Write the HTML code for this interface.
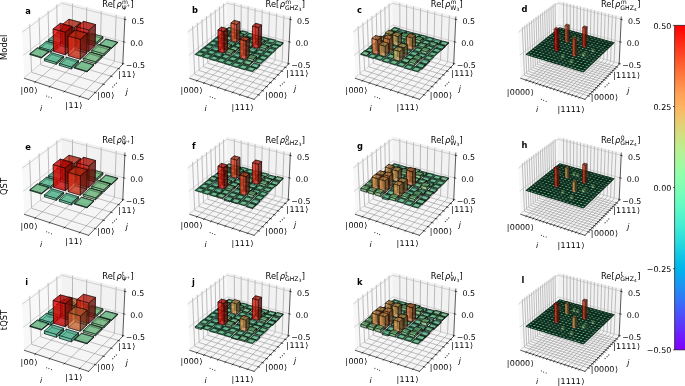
<!DOCTYPE html>
<html><head><meta charset="utf-8"><title>Density matrix tomography</title>
<style>html,body{margin:0;padding:0;background:#fff;overflow:hidden}.b{fill-opacity:0.55;stroke:#000;stroke-opacity:0.9;stroke-linejoin:round}.t,.u{stroke:#0b2a1c;fill-opacity:0.86;stroke-opacity:0.85;stroke-width:1.70}.u{stroke:#082418;stroke-width:1.39;stroke-opacity:0.95;fill-opacity:0.9}.s{stroke-width:1.01}svg{display:block;font-family:"DejaVu Sans","Liberation Sans",sans-serif}</style>
</head><body>
<svg  width="685" height="386" viewBox="0 0 864.00 486.86">
<defs>
<style type="text/css">*{stroke-linejoin: round; stroke-linecap: butt}</style>
</defs>
<g id="figure_1">
<g id="patch_1">
<path d="M 0 486.86 L 864.00 486.86 L 864.00 0 L 0 0 z" style="fill: #ffffff"/>
</g>
<g id="pane3d_1">
<g id="patch_2">
<path d="M 30.76 98.81 L 78.41 58.87 L 77.74 1.26 L 27.81 37.70 " style="fill: #f2f2f2; opacity: 0.5; stroke: #f2f2f2; stroke-linejoin: miter"/>
</g>
</g>
<g id="pane3d_2">
<g id="patch_3">
<path d="M 78.41 58.87 L 154.87 81.09 L 157.60 21.51 L 77.74 1.26 " style="fill: #e6e6e6; opacity: 0.5; stroke: #e6e6e6; stroke-linejoin: miter"/>
</g>
</g>
<g id="pane3d_3">
<g id="patch_4">
<path d="M 30.76 98.81 L 111.81 125.28 L 154.87 81.09 L 78.41 58.87 " style="fill: #ececec; opacity: 0.5; stroke: #ececec; stroke-linejoin: miter"/>
</g>
</g>
<g id="grid3d_1">
<g id="Line3DCollection_1">
<path d="M 44.61 103.33 L 91.52 62.68 L 91.42 4.73 " style="fill: none; stroke: #999999; stroke-width: 0.8"/>
<path d="M 62.81 109.28 L 108.73 67.68 L 109.37 9.28 " style="fill: none; stroke: #999999; stroke-width: 0.8"/>
<path d="M 81.46 115.37 L 126.32 72.79 L 127.74 13.94 " style="fill: none; stroke: #999999; stroke-width: 0.8"/>
<path d="M 100.57 121.61 L 144.30 78.02 L 146.54 18.70 " style="fill: none; stroke: #999999; stroke-width: 0.8"/>
</g>
</g>
<g id="grid3d_2">
<g id="Line3DCollection_2">
<path d="M 37.40 30.71 L 39.87 91.17 L 120.08 116.80 " style="fill: none; stroke: #999999; stroke-width: 0.8"/>
<path d="M 49.27 22.04 L 51.19 81.68 L 130.32 106.28 " style="fill: none; stroke: #999999; stroke-width: 0.8"/>
<path d="M 60.67 13.72 L 62.07 72.56 L 140.15 96.20 " style="fill: none; stroke: #999999; stroke-width: 0.8"/>
<path d="M 71.62 5.73 L 72.54 63.78 L 149.59 86.51 " style="fill: none; stroke: #999999; stroke-width: 0.8"/>
</g>
</g>
<g id="grid3d_3">
<g id="Line3DCollection_3">
<path d="M 154.92 79.95 L 78.39 57.76 L 30.70 97.64 " style="fill: none; stroke: #bdbdbd; stroke-width: 0.8"/>
<path d="M 156.17 52.78 L 78.09 31.47 L 29.36 69.80 " style="fill: none; stroke: #bdbdbd; stroke-width: 0.8"/>
<path d="M 157.46 24.49 L 77.78 4.14 L 27.96 40.77 " style="fill: none; stroke: #bdbdbd; stroke-width: 0.8"/>
</g>
</g>
<g id="axis3d_1">
<g id="line2d_1">
<path d="M 30.76 98.81 L 111.81 125.28 " style="fill: none; stroke: #000000; stroke-width: 0.8; stroke-linecap: square"/>
</g>
<g id="xtick_1">
<g id="line2d_2">
<path d="M 45.01 102.98 L 43.79 104.04 " style="fill: none; stroke: #000000; stroke-width: 0.8; stroke-linecap: square"/>
</g>
</g>
<g id="xtick_2">
<g id="line2d_3">
<path d="M 63.21 108.92 L 62.01 110.01 " style="fill: none; stroke: #000000; stroke-width: 0.8; stroke-linecap: square"/>
</g>
</g>
<g id="xtick_3">
<g id="line2d_4">
<path d="M 81.85 115.00 L 80.67 116.11 " style="fill: none; stroke: #000000; stroke-width: 0.8; stroke-linecap: square"/>
</g>
</g>
<g id="xtick_4">
<g id="line2d_5">
<path d="M 100.95 121.23 L 99.80 122.37 " style="fill: none; stroke: #000000; stroke-width: 0.8; stroke-linecap: square"/>
</g>
</g>
</g>
<g id="axis3d_2">
<g id="line2d_6">
<path d="M 154.87 81.09 L 111.81 125.28 " style="fill: none; stroke: #000000; stroke-width: 0.8; stroke-linecap: square"/>
</g>
<g id="xtick_5">
<g id="line2d_7">
<path d="M 119.40 116.58 L 121.43 117.23 " style="fill: none; stroke: #000000; stroke-width: 0.8; stroke-linecap: square"/>
</g>
</g>
<g id="xtick_6">
<g id="line2d_8">
<path d="M 129.66 106.08 L 131.66 106.70 " style="fill: none; stroke: #000000; stroke-width: 0.8; stroke-linecap: square"/>
</g>
</g>
<g id="xtick_7">
<g id="line2d_9">
<path d="M 139.50 96.00 L 141.47 96.59 " style="fill: none; stroke: #000000; stroke-width: 0.8; stroke-linecap: square"/>
</g>
</g>
<g id="xtick_8">
<g id="line2d_10">
<path d="M 148.95 86.32 L 150.89 86.89 " style="fill: none; stroke: #000000; stroke-width: 0.8; stroke-linecap: square"/>
</g>
</g>
</g>
<g id="axis3d_3">
<g id="line2d_11">
<path d="M 154.87 81.09 L 157.60 21.51 " style="fill: none; stroke: #000000; stroke-width: 0.8; stroke-linecap: square"/>
</g>
<g id="xtick_9">
<g id="line2d_12">
<path d="M 154.28 79.76 L 156.21 80.32 " style="fill: none; stroke: #000000; stroke-width: 0.8; stroke-linecap: square"/>
</g>
<g id="text_1">
<text style="font-size: 10px; font-family: 'DejaVu Sans'; text-anchor: middle" x="170.78" y="85.29">−0.5</text>
</g>
</g>
<g id="xtick_10">
<g id="line2d_13">
<path d="M 155.51 52.60 L 157.48 53.14 " style="fill: none; stroke: #000000; stroke-width: 0.8; stroke-linecap: square"/>
</g>
<g id="text_2">
<text style="font-size: 10px; font-family: 'DejaVu Sans'; text-anchor: middle" x="172.34" y="58.21">0.0</text>
</g>
</g>
<g id="xtick_11">
<g id="line2d_14">
<path d="M 156.79 24.32 L 158.80 24.83 " style="fill: none; stroke: #000000; stroke-width: 0.8; stroke-linecap: square"/>
</g>
<g id="text_3">
<text style="font-size: 10px; font-family: 'DejaVu Sans'; text-anchor: middle" x="173.96" y="30.01">0.5</text>
</g>
</g>
</g>
<g id="axes_1">
<g class="b" stroke-width="0.63"><path d="M80 35 93.9 38.9 93.9 38.2 80 34.4z" fill="#386a49"/><path d="M71.6 41.7 80 35 80 34.4 71.6 41z" fill="#77e19c"/><path d="M71.6 41.7 85.7 45.6 93.9 38.9 80 35z" fill="#48885e"/><path d="M71.6 41 85.7 45 93.9 38.2 80 34.4z" fill="#67c387"/><path d="M97.4 39.8 111.7 43.7 111.7 41.5 97.4 37.6z" fill="#3e6946"/><path d="M85.7 45.6 93.9 38.9 93.9 38.2 85.7 45z" fill="#386a49"/><path d="M89.2 46.6 97.4 39.8 97.4 37.6 89.2 44.4z" fill="#83df95"/><path d="M71.6 41.7 85.7 45.6 85.7 45 71.6 41z" fill="#77e19c"/><path d="M69.5 45.6 83.6 49.6 83.6 47.4 69.5 43.4z" fill="#2c6950"/><path d="M89.2 46.6 103.6 50.7 111.7 43.7 97.4 39.8z" fill="#4f875a"/><path d="M89.2 44.4 103.6 48.5 111.7 41.5 97.4 37.6z" fill="#72c281"/><path d="M60.8 52.5 69.5 45.6 69.5 43.4 60.8 50.3z" fill="#5edfa9"/><path d="M115.3 44.7 129.8 48.7 129.9 46.2 115.3 42.3z" fill="#3f6946"/><path d="M103.6 50.7 111.7 43.7 111.7 41.5 103.6 48.5z" fill="#3e6946"/><path d="M60.8 52.5 75 56.7 83.6 49.6 69.5 45.6z" fill="#398766"/><path d="M107.2 51.7 115.3 44.7 115.3 42.3 107.3 49.2z" fill="#85df94"/><path d="M60.8 50.3 75 54.4 83.6 47.4 69.5 43.4z" fill="#52c293"/><path d="M89.2 46.6 103.6 50.7 103.6 48.5 89.2 44.4z" fill="#83df95"/><path d="M107.2 51.7 122 55.8 129.8 48.7 115.3 44.7z" fill="#508759"/><path d="M75 56.7 83.6 49.6 83.6 47.4 75 54.4z" fill="#2c6950"/><path d="M107.3 49.2 122 53.3 129.9 46.2 115.3 42.3z" fill="#73c280"/><path d="M133.5 49.7 148.4 53.8 148.4 53.2 133.5 49.1z" fill="#386a49"/><path d="M60.8 52.5 75 56.7 75 54.4 60.8 50.3z" fill="#5edfa9"/><path d="M122 55.8 129.8 48.7 129.9 46.2 122 53.3z" fill="#3f6946"/><path d="M125.7 56.9 133.5 49.7 133.5 49.1 125.7 56.2z" fill="#77e19c"/><path d="M58.6 54.3 72.9 58.5 72.8 56.2 58.6 52.1z" fill="#2c6950"/><path d="M78.6 55.5 93.2 59.7 101.6 52.5 87.1 48.4z" fill="#881c0e"/><path d="M107.2 51.7 122 55.8 122 53.3 107.3 49.2z" fill="#85df94"/><path d="M87.1 48.4 101.6 52.5 101.7 28.2 87 24.3z" fill="#6a160b"/><path d="M49.6 61.6 58.6 54.3 58.6 52.1 49.5 59.3z" fill="#5edfa9"/><path d="M125.7 56.9 140.7 61.1 148.4 53.8 133.5 49.7z" fill="#48885e"/><path d="M125.7 56.2 140.8 60.4 148.4 53.2 133.5 49.1z" fill="#67c387"/><path d="M78.6 55.5 87.1 48.4 87 24.3 78.3 31.1z" fill="#e12f18"/><path d="M49.6 61.6 64 65.9 72.9 58.5 58.6 54.3z" fill="#398766"/><path d="M140.7 61.1 148.4 53.8 148.4 53.2 140.8 60.4z" fill="#386a49"/><path d="M49.5 59.3 63.9 63.6 72.8 56.2 58.6 52.1z" fill="#52c293"/><path d="M125.7 56.9 140.7 61.1 140.8 60.4 125.7 56.2z" fill="#77e19c"/><path d="M96.9 60.7 111.8 65.1 120 57.6 105.2 53.5z" fill="#880c06"/><path d="M64 65.9 72.9 58.5 72.8 56.2 63.9 63.6z" fill="#2c6950"/><path d="M105.2 53.5 120 57.6 120.5 30.9 105.4 26.9z" fill="#6a0905"/><path d="M93.2 59.7 101.6 52.5 101.7 28.2 93.2 35.2z" fill="#6a160b"/><path d="M49.6 61.6 64 65.9 63.9 63.6 49.5 59.3z" fill="#5edfa9"/><path d="M123.7 58.7 138.8 63 138.9 60.4 123.8 56.2z" fill="#3f6946"/><path d="M96.9 60.7 105.2 53.5 105.4 26.9 96.9 33.9z" fill="#e1130a"/><path d="M78.6 55.5 93.2 59.7 93.2 35.2 78.3 31.1z" fill="#e12f18"/><path d="M78.3 31.1 93.2 35.2 101.7 28.2 87 24.3z" fill="#c42914"/><path d="M115.6 66.1 123.7 58.7 123.8 56.2 115.6 63.6z" fill="#85df94"/><path d="M67.6 64.7 82.3 69.1 91 61.5 76.4 57.3z" fill="#880302"/><path d="M47.2 61.2 61.6 65.5 61.6 64.6 47.1 60.3z" fill="#386a49"/><path d="M76.4 57.3 91 61.5 91 33.4 76.1 29.4z" fill="#6a0301"/><path d="M115.6 66.1 130.9 70.5 138.8 63 123.7 58.7z" fill="#508759"/><path d="M37.7 68.7 47.2 61.2 47.1 60.3 37.7 67.8z" fill="#77e19c"/><path d="M115.6 63.6 130.9 68 138.9 60.4 123.8 56.2z" fill="#73c280"/><path d="M67.6 64.7 76.4 57.3 76.1 29.4 67 36.5z" fill="#e10603"/><path d="M111.8 65.1 120 57.6 120.5 30.9 112.2 38z" fill="#6a0905"/><path d="M37.7 68.7 52.3 73.1 61.6 65.5 47.2 61.2z" fill="#48885e"/><path d="M130.9 70.5 138.8 63 138.9 60.4 130.9 68z" fill="#3f6946"/><path d="M37.7 67.8 52.3 72.3 61.6 64.6 47.1 60.3z" fill="#67c387"/><path d="M96.9 60.7 111.8 65.1 112.2 38 96.9 33.9z" fill="#e1130a"/><path d="M96.9 33.9 112.2 38 120.5 30.9 105.4 26.9z" fill="#c41108"/><path d="M65.3 68.8 80.1 73.3 80.1 71 65.3 66.6z" fill="#2c6950"/><path d="M86.1 70.2 101.2 74.7 109.7 66.9 94.7 62.6z" fill="#881c0e"/><path d="M115.6 66.1 130.9 70.5 130.9 68 115.6 63.6z" fill="#85df94"/><path d="M94.7 62.6 109.7 66.9 110 42.1 94.8 38z" fill="#6a160b"/><path d="M52.3 73.1 61.6 65.5 61.6 64.6 52.3 72.3z" fill="#386a49"/><path d="M56.1 76.6 65.3 68.8 65.3 66.6 56 74.3z" fill="#5edfa9"/><path d="M82.3 69.1 91 61.5 91 33.4 82.1 40.6z" fill="#6a0301"/><path d="M86.1 70.2 94.7 62.6 94.8 38 85.9 45.3z" fill="#e12f18"/><path d="M113.5 68 128.8 72.5 128.9 70.2 113.5 65.8z" fill="#3e6946"/><path d="M37.7 68.7 52.3 73.1 52.3 72.3 37.7 67.8z" fill="#77e19c"/><path d="M67.6 64.7 82.3 69.1 82.1 40.6 67 36.5z" fill="#e10603"/><path d="M56.1 76.6 71 81.1 80.1 73.3 65.3 68.8z" fill="#398766"/><path d="M105 75.8 113.5 68 113.5 65.8 105 73.5z" fill="#83df95"/><path d="M67 36.5 82.1 40.6 91 33.4 76.1 29.4z" fill="#c40502"/><path d="M56 74.3 71 78.8 80.1 71 65.3 66.6z" fill="#52c293"/><path d="M83.9 74.4 99 78.9 99 76.6 83.8 72.1z" fill="#2c6950"/><path d="M105 75.8 120.5 80.4 128.8 72.5 113.5 68z" fill="#4f875a"/><path d="M71 81.1 80.1 73.3 80.1 71 71 78.8z" fill="#2c6950"/><path d="M105 73.5 120.6 78.1 128.9 70.2 113.5 65.8z" fill="#72c281"/><path d="M101.2 74.7 109.7 66.9 110 42.1 101.3 49.6z" fill="#6a160b"/><path d="M74.8 82.3 83.9 74.4 83.8 72.1 74.8 80z" fill="#5edfa9"/><path d="M56.1 76.6 71 81.1 71 78.8 56 74.3z" fill="#5edfa9"/><path d="M86.1 70.2 101.2 74.7 101.3 49.6 85.9 45.3z" fill="#e12f18"/><path d="M120.5 80.4 128.8 72.5 128.9 70.2 120.6 78.1z" fill="#3e6946"/><path d="M85.9 45.3 101.3 49.6 110 42.1 94.8 38z" fill="#c42914"/><path d="M74.8 82.3 90.1 87 99 78.9 83.9 74.4z" fill="#398766"/><path d="M74.8 80 90.1 84.7 99 76.6 83.8 72.1z" fill="#52c293"/><path d="M105 75.8 120.5 80.4 120.6 78.1 105 73.5z" fill="#83df95"/><path d="M102.9 77.8 118.4 82.4 118.4 81.7 102.9 77.1z" fill="#386a49"/><path d="M90.1 87 99 78.9 99 76.6 90.1 84.7z" fill="#2c6950"/><path d="M74.8 82.3 90.1 87 90.1 84.7 74.8 80z" fill="#5edfa9"/><path d="M94 85.9 102.9 77.8 102.9 77.1 94 85.2z" fill="#77e19c"/><path d="M94 85.9 109.8 90.7 118.4 82.4 102.9 77.8z" fill="#48885e"/><path d="M94 85.2 109.8 90 118.4 81.7 102.9 77.1z" fill="#67c387"/><path d="M109.8 90.7 118.4 82.4 118.4 81.7 109.8 90z" fill="#386a49"/><path d="M94 85.9 109.8 90.7 109.8 90 94 85.2z" fill="#77e19c"/></g>
</g>
<g id="pane3d_4">
<g id="patch_5">
<path d="M 239.44 98.81 L 287.09 58.87 L 286.43 1.26 L 236.50 37.70 " style="fill: #f2f2f2; opacity: 0.5; stroke: #f2f2f2; stroke-linejoin: miter"/>
</g>
</g>
<g id="pane3d_5">
<g id="patch_6">
<path d="M 287.09 58.87 L 363.56 81.09 L 366.28 21.51 L 286.43 1.26 " style="fill: #e6e6e6; opacity: 0.5; stroke: #e6e6e6; stroke-linejoin: miter"/>
</g>
</g>
<g id="pane3d_6">
<g id="patch_7">
<path d="M 239.44 98.81 L 320.50 125.28 L 363.56 81.09 L 287.09 58.87 " style="fill: #ececec; opacity: 0.5; stroke: #ececec; stroke-linejoin: miter"/>
</g>
</g>
<g id="grid3d_4">
<g id="Line3DCollection_4">
<path d="M 248.69 101.83 L 295.85 61.41 L 295.56 3.58 " style="fill: none; stroke: #999999; stroke-width: 0.8"/>
<path d="M 257.45 104.69 L 304.14 63.82 L 304.21 5.77 " style="fill: none; stroke: #999999; stroke-width: 0.8"/>
<path d="M 266.32 107.59 L 312.52 66.26 L 312.95 7.99 " style="fill: none; stroke: #999999; stroke-width: 0.8"/>
<path d="M 275.28 110.52 L 320.99 68.72 L 321.79 10.23 " style="fill: none; stroke: #999999; stroke-width: 0.8"/>
<path d="M 284.36 113.48 L 329.55 71.21 L 330.73 12.49 " style="fill: none; stroke: #999999; stroke-width: 0.8"/>
<path d="M 293.54 116.48 L 338.20 73.72 L 339.77 14.78 " style="fill: none; stroke: #999999; stroke-width: 0.8"/>
<path d="M 302.83 119.51 L 346.95 76.27 L 348.91 17.10 " style="fill: none; stroke: #999999; stroke-width: 0.8"/>
<path d="M 312.23 122.58 L 355.79 78.84 L 358.16 19.45 " style="fill: none; stroke: #999999; stroke-width: 0.8"/>
</g>
</g>
<g id="grid3d_5">
<g id="Line3DCollection_5">
<path d="M 242.95 32.99 L 245.58 93.66 L 326.07 119.57 " style="fill: none; stroke: #999999; stroke-width: 0.8"/>
<path d="M 248.87 28.68 L 251.21 88.95 L 331.17 114.33 " style="fill: none; stroke: #999999; stroke-width: 0.8"/>
<path d="M 254.66 24.45 L 256.73 84.32 L 336.16 109.20 " style="fill: none; stroke: #999999; stroke-width: 0.8"/>
<path d="M 260.34 20.31 L 262.15 79.78 L 341.06 104.18 " style="fill: none; stroke: #999999; stroke-width: 0.8"/>
<path d="M 265.90 16.25 L 267.46 75.33 L 345.86 99.26 " style="fill: none; stroke: #999999; stroke-width: 0.8"/>
<path d="M 271.36 12.26 L 272.67 70.96 L 350.56 94.43 " style="fill: none; stroke: #999999; stroke-width: 0.8"/>
<path d="M 276.71 8.36 L 277.78 66.67 L 355.17 89.69 " style="fill: none; stroke: #999999; stroke-width: 0.8"/>
<path d="M 281.95 4.53 L 282.81 62.46 L 359.70 85.05 " style="fill: none; stroke: #999999; stroke-width: 0.8"/>
</g>
</g>
<g id="grid3d_6">
<g id="Line3DCollection_6">
<path d="M 363.61 79.95 L 287.08 57.76 L 239.39 97.64 " style="fill: none; stroke: #bdbdbd; stroke-width: 0.8"/>
<path d="M 364.85 52.78 L 286.78 31.47 L 238.04 69.80 " style="fill: none; stroke: #bdbdbd; stroke-width: 0.8"/>
<path d="M 366.15 24.49 L 286.46 4.14 L 236.65 40.77 " style="fill: none; stroke: #bdbdbd; stroke-width: 0.8"/>
</g>
</g>
<g id="axis3d_4">
<g id="line2d_15">
<path d="M 239.44 98.81 L 320.50 125.28 " style="fill: none; stroke: #000000; stroke-width: 0.8; stroke-linecap: square"/>
</g>
<g id="xtick_12">
<g id="line2d_16">
<path d="M 249.10 101.48 L 247.87 102.54 " style="fill: none; stroke: #000000; stroke-width: 0.8; stroke-linecap: square"/>
</g>
</g>
<g id="xtick_13">
<g id="line2d_17">
<path d="M 257.86 104.34 L 256.64 105.41 " style="fill: none; stroke: #000000; stroke-width: 0.8; stroke-linecap: square"/>
</g>
</g>
<g id="xtick_14">
<g id="line2d_18">
<path d="M 266.72 107.23 L 265.51 108.31 " style="fill: none; stroke: #000000; stroke-width: 0.8; stroke-linecap: square"/>
</g>
</g>
<g id="xtick_15">
<g id="line2d_19">
<path d="M 275.68 110.15 L 274.48 111.25 " style="fill: none; stroke: #000000; stroke-width: 0.8; stroke-linecap: square"/>
</g>
</g>
<g id="xtick_16">
<g id="line2d_20">
<path d="M 284.75 113.11 L 283.57 114.22 " style="fill: none; stroke: #000000; stroke-width: 0.8; stroke-linecap: square"/>
</g>
</g>
<g id="xtick_17">
<g id="line2d_21">
<path d="M 293.93 116.11 L 292.76 117.23 " style="fill: none; stroke: #000000; stroke-width: 0.8; stroke-linecap: square"/>
</g>
</g>
<g id="xtick_18">
<g id="line2d_22">
<path d="M 303.22 119.14 L 302.06 120.27 " style="fill: none; stroke: #000000; stroke-width: 0.8; stroke-linecap: square"/>
</g>
</g>
<g id="xtick_19">
<g id="line2d_23">
<path d="M 312.61 122.20 L 311.47 123.35 " style="fill: none; stroke: #000000; stroke-width: 0.8; stroke-linecap: square"/>
</g>
</g>
</g>
<g id="axis3d_5">
<g id="line2d_24">
<path d="M 363.56 81.09 L 320.50 125.28 " style="fill: none; stroke: #000000; stroke-width: 0.8; stroke-linecap: square"/>
</g>
<g id="xtick_20">
<g id="line2d_25">
<path d="M 325.39 119.35 L 327.42 120.00 " style="fill: none; stroke: #000000; stroke-width: 0.8; stroke-linecap: square"/>
</g>
</g>
<g id="xtick_21">
<g id="line2d_26">
<path d="M 330.49 114.12 L 332.51 114.76 " style="fill: none; stroke: #000000; stroke-width: 0.8; stroke-linecap: square"/>
</g>
</g>
<g id="xtick_22">
<g id="line2d_27">
<path d="M 335.49 108.99 L 337.50 109.62 " style="fill: none; stroke: #000000; stroke-width: 0.8; stroke-linecap: square"/>
</g>
</g>
<g id="xtick_23">
<g id="line2d_28">
<path d="M 340.40 103.97 L 342.39 104.59 " style="fill: none; stroke: #000000; stroke-width: 0.8; stroke-linecap: square"/>
</g>
</g>
<g id="xtick_24">
<g id="line2d_29">
<path d="M 345.20 99.05 L 347.18 99.66 " style="fill: none; stroke: #000000; stroke-width: 0.8; stroke-linecap: square"/>
</g>
</g>
<g id="xtick_25">
<g id="line2d_30">
<path d="M 349.91 94.23 L 351.87 94.82 " style="fill: none; stroke: #000000; stroke-width: 0.8; stroke-linecap: square"/>
</g>
</g>
<g id="xtick_26">
<g id="line2d_31">
<path d="M 354.52 89.50 L 356.48 90.08 " style="fill: none; stroke: #000000; stroke-width: 0.8; stroke-linecap: square"/>
</g>
</g>
<g id="xtick_27">
<g id="line2d_32">
<path d="M 359.05 84.86 L 360.99 85.43 " style="fill: none; stroke: #000000; stroke-width: 0.8; stroke-linecap: square"/>
</g>
</g>
</g>
<g id="axis3d_6">
<g id="line2d_33">
<path d="M 363.56 81.09 L 366.28 21.51 " style="fill: none; stroke: #000000; stroke-width: 0.8; stroke-linecap: square"/>
</g>
<g id="xtick_28">
<g id="line2d_34">
<path d="M 362.97 79.76 L 364.89 80.32 " style="fill: none; stroke: #000000; stroke-width: 0.8; stroke-linecap: square"/>
</g>
<g id="text_4">
<text style="font-size: 10px; font-family: 'DejaVu Sans'; text-anchor: middle" x="379.46" y="85.29">−0.5</text>
</g>
</g>
<g id="xtick_29">
<g id="line2d_35">
<path d="M 364.20 52.60 L 366.17 53.14 " style="fill: none; stroke: #000000; stroke-width: 0.8; stroke-linecap: square"/>
</g>
<g id="text_5">
<text style="font-size: 10px; font-family: 'DejaVu Sans'; text-anchor: middle" x="381.02" y="58.21">0.0</text>
</g>
</g>
<g id="xtick_30">
<g id="line2d_36">
<path d="M 365.48 24.32 L 367.49 24.83 " style="fill: none; stroke: #000000; stroke-width: 0.8; stroke-linecap: square"/>
</g>
<g id="text_6">
<text style="font-size: 10px; font-family: 'DejaVu Sans'; text-anchor: middle" x="382.65" y="30.01">0.5</text>
</g>
</g>
</g>
<g id="axes_2">
<g class="b" stroke-width="0.63"><path d="M284.6 37.8 291.4 39.7 295.4 36.4 288.7 34.6z" fill="#5cb17b" class="t"/><path d="M297.1 38.4 303.9 40.3 303.9 39.2 297.1 37.4z" fill="#316a4e"/><path d="M293.1 41.7 297.1 38.4 297.1 37.4 293.1 40.6z" fill="#67e1a5"/><path d="M293.1 41.7 300 43.6 303.9 40.3 297.1 38.4z" fill="#3e8863"/><path d="M293.1 40.6 300 42.5 303.9 39.2 297.1 37.4z" fill="#59c38f"/><path d="M300 43.6 303.9 40.3 303.9 39.2 300 42.5z" fill="#316a4e"/><path d="M293.1 41.7 300 43.6 300 42.5 293.1 40.6z" fill="#67e1a5"/><path d="M279.5 42.4 286.3 44.3 290.4 41 283.6 39.1z" fill="#56b17e" class="t"/><path d="M301.7 42.3 308.6 44.3 312.6 40.9 305.7 39.1z" fill="#5db17a" class="t"/><path d="M292.1 41.4 299 43.3 299 42.6 292.1 40.7z" fill="#386a49"/><path d="M288 44.8 292.1 41.4 292.1 40.7 288 44z" fill="#77e19c"/><path d="M288 44.8 294.9 46.7 299 43.3 292.1 41.4z" fill="#48885e"/><path d="M288 44 294.9 45.9 299 42.6 292.1 40.7z" fill="#67c387"/><path d="M310.4 45.4 317.4 47.4 321.3 44 314.3 42.1z" fill="#55b17f" class="t"/><path d="M294.9 46.7 299 43.3 299 42.6 294.9 45.9z" fill="#386a49"/><path d="M300.7 43.8 307.6 45.8 307.6 43 300.7 41.1z" fill="#406945"/><path d="M274.2 46.5 281.1 48.5 285.3 45.1 278.4 43.2z" fill="#56b17e" class="t"/><path d="M288 44.8 294.9 46.7 294.9 45.9 288 44z" fill="#77e19c"/><path d="M296.7 47.2 300.7 43.8 300.7 41.1 296.6 44.4z" fill="#87df93"/><path d="M296.7 47.2 303.6 49.1 307.6 45.8 300.7 43.8z" fill="#518658"/><path d="M309.4 47.3 316.4 49.2 316.4 48.2 309.4 46.2z" fill="#316a4d"/><path d="M319.1 47.8 326.2 49.8 330.1 46.4 323 44.4z" fill="#59b17d" class="t"/><path d="M296.6 44.4 303.6 46.4 307.6 43 300.7 41.1z" fill="#75c17f"/><path d="M305.4 50.7 309.4 47.3 309.4 46.2 305.4 49.6z" fill="#69e1a4"/><path d="M303.6 49.1 307.6 45.8 307.6 43 303.6 46.4z" fill="#406945"/><path d="M282.8 49 289.8 51 293.9 47.5 287 45.6z" fill="#56b17e" class="t"/><path d="M305.4 50.7 312.4 52.7 316.4 49.2 309.4 47.3z" fill="#3f8863"/><path d="M296.7 47.2 303.6 49.1 303.6 46.4 296.6 44.4z" fill="#87df93"/><path d="M305.4 49.6 312.4 51.6 316.4 48.2 309.4 46.2z" fill="#5bc38e"/><path d="M328 50.3 335.2 52.3 339 48.9 331.8 46.9z" fill="#58b17e" class="t"/><path d="M312.4 52.7 316.4 49.2 316.4 48.2 312.4 51.6z" fill="#316a4d"/><path d="M268.9 50.8 275.8 52.8 280.1 49.3 273.2 47.4z" fill="#55b17f" class="t"/><path d="M305.4 50.7 312.4 52.7 312.4 51.6 305.4 49.6z" fill="#69e1a4"/><path d="M291.5 51.5 298.5 53.5 302.6 50 295.6 48z" fill="#882915"/><path d="M314.2 52.1 321.3 54.1 325.3 50.7 318.2 48.7z" fill="#58b17e" class="t"/><path d="M337 52.5 344.2 54.5 348 51 340.8 49z" fill="#5bb17c" class="t"/><path d="M327 51.2 334.2 53.2 334.3 50.9 327.1 48.9z" fill="#3e6946"/><path d="M277.5 53.3 284.5 55.3 288.7 51.8 281.8 49.8z" fill="#56b17e" class="t"/><path d="M295.6 48 302.6 50 302.6 27.6 295.5 25.7z" fill="#6a2010"/><path d="M349.7 52.7 357 54.8 357.1 53.8 349.8 51.8z" fill="#316a4d"/><path d="M290.5 54 297.5 56 297.5 54.3 290.5 52.3z" fill="#2f6a4f"/><path d="M300.3 53.9 307.4 55.9 311.4 52.4 304.4 50.4z" fill="#59b17d" class="t"/><path d="M323.1 54.6 327 51.2 327.1 48.9 323.2 52.4z" fill="#83df95"/><path d="M291.5 51.5 295.6 48 295.5 25.7 291.3 29z" fill="#e14423"/><path d="M346 56.2 349.7 52.7 349.8 51.8 346 55.3z" fill="#69e1a4"/><path d="M313.2 54.7 320.3 56.7 320.4 55 313.2 53z" fill="#2f6a4f"/><path d="M286.3 57.5 290.5 54 290.5 52.3 286.3 55.8z" fill="#63e0a6"/><path d="M323.1 54.6 330.4 56.7 334.2 53.2 327 51.2z" fill="#4f875a"/><path d="M346 56.2 353.3 58.3 357 54.8 349.7 52.7z" fill="#3f8863"/><path d="M263.4 55.1 270.4 57.2 274.7 53.7 267.8 51.7z" fill="#56b17e" class="t"/><path d="M309.2 58.2 313.2 54.7 313.2 53 309.2 56.5z" fill="#63e0a6"/><path d="M286.3 57.5 293.4 59.5 297.5 56 290.5 54z" fill="#3c8765"/><path d="M346 55.3 353.4 57.3 357.1 53.8 349.8 51.8z" fill="#5bc38e"/><path d="M323.2 52.4 330.4 54.4 334.3 50.9 327.1 48.9z" fill="#72c281"/><path d="M286.3 55.8 293.3 57.9 297.5 54.3 290.5 52.3z" fill="#56c390"/><path d="M309.2 58.2 316.4 60.2 320.3 56.7 313.2 54.7z" fill="#3c8765"/><path d="M330.4 56.7 334.2 53.2 334.3 50.9 330.4 54.4z" fill="#3e6946"/><path d="M298.5 53.5 302.6 50 302.6 27.6 298.5 30.9z" fill="#6a2010"/><path d="M353.3 58.3 357 54.8 357.1 53.8 353.4 57.3z" fill="#316a4d"/><path d="M309.2 56.5 316.4 58.5 320.4 55 313.2 53z" fill="#56c390"/><path d="M293.4 59.5 297.5 56 297.5 54.3 293.3 57.9z" fill="#2f6a4f"/><path d="M323.1 54.6 330.4 56.7 330.4 54.4 323.2 52.4z" fill="#83df95"/><path d="M291.5 51.5 298.5 53.5 298.5 30.9 291.3 29z" fill="#e14423"/><path d="M346 56.2 353.3 58.3 353.4 57.3 346 55.3z" fill="#69e1a4"/><path d="M332.2 57.2 339.5 59.2 343.3 55.7 336 53.7z" fill="#58b17e" class="t"/><path d="M316.4 60.2 320.3 56.7 320.4 55 316.4 58.5z" fill="#2f6a4f"/><path d="M286.3 57.5 293.4 59.5 293.3 57.9 286.3 55.8z" fill="#63e0a6"/><path d="M272.1 57.6 279.2 59.7 283.5 56.1 276.5 54.1z" fill="#59b17d" class="t"/><path d="M309.2 58.2 316.4 60.2 316.4 58.5 309.2 56.5z" fill="#63e0a6"/><path d="M295.1 58.4 302.3 60.4 306.4 56.9 299.3 54.8z" fill="#56b17e" class="t"/><path d="M291.3 29 298.5 30.9 302.6 27.6 295.5 25.7z" fill="#c43b1e"/><path d="M285.2 56.7 292.3 58.7 292.3 56.5 285.2 54.5z" fill="#3e6946"/><path d="M318.2 59.1 325.4 61.1 329.4 57.6 322.2 55.5z" fill="#881108"/><path d="M257.9 59.6 264.9 61.6 269.3 58.1 262.3 56z" fill="#55b17f" class="t"/><path d="M280.9 60.3 285.2 56.7 285.2 54.5 280.9 58z" fill="#83df95"/><path d="M341.3 59.4 348.7 61.5 352.5 57.9 345.1 55.9z" fill="#5bb17c" class="t"/><path d="M271.1 60.2 278.1 62.3 278.1 60.6 271 58.6z" fill="#2f6a4f"/><path d="M331.2 58.1 338.5 60.1 338.6 57.9 331.2 55.8z" fill="#3e6946"/><path d="M280.9 60.3 288 62.3 292.3 58.7 285.2 56.7z" fill="#4f875a"/><path d="M266.7 63.8 271.1 60.2 271 58.6 266.6 62.2z" fill="#63e0a6"/><path d="M304.1 60.9 311.3 63 315.4 59.4 308.2 57.4z" fill="#58b17e" class="t"/><path d="M327.3 61.6 331.2 58.1 331.2 55.8 327.3 59.4z" fill="#83df95"/><path d="M280.9 58 288 60.1 292.3 56.5 285.2 54.5z" fill="#72c281"/><path d="M294.1 59.3 301.2 61.3 301.2 60.2 294.1 58.1z" fill="#3a6a49"/><path d="M317.2 61.6 324.4 63.7 324.4 62 317.2 59.9z" fill="#2f6a4f"/><path d="M322.2 55.5 329.4 57.6 329.9 31.4 322.5 29.4z" fill="#6a0d07"/><path d="M266.7 63.8 273.7 65.9 278.1 62.3 271.1 60.2z" fill="#3c8765"/><path d="M327.3 61.6 334.6 63.7 338.5 60.1 331.2 58.1z" fill="#4f875a"/><path d="M288 62.3 292.3 58.7 292.3 56.5 288 60.1z" fill="#3e6946"/><path d="M289.8 62.9 294.1 59.3 294.1 58.1 289.8 61.7z" fill="#7ae19a"/><path d="M266.6 62.2 273.7 64.3 278.1 60.6 271 58.6z" fill="#56c390"/><path d="M313.1 65.2 317.2 61.6 317.2 59.9 313.1 63.6z" fill="#63e0a6"/><path d="M318.2 59.1 322.2 55.5 322.5 29.4 318.5 32.8z" fill="#e11c0e"/><path d="M327.3 59.4 334.7 61.5 338.6 57.9 331.2 55.8z" fill="#72c281"/><path d="M280.9 60.3 288 62.3 288 60.1 280.9 58z" fill="#83df95"/><path d="M289.8 62.9 297 65 301.2 61.3 294.1 59.3z" fill="#4a885d"/><path d="M273.7 65.9 278.1 62.3 278.1 60.6 273.7 64.3z" fill="#2f6a4f"/><path d="M313.1 65.2 320.4 67.4 324.4 63.7 317.2 61.6z" fill="#3c8765"/><path d="M334.6 63.7 338.5 60.1 338.6 57.9 334.7 61.5z" fill="#3e6946"/><path d="M289.8 61.7 297 63.8 301.2 60.2 294.1 58.1z" fill="#6ac385"/><path d="M313.1 63.6 320.4 65.7 324.4 62 317.2 59.9z" fill="#56c390"/><path d="M266.7 63.8 273.7 65.9 273.7 64.3 266.6 62.2z" fill="#63e0a6"/><path d="M327.3 61.6 334.6 63.7 334.7 61.5 327.3 59.4z" fill="#83df95"/><path d="M252.2 64.1 259.2 66.2 263.8 62.5 256.7 60.5z" fill="#58b17e" class="t"/><path d="M297 65 301.2 61.3 301.2 60.2 297 63.8z" fill="#3a6a49"/><path d="M336.5 64.3 343.9 66.4 347.7 62.7 340.3 60.6z" fill="#58b17e" class="t"/><path d="M320.4 67.4 324.4 63.7 324.4 62 320.4 65.7z" fill="#2f6a4f"/><path d="M325.4 61.1 329.4 57.6 329.9 31.4 325.9 34.8z" fill="#6a0d07"/><path d="M275.5 64.8 282.6 66.9 287 63.2 279.9 61.2z" fill="#880c06"/><path d="M289.8 62.9 297 65 297 63.8 289.8 61.7z" fill="#7ae19a"/><path d="M313.1 65.2 320.4 67.4 320.4 65.7 313.1 63.6z" fill="#63e0a6"/><path d="M318.2 59.1 325.4 61.1 325.9 34.8 318.5 32.8z" fill="#e11c0e"/><path d="M298.8 65.5 306.1 67.6 310.3 63.9 303 61.9z" fill="#56b17e" class="t"/><path d="M288.8 63.8 296 65.9 296 63.6 288.7 61.5z" fill="#3e6946"/><path d="M322.3 66.2 329.7 68.3 333.6 64.7 326.3 62.6z" fill="#58b17e" class="t"/><path d="M261 66.7 268.1 68.9 272.6 65.2 265.5 63.1z" fill="#55b17f" class="t"/><path d="M284.4 67.4 288.8 63.8 288.7 61.5 284.4 65.2z" fill="#83df95"/><path d="M274.4 67.4 281.6 69.5 281.5 67.8 274.4 65.7z" fill="#2f6a4f"/><path d="M284.4 67.4 291.7 69.6 296 65.9 288.8 63.8z" fill="#4f875a"/><path d="M279.9 61.2 287 63.2 286.7 36.2 279.4 34.2z" fill="#6a0905"/><path d="M318.5 32.8 325.9 34.8 329.9 31.4 322.5 29.4z" fill="#c4180c"/><path d="M297.8 68.1 305.1 70.3 305.1 68.6 297.8 66.4z" fill="#2f6a4f"/><path d="M270 71.1 274.4 67.4 274.4 65.7 269.9 69.4z" fill="#63e0a6"/><path d="M307.9 68.1 315.3 70.2 319.4 66.5 312.1 64.4z" fill="#59b17d" class="t"/><path d="M284.4 65.2 291.7 67.3 296 63.6 288.7 61.5z" fill="#72c281"/><path d="M275.5 64.8 279.9 61.2 279.4 34.2 274.9 37.7z" fill="#e1130a"/><path d="M246.4 68.7 253.5 70.8 258.1 67.1 251.1 65z" fill="#59b17d" class="t"/><path d="M293.5 71.8 297.8 68.1 297.8 66.4 293.5 70.1z" fill="#63e0a6"/><path d="M321.2 68.2 328.6 70.4 328.7 69.3 321.3 67.1z" fill="#316a4d"/><path d="M270 71.1 277.2 73.3 281.6 69.5 274.4 67.4z" fill="#3c8765"/><path d="M331.5 68.8 339 71 342.9 67.3 335.5 65.1z" fill="#59b17d" class="t"/><path d="M291.7 69.6 296 65.9 296 63.6 291.7 67.3z" fill="#3e6946"/><path d="M269.9 69.4 277.1 71.6 281.5 67.8 274.4 65.7z" fill="#56c390"/><path d="M293.5 71.8 300.8 74 305.1 70.3 297.8 68.1z" fill="#3c8765"/><path d="M317.2 71.9 321.2 68.2 321.3 67.1 317.2 70.9z" fill="#69e1a4"/><path d="M284.4 67.4 291.7 69.6 291.7 67.3 284.4 65.2z" fill="#83df95"/><path d="M293.5 70.1 300.8 72.3 305.1 68.6 297.8 66.4z" fill="#56c390"/><path d="M277.2 73.3 281.6 69.5 281.5 67.8 277.1 71.6z" fill="#2f6a4f"/><path d="M282.6 66.9 287 63.2 286.7 36.2 282.2 39.8z" fill="#6a0905"/><path d="M317.2 71.9 324.6 74.1 328.6 70.4 321.2 68.2z" fill="#3f8863"/><path d="M317.2 70.9 324.6 73 328.7 69.3 321.3 67.1z" fill="#5bc38e"/><path d="M300.8 74 305.1 70.3 305.1 68.6 300.8 72.3z" fill="#2f6a4f"/><path d="M270 71.1 277.2 73.3 277.1 71.6 269.9 69.4z" fill="#63e0a6"/><path d="M275.5 64.8 282.6 66.9 282.2 39.8 274.9 37.7z" fill="#e1130a"/><path d="M255.3 71.4 262.4 73.6 267 69.8 259.9 67.7z" fill="#58b17e" class="t"/><path d="M293.5 71.8 300.8 74 300.8 72.3 293.5 70.1z" fill="#63e0a6"/><path d="M324.6 74.1 328.6 70.4 328.7 69.3 324.6 73z" fill="#316a4d"/><path d="M278.9 72.1 286.2 74.2 290.6 70.5 283.3 68.3z" fill="#59b17d" class="t"/><path d="M317.2 71.9 324.6 74.1 324.6 73 317.2 70.9z" fill="#69e1a4"/><path d="M302.7 72.9 310.1 75.1 314.3 71.3 306.9 69.1z" fill="#882915"/><path d="M326.5 73.6 334 75.8 338 72 330.5 69.8z" fill="#55b17f" class="t"/><path d="M274.9 37.7 282.2 39.8 286.7 36.2 279.4 34.2z" fill="#c41108"/><path d="M264.2 74.1 271.5 76.3 276 72.5 268.8 70.3z" fill="#55b17f" class="t"/><path d="M316.1 71.8 323.6 74 323.6 71.1 316.2 68.9z" fill="#406945"/><path d="M288.1 74.9 295.4 77.1 299.8 73.3 292.4 71.1z" fill="#56b17e" class="t"/><path d="M306.9 69.1 314.3 71.3 314.5 48.1 307 46z" fill="#6a2010"/><path d="M312 75.6 316.1 71.8 316.2 68.9 312 72.7z" fill="#87df93"/><path d="M312 75.6 319.5 77.8 323.6 74 316.1 71.8z" fill="#518658"/><path d="M302.7 72.9 306.9 69.1 307 46 302.7 49.6z" fill="#e14423"/><path d="M312 72.7 319.5 75 323.6 71.1 316.2 68.9z" fill="#75c17f"/><path d="M273.3 76.9 280.7 79.1 285.1 75.3 277.8 73.1z" fill="#56b17e" class="t"/><path d="M319.5 77.8 323.6 74 323.6 71.1 319.5 75z" fill="#406945"/><path d="M297.3 77.6 304.8 79.9 309 76 301.6 73.8z" fill="#56b17e" class="t"/><path d="M310.1 75.1 314.3 71.3 314.5 48.1 310.2 51.7z" fill="#6a2010"/><path d="M312 75.6 319.5 77.8 319.5 75 312 72.7z" fill="#87df93"/><path d="M310.9 76.6 318.4 78.8 318.4 78 310.9 75.8z" fill="#386a49"/><path d="M321.4 77.7 329 80 333 76.1 325.5 73.9z" fill="#5db17a" class="t"/><path d="M302.7 72.9 310.1 75.1 310.2 51.7 302.7 49.6z" fill="#e14423"/><path d="M306.6 80.5 310.9 76.6 310.9 75.8 306.6 79.7z" fill="#77e19c"/><path d="M282.5 79.7 289.9 82 294.3 78.1 287 75.8z" fill="#55b17f" class="t"/><path d="M306.6 80.5 314.2 82.7 318.4 78.8 310.9 76.6z" fill="#48885e"/><path d="M306.6 79.7 314.2 81.9 318.4 78 310.9 75.8z" fill="#67c387"/><path d="M302.7 49.6 310.2 51.7 314.5 48.1 307 46z" fill="#c43b1e"/><path d="M320.3 80.5 327.9 82.8 327.9 81.6 320.3 79.4z" fill="#316a4e"/><path d="M314.2 82.7 318.4 78.8 318.4 78 314.2 81.9z" fill="#386a49"/><path d="M316.1 84.5 320.3 80.5 320.3 79.4 316.1 83.3z" fill="#67e1a5"/><path d="M291.8 82.5 299.3 84.8 303.7 80.9 296.2 78.6z" fill="#56b17e" class="t"/><path d="M306.6 80.5 314.2 82.7 314.2 81.9 306.6 79.7z" fill="#77e19c"/><path d="M316.1 84.5 323.7 86.8 327.9 82.8 320.3 80.5z" fill="#3e8863"/><path d="M316.1 83.3 323.7 85.6 327.9 81.6 320.3 79.4z" fill="#59c38f"/><path d="M323.7 86.8 327.9 82.8 327.9 81.6 323.7 85.6z" fill="#316a4e"/><path d="M316.1 84.5 323.7 86.8 323.7 85.6 316.1 83.3z" fill="#67e1a5"/><path d="M301.2 85.4 308.8 87.7 313.1 83.7 305.6 81.4z" fill="#56b17e" class="t"/><path d="M310.7 87.8 318.4 90.1 322.7 86.1 315 83.8z" fill="#5cb17b" class="t"/></g>
</g>
<g id="pane3d_7">
<g id="patch_8">
<path d="M 448.13 98.81 L 495.78 58.87 L 495.12 1.26 L 445.18 37.70 " style="fill: #f2f2f2; opacity: 0.5; stroke: #f2f2f2; stroke-linejoin: miter"/>
</g>
</g>
<g id="pane3d_8">
<g id="patch_9">
<path d="M 495.78 58.87 L 572.24 81.09 L 574.97 21.51 L 495.12 1.26 " style="fill: #e6e6e6; opacity: 0.5; stroke: #e6e6e6; stroke-linejoin: miter"/>
</g>
</g>
<g id="pane3d_9">
<g id="patch_10">
<path d="M 448.13 98.81 L 529.18 125.28 L 572.24 81.09 L 495.78 58.87 " style="fill: #ececec; opacity: 0.5; stroke: #ececec; stroke-linejoin: miter"/>
</g>
</g>
<g id="grid3d_7">
<g id="Line3DCollection_7">
<path d="M 457.38 101.83 L 504.54 61.41 L 504.25 3.58 " style="fill: none; stroke: #999999; stroke-width: 0.8"/>
<path d="M 466.14 104.69 L 512.83 63.82 L 512.89 5.77 " style="fill: none; stroke: #999999; stroke-width: 0.8"/>
<path d="M 475.00 107.59 L 521.21 66.26 L 521.63 7.99 " style="fill: none; stroke: #999999; stroke-width: 0.8"/>
<path d="M 483.97 110.52 L 529.67 68.72 L 530.47 10.23 " style="fill: none; stroke: #999999; stroke-width: 0.8"/>
<path d="M 493.04 113.48 L 538.23 71.21 L 539.41 12.49 " style="fill: none; stroke: #999999; stroke-width: 0.8"/>
<path d="M 502.22 116.48 L 546.89 73.72 L 548.45 14.78 " style="fill: none; stroke: #999999; stroke-width: 0.8"/>
<path d="M 511.52 119.51 L 555.63 76.27 L 557.60 17.10 " style="fill: none; stroke: #999999; stroke-width: 0.8"/>
<path d="M 520.92 122.58 L 564.48 78.84 L 566.85 19.45 " style="fill: none; stroke: #999999; stroke-width: 0.8"/>
</g>
</g>
<g id="grid3d_8">
<g id="Line3DCollection_8">
<path d="M 451.64 32.99 L 454.27 93.66 L 534.75 119.57 " style="fill: none; stroke: #999999; stroke-width: 0.8"/>
<path d="M 457.55 28.68 L 459.90 88.95 L 539.85 114.33 " style="fill: none; stroke: #999999; stroke-width: 0.8"/>
<path d="M 463.34 24.45 L 465.42 84.32 L 544.85 109.20 " style="fill: none; stroke: #999999; stroke-width: 0.8"/>
<path d="M 469.02 20.31 L 470.83 79.78 L 549.74 104.18 " style="fill: none; stroke: #999999; stroke-width: 0.8"/>
<path d="M 474.59 16.25 L 476.14 75.33 L 554.54 99.26 " style="fill: none; stroke: #999999; stroke-width: 0.8"/>
<path d="M 480.04 12.26 L 481.35 70.96 L 559.25 94.43 " style="fill: none; stroke: #999999; stroke-width: 0.8"/>
<path d="M 485.39 8.36 L 486.47 66.67 L 563.86 89.69 " style="fill: none; stroke: #999999; stroke-width: 0.8"/>
<path d="M 490.64 4.53 L 491.49 62.46 L 568.38 85.05 " style="fill: none; stroke: #999999; stroke-width: 0.8"/>
</g>
</g>
<g id="grid3d_9">
<g id="Line3DCollection_9">
<path d="M 572.29 79.95 L 495.77 57.76 L 448.07 97.64 " style="fill: none; stroke: #bdbdbd; stroke-width: 0.8"/>
<path d="M 573.54 52.78 L 495.46 31.47 L 446.73 69.80 " style="fill: none; stroke: #bdbdbd; stroke-width: 0.8"/>
<path d="M 574.83 24.49 L 495.15 4.14 L 445.33 40.77 " style="fill: none; stroke: #bdbdbd; stroke-width: 0.8"/>
</g>
</g>
<g id="axis3d_7">
<g id="line2d_37">
<path d="M 448.13 98.81 L 529.18 125.28 " style="fill: none; stroke: #000000; stroke-width: 0.8; stroke-linecap: square"/>
</g>
<g id="xtick_31">
<g id="line2d_38">
<path d="M 457.79 101.48 L 456.56 102.54 " style="fill: none; stroke: #000000; stroke-width: 0.8; stroke-linecap: square"/>
</g>
</g>
<g id="xtick_32">
<g id="line2d_39">
<path d="M 466.55 104.34 L 465.32 105.41 " style="fill: none; stroke: #000000; stroke-width: 0.8; stroke-linecap: square"/>
</g>
</g>
<g id="xtick_33">
<g id="line2d_40">
<path d="M 475.40 107.23 L 474.19 108.31 " style="fill: none; stroke: #000000; stroke-width: 0.8; stroke-linecap: square"/>
</g>
</g>
<g id="xtick_34">
<g id="line2d_41">
<path d="M 484.37 110.15 L 483.17 111.25 " style="fill: none; stroke: #000000; stroke-width: 0.8; stroke-linecap: square"/>
</g>
</g>
<g id="xtick_35">
<g id="line2d_42">
<path d="M 493.44 113.11 L 492.25 114.22 " style="fill: none; stroke: #000000; stroke-width: 0.8; stroke-linecap: square"/>
</g>
</g>
<g id="xtick_36">
<g id="line2d_43">
<path d="M 502.61 116.11 L 501.44 117.23 " style="fill: none; stroke: #000000; stroke-width: 0.8; stroke-linecap: square"/>
</g>
</g>
<g id="xtick_37">
<g id="line2d_44">
<path d="M 511.90 119.14 L 510.74 120.27 " style="fill: none; stroke: #000000; stroke-width: 0.8; stroke-linecap: square"/>
</g>
</g>
<g id="xtick_38">
<g id="line2d_45">
<path d="M 521.30 122.20 L 520.16 123.35 " style="fill: none; stroke: #000000; stroke-width: 0.8; stroke-linecap: square"/>
</g>
</g>
</g>
<g id="axis3d_8">
<g id="line2d_46">
<path d="M 572.24 81.09 L 529.18 125.28 " style="fill: none; stroke: #000000; stroke-width: 0.8; stroke-linecap: square"/>
</g>
<g id="xtick_39">
<g id="line2d_47">
<path d="M 534.07 119.35 L 536.11 120.00 " style="fill: none; stroke: #000000; stroke-width: 0.8; stroke-linecap: square"/>
</g>
</g>
<g id="xtick_40">
<g id="line2d_48">
<path d="M 539.18 114.12 L 541.20 114.76 " style="fill: none; stroke: #000000; stroke-width: 0.8; stroke-linecap: square"/>
</g>
</g>
<g id="xtick_41">
<g id="line2d_49">
<path d="M 544.18 108.99 L 546.19 109.62 " style="fill: none; stroke: #000000; stroke-width: 0.8; stroke-linecap: square"/>
</g>
</g>
<g id="xtick_42">
<g id="line2d_50">
<path d="M 549.08 103.97 L 551.07 104.59 " style="fill: none; stroke: #000000; stroke-width: 0.8; stroke-linecap: square"/>
</g>
</g>
<g id="xtick_43">
<g id="line2d_51">
<path d="M 553.88 99.05 L 555.86 99.66 " style="fill: none; stroke: #000000; stroke-width: 0.8; stroke-linecap: square"/>
</g>
</g>
<g id="xtick_44">
<g id="line2d_52">
<path d="M 558.59 94.23 L 560.56 94.82 " style="fill: none; stroke: #000000; stroke-width: 0.8; stroke-linecap: square"/>
</g>
</g>
<g id="xtick_45">
<g id="line2d_53">
<path d="M 563.21 89.50 L 565.16 90.08 " style="fill: none; stroke: #000000; stroke-width: 0.8; stroke-linecap: square"/>
</g>
</g>
<g id="xtick_46">
<g id="line2d_54">
<path d="M 567.74 84.86 L 569.68 85.43 " style="fill: none; stroke: #000000; stroke-width: 0.8; stroke-linecap: square"/>
</g>
</g>
</g>
<g id="axis3d_9">
<g id="line2d_55">
<path d="M 572.24 81.09 L 574.97 21.51 " style="fill: none; stroke: #000000; stroke-width: 0.8; stroke-linecap: square"/>
</g>
<g id="xtick_47">
<g id="line2d_56">
<path d="M 571.65 79.76 L 573.58 80.32 " style="fill: none; stroke: #000000; stroke-width: 0.8; stroke-linecap: square"/>
</g>
<g id="text_7">
<text style="font-size: 10px; font-family: 'DejaVu Sans'; text-anchor: middle" x="588.15" y="85.29">−0.5</text>
</g>
</g>
<g id="xtick_48">
<g id="line2d_57">
<path d="M 572.88 52.60 L 574.85 53.14 " style="fill: none; stroke: #000000; stroke-width: 0.8; stroke-linecap: square"/>
</g>
<g id="text_8">
<text style="font-size: 10px; font-family: 'DejaVu Sans'; text-anchor: middle" x="589.71" y="58.21">0.0</text>
</g>
</g>
<g id="xtick_49">
<g id="line2d_58">
<path d="M 574.16 24.32 L 576.18 24.83 " style="fill: none; stroke: #000000; stroke-width: 0.8; stroke-linecap: square"/>
</g>
<g id="text_9">
<text style="font-size: 10px; font-family: 'DejaVu Sans'; text-anchor: middle" x="591.33" y="30.01">0.5</text>
</g>
</g>
</g>
<g id="axes_3">
<g class="b" stroke-width="0.63"><path d="M493.3 37.9 500.1 39.8 504.1 36.6 497.4 34.7z" fill="#5bb17c" class="t"/><path d="M505.8 38.7 512.6 40.6 512.6 39.2 505.8 37.4z" fill="#306a4e"/><path d="M501.8 42 505.8 38.7 505.8 37.4 501.8 40.6z" fill="#65e1a6"/><path d="M501.8 42 508.7 43.9 512.6 40.6 505.8 38.7z" fill="#3d8864"/><path d="M501.8 40.6 508.7 42.5 512.6 39.2 505.8 37.4z" fill="#58c390"/><path d="M514.3 40.9 521.2 42.8 521.2 41.6 514.3 39.7z" fill="#316a4e"/><path d="M508.7 43.9 512.6 40.6 512.6 39.2 508.7 42.5z" fill="#306a4e"/><path d="M510.4 44.2 514.3 40.9 514.3 39.7 510.4 43z" fill="#67e1a5"/><path d="M501.8 42 508.7 43.9 508.7 42.5 501.8 40.6z" fill="#65e1a6"/><path d="M488.2 42.4 495 44.3 499.1 41 492.3 39.1z" fill="#56b17e" class="t"/><path d="M510.4 44.2 517.3 46.1 521.2 42.8 514.3 40.9z" fill="#3e8863"/><path d="M510.4 43 517.3 44.9 521.2 41.6 514.3 39.7z" fill="#59c38f"/><path d="M500.8 41.4 507.7 43.3 507.7 40.9 500.8 39z" fill="#3f6946"/><path d="M517.3 46.1 521.2 42.8 521.2 41.6 517.3 44.9z" fill="#316a4e"/><path d="M496.7 44.8 500.8 41.4 500.8 39 496.7 42.3z" fill="#85df94"/><path d="M510.4 44.2 517.3 46.1 517.3 44.9 510.4 43z" fill="#67e1a5"/><path d="M496.7 44.8 503.6 46.7 507.7 43.3 500.8 41.4z" fill="#508759"/><path d="M519.1 45.4 526.1 47.4 529.9 44 523 42.1z" fill="#58b17e" class="t"/><path d="M496.7 42.3 503.6 44.2 507.7 40.9 500.8 39z" fill="#73c280"/><path d="M509.4 43.8 516.3 45.8 516.3 43.3 509.4 41.4z" fill="#3f6946"/><path d="M503.6 46.7 507.7 43.3 507.7 40.9 503.6 44.2z" fill="#3f6946"/><path d="M505.3 47.2 509.4 43.8 509.4 41.4 505.3 44.7z" fill="#85df94"/><path d="M482.9 46 489.8 48 494 44.6 487.1 42.7z" fill="#5cb17b" class="t"/><path d="M496.7 44.8 503.6 46.7 503.6 44.2 496.7 42.3z" fill="#85df94"/><path d="M505.3 47.2 512.3 49.1 516.3 45.8 509.4 43.8z" fill="#508759"/><path d="M495.7 45.6 502.6 47.5 502.6 46.8 495.7 44.9z" fill="#386a49"/><path d="M527.8 47.6 534.9 49.6 538.8 46.2 531.7 44.3z" fill="#59b17d" class="t"/><path d="M505.3 44.7 512.3 46.7 516.3 43.3 509.4 41.4z" fill="#73c280"/><path d="M491.5 49 495.7 45.6 495.7 44.9 491.5 48.3z" fill="#77e19c"/><path d="M512.3 49.1 516.3 45.8 516.3 43.3 512.3 46.7z" fill="#3f6946"/><path d="M491.5 49 498.5 51 502.6 47.5 495.7 45.6z" fill="#48885e"/><path d="M491.5 48.3 498.5 50.3 502.6 46.8 495.7 44.9z" fill="#67c387"/><path d="M505.3 47.2 512.3 49.1 512.3 46.7 505.3 44.7z" fill="#85df94"/><path d="M514.1 49.6 521.1 51.6 525.1 48.2 518.1 46.2z" fill="#55b17f" class="t"/><path d="M498.5 51 502.6 47.5 502.6 46.8 498.5 50.3z" fill="#386a49"/><path d="M536.7 50.3 543.9 52.3 547.6 48.9 540.5 46.9z" fill="#55b17f" class="t"/><path d="M491.5 49 498.5 51 498.5 50.3 491.5 48.3z" fill="#77e19c"/><path d="M526.8 48.7 533.9 50.7 534 47.9 526.9 45.9z" fill="#406945"/><path d="M549.4 50.7 556.6 52.6 556.7 51.3 549.4 49.3z" fill="#306a4e"/><path d="M477.6 50.5 484.5 52.5 488.7 49 481.9 47.1z" fill="#5bb17c" class="t"/><path d="M500.2 51.5 507.2 53.5 511.3 50 504.3 48z" fill="#58b17e" class="t"/><path d="M522.9 52.1 526.8 48.7 526.9 45.9 522.9 49.3z" fill="#87df93"/><path d="M545.6 54.1 549.4 50.7 549.4 49.3 545.7 52.8z" fill="#65e1a6"/><path d="M513.1 51.6 520.1 53.6 520.1 52.5 513.1 50.5z" fill="#316a4e"/><path d="M522.9 52.1 530 54.1 533.9 50.7 526.8 48.7z" fill="#518658"/><path d="M545.6 54.1 552.9 56.1 556.6 52.6 549.4 50.7z" fill="#3d8864"/><path d="M509 55.1 513.1 51.6 513.1 50.5 509 54z" fill="#67e1a5"/><path d="M545.7 52.8 552.9 54.8 556.7 51.3 549.4 49.3z" fill="#58c390"/><path d="M522.9 49.3 530.1 51.3 534 47.9 526.9 45.9z" fill="#75c17f"/><path d="M486.2 53.3 493.2 55.3 497.4 51.8 490.5 49.8z" fill="#7d6c3c"/><path d="M558.4 52.6 565.7 54.6 565.8 53.8 558.5 51.8z" fill="#326a4d"/><path d="M490.5 49.8 497.4 51.8 497.3 40.1 490.3 38.1z" fill="#62542f"/><path d="M530 54.1 533.9 50.7 534 47.9 530.1 51.3z" fill="#406945"/><path d="M552.9 56.1 556.6 52.6 556.7 51.3 552.9 54.8z" fill="#306a4e"/><path d="M509 55.1 516.1 57.1 520.1 53.6 513.1 51.6z" fill="#3e8863"/><path d="M509 54 516.1 56 520.1 52.5 513.1 50.5z" fill="#59c38f"/><path d="M554.7 56 558.4 52.6 558.5 51.8 554.7 55.3z" fill="#6ae1a3"/><path d="M486.2 53.3 490.5 49.8 490.3 38.1 486 41.5z" fill="#cfb263"/><path d="M522.9 52.1 530 54.1 530.1 51.3 522.9 49.3z" fill="#87df93"/><path d="M545.6 54.1 552.9 56.1 552.9 54.8 545.7 52.8z" fill="#65e1a6"/><path d="M531.8 54.2 539.1 56.2 542.9 52.7 535.7 50.7z" fill="#5cb17b" class="t"/><path d="M516.1 57.1 520.1 53.6 520.1 52.5 516.1 56z" fill="#316a4e"/><path d="M554.7 56 562 58.1 565.7 54.6 558.4 52.6z" fill="#408862"/><path d="M472.1 54.9 479.1 57 483.4 53.4 476.5 51.4z" fill="#59b17d" class="t"/><path d="M554.7 55.3 562.1 57.3 565.8 53.8 558.5 51.8z" fill="#5cc38d"/><path d="M509 55.1 516.1 57.1 516.1 56 509 54z" fill="#67e1a5"/><path d="M544.7 53.7 552 55.7 552 54.3 544.7 52.3z" fill="#3b6a48"/><path d="M495 55.8 502 57.9 506.2 54.3 499.2 52.3z" fill="#7d6c3c"/><path d="M499.2 52.3 506.2 54.3 506.2 42.6 499.1 40.6z" fill="#62542f"/><path d="M562 58.1 565.7 54.6 565.8 53.8 562.1 57.3z" fill="#326a4d"/><path d="M493.2 55.3 497.4 51.8 497.3 40.1 493.1 43.5z" fill="#62542f"/><path d="M540.9 57.2 544.7 53.7 544.7 52.3 540.9 55.8z" fill="#7ce199"/><path d="M517.9 56.5 525.1 58.5 529 55 521.9 53z" fill="#59b17d" class="t"/><path d="M495 55.8 499.2 52.3 499.1 40.6 494.8 44z" fill="#cfb263"/><path d="M554.7 56 562 58.1 562.1 57.3 554.7 55.3z" fill="#6ae1a3"/><path d="M486.2 53.3 493.2 55.3 493.1 43.5 486 41.5z" fill="#cfb263"/><path d="M486 41.5 493.1 43.5 497.3 40.1 490.3 38.1z" fill="#b49b56"/><path d="M540.9 57.2 548.2 59.2 552 55.7 544.7 53.7z" fill="#4b885c"/><path d="M530.8 55.5 538.1 57.6 538.1 55.9 530.9 53.8z" fill="#3b6a48"/><path d="M540.9 55.8 548.2 57.8 552 54.3 544.7 52.3z" fill="#6cc385"/><path d="M553.8 57.5 561.1 59.6 561.1 58.2 553.8 56.2z" fill="#306a4e"/><path d="M480.8 57.3 487.8 59.4 492.1 55.8 485.1 53.8z" fill="#5bb17c" class="t"/><path d="M526.9 59.1 530.8 55.5 530.9 53.8 526.9 57.4z" fill="#7ee098"/><path d="M503.8 58.4 511 60.4 515.1 56.9 508 54.8z" fill="#56b17e" class="t"/><path d="M548.2 59.2 552 55.7 552 54.3 548.2 57.8z" fill="#3b6a48"/><path d="M550 61.1 553.8 57.5 553.8 56.2 550 59.7z" fill="#65e1a6"/><path d="M502 57.9 506.2 54.3 506.2 42.6 501.9 46z" fill="#62542f"/><path d="M526.9 59.1 534.1 61.1 538.1 57.6 530.8 55.5z" fill="#4c875c"/><path d="M540.9 57.2 548.2 59.2 548.2 57.8 540.9 55.8z" fill="#7ce199"/><path d="M550 61.1 557.3 63.1 561.1 59.6 553.8 57.5z" fill="#3d8864"/><path d="M495 55.8 502 57.9 501.9 46 494.8 44z" fill="#cfb263"/><path d="M526.9 57.4 534.2 59.4 538.1 55.9 530.9 53.8z" fill="#6dc384"/><path d="M494.8 44 501.9 46 506.2 42.6 499.1 40.6z" fill="#b49b56"/><path d="M466.5 59 473.5 61.1 478 57.5 471 55.5z" fill="#5cb17b" class="t"/><path d="M550 59.7 557.4 61.8 561.1 58.2 553.8 56.2z" fill="#58c390"/><path d="M489.6 60.3 496.7 62.3 501 58.7 493.9 56.7z" fill="#58b17e" class="t"/><path d="M534.1 61.1 538.1 57.6 538.1 55.9 534.2 59.4z" fill="#3b6a48"/><path d="M557.3 63.1 561.1 59.6 561.1 58.2 557.4 61.8z" fill="#306a4e"/><path d="M502.8 60.4 509.9 62.5 509.9 61.3 502.8 59.3z" fill="#316a4e"/><path d="M512.8 60.9 520 63 524.1 59.4 516.9 57.4z" fill="#885c31"/><path d="M526.9 59.1 534.1 61.1 534.2 59.4 526.9 57.4z" fill="#7ee098"/><path d="M550 61.1 557.3 63.1 557.4 61.8 550 59.7z" fill="#65e1a6"/><path d="M498.5 64 502.8 60.4 502.8 59.3 498.5 62.9z" fill="#67e1a5"/><path d="M516.9 57.4 524.1 59.4 524.2 44.4 516.9 42.4z" fill="#6a4826"/><path d="M536 61.2 543.3 63.3 547.2 59.7 539.9 57.6z" fill="#5cb17b" class="t"/><path d="M475.3 62.2 482.4 64.3 486.8 60.6 479.7 58.6z" fill="#826638"/><path d="M512.8 60.9 516.9 57.4 516.9 42.4 512.8 45.9z" fill="#e19851"/><path d="M498.5 64 505.7 66.1 509.9 62.5 502.8 60.4z" fill="#3e8863"/><path d="M479.7 58.6 486.8 60.6 486.5 47.6 479.4 45.6z" fill="#66502c"/><path d="M498.5 62.9 505.7 65 509.9 61.3 502.8 59.3z" fill="#59c38f"/><path d="M475.3 62.2 479.7 58.6 479.4 45.6 475 49.1z" fill="#d8a95d"/><path d="M521.8 63.6 529.1 65.7 533.1 62 525.9 59.9z" fill="#59b17d" class="t"/><path d="M505.7 66.1 509.9 62.5 509.9 61.3 505.7 65z" fill="#316a4e"/><path d="M460.9 64.1 467.9 66.2 472.4 62.5 465.4 60.5z" fill="#55b17f" class="t"/><path d="M545.2 64.3 552.6 66.4 556.4 62.7 549 60.6z" fill="#55b17f" class="t"/><path d="M498.5 64 505.7 66.1 505.7 65 498.5 62.9z" fill="#67e1a5"/><path d="M520 63 524.1 59.4 524.2 44.4 520.1 48z" fill="#6a4826"/><path d="M484.2 64.8 491.3 66.9 495.7 63.2 488.5 61.2z" fill="#88502a"/><path d="M535 62.6 542.3 64.7 542.4 61.8 535 59.7z" fill="#406945"/><path d="M512.8 60.9 520 63 520.1 48 512.8 45.9z" fill="#e19851"/><path d="M482.4 64.3 486.8 60.6 486.5 47.6 482.1 51.2z" fill="#66502c"/><path d="M507.5 65.5 514.8 67.6 519 63.9 511.7 61.9z" fill="#56b17e" class="t"/><path d="M531 66.2 535 62.6 535 59.7 531 63.4z" fill="#87df93"/><path d="M488.5 61.2 495.7 63.2 495.5 46.1 488.3 44.1z" fill="#6a3e21"/><path d="M512.8 45.9 520.1 48 524.2 44.4 516.9 42.4z" fill="#c48447"/><path d="M520.8 65.6 528.1 67.7 528.1 66.6 520.8 64.5z" fill="#316a4e"/><path d="M475.3 62.2 482.4 64.3 482.1 51.2 475 49.1z" fill="#d8a95d"/><path d="M531 66.2 538.4 68.3 542.3 64.7 535 62.6z" fill="#518658"/><path d="M475 49.1 482.1 51.2 486.5 47.6 479.4 45.6z" fill="#bb9351"/><path d="M484.2 64.8 488.5 61.2 488.3 44.1 483.8 47.6z" fill="#e18446"/><path d="M469.7 66.7 476.8 68.9 481.3 65.2 474.2 63.1z" fill="#884926"/><path d="M516.6 69.3 520.8 65.6 520.8 64.5 516.6 68.2z" fill="#67e1a5"/><path d="M459.7 65 466.8 67.1 466.8 66.4 459.7 64.2z" fill="#386a49"/><path d="M531 63.4 538.4 65.5 542.4 61.8 535 59.7z" fill="#75c17f"/><path d="M493.1 67.4 500.4 69.6 504.7 65.9 497.5 63.8z" fill="#58b17e" class="t"/><path d="M455.1 68.7 459.7 65 459.7 64.2 455.1 67.9z" fill="#77e19c"/><path d="M538.4 68.3 542.3 64.7 542.4 61.8 538.4 65.5z" fill="#406945"/><path d="M516.6 69.3 524 71.5 528.1 67.7 520.8 65.6z" fill="#3e8863"/><path d="M474.2 63.1 481.3 65.2 480.9 46.9 473.7 44.8z" fill="#6a391e"/><path d="M516.6 68.2 524 70.3 528.1 66.6 520.8 64.5z" fill="#59c38f"/><path d="M531 66.2 538.4 68.3 538.4 65.5 531 63.4z" fill="#87df93"/><path d="M455.1 68.7 462.2 70.8 466.8 67.1 459.7 65z" fill="#48885e"/><path d="M491.3 66.9 495.7 63.2 495.5 46.1 491.1 49.7z" fill="#6a3e21"/><path d="M469.7 66.7 474.2 63.1 473.7 44.8 469.1 48.4z" fill="#e1793f"/><path d="M455.1 67.9 462.1 70.1 466.8 66.4 459.7 64.2z" fill="#67c387"/><path d="M540.2 68.7 547.7 70.8 551.6 67.1 544.2 65z" fill="#59b17d" class="t"/><path d="M524 71.5 528.1 67.7 528.1 66.6 524 70.3z" fill="#316a4e"/><path d="M478.6 69.4 485.8 71.6 490.2 67.8 483.1 65.7z" fill="#826638"/><path d="M484.2 64.8 491.3 66.9 491.1 49.7 483.8 47.6z" fill="#e18446"/><path d="M483.1 65.7 490.2 67.8 490 54.7 482.8 52.6z" fill="#66502c"/><path d="M516.6 69.3 524 71.5 524 70.3 516.6 68.2z" fill="#67e1a5"/><path d="M462.2 70.8 466.8 67.1 466.8 66.4 462.1 70.1z" fill="#386a49"/><path d="M502.2 70.1 509.5 72.3 513.8 68.6 506.5 66.4z" fill="#7d6c3c"/><path d="M506.5 66.4 513.8 68.6 513.8 56.5 506.4 54.4z" fill="#62542f"/><path d="M483.8 47.6 491.1 49.7 495.5 46.1 488.3 44.1z" fill="#c4733c"/><path d="M478.6 69.4 483.1 65.7 482.8 52.6 478.3 56.2z" fill="#d8a95d"/><path d="M455.1 68.7 462.2 70.8 462.1 70.1 455.1 67.9z" fill="#77e19c"/><path d="M525.9 70.9 533.3 73 537.4 69.3 529.9 67.1z" fill="#55b17f" class="t"/><path d="M476.8 68.9 481.3 65.2 480.9 46.9 476.3 50.5z" fill="#6a391e"/><path d="M502.2 70.1 506.5 66.4 506.4 54.4 502.1 58.1z" fill="#cfb263"/><path d="M464 71.4 471.1 73.6 475.7 69.8 468.6 67.7z" fill="#55b17f" class="t"/><path d="M469.7 66.7 476.8 68.9 476.3 50.5 469.1 48.4z" fill="#e1793f"/><path d="M487.6 71.8 494.9 73.9 499.3 70.2 492 68z" fill="#5bb17c" class="t"/><path d="M485.8 71.6 490.2 67.8 490 54.7 485.6 58.3z" fill="#66502c"/><path d="M511.4 72.9 518.8 75.1 523 71.3 515.6 69.1z" fill="#58b17e" class="t"/><path d="M469.1 48.4 476.3 50.5 480.9 46.9 473.7 44.8z" fill="#c46937"/><path d="M509.5 72.3 513.8 68.6 513.8 56.5 509.5 60.2z" fill="#62542f"/><path d="M478.6 69.4 485.8 71.6 485.6 58.3 478.3 56.2z" fill="#d8a95d"/><path d="M535.2 73.6 542.7 75.8 546.7 72 539.2 69.8z" fill="#58b17e" class="t"/><path d="M478.3 56.2 485.6 58.3 490 54.7 482.8 52.6z" fill="#bb9351"/><path d="M502.2 70.1 509.5 72.3 509.5 60.2 502.1 58.1z" fill="#cfb263"/><path d="M524.8 71.8 532.3 74 532.3 71.4 524.8 69.2z" fill="#3f6946"/><path d="M502.1 58.1 509.5 60.2 513.8 56.5 506.4 54.4z" fill="#b49b56"/><path d="M472.9 73.6 480.2 75.8 484.7 72 477.5 69.8z" fill="#5cb17b" class="t"/><path d="M496.7 74.9 504.1 77.1 508.4 73.3 501.1 71.1z" fill="#7d6c3c"/><path d="M520.6 75.6 524.8 71.8 524.8 69.2 520.7 73z" fill="#85df94"/><path d="M501.1 71.1 508.4 73.3 508.4 61.1 501 59z" fill="#62542f"/><path d="M520.6 75.6 528.1 77.8 532.3 74 524.8 71.8z" fill="#508759"/><path d="M510.3 73.8 517.7 76 517.7 75.3 510.3 73.1z" fill="#386a49"/><path d="M496.7 74.9 501.1 71.1 501 59 496.6 62.7z" fill="#cfb263"/><path d="M534.1 75.8 541.7 78 541.7 76.8 534.2 74.5z" fill="#316a4e"/><path d="M520.7 73 528.2 75.2 532.3 71.4 524.8 69.2z" fill="#73c280"/><path d="M506 77.6 510.3 73.8 510.3 73.1 506 76.9z" fill="#77e19c"/><path d="M482 76.7 489.3 78.9 493.8 75.1 486.5 72.9z" fill="#59b17d" class="t"/><path d="M530 79.7 534.1 75.8 534.2 74.5 530 78.4z" fill="#67e1a5"/><path d="M528.1 77.8 532.3 74 532.3 71.4 528.2 75.2z" fill="#3f6946"/><path d="M506 77.6 513.4 79.9 517.7 76 510.3 73.8z" fill="#48885e"/><path d="M506 76.9 513.4 79.2 517.7 75.3 510.3 73.1z" fill="#67c387"/><path d="M530 79.7 537.6 81.9 541.7 78 534.1 75.8z" fill="#3e8863"/><path d="M520.6 75.6 528.1 77.8 528.2 75.2 520.7 73z" fill="#85df94"/><path d="M504.1 77.1 508.4 73.3 508.4 61.1 504.1 64.9z" fill="#62542f"/><path d="M530 78.4 537.6 80.6 541.7 76.8 534.2 74.5z" fill="#59c38f"/><path d="M513.4 79.9 517.7 76 517.7 75.3 513.4 79.2z" fill="#386a49"/><path d="M496.7 74.9 504.1 77.1 504.1 64.9 496.6 62.7z" fill="#cfb263"/><path d="M519.6 76.6 527.1 78.8 527.1 76.2 519.6 74z" fill="#3f6946"/><path d="M496.6 62.7 504.1 64.9 508.4 61.1 501 59z" fill="#b49b56"/><path d="M537.6 81.9 541.7 78 541.7 76.8 537.6 80.6z" fill="#316a4e"/><path d="M506 77.6 513.4 79.9 513.4 79.2 506 76.9z" fill="#77e19c"/><path d="M515.3 80.5 519.6 76.6 519.6 74 515.3 77.9z" fill="#85df94"/><path d="M491.2 79.4 498.6 81.7 503 77.7 495.6 75.5z" fill="#5bb17c" class="t"/><path d="M530 79.7 537.6 81.9 537.6 80.6 530 78.4z" fill="#67e1a5"/><path d="M515.3 80.5 522.9 82.7 527.1 78.8 519.6 76.6z" fill="#508759"/><path d="M529 80.8 536.6 83.1 536.6 81.6 529 79.4z" fill="#306a4e"/><path d="M515.3 77.9 522.9 80.1 527.1 76.2 519.6 74z" fill="#73c280"/><path d="M524.8 84.8 529 80.8 529 79.4 524.8 83.3z" fill="#65e1a6"/><path d="M522.9 82.7 527.1 78.8 527.1 76.2 522.9 80.1z" fill="#3f6946"/><path d="M500.5 82 508 84.3 512.4 80.4 504.9 78.1z" fill="#5cb17b" class="t"/><path d="M524.8 84.8 532.4 87.1 536.6 83.1 529 80.8z" fill="#3d8864"/><path d="M515.3 80.5 522.9 82.7 522.9 80.1 515.3 77.9z" fill="#85df94"/><path d="M524.8 83.3 532.4 85.6 536.6 81.6 529 79.4z" fill="#58c390"/><path d="M532.4 87.1 536.6 83.1 536.6 81.6 532.4 85.6z" fill="#306a4e"/><path d="M524.8 84.8 532.4 87.1 532.4 85.6 524.8 83.3z" fill="#65e1a6"/><path d="M509.9 85.4 517.5 87.7 521.8 83.7 514.2 81.4z" fill="#56b17e" class="t"/><path d="M519.4 88 527.1 90.3 531.4 86.3 523.7 84z" fill="#5bb17c" class="t"/></g>
</g>
<g id="pane3d_10">
<g id="patch_11">
<path d="M 656.81 98.81 L 704.46 58.87 L 703.80 1.26 L 653.87 37.70 " style="fill: #f2f2f2; opacity: 0.5; stroke: #f2f2f2; stroke-linejoin: miter"/>
</g>
</g>
<g id="pane3d_11">
<g id="patch_12">
<path d="M 704.46 58.87 L 780.93 81.09 L 783.66 21.51 L 703.80 1.26 " style="fill: #e6e6e6; opacity: 0.5; stroke: #e6e6e6; stroke-linejoin: miter"/>
</g>
</g>
<g id="pane3d_12">
<g id="patch_13">
<path d="M 656.81 98.81 L 737.87 125.28 L 780.93 81.09 L 704.46 58.87 " style="fill: #ececec; opacity: 0.5; stroke: #ececec; stroke-linejoin: miter"/>
</g>
</g>
<g id="grid3d_10">
<g id="Line3DCollection_10">
<path d="M 663.86 101.11 L 711.14 60.81 L 710.76 3.03 " style="fill: none; stroke: #999999; stroke-width: 0.8"/>
<path d="M 668.16 102.52 L 715.21 61.99 L 715.00 4.10 " style="fill: none; stroke: #999999; stroke-width: 0.8"/>
<path d="M 672.49 103.93 L 719.30 63.18 L 719.27 5.19 " style="fill: none; stroke: #999999; stroke-width: 0.8"/>
<path d="M 676.84 105.35 L 723.41 64.38 L 723.56 6.27 " style="fill: none; stroke: #999999; stroke-width: 0.8"/>
<path d="M 681.21 106.78 L 727.55 65.58 L 727.88 7.37 " style="fill: none; stroke: #999999; stroke-width: 0.8"/>
<path d="M 685.61 108.21 L 731.71 66.79 L 732.21 8.47 " style="fill: none; stroke: #999999; stroke-width: 0.8"/>
<path d="M 690.03 109.66 L 735.88 68.00 L 736.57 9.57 " style="fill: none; stroke: #999999; stroke-width: 0.8"/>
<path d="M 694.48 111.11 L 740.09 69.22 L 740.96 10.68 " style="fill: none; stroke: #999999; stroke-width: 0.8"/>
<path d="M 698.96 112.58 L 744.31 70.45 L 745.37 11.80 " style="fill: none; stroke: #999999; stroke-width: 0.8"/>
<path d="M 703.46 114.05 L 748.55 71.68 L 749.81 12.93 " style="fill: none; stroke: #999999; stroke-width: 0.8"/>
<path d="M 707.99 115.53 L 752.82 72.92 L 754.27 14.06 " style="fill: none; stroke: #999999; stroke-width: 0.8"/>
<path d="M 712.55 117.01 L 757.11 74.17 L 758.75 15.19 " style="fill: none; stroke: #999999; stroke-width: 0.8"/>
<path d="M 717.13 118.51 L 761.43 75.43 L 763.26 16.34 " style="fill: none; stroke: #999999; stroke-width: 0.8"/>
<path d="M 721.74 120.02 L 765.77 76.69 L 767.80 17.49 " style="fill: none; stroke: #999999; stroke-width: 0.8"/>
<path d="M 726.38 121.53 L 770.13 77.95 L 772.36 18.64 " style="fill: none; stroke: #999999; stroke-width: 0.8"/>
<path d="M 731.04 123.05 L 774.52 79.23 L 776.95 19.81 " style="fill: none; stroke: #999999; stroke-width: 0.8"/>
</g>
</g>
<g id="grid3d_11">
<g id="Line3DCollection_11">
<path d="M 658.81 34.10 L 661.51 94.87 L 742.13 120.91 " style="fill: none; stroke: #999999; stroke-width: 0.8"/>
<path d="M 661.76 31.95 L 664.32 92.52 L 744.67 118.30 " style="fill: none; stroke: #999999; stroke-width: 0.8"/>
<path d="M 664.68 29.82 L 667.10 90.19 L 747.19 115.71 " style="fill: none; stroke: #999999; stroke-width: 0.8"/>
<path d="M 667.57 27.71 L 669.85 87.88 L 749.68 113.15 " style="fill: none; stroke: #999999; stroke-width: 0.8"/>
<path d="M 670.43 25.62 L 672.58 85.60 L 752.15 110.62 " style="fill: none; stroke: #999999; stroke-width: 0.8"/>
<path d="M 673.26 23.55 L 675.28 83.33 L 754.60 108.11 " style="fill: none; stroke: #999999; stroke-width: 0.8"/>
<path d="M 676.07 21.50 L 677.95 81.09 L 757.02 105.63 " style="fill: none; stroke: #999999; stroke-width: 0.8"/>
<path d="M 678.84 19.48 L 680.60 78.87 L 759.41 103.17 " style="fill: none; stroke: #999999; stroke-width: 0.8"/>
<path d="M 681.59 17.47 L 683.23 76.67 L 761.78 100.74 " style="fill: none; stroke: #999999; stroke-width: 0.8"/>
<path d="M 684.32 15.48 L 685.83 74.49 L 764.13 98.33 " style="fill: none; stroke: #999999; stroke-width: 0.8"/>
<path d="M 687.01 13.52 L 688.40 72.33 L 766.45 95.94 " style="fill: none; stroke: #999999; stroke-width: 0.8"/>
<path d="M 689.68 11.57 L 690.95 70.19 L 768.76 93.58 " style="fill: none; stroke: #999999; stroke-width: 0.8"/>
<path d="M 692.33 9.64 L 693.48 68.07 L 771.04 91.24 " style="fill: none; stroke: #999999; stroke-width: 0.8"/>
<path d="M 694.95 7.73 L 695.99 65.97 L 773.30 88.92 " style="fill: none; stroke: #999999; stroke-width: 0.8"/>
<path d="M 697.54 5.83 L 698.47 63.89 L 775.53 86.63 " style="fill: none; stroke: #999999; stroke-width: 0.8"/>
<path d="M 700.11 3.96 L 700.93 61.83 L 777.75 84.36 " style="fill: none; stroke: #999999; stroke-width: 0.8"/>
</g>
</g>
<g id="grid3d_12">
<g id="Line3DCollection_12">
<path d="M 780.98 79.95 L 704.45 57.76 L 656.76 97.64 " style="fill: none; stroke: #bdbdbd; stroke-width: 0.8"/>
<path d="M 782.22 52.78 L 704.15 31.47 L 655.42 69.80 " style="fill: none; stroke: #bdbdbd; stroke-width: 0.8"/>
<path d="M 783.52 24.49 L 703.83 4.14 L 654.02 40.77 " style="fill: none; stroke: #bdbdbd; stroke-width: 0.8"/>
</g>
</g>
<g id="axis3d_10">
<g id="line2d_59">
<path d="M 656.81 98.81 L 737.87 125.28 " style="fill: none; stroke: #000000; stroke-width: 0.8; stroke-linecap: square"/>
</g>
<g id="xtick_50">
<g id="line2d_60">
<path d="M 664.27 100.76 L 663.04 101.82 " style="fill: none; stroke: #000000; stroke-width: 0.8; stroke-linecap: square"/>
</g>
</g>
<g id="xtick_51">
<g id="line2d_61">
<path d="M 668.57 102.16 L 667.34 103.22 " style="fill: none; stroke: #000000; stroke-width: 0.8; stroke-linecap: square"/>
</g>
</g>
<g id="xtick_52">
<g id="line2d_62">
<path d="M 672.89 103.57 L 671.67 104.64 " style="fill: none; stroke: #000000; stroke-width: 0.8; stroke-linecap: square"/>
</g>
</g>
<g id="xtick_53">
<g id="line2d_63">
<path d="M 677.24 104.99 L 676.02 106.07 " style="fill: none; stroke: #000000; stroke-width: 0.8; stroke-linecap: square"/>
</g>
</g>
<g id="xtick_54">
<g id="line2d_64">
<path d="M 681.61 106.42 L 680.40 107.50 " style="fill: none; stroke: #000000; stroke-width: 0.8; stroke-linecap: square"/>
</g>
</g>
<g id="xtick_55">
<g id="line2d_65">
<path d="M 686.01 107.85 L 684.80 108.94 " style="fill: none; stroke: #000000; stroke-width: 0.8; stroke-linecap: square"/>
</g>
</g>
<g id="xtick_56">
<g id="line2d_66">
<path d="M 690.43 109.30 L 689.23 110.39 " style="fill: none; stroke: #000000; stroke-width: 0.8; stroke-linecap: square"/>
</g>
</g>
<g id="xtick_57">
<g id="line2d_67">
<path d="M 694.88 110.75 L 693.69 111.85 " style="fill: none; stroke: #000000; stroke-width: 0.8; stroke-linecap: square"/>
</g>
</g>
<g id="xtick_58">
<g id="line2d_68">
<path d="M 699.36 112.21 L 698.17 113.31 " style="fill: none; stroke: #000000; stroke-width: 0.8; stroke-linecap: square"/>
</g>
</g>
<g id="xtick_59">
<g id="line2d_69">
<path d="M 703.86 113.68 L 702.67 114.79 " style="fill: none; stroke: #000000; stroke-width: 0.8; stroke-linecap: square"/>
</g>
</g>
<g id="xtick_60">
<g id="line2d_70">
<path d="M 708.38 115.15 L 707.21 116.27 " style="fill: none; stroke: #000000; stroke-width: 0.8; stroke-linecap: square"/>
</g>
</g>
<g id="xtick_61">
<g id="line2d_71">
<path d="M 712.94 116.64 L 711.77 117.76 " style="fill: none; stroke: #000000; stroke-width: 0.8; stroke-linecap: square"/>
</g>
</g>
<g id="xtick_62">
<g id="line2d_72">
<path d="M 717.52 118.13 L 716.36 119.26 " style="fill: none; stroke: #000000; stroke-width: 0.8; stroke-linecap: square"/>
</g>
</g>
<g id="xtick_63">
<g id="line2d_73">
<path d="M 722.13 119.64 L 720.97 120.77 " style="fill: none; stroke: #000000; stroke-width: 0.8; stroke-linecap: square"/>
</g>
</g>
<g id="xtick_64">
<g id="line2d_74">
<path d="M 726.76 121.15 L 725.61 122.29 " style="fill: none; stroke: #000000; stroke-width: 0.8; stroke-linecap: square"/>
</g>
</g>
<g id="xtick_65">
<g id="line2d_75">
<path d="M 731.42 122.67 L 730.28 123.82 " style="fill: none; stroke: #000000; stroke-width: 0.8; stroke-linecap: square"/>
</g>
</g>
</g>
<g id="axis3d_11">
<g id="line2d_76">
<path d="M 780.93 81.09 L 737.87 125.28 " style="fill: none; stroke: #000000; stroke-width: 0.8; stroke-linecap: square"/>
</g>
<g id="xtick_66">
<g id="line2d_77">
<path d="M 741.45 120.69 L 743.49 121.35 " style="fill: none; stroke: #000000; stroke-width: 0.8; stroke-linecap: square"/>
</g>
</g>
<g id="xtick_67">
<g id="line2d_78">
<path d="M 744.00 118.08 L 746.03 118.73 " style="fill: none; stroke: #000000; stroke-width: 0.8; stroke-linecap: square"/>
</g>
</g>
<g id="xtick_68">
<g id="line2d_79">
<path d="M 746.52 115.50 L 748.54 116.14 " style="fill: none; stroke: #000000; stroke-width: 0.8; stroke-linecap: square"/>
</g>
</g>
<g id="xtick_69">
<g id="line2d_80">
<path d="M 749.01 112.94 L 751.03 113.58 " style="fill: none; stroke: #000000; stroke-width: 0.8; stroke-linecap: square"/>
</g>
</g>
<g id="xtick_70">
<g id="line2d_81">
<path d="M 751.48 110.41 L 753.49 111.04 " style="fill: none; stroke: #000000; stroke-width: 0.8; stroke-linecap: square"/>
</g>
</g>
<g id="xtick_71">
<g id="line2d_82">
<path d="M 753.93 107.91 L 755.93 108.53 " style="fill: none; stroke: #000000; stroke-width: 0.8; stroke-linecap: square"/>
</g>
</g>
<g id="xtick_72">
<g id="line2d_83">
<path d="M 756.35 105.43 L 758.35 106.05 " style="fill: none; stroke: #000000; stroke-width: 0.8; stroke-linecap: square"/>
</g>
</g>
<g id="xtick_73">
<g id="line2d_84">
<path d="M 758.75 102.97 L 760.74 103.58 " style="fill: none; stroke: #000000; stroke-width: 0.8; stroke-linecap: square"/>
</g>
</g>
<g id="xtick_74">
<g id="line2d_85">
<path d="M 761.12 100.54 L 763.10 101.15 " style="fill: none; stroke: #000000; stroke-width: 0.8; stroke-linecap: square"/>
</g>
</g>
<g id="xtick_75">
<g id="line2d_86">
<path d="M 763.47 98.13 L 765.45 98.73 " style="fill: none; stroke: #000000; stroke-width: 0.8; stroke-linecap: square"/>
</g>
</g>
<g id="xtick_76">
<g id="line2d_87">
<path d="M 765.80 95.75 L 767.77 96.34 " style="fill: none; stroke: #000000; stroke-width: 0.8; stroke-linecap: square"/>
</g>
</g>
<g id="xtick_77">
<g id="line2d_88">
<path d="M 768.10 93.39 L 770.07 93.98 " style="fill: none; stroke: #000000; stroke-width: 0.8; stroke-linecap: square"/>
</g>
</g>
<g id="xtick_78">
<g id="line2d_89">
<path d="M 770.39 91.05 L 772.34 91.63 " style="fill: none; stroke: #000000; stroke-width: 0.8; stroke-linecap: square"/>
</g>
</g>
<g id="xtick_79">
<g id="line2d_90">
<path d="M 772.65 88.73 L 774.60 89.31 " style="fill: none; stroke: #000000; stroke-width: 0.8; stroke-linecap: square"/>
</g>
</g>
<g id="xtick_80">
<g id="line2d_91">
<path d="M 774.88 86.44 L 776.83 87.01 " style="fill: none; stroke: #000000; stroke-width: 0.8; stroke-linecap: square"/>
</g>
</g>
<g id="xtick_81">
<g id="line2d_92">
<path d="M 777.10 84.17 L 779.04 84.73 " style="fill: none; stroke: #000000; stroke-width: 0.8; stroke-linecap: square"/>
</g>
</g>
</g>
<g id="axis3d_12">
<g id="line2d_93">
<path d="M 780.93 81.09 L 783.66 21.51 " style="fill: none; stroke: #000000; stroke-width: 0.8; stroke-linecap: square"/>
</g>
<g id="xtick_82">
<g id="line2d_94">
<path d="M 780.34 79.76 L 782.27 80.32 " style="fill: none; stroke: #000000; stroke-width: 0.8; stroke-linecap: square"/>
</g>
<g id="text_10">
<text style="font-size: 10px; font-family: 'DejaVu Sans'; text-anchor: middle" x="796.83" y="85.29">−0.5</text>
</g>
</g>
<g id="xtick_83">
<g id="line2d_95">
<path d="M 781.57 52.60 L 783.54 53.14 " style="fill: none; stroke: #000000; stroke-width: 0.8; stroke-linecap: square"/>
</g>
<g id="text_11">
<text style="font-size: 10px; font-family: 'DejaVu Sans'; text-anchor: middle" x="798.39" y="58.21">0.0</text>
</g>
</g>
<g id="xtick_84">
<g id="line2d_96">
<path d="M 782.85 24.32 L 784.86 24.83 " style="fill: none; stroke: #000000; stroke-width: 0.8; stroke-linecap: square"/>
</g>
<g id="text_12">
<text style="font-size: 10px; font-family: 'DejaVu Sans'; text-anchor: middle" x="800.02" y="30.01">0.5</text>
</g>
</g>
</g>
<g id="axes_4">
<g class="b" stroke-width="0.38"><path d="M704.1 36.6 707.4 37.5 709.4 35.9 706.1 35z" fill="#63c88e" class="u"/><path d="M708.2 37.8 711.6 38.7 713.6 37.1 710.2 36.2z" fill="#63c88e" class="u"/><path d="M701.6 38.6 704.9 39.5 706.9 37.9 703.6 37z" fill="#60c890" class="u"/><path d="M712.4 38.9 715.8 39.9 717.7 38.2 714.4 37.3z" fill="#65c88d" class="u"/><path d="M705.7 39.8 709.1 40.7 711.1 39.1 707.7 38.2z" fill="#63c88e" class="u"/><path d="M716.6 40.1 720 41 722 39.4 718.6 38.5z" fill="#66c88c" class="u"/><path d="M699 40.6 702.4 41.6 704.4 39.9 701.1 39z" fill="#65c88d" class="u"/><path d="M709.9 40.9 713.3 41.9 715.3 40.3 711.9 39.3z" fill="#65c88d" class="u"/><path d="M720.9 41.3 724.3 42.2 726.2 40.6 722.8 39.6z" fill="#63c88e" class="u"/><path d="M703.2 41.8 706.6 42.7 708.6 41.1 705.2 40.2z" fill="#65c88d" class="u"/><path d="M714.2 42.1 717.6 43.1 719.5 41.4 716.1 40.5z" fill="#65c88d" class="u"/><path d="M725.1 42.4 728.5 43.4 730.5 41.7 727.1 40.8z" fill="#63c88e" class="u"/><path d="M696.5 42.7 699.8 43.6 701.9 42 698.5 41z" fill="#63c88e" class="u"/><path d="M707.4 43 710.8 43.9 712.8 42.3 709.4 41.4z" fill="#65c88d" class="u"/><path d="M718.4 43.3 721.8 44.3 723.8 42.6 720.4 41.7z" fill="#62c88f" class="u"/><path d="M729.4 43.6 732.8 44.6 734.8 42.9 731.3 42z" fill="#62c88f" class="u"/><path d="M700.7 43.9 704 44.8 706.1 43.2 702.7 42.2z" fill="#65c88d" class="u"/><path d="M711.7 44.2 715.1 45.1 717.1 43.5 713.7 42.5z" fill="#65c88d" class="u"/><path d="M722.7 44.5 726.1 45.4 728.1 43.8 724.6 42.8z" fill="#66c88c" class="u"/><path d="M693.9 44.7 697.3 45.7 699.3 44 696 43.1z" fill="#63c88e" class="u"/><path d="M733.7 44.8 737.2 45.8 739.1 44.1 735.6 43.2z" fill="#65c88d" class="u"/><path d="M704.9 45 708.3 46 710.3 44.3 706.9 43.4z" fill="#65c88d" class="u"/><path d="M715.9 45.4 719.4 46.3 721.3 44.7 717.9 43.7z" fill="#63c88e" class="u"/><path d="M727 45.7 730.4 46.6 732.4 45 728.9 44z" fill="#66c88c" class="u"/><path d="M698.1 45.9 701.5 46.9 703.5 45.2 700.2 44.3z" fill="#65c88d" class="u"/><path d="M738 46 741.5 47 743.4 45.3 739.9 44.3z" fill="#63c88e" class="u"/><path d="M709.1 46.2 712.6 47.2 714.6 45.5 711.2 44.6z" fill="#65c88d" class="u"/><path d="M720.2 46.6 723.7 47.5 725.6 45.9 722.2 44.9z" fill="#62c88f" class="u"/><path d="M704.4 45.5 707.8 46.4 707.8 43.7 704.4 42.7z" fill="#406945"/><path d="M691.3 46.8 694.7 47.8 696.7 46.1 693.4 45.1z" fill="#65c88d" class="u"/><path d="M731.3 46.9 734.8 47.8 736.7 46.2 733.2 45.2z" fill="#62c88f" class="u"/><path d="M702.3 47.1 704.4 45.5 704.4 42.7 702.3 44.4z" fill="#87df93"/><path d="M702.3 47.1 705.8 48.1 707.8 46.4 704.4 45.5z" fill="#518658"/><path d="M742.4 47.2 745.9 48.2 747.8 46.5 744.3 45.5z" fill="#65c88d" class="u"/><path d="M713.4 47.4 716.9 48.4 718.9 46.7 715.4 45.8z" fill="#65c88d" class="u"/><path d="M724.5 47.8 728 48.7 729.9 47.1 726.5 46.1z" fill="#65c88d" class="u"/><path d="M702.3 44.4 705.7 45.3 707.8 43.7 704.4 42.7z" fill="#75c17f"/><path d="M695.5 48 698.9 49 701 47.3 697.6 46.3z" fill="#65c88d" class="u"/><path d="M705.8 48.1 707.8 46.4 707.8 43.7 705.7 45.3z" fill="#406945"/><path d="M735.6 48.1 739.1 49.1 741 47.4 737.6 46.4z" fill="#65c88d" class="u"/><path d="M706.6 48.3 710 49.3 712.1 47.6 708.6 46.7z" fill="#63c88e" class="u"/><path d="M702.3 47.1 705.8 48.1 705.7 45.3 702.3 44.4z" fill="#87df93"/><path d="M746.8 48.4 750.3 49.4 752.2 47.7 748.6 46.7z" fill="#63c88e" class="u"/><path d="M717.7 48.7 721.2 49.6 723.2 47.9 719.7 47z" fill="#65c88d" class="u"/><path d="M688.6 48.9 692 49.9 694.1 48.2 690.8 47.2z" fill="#62c88f" class="u"/><path d="M728.9 49 732.3 50 734.3 48.3 730.8 47.3z" fill="#63c88e" class="u"/><path d="M699.8 49.2 703.2 50.2 705.2 48.5 701.8 47.5z" fill="#65c88d" class="u"/><path d="M740 49.3 743.5 50.3 745.4 48.6 741.9 47.6z" fill="#65c88d" class="u"/><path d="M710.9 49.5 714.3 50.5 716.4 48.8 712.9 47.9z" fill="#63c88e" class="u"/><path d="M724 48.2 727.5 49.2 727.5 45.8 724 44.9z" fill="#426844"/><path d="M751.2 49.6 754.7 50.6 756.6 48.9 753 47.9z" fill="#62c88f" class="u"/><path d="M722 49.9 725.5 50.8 727.5 49.2 724 48.2z" fill="#558657"/><path d="M722 49.9 724 48.2 724 44.9 722 46.6z" fill="#8cdd8f"/><path d="M692.9 50.1 696.3 51.1 698.4 49.4 695 48.4z" fill="#62c88f" class="u"/><path d="M733.2 50.2 736.7 51.2 738.6 49.5 735.1 48.5z" fill="#62c88f" class="u"/><path d="M704 50.4 707.5 51.4 709.5 49.7 706.1 48.7z" fill="#65c88d" class="u"/><path d="M744.4 50.5 747.9 51.5 749.8 49.8 746.3 48.8z" fill="#65c88d" class="u"/><path d="M728.4 49.4 731.8 50.4 731.9 47.6 728.4 46.6z" fill="#406945"/><path d="M715.2 50.8 718.7 51.7 720.7 50.1 717.2 49.1z" fill="#62c88f" class="u"/><path d="M755.6 50.9 759.1 51.8 761 50.1 757.4 49.2z" fill="#63c88e" class="u"/><path d="M725.5 50.8 727.5 49.2 727.5 45.8 725.5 47.5z" fill="#426844"/><path d="M722 46.6 725.5 47.5 727.5 45.8 724 44.9z" fill="#7ac07c"/><path d="M686 51 689.4 52 691.5 50.3 688.1 49.3z" fill="#62c88f" class="u"/><path d="M739.5 49.7 743 50.7 743.1 47.9 739.6 47z" fill="#406945"/><path d="M726.4 51.1 728.4 49.4 728.4 46.6 726.4 48.3z" fill="#87df93"/><path d="M726.4 51.1 729.9 52.1 731.8 50.4 728.4 49.4z" fill="#518658"/><path d="M722 49.9 725.5 50.8 725.5 47.5 722 46.6z" fill="#8cdd8f"/><path d="M697.2 51.3 700.6 52.3 702.7 50.6 699.2 49.6z" fill="#65c88d" class="u"/><path d="M737.6 51.4 739.5 49.7 739.6 47 737.6 48.7z" fill="#87df93"/><path d="M737.6 51.4 741.1 52.4 743 50.7 739.5 49.7z" fill="#518658"/><path d="M708.3 51.7 711.8 52.7 713.8 50.9 710.4 50z" fill="#65c88d" class="u"/><path d="M748.8 51.8 752.4 52.7 754.2 51 750.7 50.1z" fill="#66c88c" class="u"/><path d="M726.4 48.3 729.9 49.3 731.9 47.6 728.4 46.6z" fill="#75c17f"/><path d="M719.5 52 723 53 725 51.3 721.5 50.3z" fill="#63c88e" class="u"/><path d="M729.9 52.1 731.8 50.4 731.9 47.6 729.9 49.3z" fill="#406945"/><path d="M760 52.1 763.6 53.1 765.5 51.4 761.9 50.4z" fill="#63c88e" class="u"/><path d="M690.2 52.2 693.7 53.2 695.8 51.5 692.4 50.5z" fill="#65c88d" class="u"/><path d="M737.6 48.7 741.2 49.6 743.1 47.9 739.6 47z" fill="#75c17f"/><path d="M730.8 52.3 734.3 53.3 736.2 51.6 732.7 50.6z" fill="#65c88d" class="u"/><path d="M741.1 52.4 743 50.7 743.1 47.9 741.2 49.6z" fill="#406945"/><path d="M726.4 51.1 729.9 52.1 729.9 49.3 726.4 48.3z" fill="#87df93"/><path d="M701.4 52.6 704.9 53.6 707 51.8 703.5 50.9z" fill="#63c88e" class="u"/><path d="M742 52.7 745.5 53.6 747.4 51.9 743.9 51z" fill="#65c88d" class="u"/><path d="M737.6 51.4 741.1 52.4 741.2 49.6 737.6 48.7z" fill="#87df93"/><path d="M712.7 52.9 716.1 53.9 718.2 52.2 714.7 51.2z" fill="#88361b"/><path d="M753.2 53 756.8 54 758.7 52.3 755.1 51.3z" fill="#66c88c" class="u"/><path d="M683.3 53.1 686.7 54.1 688.9 52.4 685.5 51.4z" fill="#65c88d" class="u"/><path d="M723.9 53.2 727.4 54.2 729.4 52.5 725.9 51.5z" fill="#63c88e" class="u"/><path d="M764.5 53.3 768.1 54.3 769.9 52.6 766.3 51.6z" fill="#66c88c" class="u"/><path d="M694.5 53.5 698 54.5 700.1 52.7 696.6 51.8z" fill="#63c88e" class="u"/><path d="M735.2 53.6 738.7 54.6 740.6 52.8 737.1 51.9z" fill="#63c88e" class="u"/><path d="M705.8 53.8 709.2 54.8 711.3 53.1 707.8 52.1z" fill="#58c794" class="u"/><path d="M746.4 53.9 750 54.9 751.9 53.2 748.3 52.2z" fill="#62c88f" class="u"/><path d="M717 54.1 720.5 55.1 722.5 53.4 719 52.4z" fill="#65c88d" class="u"/><path d="M757.7 54.2 761.3 55.2 763.2 53.5 759.6 52.5z" fill="#63c88e" class="u"/><path d="M700.9 53 704.4 54 704.3 51.2 700.9 50.2z" fill="#406945"/><path d="M687.6 54.4 691 55.4 693.1 53.7 689.7 52.7z" fill="#63c88e" class="u"/><path d="M728.3 54.5 731.8 55.5 733.8 53.7 730.3 52.8z" fill="#63c88e" class="u"/><path d="M769 54.6 772.6 55.6 774.4 53.8 770.8 52.8z" fill="#62c88f" class="u"/><path d="M698.8 54.7 700.9 53 700.9 50.2 698.8 51.9z" fill="#87df93"/><path d="M698.8 54.7 702.3 55.7 704.4 54 700.9 53z" fill="#518658"/><path d="M739.6 54.8 743.1 55.8 745.1 54.1 741.5 53.1z" fill="#63c88e" class="u"/><path d="M710.1 55.1 713.6 56.1 715.6 54.3 712.2 53.3z" fill="#63c88e" class="u"/><path d="M750.9 55.1 754.5 56.1 756.3 54.4 752.8 53.4z" fill="#62c88f" class="u"/><path d="M680.6 55.3 684 56.3 686.2 54.6 682.8 53.6z" fill="#63c88e" class="u"/><path d="M721.4 55.4 724.9 56.4 726.9 54.7 723.4 53.7z" fill="#63c88e" class="u"/><path d="M714.7 51.2 718.2 52.2 718.1 31.4 714.6 30.4z" fill="#6a2a15"/><path d="M762.2 55.5 765.8 56.5 767.6 54.7 764 53.8z" fill="#65c88d" class="u"/><path d="M698.8 51.9 702.3 52.9 704.3 51.2 700.9 50.2z" fill="#75c17f"/><path d="M691.9 55.6 695.3 56.6 697.4 54.9 694 53.9z" fill="#66c88c" class="u"/><path d="M702.3 55.7 704.4 54 704.3 51.2 702.3 52.9z" fill="#406945"/><path d="M732.7 55.7 736.2 56.7 738.2 55 734.7 54z" fill="#62c88f" class="u"/><path d="M712.7 52.9 714.7 51.2 714.6 30.4 712.6 32.1z" fill="#e1592d"/><path d="M703.2 56 706.6 57 708.7 55.2 705.2 54.2z" fill="#66c88c" class="u"/><path d="M698.8 54.7 702.3 55.7 702.3 52.9 698.8 51.9z" fill="#87df93"/><path d="M744 56.1 747.6 57.1 749.5 55.3 745.9 54.3z" fill="#65c88d" class="u"/><path d="M714.5 56.3 718 57.3 720 55.6 716.5 54.6z" fill="#63c88e" class="u"/><path d="M755.4 56.4 759 57.4 760.8 55.7 757.2 54.7z" fill="#63c88e" class="u"/><path d="M684.9 56.6 688.3 57.6 690.5 55.8 687 54.8z" fill="#63c88e" class="u"/><path d="M725.8 56.6 729.3 57.7 731.3 55.9 727.8 54.9z" fill="#63c88e" class="u"/><path d="M766.7 56.7 770.3 57.7 772.2 56 768.6 55z" fill="#66c88c" class="u"/><path d="M716.1 53.9 718.2 52.2 718.1 31.4 716.1 33z" fill="#6a2a15"/><path d="M696.2 56.9 699.7 57.9 701.8 56.2 698.3 55.2z" fill="#63c88e" class="u"/><path d="M737.1 57 740.7 58 742.6 56.2 739.1 55.2z" fill="#60c890" class="u"/><path d="M712.7 52.9 716.1 53.9 716.1 33 712.6 32.1z" fill="#e1592d"/><path d="M707.5 57.2 711 58.2 713.1 56.5 709.6 55.5z" fill="#65c88d" class="u"/><path d="M748.5 57.3 752.1 58.3 754 56.6 750.4 55.6z" fill="#65c88d" class="u"/><path d="M677.9 57.5 681.3 58.5 683.5 56.7 680.1 55.7z" fill="#65c88d" class="u"/><path d="M718.9 57.6 722.4 58.6 724.4 56.8 720.9 55.8z" fill="#63c88e" class="u"/><path d="M759.9 57.7 763.5 58.7 765.3 56.9 761.7 55.9z" fill="#63c88e" class="u"/><path d="M689.2 57.8 692.7 58.8 694.8 57.1 691.3 56.1z" fill="#63c88e" class="u"/><path d="M730.2 57.9 733.8 58.9 735.7 57.2 732.2 56.2z" fill="#63c88e" class="u"/><path d="M700.5 58.2 704 59.2 706.1 57.4 702.6 56.4z" fill="#63c88e" class="u"/><path d="M741.6 58.2 745.2 59.3 747.1 57.5 743.5 56.5z" fill="#66c88c" class="u"/><path d="M711.9 58.5 715.4 59.5 717.5 57.8 714 56.7z" fill="#62c88f" class="u"/><path d="M753 58.6 756.6 59.6 758.5 57.8 754.9 56.8z" fill="#62c88f" class="u"/><path d="M682.2 58.7 685.6 59.8 687.8 58 684.3 57z" fill="#62c88f" class="u"/><path d="M723.3 58.8 726.8 59.9 728.8 58.1 725.3 57.1z" fill="#62c88f" class="u"/><path d="M764.4 58.9 768 59.9 769.9 58.2 766.2 57.2z" fill="#63c88e" class="u"/><path d="M693.5 59.1 697 60.1 699.1 58.3 695.7 57.3z" fill="#63c88e" class="u"/><path d="M734.7 59.2 738.2 60.2 740.2 58.4 736.6 57.4z" fill="#881b0d"/><path d="M704.9 59.4 708.4 60.4 710.5 58.7 707 57.7z" fill="#62c88f" class="u"/><path d="M746.1 59.5 749.7 60.5 751.6 58.8 748 57.8z" fill="#65c88d" class="u"/><path d="M675.1 59.7 678.5 60.7 680.8 58.9 677.3 57.9z" fill="#63c88e" class="u"/><path d="M712.6 32.1 716.1 33 718.1 31.4 714.6 30.4z" fill="#c44d27"/><path d="M716.3 59.8 719.8 60.8 721.9 59 718.3 58z" fill="#65c88d" class="u"/><path d="M757.5 59.9 761.1 60.9 763 59.1 759.4 58.1z" fill="#66c88c" class="u"/><path d="M686.5 60 690 61 692.1 59.3 688.7 58.3z" fill="#62c88f" class="u"/><path d="M727.7 60.1 731.3 61.1 733.3 59.4 729.7 58.3z" fill="#70c787" class="u"/><path d="M697.9 60.4 701.4 61.4 703.5 59.6 700 58.6z" fill="#66c88c" class="u"/><path d="M739.1 60.5 742.7 61.5 744.7 59.7 741.1 58.7z" fill="#60c890" class="u"/><path d="M709.3 60.7 712.8 61.7 714.9 60 711.4 58.9z" fill="#62c88f" class="u"/><path d="M750.6 60.8 754.2 61.8 756.1 60 752.5 59z" fill="#62c88f" class="u"/><path d="M679.4 61 682.9 62 685.1 60.2 681.6 59.2z" fill="#65c88d" class="u"/><path d="M720.7 61 724.3 62.1 726.3 60.3 722.8 59.3z" fill="#63c88e" class="u"/><path d="M762 61.1 765.7 62.2 767.6 60.4 763.9 59.4z" fill="#63c88e" class="u"/><path d="M690.8 61.3 694.3 62.3 696.5 60.5 693 59.5z" fill="#65c88d" class="u"/><path d="M732.2 61.4 735.8 62.4 737.7 60.6 734.2 59.6z" fill="#63c88e" class="u"/><path d="M702.3 61.6 705.8 62.7 707.9 60.9 704.4 59.9z" fill="#62c88f" class="u"/><path d="M743.6 61.7 747.3 62.8 749.2 61 745.6 60z" fill="#63c88e" class="u"/><path d="M672.3 61.9 675.8 62.9 678 61.1 674.5 60.1z" fill="#63c88e" class="u"/><path d="M713.7 62 717.3 63 719.3 61.2 715.8 60.2z" fill="#66c88c" class="u"/><path d="M755.1 62.1 758.8 63.1 760.7 61.3 757 60.3z" fill="#66c88c" class="u"/><path d="M683.7 62.2 687.2 63.3 689.4 61.5 685.9 60.5z" fill="#65c88d" class="u"/><path d="M725.2 62.3 728.8 63.4 730.8 61.6 727.2 60.6z" fill="#62c88f" class="u"/><path d="M736.6 57.4 740.2 58.4 740.6 33.7 736.9 32.7z" fill="#6a150a"/><path d="M695.2 62.6 698.7 63.6 700.8 61.8 697.3 60.8z" fill="#62c88f" class="u"/><path d="M736.7 62.7 740.3 63.7 742.2 61.9 738.6 60.9z" fill="#62c88f" class="u"/><path d="M734.7 59.2 736.6 57.4 736.9 32.7 734.9 34.4z" fill="#e12c16"/><path d="M706.7 62.9 710.2 64 712.3 62.2 708.8 61.1z" fill="#6ec788" class="u"/><path d="M748.2 63 751.8 64.1 753.7 62.3 750.1 61.2z" fill="#65c88d" class="u"/><path d="M676.6 63.2 680.1 64.2 682.3 62.4 678.9 61.4z" fill="#65c88d" class="u"/><path d="M718.1 63.3 721.7 64.3 723.8 62.5 720.2 61.5z" fill="#65c88d" class="u"/><path d="M759.7 63.4 763.3 64.4 765.2 62.6 761.6 61.6z" fill="#62c88f" class="u"/><path d="M688.1 63.5 691.6 64.6 693.8 62.8 690.3 61.7z" fill="#65c88d" class="u"/><path d="M729.7 63.6 733.3 64.7 735.3 62.9 731.7 61.8z" fill="#63c88e" class="u"/><path d="M738.2 60.2 740.2 58.4 740.6 33.7 738.6 35.4z" fill="#6a150a"/><path d="M699.6 63.9 703.1 64.9 705.3 63.1 701.7 62.1z" fill="#880a05"/><path d="M741.2 64 744.8 65 746.8 63.2 743.1 62.2z" fill="#63c88e" class="u"/><path d="M669.5 64.1 673 65.2 675.2 63.4 671.8 62.3z" fill="#68c88b" class="u"/><path d="M734.7 59.2 738.2 60.2 738.6 35.4 734.9 34.4z" fill="#e12c16"/><path d="M711.1 64.2 714.7 65.3 716.7 63.5 713.2 62.4z" fill="#62c88f" class="u"/><path d="M752.7 64.3 756.4 65.4 758.3 63.6 754.6 62.5z" fill="#65c88d" class="u"/><path d="M681 64.5 684.5 65.5 686.7 63.7 683.2 62.7z" fill="#62c88f" class="u"/><path d="M722.6 64.6 726.2 65.6 728.2 63.8 724.7 62.8z" fill="#63c88e" class="u"/><path d="M692.5 64.8 696 65.9 698.2 64.1 694.7 63z" fill="#63c88e" class="u"/><path d="M747.7 63.5 751.3 64.5 751.4 61.7 747.7 60.7z" fill="#406945"/><path d="M734.2 64.9 737.8 66 739.8 64.2 736.2 63.1z" fill="#63c88e" class="u"/><path d="M704 65.2 707.6 66.2 709.7 64.4 706.1 63.4z" fill="#62c88f" class="u"/><path d="M745.7 65.3 747.7 63.5 747.7 60.7 745.8 62.4z" fill="#87df93"/><path d="M745.7 65.3 749.4 66.3 751.3 64.5 747.7 63.5z" fill="#518658"/><path d="M673.8 65.4 677.3 66.5 679.6 64.7 676.1 63.6z" fill="#63c88e" class="u"/><path d="M715.6 65.5 719.1 66.6 721.2 64.8 717.6 63.7z" fill="#62c88f" class="u"/><path d="M757.3 65.6 761 66.7 762.9 64.9 759.2 63.8z" fill="#63c88e" class="u"/><path d="M685.4 65.8 688.9 66.8 691.1 65 687.6 64z" fill="#62c88f" class="u"/><path d="M727.1 65.9 730.7 66.9 732.7 65.1 729.1 64.1z" fill="#63c88e" class="u"/><path d="M696.9 66.1 700.4 67.2 702.6 65.4 699.1 64.3z" fill="#62c88f" class="u"/><path d="M745.8 62.4 749.4 63.5 751.4 61.7 747.7 60.7z" fill="#75c17f"/><path d="M738.7 66.2 742.3 67.3 744.3 65.5 740.7 64.4z" fill="#65c88d" class="u"/><path d="M749.4 66.3 751.3 64.5 751.4 61.7 749.4 63.5z" fill="#406945"/><path d="M666.7 66.4 670.1 67.5 672.4 65.6 668.9 64.6z" fill="#65c88d" class="u"/><path d="M708.5 66.5 712 67.5 714.1 65.7 710.6 64.7z" fill="#62c88f" class="u"/><path d="M750.3 66.6 754 67.6 755.9 65.8 752.2 64.8z" fill="#65c88d" class="u"/><path d="M745.7 65.3 749.4 66.3 749.4 63.5 745.8 62.4z" fill="#87df93"/><path d="M678.2 66.8 681.7 67.8 683.9 66 680.4 64.9z" fill="#68c88b" class="u"/><path d="M720 66.8 723.6 67.9 725.7 66.1 722.1 65z" fill="#63c88e" class="u"/><path d="M689.8 67.1 693.3 68.2 695.5 66.3 691.9 65.3z" fill="#65c88d" class="u"/><path d="M731.6 67.2 735.3 68.3 737.3 66.4 733.7 65.4z" fill="#63c88e" class="u"/><path d="M734.9 34.4 738.6 35.4 740.6 33.7 736.9 32.7z" fill="#c42613"/><path d="M701.3 67.5 704.9 68.5 707 66.7 703.5 65.6z" fill="#66c88c" class="u"/><path d="M743.2 67.6 746.9 68.6 748.9 66.8 745.2 65.7z" fill="#62c88f" class="u"/><path d="M701.7 62.1 705.3 63.1 705 35.8 701.4 34.8z" fill="#6a0804"/><path d="M671 67.7 674.5 68.8 676.8 66.9 673.3 65.9z" fill="#65c88d" class="u"/><path d="M712.9 67.8 716.5 68.9 718.6 67 715 66z" fill="#65c88d" class="u"/><path d="M754.9 67.9 758.6 69 760.5 67.1 756.8 66.1z" fill="#65c88d" class="u"/><path d="M699.6 63.9 701.7 62.1 701.4 34.8 699.2 36.6z" fill="#e11108"/><path d="M682.6 68.1 686.1 69.1 688.3 67.3 684.8 66.2z" fill="#62c88f" class="u"/><path d="M738.2 66.7 741.8 67.7 741.9 64.9 738.2 63.9z" fill="#406945"/><path d="M724.5 68.2 728.2 69.2 730.2 67.4 726.6 66.3z" fill="#65c88d" class="u"/><path d="M694.2 68.4 697.7 69.5 699.9 67.7 696.4 66.6z" fill="#65c88d" class="u"/><path d="M736.2 68.5 738.2 66.7 738.2 63.9 736.2 65.7z" fill="#87df93"/><path d="M736.2 68.5 739.8 69.6 741.8 67.7 738.2 66.7z" fill="#518658"/><path d="M663.8 68.7 667.3 69.8 669.6 67.9 666.1 66.9z" fill="#66c88c" class="u"/><path d="M705.8 68.8 709.4 69.8 711.5 68 707.9 67z" fill="#63c88e" class="u"/><path d="M747.8 68.9 751.5 69.9 753.5 68.1 749.8 67z" fill="#65c88d" class="u"/><path d="M703.1 64.9 705.3 63.1 705 35.8 702.8 37.6z" fill="#6a0804"/><path d="M675.4 69 678.9 70.1 681.1 68.3 677.6 67.2z" fill="#63c88e" class="u"/><path d="M717.4 69.1 721 70.2 723.1 68.4 719.5 67.3z" fill="#63c88e" class="u"/><path d="M687 69.4 690.5 70.5 692.7 68.6 689.2 67.6z" fill="#65c88d" class="u"/><path d="M699.6 63.9 703.1 64.9 702.8 37.6 699.2 36.6z" fill="#e11108"/><path d="M736.2 65.7 739.9 66.7 741.9 64.9 738.2 63.9z" fill="#75c17f"/><path d="M729.1 69.5 732.7 70.6 734.8 68.7 731.1 67.7z" fill="#63c88e" class="u"/><path d="M739.8 69.6 741.8 67.7 741.9 64.9 739.9 66.7z" fill="#406945"/><path d="M698.6 69.8 702.2 70.8 704.4 69 700.8 67.9z" fill="#63c88e" class="u"/><path d="M740.7 69.9 744.4 70.9 746.4 69.1 742.7 68z" fill="#63c88e" class="u"/><path d="M736.2 68.5 739.8 69.6 739.9 66.7 736.2 65.7z" fill="#87df93"/><path d="M668.1 70 671.7 71.1 673.9 69.2 670.4 68.2z" fill="#65c88d" class="u"/><path d="M710.3 70.1 713.9 71.2 716 69.3 712.4 68.3z" fill="#66c88c" class="u"/><path d="M752.4 70.2 756.1 71.3 758.1 69.4 754.4 68.4z" fill="#63c88e" class="u"/><path d="M679.8 70.4 683.3 71.4 685.6 69.6 682 68.5z" fill="#65c88d" class="u"/><path d="M721.9 70.5 725.6 71.5 727.7 69.7 724 68.6z" fill="#88331a"/><path d="M735.7 69 739.3 70 739.4 66.6 735.7 65.6z" fill="#426844"/><path d="M691.4 70.7 695 71.8 697.2 70 693.6 68.9z" fill="#62c88f" class="u"/><path d="M733.6 70.8 737.3 71.9 739.3 70 735.7 69z" fill="#558657"/><path d="M733.6 70.8 735.7 69 735.7 65.6 733.7 67.4z" fill="#8cdd8f"/><path d="M703.1 71.1 706.7 72.2 708.8 70.3 705.3 69.2z" fill="#63c88e" class="u"/><path d="M745.3 71.2 749 72.3 751 70.4 747.3 69.3z" fill="#62c88f" class="u"/><path d="M672.5 71.4 676.1 72.4 678.3 70.6 674.8 69.5z" fill="#68c88b" class="u"/><path d="M714.8 71.5 718.4 72.5 720.5 70.7 716.9 69.6z" fill="#58c794" class="u"/><path d="M684.2 71.7 687.8 72.8 690 70.9 686.4 69.9z" fill="#65c88d" class="u"/><path d="M726.5 71.8 730.2 72.9 732.2 71 728.6 70z" fill="#62c88f" class="u"/><path d="M737.3 71.9 739.3 70 739.4 66.6 737.3 68.5z" fill="#426844"/><path d="M709.7 70.6 713.4 71.7 713.3 68.8 709.7 67.7z" fill="#406945"/><path d="M733.7 67.4 737.3 68.5 739.4 66.6 735.7 65.6z" fill="#7ac07c"/><path d="M695.9 72.1 699.5 73.2 701.7 71.3 698.1 70.2z" fill="#63c88e" class="u"/><path d="M738.2 72.2 741.9 73.3 743.9 71.4 740.2 70.3z" fill="#65c88d" class="u"/><path d="M733.6 70.8 737.3 71.9 737.3 68.5 733.7 67.4z" fill="#8cdd8f"/><path d="M707.6 72.4 709.7 70.6 709.7 67.7 707.6 69.6z" fill="#87df93"/><path d="M707.6 72.4 711.2 73.5 713.4 71.7 709.7 70.6z" fill="#518658"/><path d="M750 72.5 753.7 73.6 755.7 71.7 751.9 70.7z" fill="#65c88d" class="u"/><path d="M676.9 72.7 680.5 73.8 682.8 71.9 679.2 70.8z" fill="#63c88e" class="u"/><path d="M719.3 72.8 723 73.9 725.1 72 721.4 70.9z" fill="#65c88d" class="u"/><path d="M688.7 73.1 692.2 74.2 694.4 72.3 690.9 71.2z" fill="#62c88f" class="u"/><path d="M699.2 36.6 702.8 37.6 705 35.8 701.4 34.8z" fill="#c40e07"/><path d="M731.1 73.2 734.8 74.2 736.8 72.4 733.1 71.3z" fill="#65c88d" class="u"/><path d="M724 68.6 727.7 69.7 727.8 48 724.1 47z" fill="#6a2814"/><path d="M707.6 69.6 711.2 70.7 713.3 68.8 709.7 67.7z" fill="#75c17f"/><path d="M700.4 73.4 704 74.5 706.2 72.6 702.6 71.6z" fill="#66c88c" class="u"/><path d="M711.2 73.5 713.4 71.7 713.3 68.8 711.2 70.7z" fill="#406945"/><path d="M742.8 73.5 746.5 74.6 748.5 72.7 744.8 71.7z" fill="#66c88c" class="u"/><path d="M721.9 70.5 724 68.6 724.1 47 722 48.8z" fill="#e1542b"/><path d="M712.1 73.8 715.8 74.9 717.9 73 714.3 71.9z" fill="#63c88e" class="u"/><path d="M707.6 72.4 711.2 73.5 711.2 70.7 707.6 69.6z" fill="#87df93"/><path d="M681.4 74.1 685 75.1 687.2 73.3 683.6 72.2z" fill="#63c88e" class="u"/><path d="M723.9 74.2 727.6 75.2 729.6 73.4 726 72.3z" fill="#63c88e" class="u"/><path d="M693.1 74.4 696.7 75.5 698.9 73.6 695.3 72.5z" fill="#63c88e" class="u"/><path d="M735.7 74.5 739.4 75.6 741.4 73.7 737.7 72.6z" fill="#62c88f" class="u"/><path d="M725.6 71.5 727.7 69.7 727.8 48 725.7 49.8z" fill="#6a2814"/><path d="M704.9 74.8 708.5 75.9 710.7 74 707.1 72.9z" fill="#63c88e" class="u"/><path d="M747.5 74.9 751.2 76 753.2 74.1 749.5 73z" fill="#62c88f" class="u"/><path d="M721.9 70.5 725.6 71.5 725.7 49.8 722 48.8z" fill="#e1542b"/><path d="M716.7 75.2 720.3 76.2 722.5 74.4 718.8 73.3z" fill="#65c88d" class="u"/><path d="M685.9 75.4 689.4 76.5 691.7 74.6 688.1 73.5z" fill="#65c88d" class="u"/><path d="M728.5 75.5 732.2 76.6 734.2 74.7 730.6 73.6z" fill="#65c88d" class="u"/><path d="M697.6 75.8 701.3 76.9 703.4 75 699.8 73.9z" fill="#63c88e" class="u"/><path d="M740.3 75.9 744 77 746 75.1 742.3 74z" fill="#66c88c" class="u"/><path d="M709.4 76.2 713.1 77.3 715.2 75.4 711.6 74.3z" fill="#65c88d" class="u"/><path d="M721.3 76.5 724.9 77.6 727 75.7 723.4 74.6z" fill="#63c88e" class="u"/><path d="M690.3 76.8 694 77.9 696.2 76 692.6 74.9z" fill="#63c88e" class="u"/><path d="M733.1 76.9 736.8 78 738.9 76.1 735.2 75z" fill="#63c88e" class="u"/><path d="M702.2 77.2 705.8 78.3 708 76.4 704.4 75.3z" fill="#65c88d" class="u"/><path d="M745 77.3 748.7 78.4 750.7 76.5 747 75.4z" fill="#63c88e" class="u"/><path d="M714 77.5 717.7 78.6 719.8 76.7 716.2 75.6z" fill="#65c88d" class="u"/><path d="M725.9 77.9 729.6 79 731.7 77.1 728 76z" fill="#65c88d" class="u"/><path d="M722 48.8 725.7 49.8 727.8 48 724.1 47z" fill="#c44925"/><path d="M694.9 78.2 698.5 79.3 700.7 77.4 697.1 76.3z" fill="#65c88d" class="u"/><path d="M737.8 78.3 741.5 79.4 743.5 77.5 739.8 76.4z" fill="#62c88f" class="u"/><path d="M720.7 77 724.4 78.1 724.4 75.2 720.7 74.1z" fill="#406945"/><path d="M706.7 78.5 710.4 79.7 712.6 77.7 708.9 76.6z" fill="#62c88f" class="u"/><path d="M718.6 78.9 720.7 77 720.7 74.1 718.6 76z" fill="#87df93"/><path d="M718.6 78.9 722.3 80 724.4 78.1 720.7 77z" fill="#518658"/><path d="M730.5 79.3 734.2 80.4 736.3 78.5 732.6 77.4z" fill="#65c88d" class="u"/><path d="M699.4 79.6 703.1 80.7 705.3 78.7 701.6 77.6z" fill="#62c88f" class="u"/><path d="M742.4 79.7 746.2 80.8 748.2 78.8 744.5 77.7z" fill="#63c88e" class="u"/><path d="M718.6 76 722.3 77.1 724.4 75.2 720.7 74.1z" fill="#75c17f"/><path d="M711.3 79.9 715 81 717.1 79.1 713.5 78z" fill="#65c88d" class="u"/><path d="M722.3 80 724.4 78.1 724.4 75.2 722.3 77.1z" fill="#406945"/><path d="M723.2 80.3 726.9 81.4 729.1 79.5 725.3 78.4z" fill="#65c88d" class="u"/><path d="M718.6 78.9 722.3 80 722.3 77.1 718.6 76z" fill="#87df93"/><path d="M735.2 80.7 738.9 81.8 741 79.9 737.2 78.7z" fill="#65c88d" class="u"/><path d="M704 81 707.7 82.1 709.8 80.1 706.2 79z" fill="#62c88f" class="u"/><path d="M715.9 81.3 719.6 82.5 721.8 80.5 718.1 79.4z" fill="#65c88d" class="u"/><path d="M727.9 81.7 731.6 82.8 733.7 80.9 730 79.8z" fill="#65c88d" class="u"/><path d="M739.9 82.1 743.6 83.2 745.7 81.3 741.9 80.1z" fill="#66c88c" class="u"/><path d="M708.6 82.4 712.3 83.5 714.5 81.5 710.8 80.4z" fill="#65c88d" class="u"/><path d="M720.6 82.7 724.3 83.9 726.4 81.9 722.7 80.8z" fill="#65c88d" class="u"/><path d="M732.6 83.1 736.3 84.2 738.4 82.3 734.6 81.2z" fill="#65c88d" class="u"/><path d="M713.2 83.8 716.9 84.9 719.1 82.9 715.4 81.8z" fill="#63c88e" class="u"/><path d="M725.2 84.1 729 85.3 731.1 83.3 727.4 82.2z" fill="#65c88d" class="u"/><path d="M737.3 84.5 741.1 85.7 743.1 83.7 739.3 82.6z" fill="#65c88d" class="u"/><path d="M717.9 85.2 721.6 86.3 723.8 84.4 720 83.2z" fill="#63c88e" class="u"/><path d="M729.9 85.6 733.7 86.7 735.8 84.7 732 83.6z" fill="#63c88e" class="u"/><path d="M722.5 86.6 726.3 87.8 728.5 85.8 724.7 84.6z" fill="#65c88d" class="u"/><path d="M734.6 87 738.4 88.1 740.5 86.2 736.7 85z" fill="#63c88e" class="u"/><path d="M727.3 88.1 731 89.2 733.2 87.2 729.4 86.1z" fill="#60c890" class="u"/><path d="M732 89.5 735.8 90.7 737.9 88.6 734.1 87.5z" fill="#63c88e" class="u"/></g>
</g>
<g id="pane3d_13">
<g id="patch_14">
<path d="M 30.76 270.35 L 78.41 230.41 L 77.74 172.80 L 27.81 209.24 " style="fill: #f2f2f2; opacity: 0.5; stroke: #f2f2f2; stroke-linejoin: miter"/>
</g>
</g>
<g id="pane3d_14">
<g id="patch_15">
<path d="M 78.41 230.41 L 154.87 252.63 L 157.60 193.05 L 77.74 172.80 " style="fill: #e6e6e6; opacity: 0.5; stroke: #e6e6e6; stroke-linejoin: miter"/>
</g>
</g>
<g id="pane3d_15">
<g id="patch_16">
<path d="M 30.76 270.35 L 111.81 296.82 L 154.87 252.63 L 78.41 230.41 " style="fill: #ececec; opacity: 0.5; stroke: #ececec; stroke-linejoin: miter"/>
</g>
</g>
<g id="grid3d_13">
<g id="Line3DCollection_13">
<path d="M 44.61 274.87 L 91.52 234.22 L 91.42 176.27 " style="fill: none; stroke: #999999; stroke-width: 0.8"/>
<path d="M 62.81 280.82 L 108.73 239.22 L 109.37 180.82 " style="fill: none; stroke: #999999; stroke-width: 0.8"/>
<path d="M 81.46 286.91 L 126.32 244.33 L 127.74 185.48 " style="fill: none; stroke: #999999; stroke-width: 0.8"/>
<path d="M 100.57 293.15 L 144.30 249.56 L 146.54 190.24 " style="fill: none; stroke: #999999; stroke-width: 0.8"/>
</g>
</g>
<g id="grid3d_14">
<g id="Line3DCollection_14">
<path d="M 37.40 202.25 L 39.87 262.71 L 120.08 288.34 " style="fill: none; stroke: #999999; stroke-width: 0.8"/>
<path d="M 49.27 193.58 L 51.19 253.22 L 130.32 277.82 " style="fill: none; stroke: #999999; stroke-width: 0.8"/>
<path d="M 60.67 185.26 L 62.07 244.10 L 140.15 267.73 " style="fill: none; stroke: #999999; stroke-width: 0.8"/>
<path d="M 71.62 177.27 L 72.54 235.32 L 149.59 258.05 " style="fill: none; stroke: #999999; stroke-width: 0.8"/>
</g>
</g>
<g id="grid3d_15">
<g id="Line3DCollection_15">
<path d="M 154.92 251.49 L 78.39 229.30 L 30.70 269.18 " style="fill: none; stroke: #bdbdbd; stroke-width: 0.8"/>
<path d="M 156.17 224.32 L 78.09 203.01 L 29.36 241.34 " style="fill: none; stroke: #bdbdbd; stroke-width: 0.8"/>
<path d="M 157.46 196.03 L 77.78 175.68 L 27.96 212.30 " style="fill: none; stroke: #bdbdbd; stroke-width: 0.8"/>
</g>
</g>
<g id="axis3d_13">
<g id="line2d_97">
<path d="M 30.76 270.35 L 111.81 296.82 " style="fill: none; stroke: #000000; stroke-width: 0.8; stroke-linecap: square"/>
</g>
<g id="xtick_85">
<g id="line2d_98">
<path d="M 45.01 274.52 L 43.79 275.58 " style="fill: none; stroke: #000000; stroke-width: 0.8; stroke-linecap: square"/>
</g>
</g>
<g id="xtick_86">
<g id="line2d_99">
<path d="M 63.21 280.46 L 62.01 281.55 " style="fill: none; stroke: #000000; stroke-width: 0.8; stroke-linecap: square"/>
</g>
</g>
<g id="xtick_87">
<g id="line2d_100">
<path d="M 81.85 286.54 L 80.67 287.65 " style="fill: none; stroke: #000000; stroke-width: 0.8; stroke-linecap: square"/>
</g>
</g>
<g id="xtick_88">
<g id="line2d_101">
<path d="M 100.95 292.77 L 99.80 293.91 " style="fill: none; stroke: #000000; stroke-width: 0.8; stroke-linecap: square"/>
</g>
</g>
</g>
<g id="axis3d_14">
<g id="line2d_102">
<path d="M 154.87 252.63 L 111.81 296.82 " style="fill: none; stroke: #000000; stroke-width: 0.8; stroke-linecap: square"/>
</g>
<g id="xtick_89">
<g id="line2d_103">
<path d="M 119.40 288.12 L 121.43 288.77 " style="fill: none; stroke: #000000; stroke-width: 0.8; stroke-linecap: square"/>
</g>
</g>
<g id="xtick_90">
<g id="line2d_104">
<path d="M 129.66 277.62 L 131.66 278.24 " style="fill: none; stroke: #000000; stroke-width: 0.8; stroke-linecap: square"/>
</g>
</g>
<g id="xtick_91">
<g id="line2d_105">
<path d="M 139.50 267.54 L 141.47 268.13 " style="fill: none; stroke: #000000; stroke-width: 0.8; stroke-linecap: square"/>
</g>
</g>
<g id="xtick_92">
<g id="line2d_106">
<path d="M 148.95 257.86 L 150.89 258.43 " style="fill: none; stroke: #000000; stroke-width: 0.8; stroke-linecap: square"/>
</g>
</g>
</g>
<g id="axis3d_15">
<g id="line2d_107">
<path d="M 154.87 252.63 L 157.60 193.05 " style="fill: none; stroke: #000000; stroke-width: 0.8; stroke-linecap: square"/>
</g>
<g id="xtick_93">
<g id="line2d_108">
<path d="M 154.28 251.30 L 156.21 251.86 " style="fill: none; stroke: #000000; stroke-width: 0.8; stroke-linecap: square"/>
</g>
<g id="text_13">
<text style="font-size: 10px; font-family: 'DejaVu Sans'; text-anchor: middle" x="170.78" y="256.83">−0.5</text>
</g>
</g>
<g id="xtick_94">
<g id="line2d_109">
<path d="M 155.51 224.14 L 157.48 224.68 " style="fill: none; stroke: #000000; stroke-width: 0.8; stroke-linecap: square"/>
</g>
<g id="text_14">
<text style="font-size: 10px; font-family: 'DejaVu Sans'; text-anchor: middle" x="172.34" y="229.75">0.0</text>
</g>
</g>
<g id="xtick_95">
<g id="line2d_110">
<path d="M 156.79 195.86 L 158.80 196.37 " style="fill: none; stroke: #000000; stroke-width: 0.8; stroke-linecap: square"/>
</g>
<g id="text_15">
<text style="font-size: 10px; font-family: 'DejaVu Sans'; text-anchor: middle" x="173.96" y="201.55">0.5</text>
</g>
</g>
</g>
<g id="axes_5">
<g class="b" stroke-width="0.63"><path d="M80 206.6 93.9 210.4 93.9 209.7 80 205.9z" fill="#386a49"/><path d="M71.6 213.2 80 206.6 80 205.9 71.6 212.6z" fill="#77e19c"/><path d="M71.6 213.2 85.7 217.2 93.9 210.4 80 206.6z" fill="#48885e"/><path d="M71.6 212.6 85.7 216.5 93.9 209.7 80 205.9z" fill="#67c387"/><path d="M97.4 211.4 111.7 215.3 111.7 213.1 97.4 209.2z" fill="#3e6946"/><path d="M85.7 217.2 93.9 210.4 93.9 209.7 85.7 216.5z" fill="#386a49"/><path d="M89.2 218.2 97.4 211.4 97.4 209.2 89.2 216z" fill="#83df95"/><path d="M71.6 213.2 85.7 217.2 85.7 216.5 71.6 212.6z" fill="#77e19c"/><path d="M69.5 217.1 83.6 221.1 83.6 218.9 69.5 214.9z" fill="#2c6950"/><path d="M89.2 218.2 103.6 222.2 111.7 215.3 97.4 211.4z" fill="#4f875a"/><path d="M89.2 216 103.6 220 111.7 213.1 97.4 209.2z" fill="#72c281"/><path d="M60.8 224.1 69.5 217.1 69.5 214.9 60.8 221.9z" fill="#5edfa9"/><path d="M115.3 216.3 129.8 220.3 129.9 217.8 115.3 213.8z" fill="#3f6946"/><path d="M103.6 222.2 111.7 215.3 111.7 213.1 103.6 220z" fill="#3e6946"/><path d="M60.8 224.1 75 228.2 83.6 221.1 69.5 217.1z" fill="#398766"/><path d="M107.2 223.2 115.3 216.3 115.3 213.8 107.3 220.7z" fill="#85df94"/><path d="M60.8 221.9 75 226 83.6 218.9 69.5 214.9z" fill="#52c293"/><path d="M89.2 218.2 103.6 222.2 103.6 220 89.2 216z" fill="#83df95"/><path d="M107.2 223.2 122 227.4 129.8 220.3 115.3 216.3z" fill="#508759"/><path d="M75 228.2 83.6 221.1 83.6 218.9 75 226z" fill="#2c6950"/><path d="M107.3 220.7 122 224.9 129.9 217.8 115.3 213.8z" fill="#73c280"/><path d="M133.5 221.3 148.4 225.4 148.4 224.7 133.5 220.6z" fill="#386a49"/><path d="M60.8 224.1 75 228.2 75 226 60.8 221.9z" fill="#5edfa9"/><path d="M122 227.4 129.8 220.3 129.9 217.8 122 224.9z" fill="#3f6946"/><path d="M125.7 228.4 133.5 221.3 133.5 220.6 125.7 227.8z" fill="#77e19c"/><path d="M58.6 225.9 72.9 230 72.8 227.8 58.6 223.6z" fill="#2c6950"/><path d="M78.6 227 93.2 231.2 101.6 224 87.1 219.9z" fill="#881c0e"/><path d="M107.2 223.2 122 227.4 122 224.9 107.3 220.7z" fill="#85df94"/><path d="M87.1 219.9 101.6 224 101.7 199.7 87 195.8z" fill="#6a160b"/><path d="M49.6 233.1 58.6 225.9 58.6 223.6 49.5 230.9z" fill="#5edfa9"/><path d="M125.7 228.4 140.7 232.7 148.4 225.4 133.5 221.3z" fill="#48885e"/><path d="M125.7 227.8 140.8 232 148.4 224.7 133.5 220.6z" fill="#67c387"/><path d="M78.6 227 87.1 219.9 87 195.8 78.3 202.7z" fill="#e12f18"/><path d="M49.6 233.1 64 237.4 72.9 230 58.6 225.9z" fill="#398766"/><path d="M140.7 232.7 148.4 225.4 148.4 224.7 140.8 232z" fill="#386a49"/><path d="M49.5 230.9 63.9 235.1 72.8 227.8 58.6 223.6z" fill="#52c293"/><path d="M125.7 228.4 140.7 232.7 140.8 232 125.7 227.8z" fill="#77e19c"/><path d="M96.9 232.3 111.8 236.6 120 229.2 105.2 225z" fill="#880c06"/><path d="M64 237.4 72.9 230 72.8 227.8 63.9 235.1z" fill="#2c6950"/><path d="M105.2 225 120 229.2 120.5 202.4 105.4 198.4z" fill="#6a0905"/><path d="M93.2 231.2 101.6 224 101.7 199.7 93.2 206.7z" fill="#6a160b"/><path d="M49.6 233.1 64 237.4 63.9 235.1 49.5 230.9z" fill="#5edfa9"/><path d="M123.7 230.2 138.8 234.5 138.9 232 123.8 227.7z" fill="#3f6946"/><path d="M96.9 232.3 105.2 225 105.4 198.4 96.9 205.4z" fill="#e1130a"/><path d="M78.6 227 93.2 231.2 93.2 206.7 78.3 202.7z" fill="#e12f18"/><path d="M78.3 202.7 93.2 206.7 101.7 199.7 87 195.8z" fill="#c42914"/><path d="M115.6 237.7 123.7 230.2 123.8 227.7 115.6 235.1z" fill="#85df94"/><path d="M67.6 236.2 82.3 240.6 91 233.1 76.4 228.8z" fill="#880201"/><path d="M47.2 232.7 61.6 237 61.6 236.2 47.1 231.9z" fill="#386a49"/><path d="M76.4 228.8 91 233.1 91 204.7 76.1 200.6z" fill="#6a0101"/><path d="M115.6 237.7 130.9 242.1 138.8 234.5 123.7 230.2z" fill="#508759"/><path d="M37.7 240.2 47.2 232.7 47.1 231.9 37.7 239.4z" fill="#77e19c"/><path d="M115.6 235.1 130.9 239.5 138.9 232 123.8 227.7z" fill="#73c280"/><path d="M67.6 236.2 76.4 228.8 76.1 200.6 67 207.7z" fill="#e10301"/><path d="M111.8 236.6 120 229.2 120.5 202.4 112.2 209.5z" fill="#6a0905"/><path d="M37.7 240.2 52.3 244.7 61.6 237 47.2 232.7z" fill="#48885e"/><path d="M130.9 242.1 138.8 234.5 138.9 232 130.9 239.5z" fill="#3f6946"/><path d="M37.7 239.4 52.3 243.8 61.6 236.2 47.1 231.9z" fill="#67c387"/><path d="M96.9 232.3 111.8 236.6 112.2 209.5 96.9 205.4z" fill="#e1130a"/><path d="M96.9 205.4 112.2 209.5 120.5 202.4 105.4 198.4z" fill="#c41108"/><path d="M65.3 240.4 80.1 244.8 80.1 242.5 65.3 238.1z" fill="#2c6950"/><path d="M86.1 241.7 101.2 246.2 109.7 238.5 94.7 234.1z" fill="#882111"/><path d="M115.6 237.7 130.9 242.1 130.9 239.5 115.6 235.1z" fill="#85df94"/><path d="M94.7 234.1 109.7 238.5 110 214.3 94.8 210.1z" fill="#6a1a0d"/><path d="M52.3 244.7 61.6 237 61.6 236.2 52.3 243.8z" fill="#386a49"/><path d="M56.1 248.1 65.3 240.4 65.3 238.1 56 245.8z" fill="#5edfa9"/><path d="M82.3 240.6 91 233.1 91 204.7 82.1 211.9z" fill="#6a0101"/><path d="M86.1 241.7 94.7 234.1 94.8 210.1 85.9 217.4z" fill="#e1371c"/><path d="M113.5 239.6 128.8 244 128.9 241.7 113.5 237.3z" fill="#3e6946"/><path d="M37.7 240.2 52.3 244.7 52.3 243.8 37.7 239.4z" fill="#77e19c"/><path d="M67.6 236.2 82.3 240.6 82.1 211.9 67 207.7z" fill="#e10301"/><path d="M56.1 248.1 71 252.7 80.1 244.8 65.3 240.4z" fill="#398766"/><path d="M105 247.3 113.5 239.6 113.5 237.3 105 245z" fill="#83df95"/><path d="M56 245.8 71 250.4 80.1 242.5 65.3 238.1z" fill="#52c293"/><path d="M67 207.7 82.1 211.9 91 204.7 76.1 200.6z" fill="#c40201"/><path d="M83.9 245.9 99 250.5 99 248.2 83.8 243.6z" fill="#2c6950"/><path d="M105 247.3 120.5 251.9 128.8 244 113.5 239.6z" fill="#4f875a"/><path d="M71 252.7 80.1 244.8 80.1 242.5 71 250.4z" fill="#2c6950"/><path d="M105 245 120.6 249.6 128.9 241.7 113.5 237.3z" fill="#72c281"/><path d="M101.2 246.2 109.7 238.5 110 214.3 101.3 221.7z" fill="#6a1a0d"/><path d="M74.8 253.8 83.9 245.9 83.8 243.6 74.8 251.5z" fill="#5edfa9"/><path d="M56.1 248.1 71 252.7 71 250.4 56 245.8z" fill="#5edfa9"/><path d="M86.1 241.7 101.2 246.2 101.3 221.7 85.9 217.4z" fill="#e1371c"/><path d="M120.5 251.9 128.8 244 128.9 241.7 120.6 249.6z" fill="#3e6946"/><path d="M85.9 217.4 101.3 221.7 110 214.3 94.8 210.1z" fill="#c43018"/><path d="M74.8 253.8 90.1 258.5 99 250.5 83.9 245.9z" fill="#398766"/><path d="M74.8 251.5 90.1 256.2 99 248.2 83.8 243.6z" fill="#52c293"/><path d="M105 247.3 120.5 251.9 120.6 249.6 105 245z" fill="#83df95"/><path d="M102.9 249.3 118.4 253.9 118.4 253.3 102.9 248.6z" fill="#386a49"/><path d="M90.1 258.5 99 250.5 99 248.2 90.1 256.2z" fill="#2c6950"/><path d="M74.8 253.8 90.1 258.5 90.1 256.2 74.8 251.5z" fill="#5edfa9"/><path d="M94 257.4 102.9 249.3 102.9 248.6 94 256.7z" fill="#77e19c"/><path d="M94 257.4 109.8 262.2 118.4 253.9 102.9 249.3z" fill="#48885e"/><path d="M94 256.7 109.8 261.5 118.4 253.3 102.9 248.6z" fill="#67c387"/><path d="M109.8 262.2 118.4 253.9 118.4 253.3 109.8 261.5z" fill="#386a49"/><path d="M94 257.4 109.8 262.2 109.8 261.5 94 256.7z" fill="#77e19c"/></g>
</g>
<g id="pane3d_16">
<g id="patch_17">
<path d="M 239.44 270.35 L 287.09 230.41 L 286.43 172.80 L 236.50 209.24 " style="fill: #f2f2f2; opacity: 0.5; stroke: #f2f2f2; stroke-linejoin: miter"/>
</g>
</g>
<g id="pane3d_17">
<g id="patch_18">
<path d="M 287.09 230.41 L 363.56 252.63 L 366.28 193.05 L 286.43 172.80 " style="fill: #e6e6e6; opacity: 0.5; stroke: #e6e6e6; stroke-linejoin: miter"/>
</g>
</g>
<g id="pane3d_18">
<g id="patch_19">
<path d="M 239.44 270.35 L 320.50 296.82 L 363.56 252.63 L 287.09 230.41 " style="fill: #ececec; opacity: 0.5; stroke: #ececec; stroke-linejoin: miter"/>
</g>
</g>
<g id="grid3d_16">
<g id="Line3DCollection_16">
<path d="M 248.69 273.37 L 295.85 232.95 L 295.56 175.12 " style="fill: none; stroke: #999999; stroke-width: 0.8"/>
<path d="M 257.45 276.23 L 304.14 235.36 L 304.21 177.31 " style="fill: none; stroke: #999999; stroke-width: 0.8"/>
<path d="M 266.32 279.13 L 312.52 237.80 L 312.95 179.53 " style="fill: none; stroke: #999999; stroke-width: 0.8"/>
<path d="M 275.28 282.06 L 320.99 240.26 L 321.79 181.77 " style="fill: none; stroke: #999999; stroke-width: 0.8"/>
<path d="M 284.36 285.02 L 329.55 242.75 L 330.73 184.03 " style="fill: none; stroke: #999999; stroke-width: 0.8"/>
<path d="M 293.54 288.02 L 338.20 245.26 L 339.77 186.32 " style="fill: none; stroke: #999999; stroke-width: 0.8"/>
<path d="M 302.83 291.05 L 346.95 247.81 L 348.91 188.64 " style="fill: none; stroke: #999999; stroke-width: 0.8"/>
<path d="M 312.23 294.12 L 355.79 250.38 L 358.16 190.99 " style="fill: none; stroke: #999999; stroke-width: 0.8"/>
</g>
</g>
<g id="grid3d_17">
<g id="Line3DCollection_17">
<path d="M 242.95 204.53 L 245.58 265.20 L 326.07 291.11 " style="fill: none; stroke: #999999; stroke-width: 0.8"/>
<path d="M 248.87 200.22 L 251.21 260.49 L 331.17 285.87 " style="fill: none; stroke: #999999; stroke-width: 0.8"/>
<path d="M 254.66 195.99 L 256.73 255.86 L 336.16 280.74 " style="fill: none; stroke: #999999; stroke-width: 0.8"/>
<path d="M 260.34 191.85 L 262.15 251.32 L 341.06 275.72 " style="fill: none; stroke: #999999; stroke-width: 0.8"/>
<path d="M 265.90 187.79 L 267.46 246.87 L 345.86 270.79 " style="fill: none; stroke: #999999; stroke-width: 0.8"/>
<path d="M 271.36 183.80 L 272.67 242.50 L 350.56 265.97 " style="fill: none; stroke: #999999; stroke-width: 0.8"/>
<path d="M 276.71 179.90 L 277.78 238.21 L 355.17 261.23 " style="fill: none; stroke: #999999; stroke-width: 0.8"/>
<path d="M 281.95 176.07 L 282.81 234.00 L 359.70 256.59 " style="fill: none; stroke: #999999; stroke-width: 0.8"/>
</g>
</g>
<g id="grid3d_18">
<g id="Line3DCollection_18">
<path d="M 363.61 251.49 L 287.08 229.30 L 239.39 269.18 " style="fill: none; stroke: #bdbdbd; stroke-width: 0.8"/>
<path d="M 364.85 224.32 L 286.78 203.01 L 238.04 241.34 " style="fill: none; stroke: #bdbdbd; stroke-width: 0.8"/>
<path d="M 366.15 196.03 L 286.46 175.68 L 236.65 212.30 " style="fill: none; stroke: #bdbdbd; stroke-width: 0.8"/>
</g>
</g>
<g id="axis3d_16">
<g id="line2d_111">
<path d="M 239.44 270.35 L 320.50 296.82 " style="fill: none; stroke: #000000; stroke-width: 0.8; stroke-linecap: square"/>
</g>
<g id="xtick_96">
<g id="line2d_112">
<path d="M 249.10 273.02 L 247.87 274.08 " style="fill: none; stroke: #000000; stroke-width: 0.8; stroke-linecap: square"/>
</g>
</g>
<g id="xtick_97">
<g id="line2d_113">
<path d="M 257.86 275.88 L 256.64 276.95 " style="fill: none; stroke: #000000; stroke-width: 0.8; stroke-linecap: square"/>
</g>
</g>
<g id="xtick_98">
<g id="line2d_114">
<path d="M 266.72 278.77 L 265.51 279.85 " style="fill: none; stroke: #000000; stroke-width: 0.8; stroke-linecap: square"/>
</g>
</g>
<g id="xtick_99">
<g id="line2d_115">
<path d="M 275.68 281.69 L 274.48 282.79 " style="fill: none; stroke: #000000; stroke-width: 0.8; stroke-linecap: square"/>
</g>
</g>
<g id="xtick_100">
<g id="line2d_116">
<path d="M 284.75 284.65 L 283.57 285.76 " style="fill: none; stroke: #000000; stroke-width: 0.8; stroke-linecap: square"/>
</g>
</g>
<g id="xtick_101">
<g id="line2d_117">
<path d="M 293.93 287.64 L 292.76 288.77 " style="fill: none; stroke: #000000; stroke-width: 0.8; stroke-linecap: square"/>
</g>
</g>
<g id="xtick_102">
<g id="line2d_118">
<path d="M 303.22 290.67 L 302.06 291.81 " style="fill: none; stroke: #000000; stroke-width: 0.8; stroke-linecap: square"/>
</g>
</g>
<g id="xtick_103">
<g id="line2d_119">
<path d="M 312.61 293.74 L 311.47 294.89 " style="fill: none; stroke: #000000; stroke-width: 0.8; stroke-linecap: square"/>
</g>
</g>
</g>
<g id="axis3d_17">
<g id="line2d_120">
<path d="M 363.56 252.63 L 320.50 296.82 " style="fill: none; stroke: #000000; stroke-width: 0.8; stroke-linecap: square"/>
</g>
<g id="xtick_104">
<g id="line2d_121">
<path d="M 325.39 290.89 L 327.42 291.54 " style="fill: none; stroke: #000000; stroke-width: 0.8; stroke-linecap: square"/>
</g>
</g>
<g id="xtick_105">
<g id="line2d_122">
<path d="M 330.49 285.66 L 332.51 286.30 " style="fill: none; stroke: #000000; stroke-width: 0.8; stroke-linecap: square"/>
</g>
</g>
<g id="xtick_106">
<g id="line2d_123">
<path d="M 335.49 280.53 L 337.50 281.16 " style="fill: none; stroke: #000000; stroke-width: 0.8; stroke-linecap: square"/>
</g>
</g>
<g id="xtick_107">
<g id="line2d_124">
<path d="M 340.40 275.51 L 342.39 276.13 " style="fill: none; stroke: #000000; stroke-width: 0.8; stroke-linecap: square"/>
</g>
</g>
<g id="xtick_108">
<g id="line2d_125">
<path d="M 345.20 270.59 L 347.18 271.20 " style="fill: none; stroke: #000000; stroke-width: 0.8; stroke-linecap: square"/>
</g>
</g>
<g id="xtick_109">
<g id="line2d_126">
<path d="M 349.91 265.77 L 351.87 266.36 " style="fill: none; stroke: #000000; stroke-width: 0.8; stroke-linecap: square"/>
</g>
</g>
<g id="xtick_110">
<g id="line2d_127">
<path d="M 354.52 261.04 L 356.48 261.62 " style="fill: none; stroke: #000000; stroke-width: 0.8; stroke-linecap: square"/>
</g>
</g>
<g id="xtick_111">
<g id="line2d_128">
<path d="M 359.05 256.40 L 360.99 256.97 " style="fill: none; stroke: #000000; stroke-width: 0.8; stroke-linecap: square"/>
</g>
</g>
</g>
<g id="axis3d_18">
<g id="line2d_129">
<path d="M 363.56 252.63 L 366.28 193.05 " style="fill: none; stroke: #000000; stroke-width: 0.8; stroke-linecap: square"/>
</g>
<g id="xtick_112">
<g id="line2d_130">
<path d="M 362.97 251.30 L 364.89 251.86 " style="fill: none; stroke: #000000; stroke-width: 0.8; stroke-linecap: square"/>
</g>
<g id="text_16">
<text style="font-size: 10px; font-family: 'DejaVu Sans'; text-anchor: middle" x="379.46" y="256.83">−0.5</text>
</g>
</g>
<g id="xtick_113">
<g id="line2d_131">
<path d="M 364.20 224.14 L 366.17 224.68 " style="fill: none; stroke: #000000; stroke-width: 0.8; stroke-linecap: square"/>
</g>
<g id="text_17">
<text style="font-size: 10px; font-family: 'DejaVu Sans'; text-anchor: middle" x="381.02" y="229.75">0.0</text>
</g>
</g>
<g id="xtick_114">
<g id="line2d_132">
<path d="M 365.48 195.86 L 367.49 196.37 " style="fill: none; stroke: #000000; stroke-width: 0.8; stroke-linecap: square"/>
</g>
<g id="text_18">
<text style="font-size: 10px; font-family: 'DejaVu Sans'; text-anchor: middle" x="382.65" y="201.55">0.5</text>
</g>
</g>
</g>
<g id="axes_6">
<g class="b" stroke-width="0.63"><path d="M288.7 207.4 295.4 209.3 295.4 208.4 288.7 206.6z" fill="#326a4d"/><path d="M284.6 210.6 288.7 207.4 288.7 206.6 284.6 209.8z" fill="#6ae1a3"/><path d="M284.6 210.6 291.4 212.5 295.4 209.3 288.7 207.4z" fill="#408862"/><path d="M284.6 209.8 291.4 211.7 295.4 208.4 288.7 206.6z" fill="#5cc38d"/><path d="M297.1 210 303.9 211.9 303.9 210.8 297.1 208.9z" fill="#316a4e"/><path d="M291.4 212.5 295.4 209.3 295.4 208.4 291.4 211.7z" fill="#326a4d"/><path d="M293.1 213.2 297.1 210 297.1 208.9 293.1 212.2z" fill="#67e1a5"/><path d="M284.6 210.6 291.4 212.5 291.4 211.7 284.6 209.8z" fill="#6ae1a3"/><path d="M293.1 213.2 300 215.1 303.9 211.9 297.1 210z" fill="#3e8863"/><path d="M293.1 212.2 300 214.1 303.9 210.8 297.1 208.9z" fill="#59c38f"/><path d="M300 215.1 303.9 211.9 303.9 210.8 300 214.1z" fill="#316a4e"/><path d="M293.1 213.2 300 215.1 300 214.1 293.1 212.2z" fill="#67e1a5"/><path d="M279.5 213.9 286.3 215.8 290.4 212.5 283.6 210.6z" fill="#58b17e" class="t"/><path d="M301.7 214.5 308.6 216.5 312.6 213.1 305.7 211.2z" fill="#56b17e" class="t"/><path d="M278.5 215.4 285.3 217.4 285.3 216.6 278.4 214.7z" fill="#326a4d"/><path d="M288 216.3 294.9 218.2 299 214.9 292.1 213z" fill="#58b17e" class="t"/><path d="M310.4 216.9 317.4 218.9 321.3 215.5 314.3 213.6z" fill="#55b17f" class="t"/><path d="M274.3 218.8 278.5 215.4 278.4 214.7 274.2 218.1z" fill="#6ae1a3"/><path d="M300.7 215.4 307.6 217.3 307.6 214.6 300.7 212.6z" fill="#406945"/><path d="M274.3 218.8 281.1 220.7 285.3 217.4 278.5 215.4z" fill="#408862"/><path d="M274.2 218.1 281.1 220 285.3 216.6 278.4 214.7z" fill="#5cc38d"/><path d="M296.7 218.7 300.7 215.4 300.7 212.6 296.6 216z" fill="#87df93"/><path d="M296.7 218.7 303.6 220.7 307.6 217.3 300.7 215.4z" fill="#518658"/><path d="M281.1 220.7 285.3 217.4 285.3 216.6 281.1 220z" fill="#326a4d"/><path d="M319.1 218.9 326.2 220.9 330.1 217.5 323 215.5z" fill="#5cb17b" class="t"/><path d="M296.6 216 303.6 217.9 307.6 214.6 300.7 212.6z" fill="#75c17f"/><path d="M274.3 218.8 281.1 220.7 281.1 220 274.2 218.1z" fill="#6ae1a3"/><path d="M303.6 220.7 307.6 217.3 307.6 214.6 303.6 217.9z" fill="#406945"/><path d="M273.2 220.1 280.1 222 280.1 220.9 273.2 218.9z" fill="#316a4e"/><path d="M282.8 220.5 289.8 222.5 293.9 219.1 287 217.1z" fill="#55b17f" class="t"/><path d="M296.7 218.7 303.6 220.7 303.6 217.9 296.6 216z" fill="#87df93"/><path d="M268.9 223.5 273.2 220.1 273.2 218.9 268.9 222.3z" fill="#67e1a5"/><path d="M305.4 221.2 312.4 223.2 316.4 219.7 309.4 217.8z" fill="#55b17f" class="t"/><path d="M268.9 223.5 275.8 225.5 280.1 222 273.2 220.1z" fill="#3e8863"/><path d="M328 221.5 335.2 223.4 339 220 331.8 218z" fill="#5bb17c" class="t"/><path d="M268.9 222.3 275.8 224.3 280.1 220.9 273.2 218.9z" fill="#59c38f"/><path d="M340.7 221.7 347.9 223.7 348 222.9 340.8 220.9z" fill="#326a4d"/><path d="M291.5 223 298.5 225 302.6 221.5 295.6 219.6z" fill="#882613"/><path d="M275.8 225.5 280.1 222 280.1 220.9 275.8 224.3z" fill="#316a4e"/><path d="M337 225.2 340.7 221.7 340.8 220.9 337 224.3z" fill="#6ae1a3"/><path d="M314.2 223.5 321.4 225.5 325.3 222 318.2 220z" fill="#59b17d" class="t"/><path d="M268.9 223.5 275.8 225.5 275.8 224.3 268.9 222.3z" fill="#67e1a5"/><path d="M304.4 222 311.4 224 311.4 223.3 304.4 221.4z" fill="#386a49"/><path d="M337 225.2 344.2 227.2 347.9 223.7 340.7 221.7z" fill="#408862"/><path d="M337 224.3 344.2 226.3 348 222.9 340.8 220.9z" fill="#5cc38d"/><path d="M300.3 225.5 304.4 222 304.4 221.4 300.3 224.8z" fill="#77e19c"/><path d="M327 222.7 334.2 224.7 334.3 222.5 327.1 220.5z" fill="#3e6946"/><path d="M277.5 224.8 284.5 226.8 288.7 223.4 281.8 221.4z" fill="#59b17d" class="t"/><path d="M295.6 219.6 302.6 221.5 302.6 198.5 295.5 196.6z" fill="#6a1e0f"/><path d="M267.8 223.2 274.7 225.2 274.7 224.2 267.8 222.2z" fill="#396a49"/><path d="M344.2 227.2 347.9 223.7 348 222.9 344.2 226.3z" fill="#326a4d"/><path d="M349.8 223.4 357.1 225.4 357.1 224.6 349.8 222.6z" fill="#386a49"/><path d="M290.5 225.5 297.5 227.5 297.5 225.9 290.5 223.9z" fill="#2f6a4f"/><path d="M300.3 225.5 307.4 227.5 311.4 224 304.4 222z" fill="#48885e"/><path d="M323.1 226.2 327 222.7 327.1 220.5 323.2 223.9z" fill="#83df95"/><path d="M300.3 224.8 307.4 226.8 311.4 223.3 304.4 221.4z" fill="#67c387"/><path d="M291.5 223 295.6 219.6 295.5 196.6 291.3 199.9z" fill="#e13f20"/><path d="M263.4 226.7 267.8 223.2 267.8 222.2 263.4 225.6z" fill="#79e19b"/><path d="M337 225.2 344.2 227.2 344.2 226.3 337 224.3z" fill="#6ae1a3"/><path d="M346 226.9 349.8 223.4 349.8 222.6 346.1 226.1z" fill="#77e19c"/><path d="M313.2 226.2 320.3 228.2 320.4 226.5 313.2 224.5z" fill="#2f6a4f"/><path d="M286.3 229 290.5 225.5 290.5 223.9 286.3 227.4z" fill="#63e0a6"/><path d="M323.1 226.2 330.4 228.2 334.2 224.7 327 222.7z" fill="#4f875a"/><path d="M307.4 227.5 311.4 224 311.4 223.3 307.4 226.8z" fill="#386a49"/><path d="M263.4 226.7 270.4 228.7 274.7 225.2 267.8 223.2z" fill="#49885d"/><path d="M309.2 229.7 313.2 226.2 313.2 224.5 309.2 228z" fill="#63e0a6"/><path d="M286.3 229 293.4 231.1 297.5 227.5 290.5 225.5z" fill="#3c8765"/><path d="M346 226.9 353.4 228.9 357.1 225.4 349.8 223.4z" fill="#48885e"/><path d="M323.2 223.9 330.4 226 334.3 222.5 327.1 220.5z" fill="#72c281"/><path d="M263.4 225.6 270.4 227.7 274.7 224.2 267.8 222.2z" fill="#69c386"/><path d="M336 225.2 343.3 227.2 343.3 226.4 336 224.3z" fill="#386a49"/><path d="M346.1 226.1 353.4 228.1 357.1 224.6 349.8 222.6z" fill="#67c387"/><path d="M286.3 227.4 293.3 229.4 297.5 225.9 290.5 223.9z" fill="#56c390"/><path d="M300.3 225.5 307.4 227.5 307.4 226.8 300.3 224.8z" fill="#77e19c"/><path d="M309.2 229.7 316.4 231.8 320.3 228.2 313.2 226.2z" fill="#3c8765"/><path d="M330.4 228.2 334.2 224.7 334.3 222.5 330.4 226z" fill="#3e6946"/><path d="M298.5 225 302.6 221.5 302.6 198.5 298.5 201.9z" fill="#6a1e0f"/><path d="M332.2 228.7 336 225.2 336 224.3 332.2 227.8z" fill="#77e19c"/><path d="M270.4 228.7 274.7 225.2 274.7 224.2 270.4 227.7z" fill="#396a49"/><path d="M299.3 227.4 306.4 229.5 306.4 228.4 299.3 226.4z" fill="#316a4d"/><path d="M353.4 228.9 357.1 225.4 357.1 224.6 353.4 228.1z" fill="#386a49"/><path d="M309.2 228 316.4 230.1 320.4 226.5 313.2 224.5z" fill="#56c390"/><path d="M293.4 231.1 297.5 227.5 297.5 225.9 293.3 229.4z" fill="#2f6a4f"/><path d="M323.1 226.2 330.4 228.2 330.4 226 323.2 223.9z" fill="#83df95"/><path d="M291.5 223 298.5 225 298.5 201.9 291.3 199.9z" fill="#e13f20"/><path d="M263.4 226.7 270.4 228.7 270.4 227.7 263.4 225.6z" fill="#79e19b"/><path d="M295.1 231 299.3 227.4 299.3 226.4 295.1 229.9z" fill="#69e1a4"/><path d="M332.2 228.7 339.5 230.8 343.3 227.2 336 225.2z" fill="#48885e"/><path d="M346 226.9 353.4 228.9 353.4 228.1 346.1 226.1z" fill="#77e19c"/><path d="M316.4 231.8 320.3 228.2 320.4 226.5 316.4 230.1z" fill="#2f6a4f"/><path d="M286.3 229 293.4 231.1 293.3 229.4 286.3 227.4z" fill="#63e0a6"/><path d="M332.2 227.8 339.5 229.9 343.3 226.4 336 224.3z" fill="#67c387"/><path d="M345.1 228.6 352.4 230.6 352.4 229.8 345.1 227.7z" fill="#326a4d"/><path d="M272.1 228.6 279.2 230.7 283.5 227.1 276.5 225.1z" fill="#5cb17b" class="t"/><path d="M309.2 229.7 316.4 231.8 316.4 230.1 309.2 228z" fill="#63e0a6"/><path d="M295.1 231 302.3 233 306.4 229.5 299.3 227.4z" fill="#3f8863"/><path d="M339.5 230.8 343.3 227.2 343.3 226.4 339.5 229.9z" fill="#386a49"/><path d="M295.1 229.9 302.3 232 306.4 228.4 299.3 226.4z" fill="#5bc38e"/><path d="M341.3 232.2 345.1 228.6 345.1 227.7 341.3 231.3z" fill="#6ae1a3"/><path d="M285.2 228.2 292.3 230.3 292.3 228 285.2 226z" fill="#3e6946"/><path d="M291.3 199.9 298.5 201.9 302.6 198.5 295.5 196.6z" fill="#c4371c"/><path d="M318.2 230.6 325.4 232.7 329.4 229.1 322.2 227.1z" fill="#88170c"/><path d="M332.2 228.7 339.5 230.8 339.5 229.9 332.2 227.8z" fill="#77e19c"/><path d="M302.3 233 306.4 229.5 306.4 228.4 302.3 232z" fill="#316a4d"/><path d="M341.3 232.2 348.7 234.2 352.4 230.6 345.1 228.6z" fill="#408862"/><path d="M280.9 231.8 285.2 228.2 285.2 226 280.9 229.5z" fill="#83df95"/><path d="M257.9 230.9 264.9 233 269.3 229.4 262.3 227.3z" fill="#59b17d" class="t"/><path d="M341.3 231.3 348.7 233.4 352.4 229.8 345.1 227.7z" fill="#5cc38d"/><path d="M295.1 231 302.3 233 302.3 232 295.1 229.9z" fill="#69e1a4"/><path d="M271.1 231.8 278.1 233.9 278.1 232.2 271 230.1z" fill="#2f6a4f"/><path d="M331.2 229.6 338.5 231.7 338.6 229.4 331.2 227.4z" fill="#3e6946"/><path d="M280.9 231.8 288 233.9 292.3 230.3 285.2 228.2z" fill="#4f875a"/><path d="M348.7 234.2 352.4 230.6 352.4 229.8 348.7 233.4z" fill="#326a4d"/><path d="M266.7 235.4 271.1 231.8 271 230.1 266.6 233.7z" fill="#63e0a6"/><path d="M304.1 232.5 311.3 234.6 315.4 231 308.2 228.9z" fill="#56b17e" class="t"/><path d="M327.3 233.2 331.2 229.6 331.2 227.4 327.3 230.9z" fill="#83df95"/><path d="M280.9 229.5 288 231.6 292.3 228 285.2 226z" fill="#72c281"/><path d="M294.1 230.8 301.2 232.9 301.2 231.7 294.1 229.7z" fill="#3a6a49"/><path d="M341.3 232.2 348.7 234.2 348.7 233.4 341.3 231.3z" fill="#6ae1a3"/><path d="M322.2 227.1 329.4 229.1 329.9 203.8 322.5 201.8z" fill="#6a1209"/><path d="M317.2 233.2 324.4 235.3 324.4 233.6 317.2 231.5z" fill="#2f6a4f"/><path d="M266.7 235.4 273.7 237.5 278.1 233.9 271.1 231.8z" fill="#3c8765"/><path d="M327.3 233.2 334.6 235.3 338.5 231.7 331.2 229.6z" fill="#4f875a"/><path d="M288 233.9 292.3 230.3 292.3 228 288 231.6z" fill="#3e6946"/><path d="M289.8 234.4 294.1 230.8 294.1 229.7 289.8 233.3z" fill="#7ae19a"/><path d="M266.6 233.7 273.7 235.8 278.1 232.2 271 230.1z" fill="#56c390"/><path d="M318.2 230.6 322.2 227.1 322.5 201.8 318.5 205.2z" fill="#e12713"/><path d="M313.1 236.8 317.2 233.2 317.2 231.5 313.1 235.1z" fill="#63e0a6"/><path d="M327.3 230.9 334.7 233 338.6 229.4 331.2 227.4z" fill="#72c281"/><path d="M280.9 231.8 288 233.9 288 231.6 280.9 229.5z" fill="#83df95"/><path d="M289.8 234.4 297 236.5 301.2 232.9 294.1 230.8z" fill="#4a885d"/><path d="M273.7 237.5 278.1 233.9 278.1 232.2 273.7 235.8z" fill="#2f6a4f"/><path d="M313.1 236.8 320.4 238.9 324.4 235.3 317.2 233.2z" fill="#3c8765"/><path d="M334.6 235.3 338.5 231.7 338.6 229.4 334.7 233z" fill="#3e6946"/><path d="M289.8 233.3 297 235.4 301.2 231.7 294.1 229.7z" fill="#6ac385"/><path d="M303 234.5 310.3 236.6 310.3 235.5 303 233.4z" fill="#316a4d"/><path d="M313.1 235.1 320.4 237.2 324.4 233.6 317.2 231.5z" fill="#56c390"/><path d="M266.7 235.4 273.7 237.5 273.7 235.8 266.6 233.7z" fill="#63e0a6"/><path d="M327.3 233.2 334.6 235.3 334.7 233 327.3 230.9z" fill="#83df95"/><path d="M252.2 235.6 259.2 237.7 263.8 234.1 256.7 232z" fill="#56b17e" class="t"/><path d="M297 236.5 301.2 232.9 301.2 231.7 297 235.4z" fill="#3a6a49"/><path d="M298.8 238.1 303 234.5 303 233.4 298.8 237z" fill="#69e1a4"/><path d="M325.4 232.7 329.4 229.1 329.9 203.8 325.9 207.2z" fill="#6a1209"/><path d="M320.4 238.9 324.4 235.3 324.4 233.6 320.4 237.2z" fill="#2f6a4f"/><path d="M336.5 235.4 343.9 237.5 347.8 233.9 340.4 231.8z" fill="#5bb17c" class="t"/><path d="M275.5 236.3 282.6 238.4 287 234.8 279.9 232.7z" fill="#880d07"/><path d="M289.8 234.4 297 236.5 297 235.4 289.8 233.3z" fill="#7ae19a"/><path d="M318.2 230.6 325.4 232.7 325.9 207.2 318.5 205.2z" fill="#e12713"/><path d="M313.1 236.8 320.4 238.9 320.4 237.2 313.1 235.1z" fill="#63e0a6"/><path d="M298.8 238.1 306.1 240.2 310.3 236.6 303 234.5z" fill="#3f8863"/><path d="M298.8 237 306.1 239.2 310.3 235.5 303 233.4z" fill="#5bc38e"/><path d="M288.8 235.3 296 237.4 296 235.2 288.7 233.1z" fill="#3e6946"/><path d="M322.3 237.6 329.7 239.7 333.6 236 326.3 233.9z" fill="#59b17d" class="t"/><path d="M306.1 240.2 310.3 236.6 310.3 235.5 306.1 239.2z" fill="#316a4d"/><path d="M312.1 236 319.4 238.1 319.4 237.4 312.1 235.3z" fill="#386a49"/><path d="M261 238.3 268.1 240.4 272.6 236.7 265.5 234.6z" fill="#58b17e" class="t"/><path d="M284.4 239 288.8 235.3 288.7 233.1 284.4 236.7z" fill="#83df95"/><path d="M298.8 238.1 306.1 240.2 306.1 239.2 298.8 237z" fill="#69e1a4"/><path d="M307.9 239.7 312.1 236 312.1 235.3 308 239z" fill="#77e19c"/><path d="M274.4 238.9 281.6 241.1 281.5 239.4 274.4 237.2z" fill="#2f6a4f"/><path d="M279.9 232.7 287 234.8 286.7 208.1 279.4 206.1z" fill="#6a0a05"/><path d="M284.4 239 291.7 241.1 296 237.4 288.8 235.3z" fill="#4f875a"/><path d="M318.5 205.2 325.9 207.2 329.9 203.8 322.5 201.8z" fill="#c42211"/><path d="M297.8 239.6 305.1 241.8 305.1 240.1 297.8 238z" fill="#2f6a4f"/><path d="M270 242.7 274.4 238.9 274.4 237.2 269.9 240.9z" fill="#63e0a6"/><path d="M307.9 239.7 315.3 241.9 319.4 238.1 312.1 236z" fill="#48885e"/><path d="M284.4 236.7 291.7 238.9 296 235.2 288.7 233.1z" fill="#72c281"/><path d="M275.5 236.3 279.9 232.7 279.4 206.1 274.9 209.6z" fill="#e1160b"/><path d="M308 239 315.3 241.2 319.4 237.4 312.1 235.3z" fill="#67c387"/><path d="M246.4 240.2 253.5 242.4 258.1 238.7 251.1 236.5z" fill="#55b17f" class="t"/><path d="M293.5 243.4 297.8 239.6 297.8 238 293.5 241.7z" fill="#63e0a6"/><path d="M270 242.7 277.2 244.8 281.6 241.1 274.4 238.9z" fill="#3c8765"/><path d="M291.7 241.1 296 237.4 296 235.2 291.7 238.9z" fill="#3e6946"/><path d="M331.5 239.9 339 242.1 342.9 238.3 335.5 236.2z" fill="#5cb17b" class="t"/><path d="M315.3 241.9 319.4 238.1 319.4 237.4 315.3 241.2z" fill="#386a49"/><path d="M269.9 240.9 277.1 243.1 281.5 239.4 274.4 237.2z" fill="#56c390"/><path d="M293.5 243.4 300.8 245.6 305.1 241.8 297.8 239.6z" fill="#3c8765"/><path d="M284.4 239 291.7 241.1 291.7 238.9 284.4 236.7z" fill="#83df95"/><path d="M293.5 241.7 300.8 243.8 305.1 240.1 297.8 238z" fill="#56c390"/><path d="M307.9 239.7 315.3 241.9 315.3 241.2 308 239z" fill="#77e19c"/><path d="M277.2 244.8 281.6 241.1 281.5 239.4 277.1 243.1z" fill="#2f6a4f"/><path d="M282.6 238.4 287 234.8 286.7 208.1 282.2 211.6z" fill="#6a0a05"/><path d="M317.2 242.4 324.6 244.6 328.7 240.8 321.3 238.7z" fill="#55b17f" class="t"/><path d="M300.8 245.6 305.1 241.8 305.1 240.1 300.8 243.8z" fill="#2f6a4f"/><path d="M270 242.7 277.2 244.8 277.1 243.1 269.9 240.9z" fill="#63e0a6"/><path d="M275.5 236.3 282.6 238.4 282.2 211.6 274.9 209.6z" fill="#e1160b"/><path d="M255.3 242.9 262.4 245.1 267 241.3 259.9 239.2z" fill="#56b17e" class="t"/><path d="M293.5 243.4 300.8 245.6 300.8 243.8 293.5 241.7z" fill="#63e0a6"/><path d="M278.9 243 286.2 245.2 290.6 241.5 283.3 239.3z" fill="#5cb17b" class="t"/><path d="M302.7 244.4 310.1 246.6 314.3 242.8 306.9 240.6z" fill="#882613"/><path d="M326.5 245.1 334 247.3 338 243.5 330.5 241.4z" fill="#55b17f" class="t"/><path d="M274.9 209.6 282.2 211.6 286.7 208.1 279.4 206.1z" fill="#c4130a"/><path d="M316.1 243.3 323.6 245.5 323.6 242.7 316.2 240.5z" fill="#406945"/><path d="M264.2 245.5 271.5 247.7 276 243.8 268.8 241.7z" fill="#59b17d" class="t"/><path d="M288.1 246.4 295.4 248.6 299.8 244.8 292.4 242.6z" fill="#59b17d" class="t"/><path d="M312 247.1 316.1 243.3 316.2 240.5 312 244.3z" fill="#87df93"/><path d="M306.9 240.6 314.3 242.8 314.5 219.2 307 217.1z" fill="#6a1e0f"/><path d="M277.8 244.6 285.1 246.8 285.1 245.8 277.8 243.6z" fill="#396a49"/><path d="M312 247.1 319.5 249.4 323.6 245.5 316.1 243.3z" fill="#518658"/><path d="M302.7 244.4 306.9 240.6 307 217.1 302.7 220.7z" fill="#e13f20"/><path d="M273.3 248.4 277.8 244.6 277.8 243.6 273.3 247.4z" fill="#79e19b"/><path d="M312 244.3 319.5 246.5 323.6 242.7 316.2 240.5z" fill="#75c17f"/><path d="M273.3 248.4 280.7 250.7 285.1 246.8 277.8 244.6z" fill="#49885d"/><path d="M319.5 249.4 323.6 245.5 323.6 242.7 319.5 246.5z" fill="#406945"/><path d="M273.3 247.4 280.6 249.6 285.1 245.8 277.8 243.6z" fill="#69c386"/><path d="M287 248.6 294.4 250.8 294.3 249.6 287 247.4z" fill="#316a4e"/><path d="M297.3 249.2 304.8 251.4 309 247.6 301.6 245.3z" fill="#55b17f" class="t"/><path d="M312 247.1 319.5 249.4 319.5 246.5 312 244.3z" fill="#87df93"/><path d="M310.1 246.6 314.3 242.8 314.5 219.2 310.2 222.9z" fill="#6a1e0f"/><path d="M280.7 250.7 285.1 246.8 285.1 245.8 280.6 249.6z" fill="#396a49"/><path d="M282.5 252.4 287 248.6 287 247.4 282.5 251.2z" fill="#67e1a5"/><path d="M321.3 249.9 328.9 252.2 333 248.3 325.5 246.1z" fill="#56b17e" class="t"/><path d="M302.7 244.4 310.1 246.6 310.2 222.9 302.7 220.7z" fill="#e13f20"/><path d="M273.3 248.4 280.7 250.7 280.6 249.6 273.3 247.4z" fill="#79e19b"/><path d="M282.5 252.4 289.9 254.7 294.4 250.8 287 248.6z" fill="#3e8863"/><path d="M282.5 251.2 289.9 253.5 294.3 249.6 287 247.4z" fill="#59c38f"/><path d="M296.2 250.9 303.7 253.2 303.7 252.4 296.2 250.2z" fill="#326a4d"/><path d="M306.6 252 314.2 254.3 318.4 250.3 310.9 248.1z" fill="#58b17e" class="t"/><path d="M289.9 254.7 294.4 250.8 294.3 249.6 289.9 253.5z" fill="#316a4e"/><path d="M302.7 220.7 310.2 222.9 314.5 219.2 307 217.1z" fill="#c4371c"/><path d="M320.3 252.1 327.9 254.3 327.9 253.2 320.3 250.9z" fill="#316a4e"/><path d="M291.8 254.8 296.2 250.9 296.2 250.2 291.8 254.1z" fill="#6ae1a3"/><path d="M282.5 252.4 289.9 254.7 289.9 253.5 282.5 251.2z" fill="#67e1a5"/><path d="M316.1 256 320.3 252.1 320.3 250.9 316.1 254.8z" fill="#67e1a5"/><path d="M291.8 254.8 299.3 257.1 303.7 253.2 296.2 250.9z" fill="#408862"/><path d="M291.8 254.1 299.3 256.4 303.7 252.4 296.2 250.2z" fill="#5cc38d"/><path d="M316.1 256 323.7 258.3 327.9 254.3 320.3 252.1z" fill="#3e8863"/><path d="M316.1 254.8 323.7 257.1 327.9 253.2 320.3 250.9z" fill="#59c38f"/><path d="M299.3 257.1 303.7 253.2 303.7 252.4 299.3 256.4z" fill="#326a4d"/><path d="M323.7 258.3 327.9 254.3 327.9 253.2 323.7 257.1z" fill="#316a4e"/><path d="M291.8 254.8 299.3 257.1 299.3 256.4 291.8 254.1z" fill="#6ae1a3"/><path d="M316.1 256 323.7 258.3 323.7 257.1 316.1 254.8z" fill="#67e1a5"/><path d="M301.2 256.9 308.8 259.3 313.1 255.3 305.6 253z" fill="#58b17e" class="t"/><path d="M315 256.7 322.7 259 322.7 258.1 315 255.8z" fill="#326a4d"/><path d="M310.7 260.7 315 256.7 315 255.8 310.7 259.9z" fill="#6ae1a3"/><path d="M310.7 260.7 318.4 263.1 322.7 259 315 256.7z" fill="#408862"/><path d="M310.7 259.9 318.4 262.2 322.7 258.1 315 255.8z" fill="#5cc38d"/><path d="M318.4 263.1 322.7 259 322.7 258.1 318.4 262.2z" fill="#326a4d"/><path d="M310.7 260.7 318.4 263.1 318.4 262.2 310.7 259.9z" fill="#6ae1a3"/></g>
</g>
<g id="pane3d_19">
<g id="patch_20">
<path d="M 448.13 270.35 L 495.78 230.41 L 495.12 172.80 L 445.18 209.24 " style="fill: #f2f2f2; opacity: 0.5; stroke: #f2f2f2; stroke-linejoin: miter"/>
</g>
</g>
<g id="pane3d_20">
<g id="patch_21">
<path d="M 495.78 230.41 L 572.24 252.63 L 574.97 193.05 L 495.12 172.80 " style="fill: #e6e6e6; opacity: 0.5; stroke: #e6e6e6; stroke-linejoin: miter"/>
</g>
</g>
<g id="pane3d_21">
<g id="patch_22">
<path d="M 448.13 270.35 L 529.18 296.82 L 572.24 252.63 L 495.78 230.41 " style="fill: #ececec; opacity: 0.5; stroke: #ececec; stroke-linejoin: miter"/>
</g>
</g>
<g id="grid3d_19">
<g id="Line3DCollection_19">
<path d="M 457.38 273.37 L 504.54 232.95 L 504.25 175.12 " style="fill: none; stroke: #999999; stroke-width: 0.8"/>
<path d="M 466.14 276.23 L 512.83 235.36 L 512.89 177.31 " style="fill: none; stroke: #999999; stroke-width: 0.8"/>
<path d="M 475.00 279.13 L 521.21 237.80 L 521.63 179.53 " style="fill: none; stroke: #999999; stroke-width: 0.8"/>
<path d="M 483.97 282.06 L 529.67 240.26 L 530.47 181.77 " style="fill: none; stroke: #999999; stroke-width: 0.8"/>
<path d="M 493.04 285.02 L 538.23 242.75 L 539.41 184.03 " style="fill: none; stroke: #999999; stroke-width: 0.8"/>
<path d="M 502.22 288.02 L 546.89 245.26 L 548.45 186.32 " style="fill: none; stroke: #999999; stroke-width: 0.8"/>
<path d="M 511.52 291.05 L 555.63 247.81 L 557.60 188.64 " style="fill: none; stroke: #999999; stroke-width: 0.8"/>
<path d="M 520.92 294.12 L 564.48 250.38 L 566.85 190.99 " style="fill: none; stroke: #999999; stroke-width: 0.8"/>
</g>
</g>
<g id="grid3d_20">
<g id="Line3DCollection_20">
<path d="M 451.64 204.53 L 454.27 265.20 L 534.75 291.11 " style="fill: none; stroke: #999999; stroke-width: 0.8"/>
<path d="M 457.55 200.22 L 459.90 260.49 L 539.85 285.87 " style="fill: none; stroke: #999999; stroke-width: 0.8"/>
<path d="M 463.34 195.99 L 465.42 255.86 L 544.85 280.74 " style="fill: none; stroke: #999999; stroke-width: 0.8"/>
<path d="M 469.02 191.85 L 470.83 251.32 L 549.74 275.72 " style="fill: none; stroke: #999999; stroke-width: 0.8"/>
<path d="M 474.59 187.79 L 476.14 246.87 L 554.54 270.79 " style="fill: none; stroke: #999999; stroke-width: 0.8"/>
<path d="M 480.04 183.80 L 481.35 242.50 L 559.25 265.97 " style="fill: none; stroke: #999999; stroke-width: 0.8"/>
<path d="M 485.39 179.90 L 486.47 238.21 L 563.86 261.23 " style="fill: none; stroke: #999999; stroke-width: 0.8"/>
<path d="M 490.64 176.07 L 491.49 234.00 L 568.38 256.59 " style="fill: none; stroke: #999999; stroke-width: 0.8"/>
</g>
</g>
<g id="grid3d_21">
<g id="Line3DCollection_21">
<path d="M 572.29 251.49 L 495.77 229.30 L 448.07 269.18 " style="fill: none; stroke: #bdbdbd; stroke-width: 0.8"/>
<path d="M 573.54 224.32 L 495.46 203.01 L 446.73 241.34 " style="fill: none; stroke: #bdbdbd; stroke-width: 0.8"/>
<path d="M 574.83 196.03 L 495.15 175.68 L 445.33 212.30 " style="fill: none; stroke: #bdbdbd; stroke-width: 0.8"/>
</g>
</g>
<g id="axis3d_19">
<g id="line2d_133">
<path d="M 448.13 270.35 L 529.18 296.82 " style="fill: none; stroke: #000000; stroke-width: 0.8; stroke-linecap: square"/>
</g>
<g id="xtick_115">
<g id="line2d_134">
<path d="M 457.79 273.02 L 456.56 274.08 " style="fill: none; stroke: #000000; stroke-width: 0.8; stroke-linecap: square"/>
</g>
</g>
<g id="xtick_116">
<g id="line2d_135">
<path d="M 466.55 275.88 L 465.32 276.95 " style="fill: none; stroke: #000000; stroke-width: 0.8; stroke-linecap: square"/>
</g>
</g>
<g id="xtick_117">
<g id="line2d_136">
<path d="M 475.40 278.77 L 474.19 279.85 " style="fill: none; stroke: #000000; stroke-width: 0.8; stroke-linecap: square"/>
</g>
</g>
<g id="xtick_118">
<g id="line2d_137">
<path d="M 484.37 281.69 L 483.17 282.79 " style="fill: none; stroke: #000000; stroke-width: 0.8; stroke-linecap: square"/>
</g>
</g>
<g id="xtick_119">
<g id="line2d_138">
<path d="M 493.44 284.65 L 492.25 285.76 " style="fill: none; stroke: #000000; stroke-width: 0.8; stroke-linecap: square"/>
</g>
</g>
<g id="xtick_120">
<g id="line2d_139">
<path d="M 502.61 287.64 L 501.44 288.77 " style="fill: none; stroke: #000000; stroke-width: 0.8; stroke-linecap: square"/>
</g>
</g>
<g id="xtick_121">
<g id="line2d_140">
<path d="M 511.90 290.67 L 510.74 291.81 " style="fill: none; stroke: #000000; stroke-width: 0.8; stroke-linecap: square"/>
</g>
</g>
<g id="xtick_122">
<g id="line2d_141">
<path d="M 521.30 293.74 L 520.16 294.89 " style="fill: none; stroke: #000000; stroke-width: 0.8; stroke-linecap: square"/>
</g>
</g>
</g>
<g id="axis3d_20">
<g id="line2d_142">
<path d="M 572.24 252.63 L 529.18 296.82 " style="fill: none; stroke: #000000; stroke-width: 0.8; stroke-linecap: square"/>
</g>
<g id="xtick_123">
<g id="line2d_143">
<path d="M 534.07 290.89 L 536.11 291.54 " style="fill: none; stroke: #000000; stroke-width: 0.8; stroke-linecap: square"/>
</g>
</g>
<g id="xtick_124">
<g id="line2d_144">
<path d="M 539.18 285.66 L 541.20 286.30 " style="fill: none; stroke: #000000; stroke-width: 0.8; stroke-linecap: square"/>
</g>
</g>
<g id="xtick_125">
<g id="line2d_145">
<path d="M 544.18 280.53 L 546.19 281.16 " style="fill: none; stroke: #000000; stroke-width: 0.8; stroke-linecap: square"/>
</g>
</g>
<g id="xtick_126">
<g id="line2d_146">
<path d="M 549.08 275.51 L 551.07 276.13 " style="fill: none; stroke: #000000; stroke-width: 0.8; stroke-linecap: square"/>
</g>
</g>
<g id="xtick_127">
<g id="line2d_147">
<path d="M 553.88 270.59 L 555.86 271.20 " style="fill: none; stroke: #000000; stroke-width: 0.8; stroke-linecap: square"/>
</g>
</g>
<g id="xtick_128">
<g id="line2d_148">
<path d="M 558.59 265.77 L 560.56 266.36 " style="fill: none; stroke: #000000; stroke-width: 0.8; stroke-linecap: square"/>
</g>
</g>
<g id="xtick_129">
<g id="line2d_149">
<path d="M 563.21 261.04 L 565.16 261.62 " style="fill: none; stroke: #000000; stroke-width: 0.8; stroke-linecap: square"/>
</g>
</g>
<g id="xtick_130">
<g id="line2d_150">
<path d="M 567.74 256.40 L 569.68 256.97 " style="fill: none; stroke: #000000; stroke-width: 0.8; stroke-linecap: square"/>
</g>
</g>
</g>
<g id="axis3d_21">
<g id="line2d_151">
<path d="M 572.24 252.63 L 574.97 193.05 " style="fill: none; stroke: #000000; stroke-width: 0.8; stroke-linecap: square"/>
</g>
<g id="xtick_131">
<g id="line2d_152">
<path d="M 571.65 251.30 L 573.58 251.86 " style="fill: none; stroke: #000000; stroke-width: 0.8; stroke-linecap: square"/>
</g>
<g id="text_19">
<text style="font-size: 10px; font-family: 'DejaVu Sans'; text-anchor: middle" x="588.15" y="256.83">−0.5</text>
</g>
</g>
<g id="xtick_132">
<g id="line2d_153">
<path d="M 572.88 224.14 L 574.85 224.68 " style="fill: none; stroke: #000000; stroke-width: 0.8; stroke-linecap: square"/>
</g>
<g id="text_20">
<text style="font-size: 10px; font-family: 'DejaVu Sans'; text-anchor: middle" x="589.71" y="229.75">0.0</text>
</g>
</g>
<g id="xtick_133">
<g id="line2d_154">
<path d="M 574.16 195.86 L 576.18 196.37 " style="fill: none; stroke: #000000; stroke-width: 0.8; stroke-linecap: square"/>
</g>
<g id="text_21">
<text style="font-size: 10px; font-family: 'DejaVu Sans'; text-anchor: middle" x="591.33" y="201.55">0.5</text>
</g>
</g>
</g>
<g id="axes_7">
<g class="b" stroke-width="0.63"><path d="M493.3 209.8 500.1 211.7 504.1 208.4 497.4 206.6z" fill="#58b17e" class="t"/><path d="M505.8 209.6 512.6 211.4 512.6 210.8 505.8 208.9z" fill="#326a4d"/><path d="M501.8 212.8 505.8 209.6 505.8 208.9 501.8 212.2z" fill="#6ae1a3"/><path d="M501.8 212.8 508.7 214.7 512.6 211.4 505.8 209.6z" fill="#408862"/><path d="M501.8 212.2 508.7 214.1 512.6 210.8 505.8 208.9z" fill="#5cc38d"/><path d="M514.3 212.3 521.2 214.2 521.2 213.1 514.3 211.2z" fill="#316a4e"/><path d="M508.7 214.7 512.6 211.4 512.6 210.8 508.7 214.1z" fill="#326a4d"/><path d="M510.4 215.6 514.3 212.3 514.3 211.2 510.4 214.5z" fill="#67e1a5"/><path d="M501.8 212.8 508.7 214.7 508.7 214.1 501.8 212.2z" fill="#6ae1a3"/><path d="M488.2 213.9 495 215.8 499.1 212.5 492.3 210.6z" fill="#58b17e" class="t"/><path d="M510.4 215.6 517.3 217.6 521.2 214.2 514.3 212.3z" fill="#3e8863"/><path d="M510.4 214.5 517.3 216.5 521.2 213.1 514.3 211.2z" fill="#59c38f"/><path d="M500.8 213 507.7 214.9 507.7 212.4 500.8 210.5z" fill="#3f6946"/><path d="M517.3 217.6 521.2 214.2 521.2 213.1 517.3 216.5z" fill="#316a4e"/><path d="M523 213.6 529.9 215.5 530 214.4 523 212.5z" fill="#3a6a49"/><path d="M496.7 216.3 500.8 213 500.8 210.5 496.7 213.8z" fill="#85df94"/><path d="M510.4 215.6 517.3 217.6 517.3 216.5 510.4 214.5z" fill="#67e1a5"/><path d="M519.1 216.9 523 213.6 523 212.5 519.1 215.8z" fill="#7ae19a"/><path d="M496.7 216.3 503.6 218.2 507.7 214.9 500.8 213z" fill="#508759"/><path d="M519.1 216.9 526.1 218.9 529.9 215.5 523 213.6z" fill="#4a885d"/><path d="M496.7 213.8 503.6 215.8 507.7 212.4 500.8 210.5z" fill="#73c280"/><path d="M519.1 215.8 526.1 217.8 530 214.4 523 212.5z" fill="#6ac385"/><path d="M509.4 215.4 516.3 217.3 516.3 214.6 509.4 212.6z" fill="#406945"/><path d="M531.7 217.1 538.7 219 538.7 217.9 531.7 216z" fill="#316a4e"/><path d="M503.6 218.2 507.7 214.9 507.7 212.4 503.6 215.8z" fill="#3f6946"/><path d="M526.1 218.9 529.9 215.5 530 214.4 526.1 217.8z" fill="#3a6a49"/><path d="M505.3 218.7 509.4 215.4 509.4 212.6 505.3 216z" fill="#87df93"/><path d="M482.9 217.6 489.8 219.6 494 216.2 487.1 214.3z" fill="#5cb17b" class="t"/><path d="M527.8 220.5 531.7 217.1 531.7 216 527.8 219.4z" fill="#67e1a5"/><path d="M496.7 216.3 503.6 218.2 503.6 215.8 496.7 213.8z" fill="#85df94"/><path d="M505.3 218.7 512.3 220.7 516.3 217.3 509.4 215.4z" fill="#518658"/><path d="M519.1 216.9 526.1 218.9 526.1 217.8 519.1 215.8z" fill="#7ae19a"/><path d="M527.8 220.5 534.9 222.5 538.7 219 531.7 217.1z" fill="#3e8863"/><path d="M518.1 219.4 525.1 221.4 525.1 219.7 518.1 217.8z" fill="#2f6a4f"/><path d="M495.7 217.1 502.6 219.1 502.6 216.6 495.7 214.7z" fill="#3f6946"/><path d="M527.8 219.4 534.9 221.3 538.7 217.9 531.7 216z" fill="#59c38f"/><path d="M505.3 216 512.3 217.9 516.3 214.6 509.4 212.6z" fill="#75c17f"/><path d="M514.1 222.8 518.1 219.4 518.1 217.8 514.1 221.2z" fill="#63e0a6"/><path d="M491.5 220.5 495.7 217.1 495.7 214.7 491.5 218z" fill="#85df94"/><path d="M512.3 220.7 516.3 217.3 516.3 214.6 512.3 217.9z" fill="#406945"/><path d="M534.9 222.5 538.7 219 538.7 217.9 534.9 221.3z" fill="#316a4e"/><path d="M491.5 220.5 498.5 222.5 502.6 219.1 495.7 217.1z" fill="#508759"/><path d="M514.1 222.8 521.1 224.8 525.1 221.4 518.1 219.4z" fill="#3c8765"/><path d="M505.3 218.7 512.3 220.7 512.3 217.9 505.3 216z" fill="#87df93"/><path d="M527.8 220.5 534.9 222.5 534.9 221.3 527.8 219.4z" fill="#67e1a5"/><path d="M481.9 218.9 488.7 220.9 488.7 218.1 481.8 216.2z" fill="#406945"/><path d="M504.3 220.7 511.3 222.6 511.3 221.5 504.3 219.6z" fill="#316a4e"/><path d="M514.1 221.2 521.1 223.2 525.1 219.7 518.1 217.8z" fill="#56c390"/><path d="M491.5 218 498.4 220 502.6 216.6 495.7 214.7z" fill="#73c280"/><path d="M477.6 222.3 481.9 218.9 481.8 216.2 477.5 219.6z" fill="#87df93"/><path d="M500.2 224.1 504.3 220.7 504.3 219.6 500.2 223z" fill="#67e1a5"/><path d="M536.7 221.8 543.9 223.8 547.6 220.4 540.5 218.4z" fill="#56b17e" class="t"/><path d="M521.1 224.8 525.1 221.4 525.1 219.7 521.1 223.2z" fill="#2f6a4f"/><path d="M498.5 222.5 502.6 219.1 502.6 216.6 498.4 220z" fill="#3f6946"/><path d="M477.6 222.3 484.5 224.3 488.7 220.9 481.9 218.9z" fill="#518658"/><path d="M526.8 220.2 533.9 222.2 534 218.3 526.9 216.4z" fill="#446843"/><path d="M514.1 222.8 521.1 224.8 521.1 223.2 514.1 221.2z" fill="#63e0a6"/><path d="M491.5 220.5 498.5 222.5 498.4 220 491.5 218z" fill="#85df94"/><path d="M500.2 224.1 507.2 226.1 511.3 222.6 504.3 220.7z" fill="#3e8863"/><path d="M500.2 223 507.2 225 511.3 221.5 504.3 219.6z" fill="#59c38f"/><path d="M477.5 219.6 484.4 221.5 488.7 218.1 481.8 216.2z" fill="#75c17f"/><path d="M522.9 223.7 526.8 220.2 526.9 216.4 522.9 219.8z" fill="#90dc8d"/><path d="M513.1 223.4 520.1 225.4 520.1 224 513.1 222z" fill="#306a4e"/><path d="M522.9 223.7 530 225.7 533.9 222.2 526.8 220.2z" fill="#578555"/><path d="M484.5 224.3 488.7 220.9 488.7 218.1 484.4 221.5z" fill="#406945"/><path d="M507.2 226.1 511.3 222.6 511.3 221.5 507.2 225z" fill="#316a4e"/><path d="M535.7 223.8 542.9 225.8 542.9 224.7 535.7 222.7z" fill="#316a4e"/><path d="M509 226.9 513.1 223.4 513.1 222 509 225.5z" fill="#65e1a6"/><path d="M545.7 224.3 552.9 226.3 556.7 222.9 549.4 220.9z" fill="#59b17d" class="t"/><path d="M477.6 222.3 484.5 224.3 484.4 221.5 477.5 219.6z" fill="#87df93"/><path d="M500.2 224.1 507.2 226.1 507.2 225 500.2 223z" fill="#67e1a5"/><path d="M476.5 224.8 483.4 226.9 483.4 225.2 476.5 223.2z" fill="#2f6a4f"/><path d="M486.2 224.8 493.2 226.8 497.4 223.4 490.5 221.4z" fill="#885f33"/><path d="M522.9 219.8 530.1 221.8 534 218.3 526.9 216.4z" fill="#7dbf7b"/><path d="M531.8 227.3 535.7 223.8 535.7 222.7 531.8 226.2z" fill="#67e1a5"/><path d="M509 226.9 516.1 228.9 520.1 225.4 513.1 223.4z" fill="#3d8864"/><path d="M558.5 223.4 565.8 225.4 565.8 224.5 558.5 222.5z" fill="#386a49"/><path d="M530 225.7 533.9 222.2 534 218.3 530.1 221.8z" fill="#446843"/><path d="M490.5 221.4 497.4 223.4 497.3 209.4 490.3 207.4z" fill="#6a4a28"/><path d="M472.2 228.3 476.5 224.8 476.5 223.2 472.1 226.7z" fill="#63e0a6"/><path d="M509 225.5 516.1 227.5 520.1 224 513.1 222z" fill="#58c390"/><path d="M531.8 227.3 539 229.3 542.9 225.8 535.7 223.8z" fill="#3e8863"/><path d="M554.7 226.9 558.5 223.4 558.5 222.5 554.8 226z" fill="#77e19c"/><path d="M522.9 223.7 530 225.7 530.1 221.8 522.9 219.8z" fill="#90dc8d"/><path d="M486.2 224.8 490.5 221.4 490.3 207.4 486 210.8z" fill="#e19e55"/><path d="M472.2 228.3 479.1 230.4 483.4 226.9 476.5 224.8z" fill="#3c8765"/><path d="M531.8 226.2 539 228.2 542.9 224.7 535.7 222.7z" fill="#59c38f"/><path d="M516.1 228.9 520.1 225.4 520.1 224 516.1 227.5z" fill="#306a4e"/><path d="M521.9 224.5 529 226.5 529.1 225.5 521.9 223.5z" fill="#396a49"/><path d="M472.1 226.7 479.1 228.7 483.4 225.2 476.5 223.2z" fill="#56c390"/><path d="M554.7 226.9 562.1 228.9 565.8 225.4 558.5 223.4z" fill="#48885e"/><path d="M539 229.3 542.9 225.8 542.9 224.7 539 228.2z" fill="#316a4e"/><path d="M509 226.9 516.1 228.9 516.1 227.5 509 225.5z" fill="#65e1a6"/><path d="M554.8 226 562.1 228.1 565.8 224.5 558.5 222.5z" fill="#67c387"/><path d="M517.9 228 521.9 224.5 521.9 223.5 517.9 226.9z" fill="#79e19b"/><path d="M485.2 226.8 492.2 228.8 492.1 227.7 485.2 225.7z" fill="#316a4e"/><path d="M495 227.4 502 229.4 506.2 225.9 499.2 223.9z" fill="#866336"/><path d="M479.1 230.4 483.4 226.9 483.4 225.2 479.1 228.7z" fill="#2f6a4f"/><path d="M531.8 227.3 539 229.3 539 228.2 531.8 226.2z" fill="#67e1a5"/><path d="M499.2 223.9 506.2 225.9 506.1 212.4 499 210.4z" fill="#684d2a"/><path d="M562.1 228.9 565.8 225.4 565.8 224.5 562.1 228.1z" fill="#386a49"/><path d="M480.8 230.3 485.2 226.8 485.2 225.7 480.8 229.2z" fill="#67e1a5"/><path d="M517.9 228 525.1 230.1 529 226.5 521.9 224.5z" fill="#49885d"/><path d="M493.2 226.8 497.4 223.4 497.3 209.4 493 212.8z" fill="#6a4a28"/><path d="M472.2 228.3 479.1 230.4 479.1 228.7 472.1 226.7z" fill="#63e0a6"/><path d="M508 226.4 515.1 228.4 515.1 227.2 508 225.1z" fill="#3a6a49"/><path d="M517.9 226.9 525.1 229 529.1 225.5 521.9 223.5z" fill="#69c386"/><path d="M495 227.4 499.2 223.9 499 210.4 494.8 213.9z" fill="#dda459"/><path d="M540.9 228.7 548.2 230.8 552 227.2 544.7 225.2z" fill="#58b17e" class="t"/><path d="M554.7 226.9 562.1 228.9 562.1 228.1 554.8 226z" fill="#77e19c"/><path d="M480.8 230.3 487.9 232.4 492.2 228.8 485.2 226.8z" fill="#3e8863"/><path d="M486.2 224.8 493.2 226.8 493 212.8 486 210.8z" fill="#e19e55"/><path d="M530.8 227.1 538.1 229.1 538.1 227.7 530.9 225.7z" fill="#3b6a48"/><path d="M503.8 229.9 508 226.4 508 225.1 503.8 228.7z" fill="#7ae19a"/><path d="M480.8 229.2 487.9 231.3 492.1 227.7 485.2 225.7z" fill="#59c38f"/><path d="M525.1 230.1 529 226.5 529.1 225.5 525.1 229z" fill="#396a49"/><path d="M486 210.8 493 212.8 497.3 209.4 490.3 207.4z" fill="#c4894a"/><path d="M526.9 230.6 530.8 227.1 530.9 225.7 526.9 229.2z" fill="#7ce199"/><path d="M503.8 229.9 511 232 515.1 228.4 508 226.4z" fill="#4a885d"/><path d="M471 227.6 478 229.6 477.9 226 470.9 223.9z" fill="#436843"/><path d="M517.9 228 525.1 230.1 525.1 229 517.9 226.9z" fill="#79e19b"/><path d="M487.9 232.4 492.2 228.8 492.1 227.7 487.9 231.3z" fill="#316a4e"/><path d="M503.8 228.7 511 230.7 515.1 227.2 508 225.1z" fill="#6ac385"/><path d="M526.9 230.6 534.1 232.7 538.1 229.1 530.8 227.1z" fill="#4b885c"/><path d="M502 229.4 506.2 225.9 506.1 212.4 501.9 215.9z" fill="#684d2a"/><path d="M466.6 231.1 471 227.6 470.9 223.9 466.4 227.4z" fill="#8edd8e"/><path d="M480.8 230.3 487.9 232.4 487.9 231.3 480.8 229.2z" fill="#67e1a5"/><path d="M526.9 229.2 534.2 231.3 538.1 227.7 530.9 225.7z" fill="#6cc385"/><path d="M466.6 231.1 473.6 233.2 478 229.6 471 227.6z" fill="#568556"/><path d="M511 232 515.1 228.4 515.1 227.2 511 230.7z" fill="#3a6a49"/><path d="M539.9 230.7 547.2 232.8 547.2 231.7 539.9 229.6z" fill="#316a4e"/><path d="M550 231.3 557.4 233.4 561.1 229.8 553.8 227.7z" fill="#59b17d" class="t"/><path d="M495 227.4 502 229.4 501.9 215.9 494.8 213.9z" fill="#dda459"/><path d="M494.8 213.9 501.9 215.9 506.1 212.4 499 210.4z" fill="#c08e4d"/><path d="M534.1 232.7 538.1 229.1 538.1 227.7 534.2 231.3z" fill="#3b6a48"/><path d="M489.6 231.6 496.7 233.6 501 230.1 493.9 228z" fill="#5bb17c" class="t"/><path d="M503.8 229.9 511 232 511 230.7 503.8 228.7z" fill="#7ae19a"/><path d="M535.9 234.3 539.9 230.7 539.9 229.6 536 233.2z" fill="#67e1a5"/><path d="M466.4 227.4 473.5 229.5 477.9 226 470.9 223.9z" fill="#7bbf7b"/><path d="M502.8 231.9 509.9 234 509.9 232.9 502.8 230.8z" fill="#316a4e"/><path d="M512.8 232.5 520 234.6 524.1 231 516.9 228.9z" fill="#884a27"/><path d="M526.9 230.6 534.1 232.7 534.2 231.3 526.9 229.2z" fill="#7ce199"/><path d="M473.6 233.2 478 229.6 477.9 226 473.5 229.5z" fill="#436843"/><path d="M535.9 234.3 543.3 236.4 547.2 232.8 539.9 230.7z" fill="#3e8863"/><path d="M498.5 235.5 502.8 231.9 502.8 230.8 498.5 234.4z" fill="#67e1a5"/><path d="M536 233.2 543.3 235.3 547.2 231.7 539.9 229.6z" fill="#59c38f"/><path d="M525.9 231.5 533.1 233.6 533.2 232.5 525.9 230.4z" fill="#396a49"/><path d="M466.6 231.1 473.6 233.2 473.5 229.5 466.4 227.4z" fill="#8edd8e"/><path d="M516.9 228.9 524.1 231 524.2 213.1 516.9 211.1z" fill="#6a3a1e"/><path d="M475.3 233.7 482.4 235.8 486.8 232.2 479.7 230.1z" fill="#885d32"/><path d="M498.5 235.5 505.7 237.6 509.9 234 502.8 231.9z" fill="#3e8863"/><path d="M543.3 236.4 547.2 232.8 547.2 231.7 543.3 235.3z" fill="#316a4e"/><path d="M521.8 235.1 525.9 231.5 525.9 230.4 521.8 234z" fill="#79e19b"/><path d="M465.4 232 472.4 234.1 472.3 231 465.3 228.9z" fill="#416944"/><path d="M479.7 230.1 486.8 232.2 486.5 217.4 479.4 215.4z" fill="#6a4927"/><path d="M498.5 234.4 505.7 236.5 509.9 232.9 502.8 230.8z" fill="#59c38f"/><path d="M512.8 232.5 516.9 228.9 516.9 211.1 512.8 214.6z" fill="#e17b40"/><path d="M535.9 234.3 543.3 236.4 543.3 235.3 536 233.2z" fill="#67e1a5"/><path d="M460.9 235.6 465.4 232 465.3 228.9 460.8 232.5z" fill="#8ade90"/><path d="M521.8 235.1 529.1 237.2 533.1 233.6 525.9 231.5z" fill="#49885d"/><path d="M475.3 233.7 479.7 230.1 479.4 215.4 474.9 218.9z" fill="#e19a53"/><path d="M505.7 237.6 509.9 234 509.9 232.9 505.7 236.5z" fill="#316a4e"/><path d="M511.7 233.4 519 235.5 519 234.2 511.7 232.1z" fill="#3a6a49"/><path d="M521.8 234 529.1 236.1 533.2 232.5 525.9 230.4z" fill="#69c386"/><path d="M460.9 235.6 467.9 237.7 472.4 234.1 465.4 232z" fill="#538657"/><path d="M545.2 235.8 552.6 237.9 556.4 234.3 549 232.2z" fill="#56b17e" class="t"/><path d="M498.5 235.5 505.7 237.6 505.7 236.5 498.5 234.4z" fill="#67e1a5"/><path d="M507.5 237 511.7 233.4 511.7 232.1 507.5 235.8z" fill="#7ae19a"/><path d="M484.2 236.3 491.3 238.4 495.7 234.8 488.5 232.7z" fill="#88572e"/><path d="M529.1 237.2 533.1 233.6 533.2 232.5 529.1 236.1z" fill="#396a49"/><path d="M520 234.6 524.1 231 524.2 213.1 520.1 216.6z" fill="#6a3a1e"/><path d="M535 234.1 542.3 236.2 542.4 232.2 535 230.1z" fill="#446843"/><path d="M460.8 232.5 467.8 234.6 472.3 231 465.3 228.9z" fill="#78c07d"/><path d="M507.5 237 514.8 239.2 519 235.5 511.7 233.4z" fill="#4a885d"/><path d="M521.8 235.1 529.1 237.2 529.1 236.1 521.8 234z" fill="#79e19b"/><path d="M488.5 232.7 495.7 234.8 495.5 218.8 488.3 216.8z" fill="#6a4424"/><path d="M467.9 237.7 472.4 234.1 472.3 231 467.8 234.6z" fill="#416944"/><path d="M482.4 235.8 486.8 232.2 486.5 217.4 482.1 221z" fill="#6a4927"/><path d="M512.8 232.5 520 234.6 520.1 216.6 512.8 214.6z" fill="#e17b40"/><path d="M531 237.7 535 234.1 535 230.1 531 233.8z" fill="#90dc8d"/><path d="M507.5 235.8 514.8 237.9 519 234.2 511.7 232.1z" fill="#6ac385"/><path d="M520.8 237.4 528.1 239.5 528.1 238.1 520.8 236z" fill="#306a4e"/><path d="M531 237.7 538.4 239.9 542.3 236.2 535 234.1z" fill="#578555"/><path d="M484.2 236.3 488.5 232.7 488.3 216.8 483.8 220.3z" fill="#e18f4c"/><path d="M460.9 235.6 467.9 237.7 467.8 234.6 460.8 232.5z" fill="#8ade90"/><path d="M475.3 233.7 482.4 235.8 482.1 221 474.9 218.9z" fill="#e19a53"/><path d="M469.7 238.3 476.8 240.4 481.3 236.7 474.2 234.6z" fill="#885d32"/><path d="M514.8 239.2 519 235.5 519 234.2 514.8 237.9z" fill="#3a6a49"/><path d="M544.1 237.9 551.6 240 551.6 238.9 544.2 236.7z" fill="#316a4e"/><path d="M516.6 241.1 520.8 237.4 520.8 236 516.6 239.7z" fill="#65e1a6"/><path d="M512.8 214.6 520.1 216.6 524.2 213.1 516.9 211.1z" fill="#c46b38"/><path d="M474.9 218.9 482.1 221 486.5 217.4 479.4 215.4z" fill="#c48548"/><path d="M459.7 236.5 466.8 238.7 466.7 235.8 459.6 233.7z" fill="#406945"/><path d="M474.2 234.6 481.3 236.7 481 221.9 473.8 219.8z" fill="#6a4927"/><path d="M493.1 238.8 500.4 240.9 504.7 237.2 497.4 235.1z" fill="#5bb17c" class="t"/><path d="M507.5 237 514.8 239.2 514.8 237.9 507.5 235.8z" fill="#7ae19a"/><path d="M531 233.8 538.4 235.9 542.4 232.2 535 230.1z" fill="#7dbf7b"/><path d="M540.2 241.6 544.1 237.9 544.2 236.7 540.2 240.4z" fill="#67e1a5"/><path d="M516.6 241.1 524 243.3 528.1 239.5 520.8 237.4z" fill="#3d8864"/><path d="M538.4 239.9 542.3 236.2 542.4 232.2 538.4 235.9z" fill="#446843"/><path d="M455.1 240.2 459.7 236.5 459.6 233.7 455 237.4z" fill="#87df93"/><path d="M516.6 239.7 524 241.9 528.1 238.1 520.8 236z" fill="#58c390"/><path d="M469.7 238.3 474.2 234.6 473.8 219.8 469.2 223.4z" fill="#e19a53"/><path d="M540.2 241.6 547.7 243.7 551.6 240 544.1 237.9z" fill="#3e8863"/><path d="M491.3 238.4 495.7 234.8 495.5 218.8 491.1 222.4z" fill="#6a4424"/><path d="M455.1 240.2 462.2 242.4 466.8 238.7 459.7 236.5z" fill="#518658"/><path d="M529.9 240.4 537.3 242.5 537.4 240.8 529.9 238.7z" fill="#2f6a4f"/><path d="M531 237.7 538.4 239.9 538.4 235.9 531 233.8z" fill="#90dc8d"/><path d="M540.2 240.4 547.7 242.6 551.6 238.9 544.2 236.7z" fill="#59c38f"/><path d="M524 243.3 528.1 239.5 528.1 238.1 524 241.9z" fill="#306a4e"/><path d="M484.2 236.3 491.3 238.4 491.1 222.4 483.8 220.3z" fill="#e18f4c"/><path d="M478.6 240.9 485.8 243.1 490.2 239.4 483.1 237.2z" fill="#885d32"/><path d="M525.8 244.1 529.9 240.4 529.9 238.7 525.9 242.4z" fill="#63e0a6"/><path d="M455 237.4 462.1 239.5 466.7 235.8 459.6 233.7z" fill="#75c17f"/><path d="M547.7 243.7 551.6 240 551.6 238.9 547.7 242.6z" fill="#316a4e"/><path d="M516.6 241.1 524 243.3 524 241.9 516.6 239.7z" fill="#65e1a6"/><path d="M492.1 241 499.3 243.2 499.3 242.1 492 239.9z" fill="#316a4e"/><path d="M468.6 239.2 475.7 241.3 475.6 238.2 468.5 236.1z" fill="#416944"/><path d="M483.1 237.2 490.2 239.4 490 224.5 482.8 222.4z" fill="#6a4927"/><path d="M502.2 241.7 509.5 243.8 513.8 240.1 506.5 238z" fill="#866336"/><path d="M483.8 220.3 491.1 222.4 495.5 218.8 488.3 216.8z" fill="#c47c42"/><path d="M462.2 242.4 466.8 238.7 466.7 235.8 462.1 239.5z" fill="#406945"/><path d="M525.8 244.1 533.3 246.3 537.3 242.5 529.9 240.4z" fill="#3c8765"/><path d="M476.8 240.4 481.3 236.7 481 221.9 476.4 225.5z" fill="#6a4927"/><path d="M540.2 241.6 547.7 243.7 547.7 242.6 540.2 240.4z" fill="#67e1a5"/><path d="M506.5 238 513.8 240.1 513.8 226.3 506.4 224.2z" fill="#684d2a"/><path d="M515.6 241.8 523 243.9 523 242.8 515.6 240.6z" fill="#316a4e"/><path d="M487.6 244.8 492.1 241 492 239.9 487.6 243.7z" fill="#67e1a5"/><path d="M464 242.9 468.6 239.2 468.5 236.1 463.8 239.8z" fill="#8ade90"/><path d="M525.9 242.4 533.3 244.6 537.4 240.8 529.9 238.7z" fill="#56c390"/><path d="M478.6 240.9 483.1 237.2 482.8 222.4 478.2 226z" fill="#e19a53"/><path d="M455.1 240.2 462.2 242.4 462.1 239.5 455 237.4z" fill="#87df93"/><path d="M469.7 238.3 476.8 240.4 476.4 225.5 469.2 223.4z" fill="#e19a53"/><path d="M464 242.9 471.1 245.1 475.7 241.3 468.6 239.2z" fill="#538657"/><path d="M502.2 241.7 506.5 238 506.4 224.2 502.1 227.9z" fill="#dda459"/><path d="M511.4 245.5 515.6 241.8 515.6 240.6 511.4 244.4z" fill="#67e1a5"/><path d="M533.3 246.3 537.3 242.5 537.4 240.8 533.3 244.6z" fill="#2f6a4f"/><path d="M487.6 244.8 494.9 247 499.3 243.2 492.1 241z" fill="#3e8863"/><path d="M469.2 223.4 476.4 225.5 481 221.9 473.8 219.8z" fill="#c48548"/><path d="M539.2 241.4 546.7 243.5 546.7 242.4 539.2 240.2z" fill="#3a6a49"/><path d="M487.6 243.7 494.9 245.9 499.3 242.1 492 239.9z" fill="#59c38f"/><path d="M525.8 244.1 533.3 246.3 533.3 244.6 525.9 242.4z" fill="#63e0a6"/><path d="M511.4 245.5 518.8 247.7 523 243.9 515.6 241.8z" fill="#3e8863"/><path d="M463.8 239.8 471 242 475.6 238.2 468.5 236.1z" fill="#78c07d"/><path d="M535.2 245.1 539.2 241.4 539.2 240.2 535.2 244z" fill="#7ae19a"/><path d="M511.4 244.4 518.8 246.6 523 242.8 515.6 240.6z" fill="#59c38f"/><path d="M477.5 241.9 484.7 244.1 484.6 240.3 477.4 238.2z" fill="#436843"/><path d="M494.9 247 499.3 243.2 499.3 242.1 494.9 245.9z" fill="#316a4e"/><path d="M471.1 245.1 475.7 241.3 475.6 238.2 471 242z" fill="#416944"/><path d="M485.8 243.1 490.2 239.4 490 224.5 485.5 228.1z" fill="#6a4927"/><path d="M535.2 245.1 542.7 247.3 546.7 243.5 539.2 241.4z" fill="#4a885d"/><path d="M509.5 243.8 513.8 240.1 513.8 226.3 509.5 230z" fill="#684d2a"/><path d="M472.9 245.7 477.5 241.9 477.4 238.2 472.8 241.9z" fill="#8edd8e"/><path d="M518.8 247.7 523 243.9 523 242.8 518.8 246.6z" fill="#316a4e"/><path d="M487.6 244.8 494.9 247 494.9 245.9 487.6 243.7z" fill="#67e1a5"/><path d="M464 242.9 471.1 245.1 471 242 463.8 239.8z" fill="#8ade90"/><path d="M478.6 240.9 485.8 243.1 485.5 228.1 478.2 226z" fill="#e19a53"/><path d="M535.2 244 542.7 246.2 546.7 242.4 539.2 240.2z" fill="#6ac385"/><path d="M472.9 245.7 480.2 247.9 484.7 244.1 477.5 241.9z" fill="#568556"/><path d="M524.8 243.3 532.3 245.5 532.3 242.7 524.8 240.5z" fill="#406945"/><path d="M502.2 241.7 509.5 243.8 509.5 230 502.1 227.9z" fill="#dda459"/><path d="M478.2 226 485.5 228.1 490 224.5 482.8 222.4z" fill="#c48548"/><path d="M511.4 245.5 518.8 247.7 518.8 246.6 511.4 244.4z" fill="#67e1a5"/><path d="M486.5 246.3 493.8 248.5 493.8 246.8 486.5 244.6z" fill="#2f6a4f"/><path d="M502.1 227.9 509.5 230 513.8 226.3 506.4 224.2z" fill="#c08e4d"/><path d="M496.7 246.4 504.1 248.6 508.4 244.8 501.1 242.6z" fill="#885f33"/><path d="M542.7 247.3 546.7 243.5 546.7 242.4 542.7 246.2z" fill="#3a6a49"/><path d="M520.6 247.1 524.8 243.3 524.8 240.5 520.7 244.3z" fill="#87df93"/><path d="M472.8 241.9 480.1 244.1 484.6 240.3 477.4 238.2z" fill="#7bbf7b"/><path d="M501.1 242.6 508.4 244.8 508.4 230.4 501 228.2z" fill="#6a4a28"/><path d="M482 250.2 486.5 246.3 486.5 244.6 482 248.4z" fill="#63e0a6"/><path d="M520.6 247.1 528.1 249.4 532.3 245.5 524.8 243.3z" fill="#518658"/><path d="M535.2 245.1 542.7 247.3 542.7 246.2 535.2 244z" fill="#7ae19a"/><path d="M480.2 247.9 484.7 244.1 484.6 240.3 480.1 244.1z" fill="#436843"/><path d="M510.3 245.3 517.7 247.6 517.7 245 510.3 242.8z" fill="#3f6946"/><path d="M534.1 247.2 541.7 249.4 541.7 248.3 534.2 246.1z" fill="#316a4e"/><path d="M496.7 246.4 501.1 242.6 501 228.2 496.6 231.9z" fill="#e19e55"/><path d="M482 250.2 489.4 252.4 493.8 248.5 486.5 246.3z" fill="#3c8765"/><path d="M520.7 244.3 528.2 246.5 532.3 242.7 524.8 240.5z" fill="#75c17f"/><path d="M472.9 245.7 480.2 247.9 480.1 244.1 472.8 241.9z" fill="#8edd8e"/><path d="M482 248.4 489.3 250.7 493.8 246.8 486.5 244.6z" fill="#56c390"/><path d="M506 249.2 510.3 245.3 510.3 242.8 506 246.6z" fill="#85df94"/><path d="M530 251.1 534.1 247.2 534.2 246.1 530 249.9z" fill="#67e1a5"/><path d="M528.1 249.4 532.3 245.5 532.3 242.7 528.2 246.5z" fill="#406945"/><path d="M506 249.2 513.4 251.4 517.7 247.6 510.3 245.3z" fill="#508759"/><path d="M489.4 252.4 493.8 248.5 493.8 246.8 489.3 250.7z" fill="#2f6a4f"/><path d="M530 251.1 537.6 253.3 541.7 249.4 534.1 247.2z" fill="#3e8863"/><path d="M520.6 247.1 528.1 249.4 528.2 246.5 520.7 244.3z" fill="#87df93"/><path d="M495.6 247.4 503 249.6 503 246.7 495.6 244.5z" fill="#406945"/><path d="M530 249.9 537.6 252.2 541.7 248.3 534.2 246.1z" fill="#59c38f"/><path d="M504.1 248.6 508.4 244.8 508.4 230.4 504 234.1z" fill="#6a4a28"/><path d="M482 250.2 489.4 252.4 489.3 250.7 482 248.4z" fill="#63e0a6"/><path d="M506 246.6 513.5 248.8 517.7 245 510.3 242.8z" fill="#73c280"/><path d="M519.6 248.1 527.1 250.3 527.1 247.7 519.6 245.5z" fill="#3f6946"/><path d="M491.2 251.2 495.6 247.4 495.6 244.5 491.1 248.4z" fill="#87df93"/><path d="M513.4 251.4 517.7 247.6 517.7 245 513.5 248.8z" fill="#3f6946"/><path d="M537.6 253.3 541.7 249.4 541.7 248.3 537.6 252.2z" fill="#316a4e"/><path d="M496.7 246.4 504.1 248.6 504 234.1 496.6 231.9z" fill="#e19e55"/><path d="M491.2 251.2 498.6 253.5 503 249.6 495.6 247.4z" fill="#518658"/><path d="M515.3 252 519.6 248.1 519.6 245.5 515.3 249.4z" fill="#85df94"/><path d="M496.6 231.9 504 234.1 508.4 230.4 501 228.2z" fill="#c4894a"/><path d="M506 249.2 513.4 251.4 513.5 248.8 506 246.6z" fill="#85df94"/><path d="M530 251.1 537.6 253.3 537.6 252.2 530 249.9z" fill="#67e1a5"/><path d="M515.3 252 522.9 254.3 527.1 250.3 519.6 248.1z" fill="#508759"/><path d="M491.1 248.4 498.6 250.6 503 246.7 495.6 244.5z" fill="#75c17f"/><path d="M529 251.6 536.6 253.9 536.6 253.2 529 250.9z" fill="#326a4d"/><path d="M498.6 253.5 503 249.6 503 246.7 498.6 250.6z" fill="#406945"/><path d="M515.3 249.4 522.9 251.7 527.1 247.7 519.6 245.5z" fill="#73c280"/><path d="M524.8 255.6 529 251.6 529 250.9 524.8 254.8z" fill="#6ae1a3"/><path d="M522.9 254.3 527.1 250.3 527.1 247.7 522.9 251.7z" fill="#3f6946"/><path d="M491.2 251.2 498.6 253.5 498.6 250.6 491.1 248.4z" fill="#87df93"/><path d="M500.5 253.6 508 255.9 512.4 251.9 504.9 249.7z" fill="#5cb17b" class="t"/><path d="M515.3 252 522.9 254.3 522.9 251.7 515.3 249.4z" fill="#85df94"/><path d="M524.8 255.6 532.4 257.9 536.6 253.9 529 251.6z" fill="#408862"/><path d="M524.8 254.8 532.4 257.1 536.6 253.2 529 250.9z" fill="#5cc38d"/><path d="M532.4 257.9 536.6 253.9 536.6 253.2 532.4 257.1z" fill="#326a4d"/><path d="M524.8 255.6 532.4 257.9 532.4 257.1 524.8 254.8z" fill="#6ae1a3"/><path d="M509.9 256.9 517.5 259.3 521.8 255.3 514.2 253z" fill="#58b17e" class="t"/><path d="M519.4 259.9 527.1 262.2 531.4 258.1 523.7 255.8z" fill="#58b17e" class="t"/></g>
</g>
<g id="pane3d_22">
<g id="patch_23">
<path d="M 656.81 270.35 L 704.46 230.41 L 703.80 172.80 L 653.87 209.24 " style="fill: #f2f2f2; opacity: 0.5; stroke: #f2f2f2; stroke-linejoin: miter"/>
</g>
</g>
<g id="pane3d_23">
<g id="patch_24">
<path d="M 704.46 230.41 L 780.93 252.63 L 783.66 193.05 L 703.80 172.80 " style="fill: #e6e6e6; opacity: 0.5; stroke: #e6e6e6; stroke-linejoin: miter"/>
</g>
</g>
<g id="pane3d_24">
<g id="patch_25">
<path d="M 656.81 270.35 L 737.87 296.82 L 780.93 252.63 L 704.46 230.41 " style="fill: #ececec; opacity: 0.5; stroke: #ececec; stroke-linejoin: miter"/>
</g>
</g>
<g id="grid3d_22">
<g id="Line3DCollection_22">
<path d="M 663.86 272.65 L 711.14 232.35 L 710.76 174.57 " style="fill: none; stroke: #999999; stroke-width: 0.8"/>
<path d="M 668.16 274.06 L 715.21 233.53 L 715.00 175.64 " style="fill: none; stroke: #999999; stroke-width: 0.8"/>
<path d="M 672.49 275.47 L 719.30 234.72 L 719.27 176.73 " style="fill: none; stroke: #999999; stroke-width: 0.8"/>
<path d="M 676.84 276.89 L 723.41 235.92 L 723.56 177.81 " style="fill: none; stroke: #999999; stroke-width: 0.8"/>
<path d="M 681.21 278.32 L 727.55 237.12 L 727.88 178.91 " style="fill: none; stroke: #999999; stroke-width: 0.8"/>
<path d="M 685.61 279.75 L 731.71 238.33 L 732.21 180.01 " style="fill: none; stroke: #999999; stroke-width: 0.8"/>
<path d="M 690.03 281.20 L 735.88 239.54 L 736.57 181.11 " style="fill: none; stroke: #999999; stroke-width: 0.8"/>
<path d="M 694.48 282.65 L 740.09 240.76 L 740.96 182.22 " style="fill: none; stroke: #999999; stroke-width: 0.8"/>
<path d="M 698.96 284.12 L 744.31 241.99 L 745.37 183.34 " style="fill: none; stroke: #999999; stroke-width: 0.8"/>
<path d="M 703.46 285.59 L 748.55 243.22 L 749.81 184.47 " style="fill: none; stroke: #999999; stroke-width: 0.8"/>
<path d="M 707.99 287.07 L 752.82 244.46 L 754.27 185.60 " style="fill: none; stroke: #999999; stroke-width: 0.8"/>
<path d="M 712.55 288.55 L 757.11 245.71 L 758.75 186.73 " style="fill: none; stroke: #999999; stroke-width: 0.8"/>
<path d="M 717.13 290.05 L 761.43 246.97 L 763.26 187.88 " style="fill: none; stroke: #999999; stroke-width: 0.8"/>
<path d="M 721.74 291.56 L 765.77 248.23 L 767.80 189.03 " style="fill: none; stroke: #999999; stroke-width: 0.8"/>
<path d="M 726.38 293.07 L 770.13 249.49 L 772.36 190.18 " style="fill: none; stroke: #999999; stroke-width: 0.8"/>
<path d="M 731.04 294.59 L 774.52 250.77 L 776.95 191.34 " style="fill: none; stroke: #999999; stroke-width: 0.8"/>
</g>
</g>
<g id="grid3d_23">
<g id="Line3DCollection_23">
<path d="M 658.81 205.64 L 661.51 266.41 L 742.13 292.45 " style="fill: none; stroke: #999999; stroke-width: 0.8"/>
<path d="M 661.76 203.49 L 664.32 264.06 L 744.67 289.84 " style="fill: none; stroke: #999999; stroke-width: 0.8"/>
<path d="M 664.68 201.36 L 667.10 261.73 L 747.19 287.25 " style="fill: none; stroke: #999999; stroke-width: 0.8"/>
<path d="M 667.57 199.25 L 669.85 259.42 L 749.68 284.69 " style="fill: none; stroke: #999999; stroke-width: 0.8"/>
<path d="M 670.43 197.16 L 672.58 257.14 L 752.15 282.16 " style="fill: none; stroke: #999999; stroke-width: 0.8"/>
<path d="M 673.26 195.09 L 675.28 254.87 L 754.60 279.65 " style="fill: none; stroke: #999999; stroke-width: 0.8"/>
<path d="M 676.07 193.04 L 677.95 252.63 L 757.02 277.17 " style="fill: none; stroke: #999999; stroke-width: 0.8"/>
<path d="M 678.84 191.02 L 680.60 250.41 L 759.41 274.71 " style="fill: none; stroke: #999999; stroke-width: 0.8"/>
<path d="M 681.59 189.01 L 683.23 248.21 L 761.78 272.28 " style="fill: none; stroke: #999999; stroke-width: 0.8"/>
<path d="M 684.32 187.02 L 685.83 246.03 L 764.13 269.87 " style="fill: none; stroke: #999999; stroke-width: 0.8"/>
<path d="M 687.01 185.06 L 688.40 243.87 L 766.45 267.48 " style="fill: none; stroke: #999999; stroke-width: 0.8"/>
<path d="M 689.68 183.11 L 690.95 241.73 L 768.76 265.12 " style="fill: none; stroke: #999999; stroke-width: 0.8"/>
<path d="M 692.33 181.18 L 693.48 239.61 L 771.04 262.78 " style="fill: none; stroke: #999999; stroke-width: 0.8"/>
<path d="M 694.95 179.27 L 695.99 237.51 L 773.30 260.46 " style="fill: none; stroke: #999999; stroke-width: 0.8"/>
<path d="M 697.54 177.37 L 698.47 235.43 L 775.53 258.17 " style="fill: none; stroke: #999999; stroke-width: 0.8"/>
<path d="M 700.11 175.50 L 700.93 233.37 L 777.75 255.90 " style="fill: none; stroke: #999999; stroke-width: 0.8"/>
</g>
</g>
<g id="grid3d_24">
<g id="Line3DCollection_24">
<path d="M 780.98 251.49 L 704.45 229.30 L 656.76 269.18 " style="fill: none; stroke: #bdbdbd; stroke-width: 0.8"/>
<path d="M 782.22 224.32 L 704.15 203.01 L 655.42 241.34 " style="fill: none; stroke: #bdbdbd; stroke-width: 0.8"/>
<path d="M 783.52 196.03 L 703.83 175.68 L 654.02 212.30 " style="fill: none; stroke: #bdbdbd; stroke-width: 0.8"/>
</g>
</g>
<g id="axis3d_22">
<g id="line2d_155">
<path d="M 656.81 270.35 L 737.87 296.82 " style="fill: none; stroke: #000000; stroke-width: 0.8; stroke-linecap: square"/>
</g>
<g id="xtick_134">
<g id="line2d_156">
<path d="M 664.27 272.30 L 663.04 273.36 " style="fill: none; stroke: #000000; stroke-width: 0.8; stroke-linecap: square"/>
</g>
</g>
<g id="xtick_135">
<g id="line2d_157">
<path d="M 668.57 273.70 L 667.34 274.76 " style="fill: none; stroke: #000000; stroke-width: 0.8; stroke-linecap: square"/>
</g>
</g>
<g id="xtick_136">
<g id="line2d_158">
<path d="M 672.89 275.11 L 671.67 276.18 " style="fill: none; stroke: #000000; stroke-width: 0.8; stroke-linecap: square"/>
</g>
</g>
<g id="xtick_137">
<g id="line2d_159">
<path d="M 677.24 276.53 L 676.02 277.60 " style="fill: none; stroke: #000000; stroke-width: 0.8; stroke-linecap: square"/>
</g>
</g>
<g id="xtick_138">
<g id="line2d_160">
<path d="M 681.61 277.96 L 680.40 279.04 " style="fill: none; stroke: #000000; stroke-width: 0.8; stroke-linecap: square"/>
</g>
</g>
<g id="xtick_139">
<g id="line2d_161">
<path d="M 686.01 279.39 L 684.80 280.48 " style="fill: none; stroke: #000000; stroke-width: 0.8; stroke-linecap: square"/>
</g>
</g>
<g id="xtick_140">
<g id="line2d_162">
<path d="M 690.43 280.84 L 689.23 281.93 " style="fill: none; stroke: #000000; stroke-width: 0.8; stroke-linecap: square"/>
</g>
</g>
<g id="xtick_141">
<g id="line2d_163">
<path d="M 694.88 282.29 L 693.69 283.39 " style="fill: none; stroke: #000000; stroke-width: 0.8; stroke-linecap: square"/>
</g>
</g>
<g id="xtick_142">
<g id="line2d_164">
<path d="M 699.36 283.75 L 698.17 284.85 " style="fill: none; stroke: #000000; stroke-width: 0.8; stroke-linecap: square"/>
</g>
</g>
<g id="xtick_143">
<g id="line2d_165">
<path d="M 703.86 285.22 L 702.67 286.33 " style="fill: none; stroke: #000000; stroke-width: 0.8; stroke-linecap: square"/>
</g>
</g>
<g id="xtick_144">
<g id="line2d_166">
<path d="M 708.38 286.69 L 707.21 287.81 " style="fill: none; stroke: #000000; stroke-width: 0.8; stroke-linecap: square"/>
</g>
</g>
<g id="xtick_145">
<g id="line2d_167">
<path d="M 712.94 288.18 L 711.77 289.30 " style="fill: none; stroke: #000000; stroke-width: 0.8; stroke-linecap: square"/>
</g>
</g>
<g id="xtick_146">
<g id="line2d_168">
<path d="M 717.52 289.67 L 716.36 290.80 " style="fill: none; stroke: #000000; stroke-width: 0.8; stroke-linecap: square"/>
</g>
</g>
<g id="xtick_147">
<g id="line2d_169">
<path d="M 722.13 291.18 L 720.97 292.31 " style="fill: none; stroke: #000000; stroke-width: 0.8; stroke-linecap: square"/>
</g>
</g>
<g id="xtick_148">
<g id="line2d_170">
<path d="M 726.76 292.69 L 725.61 293.83 " style="fill: none; stroke: #000000; stroke-width: 0.8; stroke-linecap: square"/>
</g>
</g>
<g id="xtick_149">
<g id="line2d_171">
<path d="M 731.42 294.21 L 730.28 295.36 " style="fill: none; stroke: #000000; stroke-width: 0.8; stroke-linecap: square"/>
</g>
</g>
</g>
<g id="axis3d_23">
<g id="line2d_172">
<path d="M 780.93 252.63 L 737.87 296.82 " style="fill: none; stroke: #000000; stroke-width: 0.8; stroke-linecap: square"/>
</g>
<g id="xtick_150">
<g id="line2d_173">
<path d="M 741.45 292.23 L 743.49 292.89 " style="fill: none; stroke: #000000; stroke-width: 0.8; stroke-linecap: square"/>
</g>
</g>
<g id="xtick_151">
<g id="line2d_174">
<path d="M 744.00 289.62 L 746.03 290.27 " style="fill: none; stroke: #000000; stroke-width: 0.8; stroke-linecap: square"/>
</g>
</g>
<g id="xtick_152">
<g id="line2d_175">
<path d="M 746.52 287.04 L 748.54 287.68 " style="fill: none; stroke: #000000; stroke-width: 0.8; stroke-linecap: square"/>
</g>
</g>
<g id="xtick_153">
<g id="line2d_176">
<path d="M 749.01 284.48 L 751.03 285.12 " style="fill: none; stroke: #000000; stroke-width: 0.8; stroke-linecap: square"/>
</g>
</g>
<g id="xtick_154">
<g id="line2d_177">
<path d="M 751.48 281.95 L 753.49 282.58 " style="fill: none; stroke: #000000; stroke-width: 0.8; stroke-linecap: square"/>
</g>
</g>
<g id="xtick_155">
<g id="line2d_178">
<path d="M 753.93 279.45 L 755.93 280.07 " style="fill: none; stroke: #000000; stroke-width: 0.8; stroke-linecap: square"/>
</g>
</g>
<g id="xtick_156">
<g id="line2d_179">
<path d="M 756.35 276.97 L 758.35 277.59 " style="fill: none; stroke: #000000; stroke-width: 0.8; stroke-linecap: square"/>
</g>
</g>
<g id="xtick_157">
<g id="line2d_180">
<path d="M 758.75 274.51 L 760.74 275.12 " style="fill: none; stroke: #000000; stroke-width: 0.8; stroke-linecap: square"/>
</g>
</g>
<g id="xtick_158">
<g id="line2d_181">
<path d="M 761.12 272.08 L 763.10 272.69 " style="fill: none; stroke: #000000; stroke-width: 0.8; stroke-linecap: square"/>
</g>
</g>
<g id="xtick_159">
<g id="line2d_182">
<path d="M 763.47 269.67 L 765.45 270.27 " style="fill: none; stroke: #000000; stroke-width: 0.8; stroke-linecap: square"/>
</g>
</g>
<g id="xtick_160">
<g id="line2d_183">
<path d="M 765.80 267.29 L 767.77 267.88 " style="fill: none; stroke: #000000; stroke-width: 0.8; stroke-linecap: square"/>
</g>
</g>
<g id="xtick_161">
<g id="line2d_184">
<path d="M 768.10 264.93 L 770.07 265.52 " style="fill: none; stroke: #000000; stroke-width: 0.8; stroke-linecap: square"/>
</g>
</g>
<g id="xtick_162">
<g id="line2d_185">
<path d="M 770.39 262.59 L 772.34 263.17 " style="fill: none; stroke: #000000; stroke-width: 0.8; stroke-linecap: square"/>
</g>
</g>
<g id="xtick_163">
<g id="line2d_186">
<path d="M 772.65 260.27 L 774.60 260.85 " style="fill: none; stroke: #000000; stroke-width: 0.8; stroke-linecap: square"/>
</g>
</g>
<g id="xtick_164">
<g id="line2d_187">
<path d="M 774.88 257.98 L 776.83 258.55 " style="fill: none; stroke: #000000; stroke-width: 0.8; stroke-linecap: square"/>
</g>
</g>
<g id="xtick_165">
<g id="line2d_188">
<path d="M 777.10 255.71 L 779.04 256.27 " style="fill: none; stroke: #000000; stroke-width: 0.8; stroke-linecap: square"/>
</g>
</g>
</g>
<g id="axis3d_24">
<g id="line2d_189">
<path d="M 780.93 252.63 L 783.66 193.05 " style="fill: none; stroke: #000000; stroke-width: 0.8; stroke-linecap: square"/>
</g>
<g id="xtick_166">
<g id="line2d_190">
<path d="M 780.34 251.30 L 782.27 251.86 " style="fill: none; stroke: #000000; stroke-width: 0.8; stroke-linecap: square"/>
</g>
<g id="text_22">
<text style="font-size: 10px; font-family: 'DejaVu Sans'; text-anchor: middle" x="796.83" y="256.83">−0.5</text>
</g>
</g>
<g id="xtick_167">
<g id="line2d_191">
<path d="M 781.57 224.14 L 783.54 224.68 " style="fill: none; stroke: #000000; stroke-width: 0.8; stroke-linecap: square"/>
</g>
<g id="text_23">
<text style="font-size: 10px; font-family: 'DejaVu Sans'; text-anchor: middle" x="798.39" y="229.75">0.0</text>
</g>
</g>
<g id="xtick_168">
<g id="line2d_192">
<path d="M 782.85 195.86 L 784.86 196.37 " style="fill: none; stroke: #000000; stroke-width: 0.8; stroke-linecap: square"/>
</g>
<g id="text_24">
<text style="font-size: 10px; font-family: 'DejaVu Sans'; text-anchor: middle" x="800.02" y="201.55">0.5</text>
</g>
</g>
</g>
<g id="axes_8">
<g class="b" stroke-width="0.38"><path d="M704.1 208.2 707.4 209.1 709.4 207.5 706.1 206.6z" fill="#65c88d" class="u"/><path d="M708.2 209.3 711.6 210.2 713.6 208.6 710.2 207.7z" fill="#66c88c" class="u"/><path d="M701.6 210.2 704.9 211.1 706.9 209.5 703.6 208.6z" fill="#63c88e" class="u"/><path d="M712.4 210.5 715.8 211.4 717.7 209.8 714.4 208.9z" fill="#63c88e" class="u"/><path d="M705.7 211.3 709.1 212.3 711.1 210.6 707.7 209.7z" fill="#63c88e" class="u"/><path d="M716.6 211.6 720 212.6 722 210.9 718.6 210z" fill="#65c88d" class="u"/><path d="M699 212.2 702.4 213.1 704.4 211.5 701.1 210.6z" fill="#65c88d" class="u"/><path d="M709.9 212.5 713.3 213.4 715.3 211.8 711.9 210.9z" fill="#66c88c" class="u"/><path d="M720.9 212.8 724.3 213.7 726.2 212.1 722.8 211.2z" fill="#65c88d" class="u"/><path d="M703.2 213.3 706.6 214.3 708.6 212.7 705.2 211.7z" fill="#63c88e" class="u"/><path d="M714.2 213.7 717.6 214.6 719.5 213 716.1 212z" fill="#65c88d" class="u"/><path d="M725.1 214 728.5 214.9 730.5 213.3 727.1 212.3z" fill="#63c88e" class="u"/><path d="M696.5 214.2 699.8 215.2 701.9 213.5 698.5 212.6z" fill="#63c88e" class="u"/><path d="M707.4 214.5 710.8 215.5 712.8 213.8 709.4 212.9z" fill="#63c88e" class="u"/><path d="M718.4 214.8 721.8 215.8 723.8 214.1 720.4 213.2z" fill="#62c88f" class="u"/><path d="M729.4 215.2 732.8 216.1 734.8 214.5 731.3 213.5z" fill="#63c88e" class="u"/><path d="M700.7 215.4 704 216.3 706.1 214.7 702.7 213.8z" fill="#65c88d" class="u"/><path d="M711.7 215.7 715.1 216.7 717.1 215 713.7 214.1z" fill="#63c88e" class="u"/><path d="M722.7 216 726.1 217 728.1 215.3 724.6 214.4z" fill="#65c88d" class="u"/><path d="M693.9 216.3 697.3 217.2 699.3 215.6 696 214.6z" fill="#63c88e" class="u"/><path d="M733.7 216.3 737.2 217.3 739.1 215.7 735.6 214.7z" fill="#65c88d" class="u"/><path d="M704.9 216.6 708.3 217.5 710.3 215.9 706.9 214.9z" fill="#63c88e" class="u"/><path d="M715.9 216.9 719.4 217.9 721.3 216.2 717.9 215.3z" fill="#63c88e" class="u"/><path d="M727 217.2 730.4 218.2 732.4 216.5 728.9 215.6z" fill="#63c88e" class="u"/><path d="M698.1 217.5 701.5 218.4 703.5 216.8 700.2 215.8z" fill="#63c88e" class="u"/><path d="M738 217.5 741.5 218.5 743.4 216.8 739.9 215.9z" fill="#65c88d" class="u"/><path d="M709.1 217.8 712.6 218.7 714.6 217.1 711.2 216.1z" fill="#63c88e" class="u"/><path d="M720.2 218.1 723.7 219.1 725.6 217.4 722.2 216.4z" fill="#62c88f" class="u"/><path d="M704.4 217 707.8 218 707.8 215.2 704.4 214.3z" fill="#406945"/><path d="M691.3 218.3 694.7 219.3 696.7 217.6 693.4 216.7z" fill="#66c88c" class="u"/><path d="M731.3 218.4 734.8 219.4 736.7 217.7 733.2 216.8z" fill="#65c88d" class="u"/><path d="M702.3 218.7 704.4 217 704.4 214.3 702.3 215.9z" fill="#87df93"/><path d="M702.3 218.7 705.8 219.6 707.8 218 704.4 217z" fill="#518658"/><path d="M742.4 218.7 745.9 219.7 747.8 218 744.3 217.1z" fill="#62c88f" class="u"/><path d="M713.4 219 716.9 220 718.9 218.3 715.4 217.3z" fill="#62c88f" class="u"/><path d="M724.5 219.3 728 220.3 729.9 218.6 726.5 217.6z" fill="#66c88c" class="u"/><path d="M702.3 215.9 705.7 216.9 707.8 215.2 704.4 214.3z" fill="#75c17f"/><path d="M695.5 219.5 698.9 220.5 701 218.8 697.6 217.9z" fill="#63c88e" class="u"/><path d="M705.8 219.6 707.8 218 707.8 215.2 705.7 216.9z" fill="#406945"/><path d="M735.6 219.6 739.1 220.6 741 218.9 737.6 218z" fill="#65c88d" class="u"/><path d="M706.6 219.9 710 220.8 712.1 219.2 708.6 218.2z" fill="#66c88c" class="u"/><path d="M702.3 218.7 705.8 219.6 705.7 216.9 702.3 215.9z" fill="#87df93"/><path d="M746.8 220 750.3 220.9 752.2 219.2 748.6 218.3z" fill="#65c88d" class="u"/><path d="M717.7 220.2 721.2 221.2 723.2 219.5 719.7 218.5z" fill="#63c88e" class="u"/><path d="M688.6 220.4 692 221.4 694.1 219.7 690.8 218.8z" fill="#63c88e" class="u"/><path d="M728.9 220.5 732.3 221.5 734.3 219.8 730.8 218.8z" fill="#65c88d" class="u"/><path d="M699.8 220.8 703.2 221.7 705.2 220 701.8 219.1z" fill="#65c88d" class="u"/><path d="M740 220.8 743.5 221.8 745.4 220.1 741.9 219.2z" fill="#63c88e" class="u"/><path d="M710.9 221.1 714.3 222.1 716.4 220.4 712.9 219.4z" fill="#63c88e" class="u"/><path d="M724 219.7 727.5 220.7 727.5 217.4 724 216.4z" fill="#426844"/><path d="M751.2 221.2 754.7 222.1 756.6 220.5 753 219.5z" fill="#62c88f" class="u"/><path d="M722 221.4 725.5 222.4 727.5 220.7 724 219.7z" fill="#558657"/><path d="M722 221.4 724 219.7 724 216.4 722 218.1z" fill="#8cdd8f"/><path d="M692.9 221.7 696.3 222.6 698.4 220.9 695 220z" fill="#63c88e" class="u"/><path d="M733.2 221.7 736.7 222.7 738.6 221 735.1 220.1z" fill="#65c88d" class="u"/><path d="M704 222 707.5 223 709.5 221.3 706.1 220.3z" fill="#65c88d" class="u"/><path d="M744.4 222.1 747.9 223 749.8 221.4 746.3 220.4z" fill="#63c88e" class="u"/><path d="M728.4 220.9 731.8 221.9 731.9 219.1 728.4 218.2z" fill="#406945"/><path d="M715.2 222.3 718.7 223.3 720.7 221.6 717.2 220.6z" fill="#63c88e" class="u"/><path d="M755.6 222.4 759.1 223.4 761 221.7 757.4 220.7z" fill="#65c88d" class="u"/><path d="M725.5 222.4 727.5 220.7 727.5 217.4 725.5 219.1z" fill="#426844"/><path d="M722 218.1 725.5 219.1 727.5 217.4 724 216.4z" fill="#7ac07c"/><path d="M686 222.5 689.4 223.5 691.5 221.8 688.1 220.9z" fill="#66c88c" class="u"/><path d="M739.5 221.3 743 222.2 743.1 219.5 739.6 218.5z" fill="#406945"/><path d="M726.4 222.6 728.4 220.9 728.4 218.2 726.4 219.9z" fill="#87df93"/><path d="M726.4 222.6 729.9 223.6 731.8 221.9 728.4 220.9z" fill="#518658"/><path d="M722 221.4 725.5 222.4 725.5 219.1 722 218.1z" fill="#8cdd8f"/><path d="M697.2 222.9 700.6 223.9 702.7 222.2 699.2 221.2z" fill="#63c88e" class="u"/><path d="M737.6 223 739.5 221.3 739.6 218.5 737.6 220.2z" fill="#87df93"/><path d="M737.6 223 741.1 223.9 743 222.2 739.5 221.3z" fill="#518658"/><path d="M708.3 223.2 711.8 224.2 713.8 222.5 710.4 221.5z" fill="#65c88d" class="u"/><path d="M748.8 223.3 752.4 224.3 754.2 222.6 750.7 221.6z" fill="#62c88f" class="u"/><path d="M726.4 219.9 729.9 220.8 731.9 219.1 728.4 218.2z" fill="#75c17f"/><path d="M719.5 223.5 723 224.5 725 222.8 721.5 221.8z" fill="#65c88d" class="u"/><path d="M729.9 223.6 731.8 221.9 731.9 219.1 729.9 220.8z" fill="#406945"/><path d="M760 223.6 763.6 224.6 765.5 222.9 761.9 221.9z" fill="#65c88d" class="u"/><path d="M690.2 223.8 693.7 224.8 695.8 223.1 692.4 222.1z" fill="#65c88d" class="u"/><path d="M737.6 220.2 741.2 221.2 743.1 219.5 739.6 218.5z" fill="#75c17f"/><path d="M730.8 223.9 734.3 224.9 736.2 223.1 732.7 222.2z" fill="#63c88e" class="u"/><path d="M741.1 223.9 743 222.2 743.1 219.5 741.2 221.2z" fill="#406945"/><path d="M726.4 222.6 729.9 223.6 729.9 220.8 726.4 219.9z" fill="#87df93"/><path d="M701.4 224.1 704.9 225.1 707 223.4 703.5 222.4z" fill="#62c88f" class="u"/><path d="M742 224.2 745.5 225.2 747.4 223.5 743.9 222.5z" fill="#65c88d" class="u"/><path d="M737.6 223 741.1 223.9 741.2 221.2 737.6 220.2z" fill="#87df93"/><path d="M712.7 224.4 716.1 225.4 718.2 223.7 714.7 222.7z" fill="#856437"/><path d="M753.2 224.5 756.8 225.5 758.7 223.8 755.1 222.8z" fill="#66c88c" class="u"/><path d="M683.3 224.7 686.7 225.7 688.9 224 685.5 223z" fill="#63c88e" class="u"/><path d="M723.9 224.8 727.4 225.8 729.4 224 725.9 223.1z" fill="#62c88f" class="u"/><path d="M764.5 224.9 768.1 225.9 769.9 224.1 766.3 223.1z" fill="#63c88e" class="u"/><path d="M694.5 225 698 226 700.1 224.3 696.6 223.3z" fill="#65c88d" class="u"/><path d="M735.2 225.1 738.7 226.1 740.6 224.4 737.1 223.4z" fill="#62c88f" class="u"/><path d="M705.8 225.3 709.2 226.3 711.3 224.6 707.8 223.6z" fill="#58c794" class="u"/><path d="M746.4 225.4 750 226.4 751.9 224.7 748.3 223.7z" fill="#62c88f" class="u"/><path d="M717 225.7 720.5 226.7 722.5 225 719 224z" fill="#66c88c" class="u"/><path d="M714.7 222.7 718.2 223.7 718.1 210.5 714.6 209.5z" fill="#684e2b"/><path d="M757.7 225.8 761.3 226.8 763.2 225 759.6 224.1z" fill="#66c88c" class="u"/><path d="M700.9 224.5 704.4 225.5 704.3 222.7 700.9 221.8z" fill="#406945"/><path d="M687.6 225.9 691 226.9 693.1 225.2 689.7 224.2z" fill="#65c88d" class="u"/><path d="M728.3 226 731.8 227 733.8 225.3 730.3 224.3z" fill="#63c88e" class="u"/><path d="M712.7 224.4 714.7 222.7 714.6 209.5 712.6 211.2z" fill="#dca65a"/><path d="M769 226.1 772.6 227.1 774.4 225.4 770.8 224.4z" fill="#63c88e" class="u"/><path d="M698.8 226.3 700.9 224.5 700.9 221.8 698.8 223.5z" fill="#87df93"/><path d="M698.8 226.3 702.3 227.3 704.4 225.5 700.9 224.5z" fill="#518658"/><path d="M739.6 226.3 743.1 227.3 745.1 225.6 741.5 224.6z" fill="#63c88e" class="u"/><path d="M710.1 226.6 713.6 227.6 715.6 225.9 712.2 224.9z" fill="#63c88e" class="u"/><path d="M750.9 226.7 754.5 227.7 756.3 226 752.8 225z" fill="#63c88e" class="u"/><path d="M680.6 226.8 684 227.8 686.2 226.1 682.8 225.1z" fill="#65c88d" class="u"/><path d="M721.4 226.9 724.9 227.9 726.9 226.2 723.4 225.2z" fill="#65c88d" class="u"/><path d="M762.2 227 765.8 228 767.6 226.3 764 225.3z" fill="#65c88d" class="u"/><path d="M716.1 225.4 718.2 223.7 718.1 210.5 716.1 212.1z" fill="#684e2b"/><path d="M698.8 223.5 702.3 224.5 704.3 222.7 700.9 221.8z" fill="#75c17f"/><path d="M691.9 227.2 695.3 228.2 697.4 226.4 694 225.4z" fill="#63c88e" class="u"/><path d="M702.3 227.3 704.4 225.5 704.3 222.7 702.3 224.5z" fill="#406945"/><path d="M732.7 227.3 736.2 228.3 738.2 226.5 734.7 225.5z" fill="#62c88f" class="u"/><path d="M712.7 224.4 716.1 225.4 716.1 212.1 712.6 211.2z" fill="#dca65a"/><path d="M703.2 227.5 706.6 228.5 708.7 226.8 705.2 225.8z" fill="#65c88d" class="u"/><path d="M698.8 226.3 702.3 227.3 702.3 224.5 698.8 223.5z" fill="#87df93"/><path d="M744 227.6 747.6 228.6 749.5 226.9 745.9 225.9z" fill="#66c88c" class="u"/><path d="M714.5 227.8 718 228.9 720 227.1 716.5 226.1z" fill="#66c88c" class="u"/><path d="M755.4 227.9 759 228.9 760.8 227.2 757.2 226.2z" fill="#6ac88a" class="u"/><path d="M684.9 228.1 688.3 229.1 690.5 227.4 687 226.4z" fill="#63c88e" class="u"/><path d="M725.8 228.2 729.3 229.2 731.3 227.4 727.8 226.4z" fill="#66c88c" class="u"/><path d="M766.7 228.3 770.3 229.3 772.2 227.5 768.6 226.5z" fill="#63c88e" class="u"/><path d="M696.2 228.4 699.7 229.4 701.8 227.7 698.3 226.7z" fill="#66c88c" class="u"/><path d="M737.1 228.5 740.7 229.5 742.6 227.8 739.1 226.8z" fill="#63c88e" class="u"/><path d="M712.6 211.2 716.1 212.1 718.1 210.5 714.6 209.5z" fill="#bf904e"/><path d="M707.5 228.8 711 229.8 713.1 228 709.6 227z" fill="#60c890" class="u"/><path d="M748.5 228.9 752.1 229.9 754 228.1 750.4 227.1z" fill="#60c890" class="u"/><path d="M677.9 229 681.3 230 683.5 228.3 680.1 227.3z" fill="#63c88e" class="u"/><path d="M718.9 229.1 722.4 230.1 724.4 228.4 720.9 227.4z" fill="#66c88c" class="u"/><path d="M759.9 229.2 763.5 230.2 765.3 228.5 761.7 227.5z" fill="#66c88c" class="u"/><path d="M689.2 229.4 692.7 230.4 694.8 228.6 691.3 227.6z" fill="#63c88e" class="u"/><path d="M730.2 229.4 733.8 230.5 735.7 228.7 732.2 227.7z" fill="#63c88e" class="u"/><path d="M700.5 229.7 704 230.7 706.1 229 702.6 227.9z" fill="#63c88e" class="u"/><path d="M741.6 229.8 745.2 230.8 747.1 229 743.5 228z" fill="#66c88c" class="u"/><path d="M711.9 230 715.4 231 717.5 229.3 714 228.3z" fill="#65c88d" class="u"/><path d="M753 230.1 756.6 231.1 758.5 229.4 754.9 228.4z" fill="#63c88e" class="u"/><path d="M682.2 230.3 685.6 231.3 687.8 229.5 684.3 228.5z" fill="#63c88e" class="u"/><path d="M723.3 230.4 726.8 231.4 728.8 229.6 725.3 228.6z" fill="#65c88d" class="u"/><path d="M764.4 230.5 768 231.5 769.9 229.7 766.2 228.7z" fill="#65c88d" class="u"/><path d="M693.5 230.6 697 231.6 699.1 229.9 695.7 228.9z" fill="#63c88e" class="u"/><path d="M734.7 230.7 738.2 231.7 740.2 230 736.6 229z" fill="#882613"/><path d="M704.9 231 708.4 232 710.5 230.2 707 229.2z" fill="#63c88e" class="u"/><path d="M746.1 231.1 749.7 232.1 751.6 230.3 748 229.3z" fill="#66c88c" class="u"/><path d="M675.1 231.2 678.5 232.2 680.8 230.5 677.3 229.5z" fill="#66c88c" class="u"/><path d="M716.3 231.3 719.8 232.3 721.9 230.6 718.3 229.5z" fill="#63c88e" class="u"/><path d="M757.5 231.4 761.1 232.4 763 230.7 759.4 229.6z" fill="#66c88c" class="u"/><path d="M686.5 231.6 690 232.6 692.1 230.8 688.7 229.8z" fill="#62c88f" class="u"/><path d="M727.7 231.6 731.3 232.7 733.3 230.9 729.7 229.9z" fill="#70c787" class="u"/><path d="M697.9 231.9 701.4 232.9 703.5 231.1 700 230.1z" fill="#62c88f" class="u"/><path d="M739.1 232 742.7 233 744.7 231.2 741.1 230.2z" fill="#63c88e" class="u"/><path d="M709.3 232.2 712.8 233.3 714.9 231.5 711.4 230.5z" fill="#66c88c" class="u"/><path d="M750.6 232.3 754.2 233.4 756.1 231.6 752.5 230.6z" fill="#62c88f" class="u"/><path d="M679.4 232.5 682.9 233.5 685.1 231.7 681.6 230.7z" fill="#65c88d" class="u"/><path d="M720.7 232.6 724.3 233.6 726.3 231.8 722.8 230.8z" fill="#65c88d" class="u"/><path d="M762 232.7 765.7 233.7 767.6 231.9 763.9 230.9z" fill="#65c88d" class="u"/><path d="M690.8 232.8 694.3 233.9 696.5 232.1 693 231.1z" fill="#65c88d" class="u"/><path d="M732.2 232.9 735.8 234 737.7 232.2 734.2 231.2z" fill="#63c88e" class="u"/><path d="M702.3 233.2 705.8 234.2 707.9 232.4 704.4 231.4z" fill="#65c88d" class="u"/><path d="M743.6 233.3 747.3 234.3 749.2 232.5 745.6 231.5z" fill="#63c88e" class="u"/><path d="M672.3 233.4 675.8 234.5 678 232.7 674.5 231.7z" fill="#62c88f" class="u"/><path d="M713.7 233.5 717.3 234.6 719.3 232.8 715.8 231.7z" fill="#63c88e" class="u"/><path d="M755.1 233.6 758.8 234.7 760.7 232.9 757 231.8z" fill="#62c88f" class="u"/><path d="M736.6 229 740.2 230 740.6 206.7 736.9 205.7z" fill="#6a1e0f"/><path d="M683.7 233.8 687.2 234.8 689.4 233 685.9 232z" fill="#66c88c" class="u"/><path d="M725.2 233.9 728.8 234.9 730.8 233.1 727.2 232.1z" fill="#65c88d" class="u"/><path d="M734.7 230.7 736.6 229 736.9 205.7 734.9 207.4z" fill="#e13f20"/><path d="M695.2 234.1 698.7 235.2 700.8 233.4 697.3 232.3z" fill="#65c88d" class="u"/><path d="M736.7 234.2 740.3 235.3 742.2 233.5 738.6 232.4z" fill="#62c88f" class="u"/><path d="M706.7 234.5 710.2 235.5 712.3 233.7 708.8 232.7z" fill="#6ec788" class="u"/><path d="M748.2 234.6 751.8 235.6 753.7 233.8 750.1 232.8z" fill="#65c88d" class="u"/><path d="M676.6 234.7 680.1 235.8 682.3 234 678.9 232.9z" fill="#63c88e" class="u"/><path d="M718.1 234.8 721.7 235.9 723.8 234.1 720.2 233z" fill="#63c88e" class="u"/><path d="M759.7 234.9 763.3 236 765.2 234.2 761.6 233.1z" fill="#62c88f" class="u"/><path d="M688.1 235.1 691.6 236.1 693.8 234.3 690.3 233.3z" fill="#65c88d" class="u"/><path d="M738.2 231.7 740.2 230 740.6 206.7 738.6 208.4z" fill="#6a1e0f"/><path d="M729.7 235.2 733.3 236.2 735.3 234.4 731.7 233.4z" fill="#66c88c" class="u"/><path d="M699.6 235.4 703.1 236.5 705.3 234.7 701.7 233.6z" fill="#882111"/><path d="M734.7 230.7 738.2 231.7 738.6 208.4 734.9 207.4z" fill="#e13f20"/><path d="M741.2 235.5 744.8 236.6 746.8 234.8 743.1 233.7z" fill="#62c88f" class="u"/><path d="M669.5 235.7 673 236.7 675.2 234.9 671.8 233.9z" fill="#63c88e" class="u"/><path d="M711.1 235.8 714.7 236.8 716.7 235 713.2 234z" fill="#66c88c" class="u"/><path d="M752.7 235.9 756.4 236.9 758.3 235.1 754.6 234.1z" fill="#63c88e" class="u"/><path d="M681 236 684.5 237.1 686.7 235.3 683.2 234.2z" fill="#62c88f" class="u"/><path d="M722.6 236.1 726.2 237.2 728.2 235.4 724.7 234.3z" fill="#66c88c" class="u"/><path d="M692.5 236.4 696 237.4 698.2 235.6 694.7 234.6z" fill="#65c88d" class="u"/><path d="M747.7 235 751.3 236.1 751.4 233.2 747.7 232.2z" fill="#406945"/><path d="M734.2 236.5 737.8 237.5 739.8 235.7 736.2 234.7z" fill="#63c88e" class="u"/><path d="M704 236.7 707.6 237.8 709.7 236 706.1 234.9z" fill="#65c88d" class="u"/><path d="M745.7 236.8 747.7 235 747.7 232.2 745.8 234z" fill="#87df93"/><path d="M745.7 236.8 749.4 237.9 751.3 236.1 747.7 235z" fill="#518658"/><path d="M673.8 237 677.3 238 679.6 236.2 676.1 235.2z" fill="#63c88e" class="u"/><path d="M715.6 237.1 719.1 238.1 721.2 236.3 717.6 235.3z" fill="#65c88d" class="u"/><path d="M757.3 237.2 761 238.2 762.9 236.4 759.2 235.4z" fill="#65c88d" class="u"/><path d="M685.4 237.3 688.9 238.4 691.1 236.6 687.6 235.5z" fill="#65c88d" class="u"/><path d="M727.1 237.4 730.7 238.5 732.7 236.7 729.1 235.6z" fill="#65c88d" class="u"/><path d="M696.9 237.7 700.4 238.7 702.6 236.9 699.1 235.9z" fill="#65c88d" class="u"/><path d="M745.8 234 749.4 235 751.4 233.2 747.7 232.2z" fill="#75c17f"/><path d="M738.7 237.8 742.3 238.8 744.3 237 740.7 236z" fill="#63c88e" class="u"/><path d="M749.4 237.9 751.3 236.1 751.4 233.2 749.4 235z" fill="#406945"/><path d="M666.7 237.9 670.1 239 672.4 237.2 668.9 236.1z" fill="#65c88d" class="u"/><path d="M708.5 238 712 239.1 714.1 237.3 710.6 236.2z" fill="#63c88e" class="u"/><path d="M750.3 238.1 754 239.2 755.9 237.4 752.2 236.3z" fill="#63c88e" class="u"/><path d="M745.7 236.8 749.4 237.9 749.4 235 745.8 234z" fill="#87df93"/><path d="M678.2 238.3 681.7 239.3 683.9 237.5 680.4 236.5z" fill="#60c890" class="u"/><path d="M720 238.4 723.6 239.4 725.7 237.6 722.1 236.6z" fill="#66c88c" class="u"/><path d="M734.9 207.4 738.6 208.4 740.6 206.7 736.9 205.7z" fill="#c4371c"/><path d="M701.7 233.6 705.3 234.7 705 210.6 701.4 209.6z" fill="#6a1a0d"/><path d="M689.8 238.6 693.3 239.7 695.5 237.9 691.9 236.8z" fill="#65c88d" class="u"/><path d="M731.6 238.7 735.3 239.8 737.3 238 733.7 236.9z" fill="#62c88f" class="u"/><path d="M699.6 235.4 701.7 233.6 701.4 209.6 699.2 211.3z" fill="#e1371c"/><path d="M701.3 239 704.9 240.1 707 238.2 703.5 237.2z" fill="#62c88f" class="u"/><path d="M743.2 239.1 746.9 240.2 748.9 238.3 745.2 237.3z" fill="#65c88d" class="u"/><path d="M671 239.3 674.5 240.3 676.8 238.5 673.3 237.4z" fill="#62c88f" class="u"/><path d="M712.9 239.4 716.5 240.4 718.6 238.6 715 237.5z" fill="#60c890" class="u"/><path d="M754.9 239.4 758.6 240.5 760.5 238.7 756.8 237.6z" fill="#62c88f" class="u"/><path d="M682.6 239.6 686.1 240.7 688.3 238.8 684.8 237.8z" fill="#62c88f" class="u"/><path d="M738.2 238.2 741.8 239.3 741.9 236.4 738.2 235.4z" fill="#406945"/><path d="M724.5 239.7 728.2 240.8 730.2 238.9 726.6 237.9z" fill="#66c88c" class="u"/><path d="M694.2 240 697.7 241 699.9 239.2 696.4 238.1z" fill="#65c88d" class="u"/><path d="M703.1 236.5 705.3 234.7 705 210.6 702.8 212.3z" fill="#6a1a0d"/><path d="M736.2 240.1 738.2 238.2 738.2 235.4 736.2 237.2z" fill="#87df93"/><path d="M736.2 240.1 739.8 241.1 741.8 239.3 738.2 238.2z" fill="#518658"/><path d="M663.8 240.2 667.3 241.3 669.6 239.5 666.1 238.4z" fill="#62c88f" class="u"/><path d="M705.8 240.3 709.4 241.4 711.5 239.5 707.9 238.5z" fill="#63c88e" class="u"/><path d="M699.6 235.4 703.1 236.5 702.8 212.3 699.2 211.3z" fill="#e1371c"/><path d="M747.8 240.4 751.5 241.5 753.5 239.6 749.8 238.6z" fill="#65c88d" class="u"/><path d="M675.4 240.6 678.9 241.6 681.1 239.8 677.6 238.7z" fill="#63c88e" class="u"/><path d="M717.4 240.7 721 241.7 723.1 239.9 719.5 238.8z" fill="#63c88e" class="u"/><path d="M687 240.9 690.5 242 692.7 240.2 689.2 239.1z" fill="#66c88c" class="u"/><path d="M736.2 237.2 739.9 238.3 741.9 236.4 738.2 235.4z" fill="#75c17f"/><path d="M729.1 241 732.7 242.1 734.8 240.3 731.1 239.2z" fill="#65c88d" class="u"/><path d="M739.8 241.1 741.8 239.3 741.9 236.4 739.9 238.3z" fill="#406945"/><path d="M698.6 241.3 702.2 242.4 704.4 240.5 700.8 239.5z" fill="#63c88e" class="u"/><path d="M740.7 241.4 744.4 242.5 746.4 240.6 742.7 239.6z" fill="#65c88d" class="u"/><path d="M736.2 240.1 739.8 241.1 739.9 238.3 736.2 237.2z" fill="#87df93"/><path d="M668.1 241.6 671.7 242.6 673.9 240.8 670.4 239.7z" fill="#65c88d" class="u"/><path d="M710.3 241.7 713.9 242.7 716 240.9 712.4 239.8z" fill="#65c88d" class="u"/><path d="M752.4 241.8 756.1 242.8 758.1 241 754.4 239.9z" fill="#65c88d" class="u"/><path d="M679.8 241.9 683.3 243 685.6 241.1 682 240.1z" fill="#63c88e" class="u"/><path d="M721.9 242 725.6 243.1 727.7 241.2 724 240.2z" fill="#856437"/><path d="M735.7 240.5 739.3 241.6 739.4 238.2 735.7 237.1z" fill="#426844"/><path d="M691.4 242.3 695 243.3 697.2 241.5 693.6 240.4z" fill="#62c88f" class="u"/><path d="M733.6 242.4 737.3 243.4 739.3 241.6 735.7 240.5z" fill="#558657"/><path d="M733.6 242.4 735.7 240.5 735.7 237.1 733.7 238.9z" fill="#8cdd8f"/><path d="M703.1 242.6 706.7 243.7 708.8 241.8 705.3 240.8z" fill="#66c88c" class="u"/><path d="M745.3 242.7 749 243.8 751 241.9 747.3 240.9z" fill="#65c88d" class="u"/><path d="M672.5 242.9 676.1 244 678.3 242.1 674.8 241z" fill="#63c88e" class="u"/><path d="M714.8 243 718.4 244.1 720.5 242.2 716.9 241.1z" fill="#58c794" class="u"/><path d="M684.2 243.3 687.8 244.3 690 242.5 686.4 241.4z" fill="#65c88d" class="u"/><path d="M726.5 243.4 730.2 244.4 732.2 242.6 728.6 241.5z" fill="#63c88e" class="u"/><path d="M724 240.2 727.7 241.2 727.7 227.6 724.1 226.6z" fill="#684e2b"/><path d="M737.3 243.4 739.3 241.6 739.4 238.2 737.3 240z" fill="#426844"/><path d="M709.7 242.1 713.4 243.2 713.3 240.3 709.7 239.3z" fill="#406945"/><path d="M699.2 211.3 702.8 212.3 705 210.6 701.4 209.6z" fill="#c43018"/><path d="M733.7 238.9 737.3 240 739.4 238.2 735.7 237.1z" fill="#7ac07c"/><path d="M695.9 243.6 699.5 244.7 701.7 242.8 698.1 241.8z" fill="#63c88e" class="u"/><path d="M738.2 243.7 741.9 244.8 743.9 242.9 740.2 241.9z" fill="#66c88c" class="u"/><path d="M721.9 242 724 240.2 724.1 226.6 722 228.4z" fill="#dca65a"/><path d="M733.6 242.4 737.3 243.4 737.3 240 733.7 238.9z" fill="#8cdd8f"/><path d="M707.6 244 709.7 242.1 709.7 239.3 707.6 241.1z" fill="#87df93"/><path d="M707.6 244 711.2 245.1 713.4 243.2 709.7 242.1z" fill="#518658"/><path d="M750 244.1 753.7 245.2 755.7 243.3 751.9 242.2z" fill="#65c88d" class="u"/><path d="M676.9 244.2 680.5 245.3 682.8 243.5 679.2 242.4z" fill="#62c88f" class="u"/><path d="M719.3 244.3 723 245.4 725.1 243.6 721.4 242.5z" fill="#65c88d" class="u"/><path d="M688.7 244.6 692.2 245.7 694.4 243.8 690.9 242.7z" fill="#63c88e" class="u"/><path d="M731.1 244.7 734.8 245.8 736.8 243.9 733.1 242.8z" fill="#63c88e" class="u"/><path d="M725.6 243.1 727.7 241.2 727.7 227.6 725.6 229.4z" fill="#684e2b"/><path d="M707.6 241.1 711.2 242.2 713.3 240.3 709.7 239.3z" fill="#75c17f"/><path d="M700.4 245 704 246.1 706.2 244.2 702.6 243.1z" fill="#63c88e" class="u"/><path d="M711.2 245.1 713.4 243.2 713.3 240.3 711.2 242.2z" fill="#406945"/><path d="M742.8 245.1 746.5 246.2 748.5 244.3 744.8 243.2z" fill="#63c88e" class="u"/><path d="M721.9 242 725.6 243.1 725.6 229.4 722 228.4z" fill="#dca65a"/><path d="M712.1 245.3 715.8 246.4 717.9 244.5 714.3 243.5z" fill="#62c88f" class="u"/><path d="M707.6 244 711.2 245.1 711.2 242.2 707.6 241.1z" fill="#87df93"/><path d="M681.4 245.6 685 246.7 687.2 244.8 683.6 243.7z" fill="#66c88c" class="u"/><path d="M723.9 245.7 727.6 246.8 729.6 244.9 726 243.8z" fill="#63c88e" class="u"/><path d="M693.1 246 696.7 247.1 698.9 245.2 695.3 244.1z" fill="#63c88e" class="u"/><path d="M735.7 246.1 739.4 247.2 741.4 245.3 737.7 244.2z" fill="#62c88f" class="u"/><path d="M704.9 246.3 708.5 247.4 710.7 245.5 707.1 244.4z" fill="#65c88d" class="u"/><path d="M747.5 246.4 751.2 247.5 753.2 245.6 749.5 244.5z" fill="#63c88e" class="u"/><path d="M722 228.4 725.6 229.4 727.7 227.6 724.1 226.6z" fill="#bf904e"/><path d="M716.7 246.7 720.3 247.8 722.5 245.9 718.8 244.8z" fill="#65c88d" class="u"/><path d="M685.9 247 689.4 248.1 691.7 246.2 688.1 245.1z" fill="#63c88e" class="u"/><path d="M728.5 247.1 732.2 248.2 734.2 246.3 730.6 245.2z" fill="#62c88f" class="u"/><path d="M697.6 247.3 701.3 248.4 703.4 246.5 699.8 245.4z" fill="#65c88d" class="u"/><path d="M740.3 247.4 744 248.5 746 246.6 742.3 245.5z" fill="#65c88d" class="u"/><path d="M709.4 247.7 713.1 248.8 715.2 246.9 711.6 245.8z" fill="#63c88e" class="u"/><path d="M721.3 248.1 724.9 249.2 727 247.3 723.4 246.2z" fill="#66c88c" class="u"/><path d="M690.3 248.3 694 249.4 696.2 247.5 692.6 246.4z" fill="#65c88d" class="u"/><path d="M733.1 248.4 736.8 249.5 738.9 247.6 735.2 246.5z" fill="#63c88e" class="u"/><path d="M702.2 248.7 705.8 249.8 708 247.9 704.4 246.8z" fill="#65c88d" class="u"/><path d="M745 248.8 748.7 249.9 750.7 248 747 246.9z" fill="#63c88e" class="u"/><path d="M714 249.1 717.7 250.2 719.8 248.3 716.2 247.2z" fill="#65c88d" class="u"/><path d="M725.9 249.4 729.6 250.5 731.7 248.6 728 247.5z" fill="#63c88e" class="u"/><path d="M694.9 249.7 698.5 250.8 700.7 248.9 697.1 247.8z" fill="#63c88e" class="u"/><path d="M737.8 249.8 741.5 250.9 743.5 249 739.8 247.9z" fill="#62c88f" class="u"/><path d="M720.7 248.5 724.4 249.6 724.4 246.8 720.7 245.7z" fill="#406945"/><path d="M706.7 250.1 710.4 251.2 712.6 249.3 708.9 248.2z" fill="#63c88e" class="u"/><path d="M718.6 250.5 720.7 248.5 720.7 245.7 718.6 247.6z" fill="#87df93"/><path d="M718.6 250.5 722.3 251.6 724.4 249.6 720.7 248.5z" fill="#518658"/><path d="M730.5 250.8 734.2 251.9 736.3 250 732.6 248.9z" fill="#63c88e" class="u"/><path d="M699.4 251.1 703.1 252.2 705.3 250.3 701.6 249.2z" fill="#66c88c" class="u"/><path d="M742.4 251.2 746.2 252.3 748.2 250.4 744.5 249.3z" fill="#65c88d" class="u"/><path d="M718.6 247.6 722.3 248.7 724.4 246.8 720.7 245.7z" fill="#75c17f"/><path d="M711.3 251.5 715 252.6 717.1 250.7 713.5 249.5z" fill="#63c88e" class="u"/><path d="M722.3 251.6 724.4 249.6 724.4 246.8 722.3 248.7z" fill="#406945"/><path d="M723.2 251.8 726.9 253 729.1 251 725.3 249.9z" fill="#63c88e" class="u"/><path d="M718.6 250.5 722.3 251.6 722.3 248.7 718.6 247.6z" fill="#87df93"/><path d="M735.2 252.2 738.9 253.3 741 251.4 737.2 250.3z" fill="#65c88d" class="u"/><path d="M704 252.5 707.7 253.6 709.8 251.7 706.2 250.6z" fill="#63c88e" class="u"/><path d="M715.9 252.9 719.6 254 721.8 252 718.1 250.9z" fill="#63c88e" class="u"/><path d="M727.9 253.2 731.6 254.4 733.7 252.4 730 251.3z" fill="#63c88e" class="u"/><path d="M739.9 253.6 743.6 254.7 745.7 252.8 741.9 251.7z" fill="#65c88d" class="u"/><path d="M708.6 253.9 712.3 255 714.5 253.1 710.8 252z" fill="#66c88c" class="u"/><path d="M720.6 254.3 724.3 255.4 726.4 253.4 722.7 252.3z" fill="#65c88d" class="u"/><path d="M732.6 254.6 736.3 255.8 738.4 253.8 734.6 252.7z" fill="#66c88c" class="u"/><path d="M713.2 255.3 716.9 256.4 719.1 254.5 715.4 253.4z" fill="#63c88e" class="u"/><path d="M725.2 255.7 729 256.8 731.1 254.9 727.4 253.7z" fill="#63c88e" class="u"/><path d="M737.3 256.1 741.1 257.2 743.1 255.2 739.3 254.1z" fill="#63c88e" class="u"/><path d="M717.9 256.7 721.6 257.9 723.8 255.9 720 254.8z" fill="#63c88e" class="u"/><path d="M729.9 257.1 733.7 258.3 735.8 256.3 732 255.1z" fill="#63c88e" class="u"/><path d="M722.5 258.2 726.3 259.3 728.5 257.3 724.7 256.2z" fill="#65c88d" class="u"/><path d="M734.6 258.5 738.4 259.7 740.5 257.7 736.7 256.6z" fill="#66c88c" class="u"/><path d="M727.3 259.6 731 260.7 733.2 258.7 729.4 257.6z" fill="#63c88e" class="u"/><path d="M732 261 735.8 262.2 737.9 260.2 734.1 259z" fill="#65c88d" class="u"/></g>
</g>
<g id="pane3d_25">
<g id="patch_26">
<path d="M 30.76 441.89 L 78.41 401.95 L 77.74 344.34 L 27.81 380.78 " style="fill: #f2f2f2; opacity: 0.5; stroke: #f2f2f2; stroke-linejoin: miter"/>
</g>
</g>
<g id="pane3d_26">
<g id="patch_27">
<path d="M 78.41 401.95 L 154.87 424.17 L 157.60 364.58 L 77.74 344.34 " style="fill: #e6e6e6; opacity: 0.5; stroke: #e6e6e6; stroke-linejoin: miter"/>
</g>
</g>
<g id="pane3d_27">
<g id="patch_28">
<path d="M 30.76 441.89 L 111.81 468.36 L 154.87 424.17 L 78.41 401.95 " style="fill: #ececec; opacity: 0.5; stroke: #ececec; stroke-linejoin: miter"/>
</g>
</g>
<g id="grid3d_25">
<g id="Line3DCollection_25">
<path d="M 44.61 446.41 L 91.52 405.76 L 91.42 347.81 " style="fill: none; stroke: #999999; stroke-width: 0.8"/>
<path d="M 62.81 452.36 L 108.73 410.76 L 109.37 352.36 " style="fill: none; stroke: #999999; stroke-width: 0.8"/>
<path d="M 81.46 458.45 L 126.32 415.87 L 127.74 357.02 " style="fill: none; stroke: #999999; stroke-width: 0.8"/>
<path d="M 100.57 464.69 L 144.30 421.10 L 146.54 361.78 " style="fill: none; stroke: #999999; stroke-width: 0.8"/>
</g>
</g>
<g id="grid3d_26">
<g id="Line3DCollection_26">
<path d="M 37.40 373.79 L 39.87 434.25 L 120.08 459.88 " style="fill: none; stroke: #999999; stroke-width: 0.8"/>
<path d="M 49.27 365.12 L 51.19 424.76 L 130.32 449.36 " style="fill: none; stroke: #999999; stroke-width: 0.8"/>
<path d="M 60.67 356.80 L 62.07 415.64 L 140.15 439.27 " style="fill: none; stroke: #999999; stroke-width: 0.8"/>
<path d="M 71.62 348.81 L 72.54 406.86 L 149.59 429.59 " style="fill: none; stroke: #999999; stroke-width: 0.8"/>
</g>
</g>
<g id="grid3d_27">
<g id="Line3DCollection_27">
<path d="M 154.92 423.03 L 78.39 400.84 L 30.70 440.72 " style="fill: none; stroke: #bdbdbd; stroke-width: 0.8"/>
<path d="M 156.17 395.86 L 78.09 374.55 L 29.36 412.88 " style="fill: none; stroke: #bdbdbd; stroke-width: 0.8"/>
<path d="M 157.46 367.57 L 77.78 347.22 L 27.96 383.84 " style="fill: none; stroke: #bdbdbd; stroke-width: 0.8"/>
</g>
</g>
<g id="axis3d_25">
<g id="line2d_193">
<path d="M 30.76 441.89 L 111.81 468.36 " style="fill: none; stroke: #000000; stroke-width: 0.8; stroke-linecap: square"/>
</g>
<g id="xtick_169">
<g id="line2d_194">
<path d="M 45.01 446.06 L 43.79 447.12 " style="fill: none; stroke: #000000; stroke-width: 0.8; stroke-linecap: square"/>
</g>
</g>
<g id="xtick_170">
<g id="line2d_195">
<path d="M 63.21 452.00 L 62.01 453.09 " style="fill: none; stroke: #000000; stroke-width: 0.8; stroke-linecap: square"/>
</g>
</g>
<g id="xtick_171">
<g id="line2d_196">
<path d="M 81.85 458.08 L 80.67 459.19 " style="fill: none; stroke: #000000; stroke-width: 0.8; stroke-linecap: square"/>
</g>
</g>
<g id="xtick_172">
<g id="line2d_197">
<path d="M 100.95 464.31 L 99.80 465.45 " style="fill: none; stroke: #000000; stroke-width: 0.8; stroke-linecap: square"/>
</g>
</g>
</g>
<g id="axis3d_26">
<g id="line2d_198">
<path d="M 154.87 424.17 L 111.81 468.36 " style="fill: none; stroke: #000000; stroke-width: 0.8; stroke-linecap: square"/>
</g>
<g id="xtick_173">
<g id="line2d_199">
<path d="M 119.40 459.66 L 121.43 460.31 " style="fill: none; stroke: #000000; stroke-width: 0.8; stroke-linecap: square"/>
</g>
</g>
<g id="xtick_174">
<g id="line2d_200">
<path d="M 129.66 449.16 L 131.66 449.78 " style="fill: none; stroke: #000000; stroke-width: 0.8; stroke-linecap: square"/>
</g>
</g>
<g id="xtick_175">
<g id="line2d_201">
<path d="M 139.50 439.08 L 141.47 439.67 " style="fill: none; stroke: #000000; stroke-width: 0.8; stroke-linecap: square"/>
</g>
</g>
<g id="xtick_176">
<g id="line2d_202">
<path d="M 148.95 429.40 L 150.89 429.97 " style="fill: none; stroke: #000000; stroke-width: 0.8; stroke-linecap: square"/>
</g>
</g>
</g>
<g id="axis3d_27">
<g id="line2d_203">
<path d="M 154.87 424.17 L 157.60 364.58 " style="fill: none; stroke: #000000; stroke-width: 0.8; stroke-linecap: square"/>
</g>
<g id="xtick_177">
<g id="line2d_204">
<path d="M 154.28 422.84 L 156.21 423.40 " style="fill: none; stroke: #000000; stroke-width: 0.8; stroke-linecap: square"/>
</g>
<g id="text_25">
<text style="font-size: 10px; font-family: 'DejaVu Sans'; text-anchor: middle" x="170.78" y="428.37">−0.5</text>
</g>
</g>
<g id="xtick_178">
<g id="line2d_205">
<path d="M 155.51 395.68 L 157.48 396.22 " style="fill: none; stroke: #000000; stroke-width: 0.8; stroke-linecap: square"/>
</g>
<g id="text_26">
<text style="font-size: 10px; font-family: 'DejaVu Sans'; text-anchor: middle" x="172.34" y="401.29">0.0</text>
</g>
</g>
<g id="xtick_179">
<g id="line2d_206">
<path d="M 156.79 367.40 L 158.80 367.91 " style="fill: none; stroke: #000000; stroke-width: 0.8; stroke-linecap: square"/>
</g>
<g id="text_27">
<text style="font-size: 10px; font-family: 'DejaVu Sans'; text-anchor: middle" x="173.96" y="373.09">0.5</text>
</g>
</g>
</g>
<g id="axes_9">
<g class="b" stroke-width="0.63"><path d="M80 378.1 93.9 381.9 93.9 381.3 80 377.5z" fill="#386a49"/><path d="M71.6 384.8 80 378.1 80 377.5 71.6 384.1z" fill="#77e19c"/><path d="M71.6 384.8 85.7 388.7 93.9 381.9 80 378.1z" fill="#48885e"/><path d="M71.6 384.1 85.7 388.1 93.9 381.3 80 377.5z" fill="#67c387"/><path d="M97.4 382.9 111.7 386.8 111.7 384.9 97.4 381z" fill="#3c6a47"/><path d="M85.7 388.7 93.9 381.9 93.9 381.3 85.7 388.1z" fill="#386a49"/><path d="M89.2 389.7 97.4 382.9 97.4 381 89.2 387.8z" fill="#80e097"/><path d="M71.6 384.8 85.7 388.7 85.7 388.1 71.6 384.1z" fill="#77e19c"/><path d="M69.5 389.8 83.6 393.7 83.6 390.5 69.5 386.5z" fill="#286852"/><path d="M89.2 389.7 103.6 393.8 111.7 386.8 97.4 382.9z" fill="#4d875b"/><path d="M89.2 387.8 103.6 391.8 111.7 384.9 97.4 381z" fill="#6fc283"/><path d="M60.9 396.7 69.5 389.8 69.5 386.5 60.8 393.4z" fill="#55ddae"/><path d="M115.3 387.8 129.8 391.8 129.9 389.6 115.3 385.6z" fill="#3e6946"/><path d="M103.6 393.8 111.7 386.8 111.7 384.9 103.6 391.8z" fill="#3c6a47"/><path d="M60.9 396.7 75.1 400.8 83.6 393.7 69.5 389.8z" fill="#338669"/><path d="M107.2 394.8 115.3 387.8 115.3 385.6 107.3 392.6z" fill="#83df95"/><path d="M60.8 393.4 75 397.5 83.6 390.5 69.5 386.5z" fill="#4ac097"/><path d="M89.2 389.7 103.6 393.8 103.6 391.8 89.2 387.8z" fill="#80e097"/><path d="M107.2 394.8 122 398.9 129.8 391.8 115.3 387.8z" fill="#4f875a"/><path d="M75.1 400.8 83.6 393.7 83.6 390.5 75 397.5z" fill="#286852"/><path d="M107.3 392.6 122 396.7 129.9 389.6 115.3 385.6z" fill="#72c281"/><path d="M60.9 396.7 75.1 400.8 75 397.5 60.8 393.4z" fill="#55ddae"/><path d="M133.5 392.8 148.4 396.9 148.4 396.2 133.5 392.2z" fill="#386a49"/><path d="M122 398.9 129.8 391.8 129.9 389.6 122 396.7z" fill="#3e6946"/><path d="M87.1 391.5 101.6 395.5 101.7 378.7 87.1 374.7z" fill="#6a3e21"/><path d="M125.7 400 133.5 392.8 133.5 392.2 125.7 399.3z" fill="#77e19c"/><path d="M58.6 398.5 72.9 402.7 72.8 399.3 58.6 395.2z" fill="#286852"/><path d="M78.6 398.6 93.2 402.8 101.6 395.5 87.1 391.5z" fill="#88502a"/><path d="M107.2 394.8 122 398.9 122 396.7 107.3 392.6z" fill="#83df95"/><path d="M78.6 398.6 87.1 391.5 87.1 374.7 78.4 381.7z" fill="#e18446"/><path d="M49.6 405.8 58.6 398.5 58.6 395.2 49.5 402.4z" fill="#55ddae"/><path d="M125.7 400 140.7 404.2 148.4 396.9 133.5 392.8z" fill="#48885e"/><path d="M125.7 399.3 140.8 403.5 148.4 396.2 133.5 392.2z" fill="#67c387"/><path d="M49.6 405.8 64 410.1 72.9 402.7 58.6 398.5z" fill="#338669"/><path d="M140.7 404.2 148.4 396.9 148.4 396.2 140.8 403.5z" fill="#386a49"/><path d="M49.5 402.4 63.9 406.7 72.8 399.3 58.6 395.2z" fill="#4ac097"/><path d="M93.2 402.8 101.6 395.5 101.7 378.7 93.2 385.7z" fill="#6a3e21"/><path d="M125.7 400 140.7 404.2 140.8 403.5 125.7 399.3z" fill="#77e19c"/><path d="M96.9 403.8 111.8 408.1 120 400.7 105.2 396.6z" fill="#88140a"/><path d="M64 410.1 72.9 402.7 72.8 399.3 63.9 406.7z" fill="#286852"/><path d="M78.4 381.7 93.2 385.7 101.7 378.7 87.1 374.7z" fill="#c4733c"/><path d="M105.2 396.6 120 400.7 120.5 375.1 105.4 371.1z" fill="#6a1008"/><path d="M78.6 398.6 93.2 402.8 93.2 385.7 78.4 381.7z" fill="#e18446"/><path d="M49.6 405.8 64 410.1 63.9 406.7 49.5 402.4z" fill="#55ddae"/><path d="M123.7 401.8 138.8 406 138.9 403.8 123.7 399.5z" fill="#3e6946"/><path d="M96.9 403.8 105.2 396.6 105.4 371.1 96.9 378.1z" fill="#e12111"/><path d="M115.6 409.2 123.7 401.8 123.7 399.5 115.6 407z" fill="#83df95"/><path d="M67.6 407.8 82.3 412.1 91 404.6 76.4 400.4z" fill="#880000"/><path d="M47.2 404.2 61.6 408.6 61.6 407.9 47.1 403.6z" fill="#386a49"/><path d="M76.4 400.4 91 404.6 91 375.9 76.1 371.9z" fill="#6a0000"/><path d="M115.6 409.2 130.9 413.6 138.8 406 123.7 401.8z" fill="#4f875a"/><path d="M37.7 411.8 47.2 404.2 47.1 403.6 37.7 411.1z" fill="#77e19c"/><path d="M115.6 407 130.9 411.3 138.9 403.8 123.7 399.5z" fill="#72c281"/><path d="M111.8 408.1 120 400.7 120.5 375.1 112.1 382.2z" fill="#6a1008"/><path d="M67.6 407.8 76.4 400.4 76.1 371.9 67 378.9z" fill="#e10000"/><path d="M37.7 411.8 52.3 416.2 61.6 408.6 47.2 404.2z" fill="#48885e"/><path d="M130.9 413.6 138.8 406 138.9 403.8 130.9 411.3z" fill="#3e6946"/><path d="M96.9 403.8 111.8 408.1 112.1 382.2 96.9 378.1z" fill="#e12111"/><path d="M37.7 411.1 52.3 415.5 61.6 407.9 47.1 403.6z" fill="#67c387"/><path d="M96.9 378.1 112.1 382.2 120.5 375.1 105.4 371.1z" fill="#c41d0e"/><path d="M94.7 405.7 109.7 410 109.9 391.1 94.8 386.9z" fill="#6a361c"/><path d="M65.4 413 80.1 417.5 80.1 414.1 65.3 409.6z" fill="#286852"/><path d="M86.1 413.3 101.2 417.7 109.7 410 94.7 405.7z" fill="#884524"/><path d="M115.6 409.2 130.9 413.6 130.9 411.3 115.6 407z" fill="#83df95"/><path d="M52.3 416.2 61.6 408.6 61.6 407.9 52.3 415.5z" fill="#386a49"/><path d="M86.1 413.3 94.7 405.7 94.8 386.9 86 394.2z" fill="#e1723b"/><path d="M56.1 420.8 65.4 413 65.3 409.6 56 417.4z" fill="#55ddae"/><path d="M82.3 412.1 91 404.6 91 375.9 82.1 383.1z" fill="#6a0000"/><path d="M113.5 411.1 128.8 415.6 128.9 413.6 113.5 409.1z" fill="#3c6a47"/><path d="M37.7 411.8 52.3 416.2 52.3 415.5 37.7 411.1z" fill="#77e19c"/><path d="M56.1 420.8 71.1 425.4 80.1 417.5 65.4 413z" fill="#338669"/><path d="M67.6 407.8 82.3 412.1 82.1 383.1 67 378.9z" fill="#e10000"/><path d="M105 418.9 113.5 411.1 113.5 409.1 105 416.9z" fill="#80e097"/><path d="M56 417.4 71 421.9 80.1 414.1 65.3 409.6z" fill="#4ac097"/><path d="M67 378.9 82.1 383.1 91 375.9 76.1 371.9z" fill="#c40000"/><path d="M83.9 418.6 99 423.1 99 419.7 83.8 415.2z" fill="#286852"/><path d="M101.2 417.7 109.7 410 109.9 391.1 101.3 398.6z" fill="#6a361c"/><path d="M105 418.9 120.5 423.5 128.8 415.6 113.5 411.1z" fill="#4d875b"/><path d="M71.1 425.4 80.1 417.5 80.1 414.1 71 421.9z" fill="#286852"/><path d="M105 416.9 120.6 421.4 128.9 413.6 113.5 409.1z" fill="#6fc283"/><path d="M86 394.2 101.3 398.6 109.9 391.1 94.8 386.9z" fill="#c46333"/><path d="M74.8 426.5 83.9 418.6 83.8 415.2 74.8 423.1z" fill="#55ddae"/><path d="M86.1 413.3 101.2 417.7 101.3 398.6 86 394.2z" fill="#e1723b"/><path d="M56.1 420.8 71.1 425.4 71 421.9 56 417.4z" fill="#55ddae"/><path d="M120.5 423.5 128.8 415.6 128.9 413.6 120.6 421.4z" fill="#3c6a47"/><path d="M74.8 426.5 90.1 431.2 99 423.1 83.9 418.6z" fill="#338669"/><path d="M74.8 423.1 90.1 427.8 99 419.7 83.8 415.2z" fill="#4ac097"/><path d="M105 418.9 120.5 423.5 120.6 421.4 105 416.9z" fill="#80e097"/><path d="M90.1 431.2 99 423.1 99 419.7 90.1 427.8z" fill="#286852"/><path d="M102.9 420.9 118.4 425.5 118.4 424.8 102.9 420.2z" fill="#386a49"/><path d="M74.8 426.5 90.1 431.2 90.1 427.8 74.8 423.1z" fill="#55ddae"/><path d="M94 428.9 102.9 420.9 102.9 420.2 94 428.2z" fill="#77e19c"/><path d="M94 428.9 109.8 433.7 118.4 425.5 102.9 420.9z" fill="#48885e"/><path d="M94 428.2 109.8 433 118.4 424.8 102.9 420.2z" fill="#67c387"/><path d="M109.8 433.7 118.4 425.5 118.4 424.8 109.8 433z" fill="#386a49"/><path d="M94 428.9 109.8 433.7 109.8 433 94 428.2z" fill="#77e19c"/></g>
</g>
<g id="pane3d_28">
<g id="patch_29">
<path d="M 239.44 441.89 L 287.09 401.95 L 286.43 344.34 L 236.50 380.78 " style="fill: #f2f2f2; opacity: 0.5; stroke: #f2f2f2; stroke-linejoin: miter"/>
</g>
</g>
<g id="pane3d_29">
<g id="patch_30">
<path d="M 287.09 401.95 L 363.56 424.17 L 366.28 364.58 L 286.43 344.34 " style="fill: #e6e6e6; opacity: 0.5; stroke: #e6e6e6; stroke-linejoin: miter"/>
</g>
</g>
<g id="pane3d_30">
<g id="patch_31">
<path d="M 239.44 441.89 L 320.50 468.36 L 363.56 424.17 L 287.09 401.95 " style="fill: #ececec; opacity: 0.5; stroke: #ececec; stroke-linejoin: miter"/>
</g>
</g>
<g id="grid3d_28">
<g id="Line3DCollection_28">
<path d="M 248.69 444.91 L 295.85 404.49 L 295.56 346.66 " style="fill: none; stroke: #999999; stroke-width: 0.8"/>
<path d="M 257.45 447.77 L 304.14 406.90 L 304.21 348.85 " style="fill: none; stroke: #999999; stroke-width: 0.8"/>
<path d="M 266.32 450.67 L 312.52 409.34 L 312.95 351.07 " style="fill: none; stroke: #999999; stroke-width: 0.8"/>
<path d="M 275.28 453.60 L 320.99 411.80 L 321.79 353.31 " style="fill: none; stroke: #999999; stroke-width: 0.8"/>
<path d="M 284.36 456.56 L 329.55 414.29 L 330.73 355.57 " style="fill: none; stroke: #999999; stroke-width: 0.8"/>
<path d="M 293.54 459.56 L 338.20 416.80 L 339.77 357.86 " style="fill: none; stroke: #999999; stroke-width: 0.8"/>
<path d="M 302.83 462.59 L 346.95 419.35 L 348.91 360.18 " style="fill: none; stroke: #999999; stroke-width: 0.8"/>
<path d="M 312.23 465.66 L 355.79 421.92 L 358.16 362.53 " style="fill: none; stroke: #999999; stroke-width: 0.8"/>
</g>
</g>
<g id="grid3d_29">
<g id="Line3DCollection_29">
<path d="M 242.95 376.07 L 245.58 436.74 L 326.07 462.65 " style="fill: none; stroke: #999999; stroke-width: 0.8"/>
<path d="M 248.87 371.76 L 251.21 432.02 L 331.17 457.41 " style="fill: none; stroke: #999999; stroke-width: 0.8"/>
<path d="M 254.66 367.53 L 256.73 427.40 L 336.16 452.28 " style="fill: none; stroke: #999999; stroke-width: 0.8"/>
<path d="M 260.34 363.39 L 262.15 422.86 L 341.06 447.26 " style="fill: none; stroke: #999999; stroke-width: 0.8"/>
<path d="M 265.90 359.33 L 267.46 418.41 L 345.86 442.33 " style="fill: none; stroke: #999999; stroke-width: 0.8"/>
<path d="M 271.36 355.34 L 272.67 414.04 L 350.56 437.51 " style="fill: none; stroke: #999999; stroke-width: 0.8"/>
<path d="M 276.71 351.44 L 277.78 409.75 L 355.17 432.77 " style="fill: none; stroke: #999999; stroke-width: 0.8"/>
<path d="M 281.95 347.61 L 282.81 405.54 L 359.70 428.13 " style="fill: none; stroke: #999999; stroke-width: 0.8"/>
</g>
</g>
<g id="grid3d_30">
<g id="Line3DCollection_30">
<path d="M 363.61 423.03 L 287.08 400.84 L 239.39 440.72 " style="fill: none; stroke: #bdbdbd; stroke-width: 0.8"/>
<path d="M 364.85 395.86 L 286.78 374.55 L 238.04 412.88 " style="fill: none; stroke: #bdbdbd; stroke-width: 0.8"/>
<path d="M 366.15 367.57 L 286.46 347.22 L 236.65 383.84 " style="fill: none; stroke: #bdbdbd; stroke-width: 0.8"/>
</g>
</g>
<g id="axis3d_28">
<g id="line2d_207">
<path d="M 239.44 441.89 L 320.50 468.36 " style="fill: none; stroke: #000000; stroke-width: 0.8; stroke-linecap: square"/>
</g>
<g id="xtick_180">
<g id="line2d_208">
<path d="M 249.10 444.56 L 247.87 445.62 " style="fill: none; stroke: #000000; stroke-width: 0.8; stroke-linecap: square"/>
</g>
</g>
<g id="xtick_181">
<g id="line2d_209">
<path d="M 257.86 447.42 L 256.64 448.49 " style="fill: none; stroke: #000000; stroke-width: 0.8; stroke-linecap: square"/>
</g>
</g>
<g id="xtick_182">
<g id="line2d_210">
<path d="M 266.72 450.31 L 265.51 451.39 " style="fill: none; stroke: #000000; stroke-width: 0.8; stroke-linecap: square"/>
</g>
</g>
<g id="xtick_183">
<g id="line2d_211">
<path d="M 275.68 453.23 L 274.48 454.33 " style="fill: none; stroke: #000000; stroke-width: 0.8; stroke-linecap: square"/>
</g>
</g>
<g id="xtick_184">
<g id="line2d_212">
<path d="M 284.75 456.19 L 283.57 457.30 " style="fill: none; stroke: #000000; stroke-width: 0.8; stroke-linecap: square"/>
</g>
</g>
<g id="xtick_185">
<g id="line2d_213">
<path d="M 293.93 459.18 L 292.76 460.31 " style="fill: none; stroke: #000000; stroke-width: 0.8; stroke-linecap: square"/>
</g>
</g>
<g id="xtick_186">
<g id="line2d_214">
<path d="M 303.22 462.21 L 302.06 463.35 " style="fill: none; stroke: #000000; stroke-width: 0.8; stroke-linecap: square"/>
</g>
</g>
<g id="xtick_187">
<g id="line2d_215">
<path d="M 312.61 465.28 L 311.47 466.43 " style="fill: none; stroke: #000000; stroke-width: 0.8; stroke-linecap: square"/>
</g>
</g>
</g>
<g id="axis3d_29">
<g id="line2d_216">
<path d="M 363.56 424.17 L 320.50 468.36 " style="fill: none; stroke: #000000; stroke-width: 0.8; stroke-linecap: square"/>
</g>
<g id="xtick_188">
<g id="line2d_217">
<path d="M 325.39 462.43 L 327.42 463.08 " style="fill: none; stroke: #000000; stroke-width: 0.8; stroke-linecap: square"/>
</g>
</g>
<g id="xtick_189">
<g id="line2d_218">
<path d="M 330.49 457.20 L 332.51 457.84 " style="fill: none; stroke: #000000; stroke-width: 0.8; stroke-linecap: square"/>
</g>
</g>
<g id="xtick_190">
<g id="line2d_219">
<path d="M 335.49 452.07 L 337.50 452.70 " style="fill: none; stroke: #000000; stroke-width: 0.8; stroke-linecap: square"/>
</g>
</g>
<g id="xtick_191">
<g id="line2d_220">
<path d="M 340.40 447.05 L 342.39 447.67 " style="fill: none; stroke: #000000; stroke-width: 0.8; stroke-linecap: square"/>
</g>
</g>
<g id="xtick_192">
<g id="line2d_221">
<path d="M 345.20 442.13 L 347.18 442.74 " style="fill: none; stroke: #000000; stroke-width: 0.8; stroke-linecap: square"/>
</g>
</g>
<g id="xtick_193">
<g id="line2d_222">
<path d="M 349.91 437.31 L 351.87 437.90 " style="fill: none; stroke: #000000; stroke-width: 0.8; stroke-linecap: square"/>
</g>
</g>
<g id="xtick_194">
<g id="line2d_223">
<path d="M 354.52 432.58 L 356.48 433.16 " style="fill: none; stroke: #000000; stroke-width: 0.8; stroke-linecap: square"/>
</g>
</g>
<g id="xtick_195">
<g id="line2d_224">
<path d="M 359.05 427.94 L 360.99 428.51 " style="fill: none; stroke: #000000; stroke-width: 0.8; stroke-linecap: square"/>
</g>
</g>
</g>
<g id="axis3d_30">
<g id="line2d_225">
<path d="M 363.56 424.17 L 366.28 364.58 " style="fill: none; stroke: #000000; stroke-width: 0.8; stroke-linecap: square"/>
</g>
<g id="xtick_196">
<g id="line2d_226">
<path d="M 362.97 422.84 L 364.89 423.40 " style="fill: none; stroke: #000000; stroke-width: 0.8; stroke-linecap: square"/>
</g>
<g id="text_28">
<text style="font-size: 10px; font-family: 'DejaVu Sans'; text-anchor: middle" x="379.46" y="428.37">−0.5</text>
</g>
</g>
<g id="xtick_197">
<g id="line2d_227">
<path d="M 364.20 395.68 L 366.17 396.22 " style="fill: none; stroke: #000000; stroke-width: 0.8; stroke-linecap: square"/>
</g>
<g id="text_29">
<text style="font-size: 10px; font-family: 'DejaVu Sans'; text-anchor: middle" x="381.02" y="401.29">0.0</text>
</g>
</g>
<g id="xtick_198">
<g id="line2d_228">
<path d="M 365.48 367.40 L 367.49 367.91 " style="fill: none; stroke: #000000; stroke-width: 0.8; stroke-linecap: square"/>
</g>
<g id="text_30">
<text style="font-size: 10px; font-family: 'DejaVu Sans'; text-anchor: middle" x="382.65" y="373.09">0.5</text>
</g>
</g>
</g>
<g id="axes_10">
<g class="b" stroke-width="0.63"><path d="M284.6 380.8 291.4 382.7 295.4 379.4 288.7 377.6z" fill="#5cb17b" class="t"/><path d="M297.1 381.5 303.9 383.4 303.9 382.3 297.1 380.4z" fill="#316a4e"/><path d="M293.1 384.8 297.1 381.5 297.1 380.4 293.1 383.7z" fill="#67e1a5"/><path d="M293.1 384.8 300 386.7 303.9 383.4 297.1 381.5z" fill="#3e8863"/><path d="M293.1 383.7 300 385.6 303.9 382.3 297.1 380.4z" fill="#59c38f"/><path d="M283.6 382.1 290.4 384 290.4 382.9 283.6 381z" fill="#3a6a49"/><path d="M300 386.7 303.9 383.4 303.9 382.3 300 385.6z" fill="#316a4e"/><path d="M279.5 385.4 283.6 382.1 283.6 381 279.5 384.3z" fill="#7ae19a"/><path d="M293.1 384.8 300 386.7 300 385.6 293.1 383.7z" fill="#67e1a5"/><path d="M279.5 385.4 286.3 387.4 290.4 384 283.6 382.1z" fill="#4a885d"/><path d="M279.5 384.3 286.3 386.2 290.4 382.9 283.6 381z" fill="#6ac385"/><path d="M301.7 385.7 308.6 387.6 312.6 384.3 305.7 382.4z" fill="#5bb17c" class="t"/><path d="M286.3 387.4 290.4 384 290.4 382.9 286.3 386.2z" fill="#3a6a49"/><path d="M279.5 385.4 286.3 387.4 286.3 386.2 279.5 384.3z" fill="#7ae19a"/><path d="M278.5 386.9 285.3 388.9 285.3 388.2 278.4 386.3z" fill="#326a4d"/><path d="M288 387.8 294.9 389.8 299 386.4 292.1 384.5z" fill="#56b17e" class="t"/><path d="M310.4 388.5 317.4 390.4 321.3 387.1 314.3 385.1z" fill="#59b17d" class="t"/><path d="M274.3 390.3 278.5 386.9 278.4 386.3 274.2 389.6z" fill="#6ae1a3"/><path d="M300.7 386.9 307.6 388.8 307.6 386.1 300.7 384.2z" fill="#406945"/><path d="M274.3 390.3 281.1 392.3 285.3 388.9 278.5 386.9z" fill="#408862"/><path d="M274.2 389.6 281.1 391.6 285.3 388.2 278.4 386.3z" fill="#5cc38d"/><path d="M296.7 390.3 300.7 386.9 300.7 384.2 296.6 387.5z" fill="#87df93"/><path d="M296.7 390.3 303.6 392.2 307.6 388.8 300.7 386.9z" fill="#518658"/><path d="M281.1 392.3 285.3 388.9 285.3 388.2 281.1 391.6z" fill="#326a4d"/><path d="M319.1 390.4 326.2 392.4 330.1 389 323 387.1z" fill="#5cb17b" class="t"/><path d="M309.4 389.3 316.4 391.3 316.4 390.6 309.4 388.6z" fill="#386a49"/><path d="M296.6 387.5 303.6 389.5 307.6 386.1 300.7 384.2z" fill="#75c17f"/><path d="M274.3 390.3 281.1 392.3 281.1 391.6 274.2 389.6z" fill="#6ae1a3"/><path d="M331.8 390.8 338.9 392.7 339 391.9 331.8 390z" fill="#326a4d"/><path d="M303.6 392.2 307.6 388.8 307.6 386.1 303.6 389.5z" fill="#406945"/><path d="M305.4 392.7 309.4 389.3 309.4 388.6 305.4 392z" fill="#77e19c"/><path d="M282.8 392.1 289.8 394 293.9 390.6 287 388.7z" fill="#58b17e" class="t"/><path d="M328 394.2 331.8 390.8 331.8 390 328 393.4z" fill="#6ae1a3"/><path d="M296.7 390.3 303.6 392.2 303.6 389.5 296.6 387.5z" fill="#87df93"/><path d="M305.4 392.7 312.4 394.7 316.4 391.3 309.4 389.3z" fill="#48885e"/><path d="M305.4 392 312.4 394 316.4 390.6 309.4 388.6z" fill="#67c387"/><path d="M328 394.2 335.2 396.2 338.9 392.7 331.8 390.8z" fill="#408862"/><path d="M318.2 392.7 325.2 394.7 325.3 393.7 318.2 391.8z" fill="#316a4d"/><path d="M328 393.4 335.2 395.4 339 391.9 331.8 390z" fill="#5cc38d"/><path d="M312.4 394.7 316.4 391.3 316.4 390.6 312.4 394z" fill="#386a49"/><path d="M268.9 393.9 275.8 395.9 280.1 392.4 273.2 390.5z" fill="#56b17e" class="t"/><path d="M340.7 393.2 347.9 395.2 348 394.4 340.8 392.4z" fill="#326a4d"/><path d="M314.2 396.2 318.2 392.7 318.2 391.8 314.2 395.2z" fill="#69e1a4"/><path d="M335.2 396.2 338.9 392.7 339 391.9 335.2 395.4z" fill="#326a4d"/><path d="M291.5 394.5 298.5 396.5 302.6 393.1 295.6 391.1z" fill="#856437"/><path d="M305.4 392.7 312.4 394.7 312.4 394 305.4 392z" fill="#77e19c"/><path d="M337 396.6 340.7 393.2 340.8 392.4 337 395.9z" fill="#6ae1a3"/><path d="M314.2 396.2 321.3 398.2 325.2 394.7 318.2 392.7z" fill="#3f8863"/><path d="M295.6 391.1 302.6 393.1 302.6 379.9 295.6 377.9z" fill="#684e2b"/><path d="M328 394.2 335.2 396.2 335.2 395.4 328 393.4z" fill="#6ae1a3"/><path d="M314.2 395.2 321.3 397.2 325.3 393.7 318.2 391.8z" fill="#5bc38e"/><path d="M337 396.6 344.2 398.6 347.9 395.2 340.7 393.2z" fill="#408862"/><path d="M291.5 394.5 295.6 391.1 295.6 377.9 291.4 381.3z" fill="#dca65a"/><path d="M337 395.9 344.2 397.9 348 394.4 340.8 392.4z" fill="#5cc38d"/><path d="M321.3 398.2 325.2 394.7 325.3 393.7 321.3 397.2z" fill="#316a4d"/><path d="M327 394.2 334.2 396.2 334.3 394 327.1 392z" fill="#3e6946"/><path d="M277.5 395.7 284.5 397.7 288.7 394.3 281.8 392.3z" fill="#5cb17b" class="t"/><path d="M344.2 398.6 347.9 395.2 348 394.4 344.2 397.9z" fill="#326a4d"/><path d="M314.2 396.2 321.3 398.2 321.3 397.2 314.2 395.2z" fill="#69e1a4"/><path d="M349.8 394.9 357.1 396.9 357.1 396.1 349.8 394.1z" fill="#386a49"/><path d="M290.5 397.1 297.5 399.1 297.5 397.4 290.5 395.4z" fill="#2f6a4f"/><path d="M300.3 397 307.4 399.1 311.4 395.6 304.4 393.6z" fill="#58b17e" class="t"/><path d="M323.1 397.7 327 394.2 327.1 392 323.2 395.5z" fill="#83df95"/><path d="M337 396.6 344.2 398.6 344.2 397.9 337 395.9z" fill="#6ae1a3"/><path d="M346 398.4 349.8 394.9 349.8 394.1 346.1 397.5z" fill="#77e19c"/><path d="M313.2 397.7 320.3 399.8 320.4 398.1 313.2 396.1z" fill="#2f6a4f"/><path d="M286.3 400.6 290.5 397.1 290.5 395.4 286.3 398.9z" fill="#63e0a6"/><path d="M298.5 396.5 302.6 393.1 302.6 379.9 298.5 383.3z" fill="#684e2b"/><path d="M323.1 397.7 330.4 399.7 334.2 396.2 327 394.2z" fill="#4f875a"/><path d="M263.4 398.1 270.4 400.1 274.7 396.6 267.8 394.6z" fill="#59b17d" class="t"/><path d="M309.2 401.2 313.2 397.7 313.2 396.1 309.2 399.6z" fill="#63e0a6"/><path d="M286.3 400.6 293.4 402.6 297.5 399.1 290.5 397.1z" fill="#3c8765"/><path d="M346 398.4 353.4 400.4 357.1 396.9 349.8 394.9z" fill="#48885e"/><path d="M291.5 394.5 298.5 396.5 298.5 383.3 291.4 381.3z" fill="#dca65a"/><path d="M323.2 395.5 330.4 397.5 334.3 394 327.1 392z" fill="#72c281"/><path d="M346.1 397.5 353.4 399.6 357.1 396.1 349.8 394.1z" fill="#67c387"/><path d="M291.4 381.3 298.5 383.3 302.6 379.9 295.6 377.9z" fill="#bf904e"/><path d="M286.3 398.9 293.3 400.9 297.5 397.4 290.5 395.4z" fill="#56c390"/><path d="M309.2 401.2 316.4 403.3 320.3 399.8 313.2 397.7z" fill="#3c8765"/><path d="M330.4 399.7 334.2 396.2 334.3 394 330.4 397.5z" fill="#3e6946"/><path d="M299.3 399.2 306.4 401.2 306.4 399.9 299.3 397.9z" fill="#316a4e"/><path d="M353.4 400.4 357.1 396.9 357.1 396.1 353.4 399.6z" fill="#386a49"/><path d="M309.2 399.6 316.4 401.6 320.4 398.1 313.2 396.1z" fill="#56c390"/><path d="M293.4 402.6 297.5 399.1 297.5 397.4 293.3 400.9z" fill="#2f6a4f"/><path d="M323.1 397.7 330.4 399.7 330.4 397.5 323.2 395.5z" fill="#83df95"/><path d="M295.1 402.7 299.3 399.2 299.3 397.9 295.1 401.4z" fill="#67e1a5"/><path d="M346 398.4 353.4 400.4 353.4 399.6 346.1 397.5z" fill="#77e19c"/><path d="M316.4 403.3 320.3 399.8 320.4 398.1 316.4 401.6z" fill="#2f6a4f"/><path d="M286.3 400.6 293.4 402.6 293.3 400.9 286.3 398.9z" fill="#63e0a6"/><path d="M332.2 399.7 339.5 401.7 343.3 398.2 336 396.2z" fill="#5cb17b" class="t"/><path d="M272.1 400.8 279.2 402.8 283.5 399.3 276.5 397.2z" fill="#56b17e" class="t"/><path d="M345.1 400 352.4 402.1 352.4 401.3 345.1 399.3z" fill="#326a4d"/><path d="M295.1 402.7 302.3 404.8 306.4 401.2 299.3 399.2z" fill="#3e8863"/><path d="M309.2 401.2 316.4 403.3 316.4 401.6 309.2 399.6z" fill="#63e0a6"/><path d="M295.1 401.4 302.3 403.5 306.4 399.9 299.3 397.9z" fill="#59c38f"/><path d="M341.3 403.6 345.1 400 345.1 399.3 341.3 402.8z" fill="#6ae1a3"/><path d="M285.2 399.8 292.3 401.8 292.3 399.6 285.2 397.5z" fill="#3e6946"/><path d="M318.2 402.1 325.4 404.2 329.4 400.6 322.2 398.6z" fill="#88140a"/><path d="M302.3 404.8 306.4 401.2 306.4 399.9 302.3 403.5z" fill="#316a4e"/><path d="M341.3 403.6 348.7 405.7 352.4 402.1 345.1 400z" fill="#408862"/><path d="M257.9 402.6 264.9 404.7 269.3 401.1 262.3 399.1z" fill="#54b180" class="t"/><path d="M280.9 403.3 285.2 399.8 285.2 397.5 280.9 401.1z" fill="#83df95"/><path d="M341.3 402.8 348.7 404.9 352.4 401.3 345.1 399.3z" fill="#5cc38d"/><path d="M295.1 402.7 302.3 404.8 302.3 403.5 295.1 401.4z" fill="#67e1a5"/><path d="M271.1 403.3 278.1 405.4 278.1 403.7 271 401.6z" fill="#2f6a4f"/><path d="M331.2 401.1 338.5 403.2 338.6 401 331.2 398.9z" fill="#3e6946"/><path d="M280.9 403.3 288 405.4 292.3 401.8 285.2 399.8z" fill="#4f875a"/><path d="M348.7 405.7 352.4 402.1 352.4 401.3 348.7 404.9z" fill="#326a4d"/><path d="M266.7 406.9 271.1 403.3 271 401.6 266.6 405.2z" fill="#63e0a6"/><path d="M304.1 404 311.3 406.1 315.4 402.5 308.2 400.5z" fill="#58b17e" class="t"/><path d="M327.3 404.7 331.2 401.1 331.2 398.9 327.3 402.5z" fill="#83df95"/><path d="M280.9 401.1 288 403.2 292.3 399.6 285.2 397.5z" fill="#72c281"/><path d="M294.1 402.3 301.2 404.4 301.2 403.3 294.1 401.2z" fill="#3a6a49"/><path d="M341.3 403.6 348.7 405.7 348.7 404.9 341.3 402.8z" fill="#6ae1a3"/><path d="M317.2 404.7 324.4 406.8 324.4 405.1 317.2 403z" fill="#2f6a4f"/><path d="M322.2 398.6 329.4 400.6 329.9 375 322.5 373.1z" fill="#6a1008"/><path d="M266.7 406.9 273.7 409 278.1 405.4 271.1 403.3z" fill="#3c8765"/><path d="M327.3 404.7 334.6 406.8 338.5 403.2 331.2 401.1z" fill="#4f875a"/><path d="M288 405.4 292.3 401.8 292.3 399.6 288 403.2z" fill="#3e6946"/><path d="M289.8 405.9 294.1 402.3 294.1 401.2 289.8 404.8z" fill="#7ae19a"/><path d="M266.6 405.2 273.7 407.3 278.1 403.7 271 401.6z" fill="#56c390"/><path d="M313.1 408.3 317.2 404.7 317.2 403 313.1 406.6z" fill="#63e0a6"/><path d="M318.2 402.1 322.2 398.6 322.5 373.1 318.5 376.5z" fill="#e12111"/><path d="M340.3 404.5 347.7 406.6 347.7 405.8 340.3 403.7z" fill="#326a4d"/><path d="M327.3 402.5 334.7 404.6 338.6 401 331.2 398.9z" fill="#72c281"/><path d="M280.9 403.3 288 405.4 288 403.2 280.9 401.1z" fill="#83df95"/><path d="M289.8 405.9 297 408 301.2 404.4 294.1 402.3z" fill="#4a885d"/><path d="M273.7 409 278.1 405.4 278.1 403.7 273.7 407.3z" fill="#2f6a4f"/><path d="M313.1 408.3 320.4 410.4 324.4 406.8 317.2 404.7z" fill="#3c8765"/><path d="M334.6 406.8 338.5 403.2 338.6 401 334.7 404.6z" fill="#3e6946"/><path d="M336.4 408.1 340.3 404.5 340.3 403.7 336.5 407.3z" fill="#6ae1a3"/><path d="M289.8 404.8 297 406.9 301.2 403.3 294.1 401.2z" fill="#6ac385"/><path d="M303 406.2 310.3 408.3 310.3 407 303 404.9z" fill="#316a4e"/><path d="M313.1 406.6 320.4 408.8 324.4 405.1 317.2 403z" fill="#56c390"/><path d="M266.7 406.9 273.7 409 273.7 407.3 266.6 405.2z" fill="#63e0a6"/><path d="M327.3 404.7 334.6 406.8 334.7 404.6 327.3 402.5z" fill="#83df95"/><path d="M336.4 408.1 343.9 410.3 347.7 406.6 340.3 404.5z" fill="#408862"/><path d="M297 408 301.2 404.4 301.2 403.3 297 406.9z" fill="#3a6a49"/><path d="M252.2 406.8 259.2 409 263.7 405.3 256.7 403.2z" fill="#5bb17c" class="t"/><path d="M326.3 406.6 333.6 408.7 333.6 407.7 326.3 405.6z" fill="#316a4d"/><path d="M298.8 409.9 303 406.2 303 404.9 298.8 408.6z" fill="#67e1a5"/><path d="M336.5 407.3 343.9 409.5 347.7 405.8 340.3 403.7z" fill="#5cc38d"/><path d="M320.4 410.4 324.4 406.8 324.4 405.1 320.4 408.8z" fill="#2f6a4f"/><path d="M325.4 404.2 329.4 400.6 329.9 375 325.9 378.5z" fill="#6a1008"/><path d="M275.5 407.9 282.6 410 287 406.3 279.9 404.2z" fill="#880c06"/><path d="M289.8 405.9 297 408 297 406.9 289.8 404.8z" fill="#7ae19a"/><path d="M322.3 410.3 326.3 406.6 326.3 405.6 322.3 409.3z" fill="#69e1a4"/><path d="M298.8 409.9 306.1 412 310.3 408.3 303 406.2z" fill="#3e8863"/><path d="M313.1 408.3 320.4 410.4 320.4 408.8 313.1 406.6z" fill="#63e0a6"/><path d="M318.2 402.1 325.4 404.2 325.9 378.5 318.5 376.5z" fill="#e12111"/><path d="M343.9 410.3 347.7 406.6 347.7 405.8 343.9 409.5z" fill="#326a4d"/><path d="M298.8 408.6 306.1 410.7 310.3 407 303 404.9z" fill="#59c38f"/><path d="M322.3 410.3 329.6 412.4 333.6 408.7 326.3 406.6z" fill="#3f8863"/><path d="M336.4 408.1 343.9 410.3 343.9 409.5 336.5 407.3z" fill="#6ae1a3"/><path d="M288.8 406.8 296 409 296 406.7 288.7 404.6z" fill="#3e6946"/><path d="M322.3 409.3 329.7 411.4 333.6 407.7 326.3 405.6z" fill="#5bc38e"/><path d="M306.1 412 310.3 408.3 310.3 407 306.1 410.7z" fill="#316a4e"/><path d="M251.1 409.6 258.2 411.8 258.1 410.2 251.1 408.1z" fill="#2f6a4f"/><path d="M261 409.8 268.1 411.9 272.6 408.3 265.5 406.1z" fill="#56b17e" class="t"/><path d="M284.4 410.5 288.8 406.8 288.7 404.6 284.4 408.3z" fill="#83df95"/><path d="M329.6 412.4 333.6 408.7 333.6 407.7 329.7 411.4z" fill="#316a4d"/><path d="M298.8 409.9 306.1 412 306.1 410.7 298.8 408.6z" fill="#67e1a5"/><path d="M274.4 410.5 281.6 412.6 281.5 410.9 274.4 408.8z" fill="#2f6a4f"/><path d="M246.5 413.4 251.1 409.6 251.1 408.1 246.4 411.8z" fill="#63e0a6"/><path d="M284.4 410.5 291.7 412.7 296 409 288.8 406.8z" fill="#4f875a"/><path d="M279.9 404.2 287 406.3 286.7 379.3 279.4 377.3z" fill="#6a0905"/><path d="M318.5 376.5 325.9 378.5 329.9 375 322.5 373.1z" fill="#c41d0e"/><path d="M322.3 410.3 329.6 412.4 329.7 411.4 322.3 409.3z" fill="#69e1a4"/><path d="M297.8 411.2 305.1 413.3 305.1 411.6 297.8 409.5z" fill="#2f6a4f"/><path d="M270 414.2 274.4 410.5 274.4 408.8 269.9 412.5z" fill="#63e0a6"/><path d="M246.5 413.4 253.6 415.5 258.2 411.8 251.1 409.6z" fill="#3c8765"/><path d="M307.9 411.2 315.3 413.4 319.4 409.7 312.1 407.6z" fill="#58b17e" class="t"/><path d="M284.4 408.3 291.7 410.4 296 406.7 288.7 404.6z" fill="#72c281"/><path d="M275.5 407.9 279.9 404.2 279.4 377.3 274.9 380.8z" fill="#e1130a"/><path d="M246.4 411.8 253.5 413.9 258.1 410.2 251.1 408.1z" fill="#56c390"/><path d="M293.5 414.9 297.8 411.2 297.8 409.5 293.5 413.2z" fill="#63e0a6"/><path d="M270 414.2 277.2 416.4 281.6 412.6 274.4 410.5z" fill="#3c8765"/><path d="M291.7 412.7 296 409 296 406.7 291.7 410.4z" fill="#3e6946"/><path d="M331.5 411.5 339 413.6 342.9 409.9 335.5 407.8z" fill="#5cb17b" class="t"/><path d="M321.3 410.2 328.7 412.4 328.7 411.6 321.3 409.5z" fill="#386a49"/><path d="M269.9 412.5 277.1 414.7 281.5 410.9 274.4 408.8z" fill="#56c390"/><path d="M253.6 415.5 258.2 411.8 258.1 410.2 253.5 413.9z" fill="#2f6a4f"/><path d="M293.5 414.9 300.8 417.1 305.1 413.3 297.8 411.2z" fill="#3c8765"/><path d="M284.4 410.5 291.7 412.7 291.7 410.4 284.4 408.3z" fill="#83df95"/><path d="M317.2 413.9 321.3 410.2 321.3 409.5 317.2 413.2z" fill="#77e19c"/><path d="M293.5 413.2 300.8 415.4 305.1 411.6 297.8 409.5z" fill="#56c390"/><path d="M277.2 416.4 281.6 412.6 281.5 410.9 277.1 414.7z" fill="#2f6a4f"/><path d="M246.5 413.4 253.6 415.5 253.5 413.9 246.4 411.8z" fill="#63e0a6"/><path d="M282.6 410 287 406.3 286.7 379.3 282.2 382.8z" fill="#6a0905"/><path d="M317.2 413.9 324.6 416.1 328.7 412.4 321.3 410.2z" fill="#48885e"/><path d="M300.8 417.1 305.1 413.3 305.1 411.6 300.8 415.4z" fill="#2f6a4f"/><path d="M270 414.2 277.2 416.4 277.1 414.7 269.9 412.5z" fill="#63e0a6"/><path d="M317.2 413.2 324.6 415.4 328.7 411.6 321.3 409.5z" fill="#67c387"/><path d="M275.5 407.9 282.6 410 282.2 382.8 274.9 380.8z" fill="#e1130a"/><path d="M255.3 414.2 262.4 416.3 267 412.6 259.9 410.4z" fill="#5bb17c" class="t"/><path d="M293.5 414.9 300.8 417.1 300.8 415.4 293.5 413.2z" fill="#63e0a6"/><path d="M324.6 416.1 328.7 412.4 328.7 411.6 324.6 415.4z" fill="#386a49"/><path d="M278.9 415.2 286.2 417.4 290.6 413.6 283.3 411.5z" fill="#56b17e" class="t"/><path d="M302.7 415.9 310.1 418.1 314.3 414.3 306.9 412.2z" fill="#886034"/><path d="M317.2 413.9 324.6 416.1 324.6 415.4 317.2 413.2z" fill="#77e19c"/><path d="M306.9 412.2 314.3 414.3 314.4 400.1 306.9 398z" fill="#6a4b29"/><path d="M326.5 416.7 334 418.9 338 415.1 330.5 412.9z" fill="#59b17d" class="t"/><path d="M274.9 380.8 282.2 382.8 286.7 379.3 279.4 377.3z" fill="#c41108"/><path d="M264.2 417.2 271.5 419.4 276 415.6 268.8 413.4z" fill="#54b180" class="t"/><path d="M316.1 414.9 323.6 417.1 323.6 414.2 316.2 412z" fill="#406945"/><path d="M302.7 415.9 306.9 412.2 306.9 398 302.7 401.7z" fill="#e1a057"/><path d="M312 418.7 316.1 414.9 316.2 412 312 415.8z" fill="#87df93"/><path d="M288.1 417.3 295.4 419.5 299.8 415.7 292.4 413.5z" fill="#5cb17b" class="t"/><path d="M312 418.7 319.5 420.9 323.6 417.1 316.1 414.9z" fill="#518658"/><path d="M310.1 418.1 314.3 414.3 314.4 400.1 310.2 403.8z" fill="#6a4b29"/><path d="M312 415.8 319.5 418 323.6 414.2 316.2 412z" fill="#75c17f"/><path d="M273.3 419.9 280.7 422.1 285.1 418.3 277.8 416z" fill="#59b17d" class="t"/><path d="M319.5 420.9 323.6 417.1 323.6 414.2 319.5 418z" fill="#406945"/><path d="M302.7 415.9 310.1 418.1 310.2 403.8 302.7 401.7z" fill="#e1a057"/><path d="M297.3 420.7 304.8 423 309 419.1 301.6 416.9z" fill="#58b17e" class="t"/><path d="M302.7 401.7 310.2 403.8 314.4 400.1 306.9 398z" fill="#c38b4b"/><path d="M312 418.7 319.5 420.9 319.5 418 312 415.8z" fill="#87df93"/><path d="M321.4 421.1 329 423.3 333 419.4 325.5 417.2z" fill="#5bb17c" class="t"/><path d="M282.5 422.8 289.9 425 294.3 421.1 287 418.9z" fill="#56b17e" class="t"/><path d="M296.2 422.4 303.7 424.7 303.7 423.9 296.2 421.7z" fill="#326a4d"/><path d="M306.6 423.5 314.2 425.8 318.4 421.9 310.9 419.6z" fill="#56b17e" class="t"/><path d="M320.3 423.6 327.9 425.9 327.9 424.7 320.3 422.4z" fill="#316a4e"/><path d="M291.8 426.3 296.2 422.4 296.2 421.7 291.8 425.6z" fill="#6ae1a3"/><path d="M316.1 427.5 320.3 423.6 320.3 422.4 316.1 426.4z" fill="#67e1a5"/><path d="M291.8 426.3 299.3 428.6 303.7 424.7 296.2 422.4z" fill="#408862"/><path d="M291.8 425.6 299.3 427.9 303.7 423.9 296.2 421.7z" fill="#5cc38d"/><path d="M316.1 427.5 323.7 429.8 327.9 425.9 320.3 423.6z" fill="#3e8863"/><path d="M316.1 426.4 323.7 428.7 327.9 424.7 320.3 422.4z" fill="#59c38f"/><path d="M299.3 428.6 303.7 424.7 303.7 423.9 299.3 427.9z" fill="#326a4d"/><path d="M305.6 424.5 313.1 426.8 313.1 425.6 305.6 423.3z" fill="#3a6a49"/><path d="M323.7 429.8 327.9 425.9 327.9 424.7 323.7 428.7z" fill="#316a4e"/><path d="M291.8 426.3 299.3 428.6 299.3 427.9 291.8 425.6z" fill="#6ae1a3"/><path d="M301.2 428.5 305.6 424.5 305.6 423.3 301.2 427.3z" fill="#7ae19a"/><path d="M316.1 427.5 323.7 429.8 323.7 428.7 316.1 426.4z" fill="#67e1a5"/><path d="M301.2 428.5 308.8 430.8 313.1 426.8 305.6 424.5z" fill="#4a885d"/><path d="M301.2 427.3 308.8 429.6 313.1 425.6 305.6 423.3z" fill="#6ac385"/><path d="M308.8 430.8 313.1 426.8 313.1 425.6 308.8 429.6z" fill="#3a6a49"/><path d="M301.2 428.5 308.8 430.8 308.8 429.6 301.2 427.3z" fill="#7ae19a"/><path d="M310.7 430.8 318.4 433.1 322.7 429.1 315 426.8z" fill="#5cb17b" class="t"/></g>
</g>
<g id="pane3d_31">
<g id="patch_32">
<path d="M 448.13 441.89 L 495.78 401.95 L 495.12 344.34 L 445.18 380.78 " style="fill: #f2f2f2; opacity: 0.5; stroke: #f2f2f2; stroke-linejoin: miter"/>
</g>
</g>
<g id="pane3d_32">
<g id="patch_33">
<path d="M 495.78 401.95 L 572.24 424.17 L 574.97 364.58 L 495.12 344.34 " style="fill: #e6e6e6; opacity: 0.5; stroke: #e6e6e6; stroke-linejoin: miter"/>
</g>
</g>
<g id="pane3d_33">
<g id="patch_34">
<path d="M 448.13 441.89 L 529.18 468.36 L 572.24 424.17 L 495.78 401.95 " style="fill: #ececec; opacity: 0.5; stroke: #ececec; stroke-linejoin: miter"/>
</g>
</g>
<g id="grid3d_31">
<g id="Line3DCollection_31">
<path d="M 457.38 444.91 L 504.54 404.49 L 504.25 346.66 " style="fill: none; stroke: #999999; stroke-width: 0.8"/>
<path d="M 466.14 447.77 L 512.83 406.90 L 512.89 348.85 " style="fill: none; stroke: #999999; stroke-width: 0.8"/>
<path d="M 475.00 450.67 L 521.21 409.34 L 521.63 351.07 " style="fill: none; stroke: #999999; stroke-width: 0.8"/>
<path d="M 483.97 453.60 L 529.67 411.80 L 530.47 353.31 " style="fill: none; stroke: #999999; stroke-width: 0.8"/>
<path d="M 493.04 456.56 L 538.23 414.29 L 539.41 355.57 " style="fill: none; stroke: #999999; stroke-width: 0.8"/>
<path d="M 502.22 459.56 L 546.89 416.80 L 548.45 357.86 " style="fill: none; stroke: #999999; stroke-width: 0.8"/>
<path d="M 511.52 462.59 L 555.63 419.35 L 557.60 360.18 " style="fill: none; stroke: #999999; stroke-width: 0.8"/>
<path d="M 520.92 465.66 L 564.48 421.92 L 566.85 362.53 " style="fill: none; stroke: #999999; stroke-width: 0.8"/>
</g>
</g>
<g id="grid3d_32">
<g id="Line3DCollection_32">
<path d="M 451.64 376.07 L 454.27 436.74 L 534.75 462.65 " style="fill: none; stroke: #999999; stroke-width: 0.8"/>
<path d="M 457.55 371.76 L 459.90 432.02 L 539.85 457.41 " style="fill: none; stroke: #999999; stroke-width: 0.8"/>
<path d="M 463.34 367.53 L 465.42 427.40 L 544.85 452.28 " style="fill: none; stroke: #999999; stroke-width: 0.8"/>
<path d="M 469.02 363.39 L 470.83 422.86 L 549.74 447.26 " style="fill: none; stroke: #999999; stroke-width: 0.8"/>
<path d="M 474.59 359.33 L 476.14 418.41 L 554.54 442.33 " style="fill: none; stroke: #999999; stroke-width: 0.8"/>
<path d="M 480.04 355.34 L 481.35 414.04 L 559.25 437.51 " style="fill: none; stroke: #999999; stroke-width: 0.8"/>
<path d="M 485.39 351.44 L 486.47 409.75 L 563.86 432.77 " style="fill: none; stroke: #999999; stroke-width: 0.8"/>
<path d="M 490.64 347.61 L 491.49 405.54 L 568.38 428.13 " style="fill: none; stroke: #999999; stroke-width: 0.8"/>
</g>
</g>
<g id="grid3d_33">
<g id="Line3DCollection_33">
<path d="M 572.29 423.03 L 495.77 400.84 L 448.07 440.72 " style="fill: none; stroke: #bdbdbd; stroke-width: 0.8"/>
<path d="M 573.54 395.86 L 495.46 374.55 L 446.73 412.88 " style="fill: none; stroke: #bdbdbd; stroke-width: 0.8"/>
<path d="M 574.83 367.57 L 495.15 347.22 L 445.33 383.84 " style="fill: none; stroke: #bdbdbd; stroke-width: 0.8"/>
</g>
</g>
<g id="axis3d_31">
<g id="line2d_229">
<path d="M 448.13 441.89 L 529.18 468.36 " style="fill: none; stroke: #000000; stroke-width: 0.8; stroke-linecap: square"/>
</g>
<g id="xtick_199">
<g id="line2d_230">
<path d="M 457.79 444.56 L 456.56 445.62 " style="fill: none; stroke: #000000; stroke-width: 0.8; stroke-linecap: square"/>
</g>
</g>
<g id="xtick_200">
<g id="line2d_231">
<path d="M 466.55 447.42 L 465.32 448.49 " style="fill: none; stroke: #000000; stroke-width: 0.8; stroke-linecap: square"/>
</g>
</g>
<g id="xtick_201">
<g id="line2d_232">
<path d="M 475.40 450.31 L 474.19 451.39 " style="fill: none; stroke: #000000; stroke-width: 0.8; stroke-linecap: square"/>
</g>
</g>
<g id="xtick_202">
<g id="line2d_233">
<path d="M 484.37 453.23 L 483.17 454.33 " style="fill: none; stroke: #000000; stroke-width: 0.8; stroke-linecap: square"/>
</g>
</g>
<g id="xtick_203">
<g id="line2d_234">
<path d="M 493.44 456.19 L 492.25 457.30 " style="fill: none; stroke: #000000; stroke-width: 0.8; stroke-linecap: square"/>
</g>
</g>
<g id="xtick_204">
<g id="line2d_235">
<path d="M 502.61 459.18 L 501.44 460.31 " style="fill: none; stroke: #000000; stroke-width: 0.8; stroke-linecap: square"/>
</g>
</g>
<g id="xtick_205">
<g id="line2d_236">
<path d="M 511.90 462.21 L 510.74 463.35 " style="fill: none; stroke: #000000; stroke-width: 0.8; stroke-linecap: square"/>
</g>
</g>
<g id="xtick_206">
<g id="line2d_237">
<path d="M 521.30 465.28 L 520.16 466.43 " style="fill: none; stroke: #000000; stroke-width: 0.8; stroke-linecap: square"/>
</g>
</g>
</g>
<g id="axis3d_32">
<g id="line2d_238">
<path d="M 572.24 424.17 L 529.18 468.36 " style="fill: none; stroke: #000000; stroke-width: 0.8; stroke-linecap: square"/>
</g>
<g id="xtick_207">
<g id="line2d_239">
<path d="M 534.07 462.43 L 536.11 463.08 " style="fill: none; stroke: #000000; stroke-width: 0.8; stroke-linecap: square"/>
</g>
</g>
<g id="xtick_208">
<g id="line2d_240">
<path d="M 539.18 457.20 L 541.20 457.84 " style="fill: none; stroke: #000000; stroke-width: 0.8; stroke-linecap: square"/>
</g>
</g>
<g id="xtick_209">
<g id="line2d_241">
<path d="M 544.18 452.07 L 546.19 452.70 " style="fill: none; stroke: #000000; stroke-width: 0.8; stroke-linecap: square"/>
</g>
</g>
<g id="xtick_210">
<g id="line2d_242">
<path d="M 549.08 447.05 L 551.07 447.67 " style="fill: none; stroke: #000000; stroke-width: 0.8; stroke-linecap: square"/>
</g>
</g>
<g id="xtick_211">
<g id="line2d_243">
<path d="M 553.88 442.13 L 555.86 442.74 " style="fill: none; stroke: #000000; stroke-width: 0.8; stroke-linecap: square"/>
</g>
</g>
<g id="xtick_212">
<g id="line2d_244">
<path d="M 558.59 437.31 L 560.56 437.90 " style="fill: none; stroke: #000000; stroke-width: 0.8; stroke-linecap: square"/>
</g>
</g>
<g id="xtick_213">
<g id="line2d_245">
<path d="M 563.21 432.58 L 565.16 433.16 " style="fill: none; stroke: #000000; stroke-width: 0.8; stroke-linecap: square"/>
</g>
</g>
<g id="xtick_214">
<g id="line2d_246">
<path d="M 567.74 427.94 L 569.68 428.51 " style="fill: none; stroke: #000000; stroke-width: 0.8; stroke-linecap: square"/>
</g>
</g>
</g>
<g id="axis3d_33">
<g id="line2d_247">
<path d="M 572.24 424.17 L 574.97 364.58 " style="fill: none; stroke: #000000; stroke-width: 0.8; stroke-linecap: square"/>
</g>
<g id="xtick_215">
<g id="line2d_248">
<path d="M 571.65 422.84 L 573.58 423.40 " style="fill: none; stroke: #000000; stroke-width: 0.8; stroke-linecap: square"/>
</g>
<g id="text_31">
<text style="font-size: 10px; font-family: 'DejaVu Sans'; text-anchor: middle" x="588.15" y="428.37">−0.5</text>
</g>
</g>
<g id="xtick_216">
<g id="line2d_249">
<path d="M 572.88 395.68 L 574.85 396.22 " style="fill: none; stroke: #000000; stroke-width: 0.8; stroke-linecap: square"/>
</g>
<g id="text_32">
<text style="font-size: 10px; font-family: 'DejaVu Sans'; text-anchor: middle" x="589.71" y="401.29">0.0</text>
</g>
</g>
<g id="xtick_217">
<g id="line2d_250">
<path d="M 574.16 367.40 L 576.18 367.91 " style="fill: none; stroke: #000000; stroke-width: 0.8; stroke-linecap: square"/>
</g>
<g id="text_33">
<text style="font-size: 10px; font-family: 'DejaVu Sans'; text-anchor: middle" x="591.33" y="373.09">0.5</text>
</g>
</g>
</g>
<g id="axes_11">
<g class="b" stroke-width="0.63"><path d="M493.3 381.3 500.1 383.2 504.1 380 497.4 378.1z" fill="#56b17e" class="t"/><path d="M505.8 381.2 512.6 383.1 512.6 382.3 505.8 380.4z" fill="#326a4d"/><path d="M501.8 384.5 505.8 381.2 505.8 380.4 501.8 383.7z" fill="#6ae1a3"/><path d="M501.8 384.5 508.7 386.4 512.6 383.1 505.8 381.2z" fill="#408862"/><path d="M501.8 383.7 508.7 385.6 512.6 382.3 505.8 380.4z" fill="#5cc38d"/><path d="M514.3 383.9 521.2 385.8 521.2 384.7 514.3 382.8z" fill="#316a4e"/><path d="M508.7 386.4 512.6 383.1 512.6 382.3 508.7 385.6z" fill="#326a4d"/><path d="M510.4 387.2 514.3 383.9 514.3 382.8 510.4 386.1z" fill="#67e1a5"/><path d="M501.8 384.5 508.7 386.4 508.7 385.6 501.8 383.7z" fill="#6ae1a3"/><path d="M488.2 385.1 495 387 499.1 383.7 492.3 381.8z" fill="#5bb17c" class="t"/><path d="M510.4 387.2 517.3 389.1 521.2 385.8 514.3 383.9z" fill="#3e8863"/><path d="M510.4 386.1 517.3 388 521.2 384.7 514.3 382.8z" fill="#59c38f"/><path d="M500.8 384.5 507.7 386.4 507.7 384 500.8 382.1z" fill="#3f6946"/><path d="M517.3 389.1 521.2 385.8 521.2 384.7 517.3 388z" fill="#316a4e"/><path d="M523 385.2 529.9 387.1 530 386 523 384.1z" fill="#3a6a49"/><path d="M496.7 387.8 500.8 384.5 500.8 382.1 496.7 385.4z" fill="#85df94"/><path d="M510.4 387.2 517.3 389.1 517.3 388 510.4 386.1z" fill="#67e1a5"/><path d="M519.1 388.5 523 385.2 523 384.1 519.1 387.4z" fill="#7ae19a"/><path d="M496.7 387.8 503.6 389.8 507.7 386.4 500.8 384.5z" fill="#508759"/><path d="M519.1 388.5 526.1 390.4 529.9 387.1 523 385.2z" fill="#4a885d"/><path d="M496.7 385.4 503.6 387.3 507.7 384 500.8 382.1z" fill="#73c280"/><path d="M519.1 387.4 526.1 389.3 530 386 523 384.1z" fill="#6ac385"/><path d="M509.4 386.9 516.3 388.8 516.3 386.1 509.4 384.2z" fill="#406945"/><path d="M531.7 388.6 538.7 390.6 538.7 389.5 531.7 387.6z" fill="#316a4e"/><path d="M503.6 389.8 507.7 386.4 507.7 384 503.6 387.3z" fill="#3f6946"/><path d="M526.1 390.4 529.9 387.1 530 386 526.1 389.3z" fill="#3a6a49"/><path d="M482.9 389.3 489.8 391.3 494 387.9 487.1 386z" fill="#5bb17c" class="t"/><path d="M505.3 390.3 509.4 386.9 509.4 384.2 505.3 387.5z" fill="#87df93"/><path d="M527.8 392 531.7 388.6 531.7 387.6 527.8 390.9z" fill="#67e1a5"/><path d="M496.7 387.8 503.6 389.8 503.6 387.3 496.7 385.4z" fill="#85df94"/><path d="M505.3 390.3 512.3 392.2 516.3 388.8 509.4 386.9z" fill="#518658"/><path d="M519.1 388.5 526.1 390.4 526.1 389.3 519.1 387.4z" fill="#7ae19a"/><path d="M527.8 392 534.9 394 538.7 390.6 531.7 388.6z" fill="#3e8863"/><path d="M518.1 391 525.1 392.9 525.1 391.3 518.1 389.3z" fill="#2f6a4f"/><path d="M495.7 388.7 502.6 390.6 502.6 388.1 495.7 386.2z" fill="#3f6946"/><path d="M527.8 390.9 534.9 392.9 538.7 389.5 531.7 387.6z" fill="#59c38f"/><path d="M505.3 387.5 512.3 389.5 516.3 386.1 509.4 384.2z" fill="#75c17f"/><path d="M514.1 394.4 518.1 391 518.1 389.3 514.1 392.7z" fill="#63e0a6"/><path d="M491.5 392.1 495.7 388.7 495.7 386.2 491.5 389.6z" fill="#85df94"/><path d="M540.5 391.1 547.6 393.1 547.6 391.9 540.5 390z" fill="#316a4e"/><path d="M512.3 392.2 516.3 388.8 516.3 386.1 512.3 389.5z" fill="#406945"/><path d="M534.9 394 538.7 390.6 538.7 389.5 534.9 392.9z" fill="#316a4e"/><path d="M491.5 392.1 498.5 394 502.6 390.6 495.7 388.7z" fill="#508759"/><path d="M514.1 394.4 521.1 396.4 525.1 392.9 518.1 391z" fill="#3c8765"/><path d="M536.7 394.5 540.5 391.1 540.5 390 536.7 393.4z" fill="#67e1a5"/><path d="M505.3 390.3 512.3 392.2 512.3 389.5 505.3 387.5z" fill="#87df93"/><path d="M527.8 392 534.9 394 534.9 392.9 527.8 390.9z" fill="#67e1a5"/><path d="M481.9 390.5 488.7 392.4 488.7 389.7 481.8 387.7z" fill="#406945"/><path d="M504.3 392.2 511.3 394.2 511.3 393.1 504.3 391.1z" fill="#316a4e"/><path d="M514.1 392.7 521.1 394.7 525.1 391.3 518.1 389.3z" fill="#56c390"/><path d="M491.5 389.6 498.4 391.5 502.6 388.1 495.7 386.2z" fill="#73c280"/><path d="M536.7 394.5 543.8 396.5 547.6 393.1 540.5 391.1z" fill="#3e8863"/><path d="M477.6 393.9 481.9 390.5 481.8 387.7 477.5 391.1z" fill="#87df93"/><path d="M500.2 395.6 504.3 392.2 504.3 391.1 500.2 394.5z" fill="#67e1a5"/><path d="M536.7 393.4 543.9 395.4 547.6 391.9 540.5 390z" fill="#59c38f"/><path d="M521.1 396.4 525.1 392.9 525.1 391.3 521.1 394.7z" fill="#2f6a4f"/><path d="M498.5 394 502.6 390.6 502.6 388.1 498.4 391.5z" fill="#3f6946"/><path d="M477.6 393.9 484.5 395.9 488.7 392.4 481.9 390.5z" fill="#518658"/><path d="M526.8 391.8 533.9 393.7 534 389.9 526.9 387.9z" fill="#446843"/><path d="M514.1 394.4 521.1 396.4 521.1 394.7 514.1 392.7z" fill="#63e0a6"/><path d="M491.5 392.1 498.5 394 498.4 391.5 491.5 389.6z" fill="#85df94"/><path d="M500.2 395.6 507.2 397.6 511.3 394.2 504.3 392.2z" fill="#3e8863"/><path d="M543.8 396.5 547.6 393.1 547.6 391.9 543.9 395.4z" fill="#316a4e"/><path d="M549.4 392.4 556.7 394.4 556.7 393.4 549.5 391.4z" fill="#396a49"/><path d="M500.2 394.5 507.2 396.5 511.3 393.1 504.3 391.1z" fill="#59c38f"/><path d="M477.5 391.1 484.4 393.1 488.7 389.7 481.8 387.7z" fill="#75c17f"/><path d="M522.9 395.2 526.8 391.8 526.9 387.9 522.9 391.3z" fill="#90dc8d"/><path d="M536.7 394.5 543.8 396.5 543.9 395.4 536.7 393.4z" fill="#67e1a5"/><path d="M545.7 395.9 549.4 392.4 549.5 391.4 545.7 394.8z" fill="#79e19b"/><path d="M513.1 395 520.1 397 520.1 395.6 513.1 393.6z" fill="#306a4e"/><path d="M522.9 395.2 530 397.2 533.9 393.7 526.8 391.8z" fill="#578555"/><path d="M484.5 395.9 488.7 392.4 488.7 389.7 484.4 393.1z" fill="#406945"/><path d="M507.2 397.6 511.3 394.2 511.3 393.1 507.2 396.5z" fill="#316a4e"/><path d="M535.7 395.3 542.9 397.3 542.9 396.2 535.7 394.2z" fill="#316a4e"/><path d="M509 398.4 513.1 395 513.1 393.6 509 397z" fill="#65e1a6"/><path d="M545.7 395.9 552.9 397.9 556.7 394.4 549.4 392.4z" fill="#49885d"/><path d="M477.6 393.9 484.5 395.9 484.4 393.1 477.5 391.1z" fill="#87df93"/><path d="M500.2 395.6 507.2 397.6 507.2 396.5 500.2 394.5z" fill="#67e1a5"/><path d="M476.5 396.4 483.4 398.4 483.4 396.7 476.5 394.7z" fill="#2f6a4f"/><path d="M545.7 394.8 552.9 396.8 556.7 393.4 549.5 391.4z" fill="#69c386"/><path d="M486.2 396.4 493.2 398.4 497.4 394.9 490.5 392.9z" fill="#885f33"/><path d="M522.9 391.3 530.1 393.3 534 389.9 526.9 387.9z" fill="#7dbf7b"/><path d="M531.8 398.8 535.7 395.3 535.7 394.2 531.8 397.7z" fill="#67e1a5"/><path d="M509 398.4 516.1 400.5 520.1 397 513.1 395z" fill="#3d8864"/><path d="M558.5 394.9 565.8 396.9 565.8 396.1 558.5 394.1z" fill="#386a49"/><path d="M530 397.2 533.9 393.7 534 389.9 530.1 393.3z" fill="#446843"/><path d="M490.5 392.9 497.4 394.9 497.3 380.9 490.3 379z" fill="#6a4a28"/><path d="M472.2 399.9 476.5 396.4 476.5 394.7 472.1 398.2z" fill="#63e0a6"/><path d="M509 397 516.1 399.1 520.1 395.6 513.1 393.6z" fill="#58c390"/><path d="M552.9 397.9 556.7 394.4 556.7 393.4 552.9 396.8z" fill="#396a49"/><path d="M531.8 398.8 539 400.9 542.9 397.3 535.7 395.3z" fill="#3e8863"/><path d="M554.7 398.4 558.5 394.9 558.5 394.1 554.8 397.6z" fill="#77e19c"/><path d="M522.9 395.2 530 397.2 530.1 393.3 522.9 391.3z" fill="#90dc8d"/><path d="M486.2 396.4 490.5 392.9 490.3 379 486 382.4z" fill="#e19e55"/><path d="M472.2 399.9 479.1 401.9 483.4 398.4 476.5 396.4z" fill="#3c8765"/><path d="M521.9 396.8 529 398.9 529 398.1 521.9 396.1z" fill="#326a4d"/><path d="M531.8 397.7 539 399.7 542.9 396.2 535.7 394.2z" fill="#59c38f"/><path d="M545.7 395.9 552.9 397.9 552.9 396.8 545.7 394.8z" fill="#79e19b"/><path d="M516.1 400.5 520.1 397 520.1 395.6 516.1 399.1z" fill="#306a4e"/><path d="M472.1 398.2 479.1 400.2 483.4 396.7 476.5 394.7z" fill="#56c390"/><path d="M554.7 398.4 562.1 400.4 565.8 396.9 558.5 394.9z" fill="#48885e"/><path d="M517.9 400.3 521.9 396.8 521.9 396.1 517.9 399.6z" fill="#6ae1a3"/><path d="M539 400.9 542.9 397.3 542.9 396.2 539 399.7z" fill="#316a4e"/><path d="M509 398.4 516.1 400.5 516.1 399.1 509 397z" fill="#65e1a6"/><path d="M554.8 397.6 562.1 399.6 565.8 396.1 558.5 394.1z" fill="#67c387"/><path d="M485.2 398.3 492.2 400.4 492.1 399.3 485.2 397.2z" fill="#316a4e"/><path d="M495 398.9 502 400.9 506.2 397.4 499.2 395.4z" fill="#866336"/><path d="M479.1 401.9 483.4 398.4 483.4 396.7 479.1 400.2z" fill="#2f6a4f"/><path d="M531.8 398.8 539 400.9 539 399.7 531.8 397.7z" fill="#67e1a5"/><path d="M517.9 400.3 525.1 402.4 529 398.9 521.9 396.8z" fill="#408862"/><path d="M499.2 395.4 506.2 397.4 506.1 383.9 499 382z" fill="#684d2a"/><path d="M562.1 400.4 565.8 396.9 565.8 396.1 562.1 399.6z" fill="#386a49"/><path d="M480.8 401.9 485.2 398.3 485.2 397.2 480.8 400.8z" fill="#67e1a5"/><path d="M517.9 399.6 525.1 401.6 529 398.1 521.9 396.1z" fill="#5cc38d"/><path d="M493.2 398.4 497.4 394.9 497.3 380.9 493 384.3z" fill="#6a4a28"/><path d="M472.2 399.9 479.1 401.9 479.1 400.2 472.1 398.2z" fill="#63e0a6"/><path d="M495 398.9 499.2 395.4 499 382 494.8 385.4z" fill="#dda459"/><path d="M554.7 398.4 562.1 400.4 562.1 399.6 554.8 397.6z" fill="#77e19c"/><path d="M480.8 401.9 487.9 403.9 492.2 400.4 485.2 398.3z" fill="#3e8863"/><path d="M486.2 396.4 493.2 398.4 493 384.3 486 382.4z" fill="#e19e55"/><path d="M540.9 399.7 548.2 401.7 552 398.2 544.7 396.2z" fill="#5cb17b" class="t"/><path d="M525.1 402.4 529 398.9 529 398.1 525.1 401.6z" fill="#326a4d"/><path d="M530.8 398.6 538.1 400.6 538.1 399.2 530.9 397.2z" fill="#3b6a48"/><path d="M480.8 400.8 487.9 402.8 492.1 399.3 485.2 397.2z" fill="#59c38f"/><path d="M486 382.4 493 384.3 497.3 380.9 490.3 379z" fill="#c4894a"/><path d="M517.9 400.3 525.1 402.4 525.1 401.6 517.9 399.6z" fill="#6ae1a3"/><path d="M553.8 399.3 561.1 401.3 561.2 400.3 553.8 398.2z" fill="#396a49"/><path d="M526.9 402.1 530.8 398.6 530.9 397.2 526.9 400.7z" fill="#7ce199"/><path d="M471 399.1 478 401.1 477.9 397.5 470.9 395.5z" fill="#436843"/><path d="M487.9 403.9 492.2 400.4 492.1 399.3 487.9 402.8z" fill="#316a4e"/><path d="M503.8 400.9 511 402.9 515.1 399.4 508 397.4z" fill="#5cb17b" class="t"/><path d="M493.9 399.8 501 401.8 501 401.1 493.9 399.1z" fill="#386a49"/><path d="M550 402.8 553.8 399.3 553.8 398.2 550 401.8z" fill="#79e19b"/><path d="M526.9 402.1 534.1 404.2 538.1 400.6 530.8 398.6z" fill="#4b885c"/><path d="M502 400.9 506.2 397.4 506.1 383.9 501.9 387.4z" fill="#684d2a"/><path d="M466.6 402.6 471 399.1 470.9 395.5 466.4 399z" fill="#8edd8e"/><path d="M480.8 401.9 487.9 403.9 487.9 402.8 480.8 400.8z" fill="#67e1a5"/><path d="M489.6 403.3 493.9 399.8 493.9 399.1 489.6 402.6z" fill="#77e19c"/><path d="M526.9 400.7 534.2 402.8 538.1 399.2 530.9 397.2z" fill="#6cc385"/><path d="M466.6 402.6 473.6 404.7 478 401.1 471 399.1z" fill="#568556"/><path d="M539.9 402.3 547.2 404.3 547.2 403.2 539.9 401.1z" fill="#316a4e"/><path d="M550 402.8 557.4 404.9 561.1 401.3 553.8 399.3z" fill="#49885d"/><path d="M495 398.9 502 400.9 501.9 387.4 494.8 385.4z" fill="#dda459"/><path d="M550 401.8 557.4 403.8 561.2 400.3 553.8 398.2z" fill="#69c386"/><path d="M494.8 385.4 501.9 387.4 506.1 383.9 499 382z" fill="#c08e4d"/><path d="M489.6 403.3 496.7 405.4 501 401.8 493.9 399.8z" fill="#48885e"/><path d="M534.1 404.2 538.1 400.6 538.1 399.2 534.2 402.8z" fill="#3b6a48"/><path d="M535.9 405.8 539.9 402.3 539.9 401.1 536 404.7z" fill="#67e1a5"/><path d="M489.6 402.6 496.7 404.7 501 401.1 493.9 399.1z" fill="#67c387"/><path d="M466.4 399 473.5 401.1 477.9 397.5 470.9 395.5z" fill="#7bbf7b"/><path d="M502.8 403.5 509.9 405.5 509.9 404.4 502.8 402.3z" fill="#316a4e"/><path d="M512.8 404 520 406.1 524.1 402.5 516.9 400.5z" fill="#884a27"/><path d="M557.4 404.9 561.1 401.3 561.2 400.3 557.4 403.8z" fill="#396a49"/><path d="M526.9 402.1 534.1 404.2 534.2 402.8 526.9 400.7z" fill="#7ce199"/><path d="M473.6 404.7 478 401.1 477.9 397.5 473.5 401.1z" fill="#436843"/><path d="M535.9 405.8 543.3 407.9 547.2 404.3 539.9 402.3z" fill="#3e8863"/><path d="M496.7 405.4 501 401.8 501 401.1 496.7 404.7z" fill="#386a49"/><path d="M525.9 403.8 533.1 405.9 533.1 405.1 525.9 403z" fill="#326a4d"/><path d="M498.5 407.1 502.8 403.5 502.8 402.3 498.5 405.9z" fill="#67e1a5"/><path d="M536 404.7 543.3 406.8 547.2 403.2 539.9 401.1z" fill="#59c38f"/><path d="M550 402.8 557.4 404.9 557.4 403.8 550 401.8z" fill="#79e19b"/><path d="M466.6 402.6 473.6 404.7 473.5 401.1 466.4 399z" fill="#8edd8e"/><path d="M516.9 400.5 524.1 402.5 524.2 384.6 516.9 382.6z" fill="#6a3a1e"/><path d="M475.3 405.2 482.4 407.3 486.8 403.7 479.7 401.6z" fill="#885d32"/><path d="M489.6 403.3 496.7 405.4 496.7 404.7 489.6 402.6z" fill="#77e19c"/><path d="M549 404.9 556.4 407 556.4 405.8 549 403.7z" fill="#316a4e"/><path d="M521.8 407.4 525.9 403.8 525.9 403 521.8 406.6z" fill="#6ae1a3"/><path d="M498.5 407.1 505.7 409.2 509.9 405.5 502.8 403.5z" fill="#3e8863"/><path d="M543.3 407.9 547.2 404.3 547.2 403.2 543.3 406.8z" fill="#316a4e"/><path d="M465.4 403.5 472.4 405.6 472.3 402.5 465.3 400.4z" fill="#416944"/><path d="M479.7 401.6 486.8 403.7 486.5 389 479.4 386.9z" fill="#6a4927"/><path d="M498.5 405.9 505.7 408 509.9 404.4 502.8 402.3z" fill="#59c38f"/><path d="M512.8 404 516.9 400.5 516.9 382.6 512.8 386.1z" fill="#e17b40"/><path d="M545.1 408.5 549 404.9 549 403.7 545.2 407.3z" fill="#67e1a5"/><path d="M535.9 405.8 543.3 407.9 543.3 406.8 536 404.7z" fill="#67e1a5"/><path d="M521.8 407.4 529.1 409.5 533.1 405.9 525.9 403.8z" fill="#408862"/><path d="M460.9 407.2 465.4 403.5 465.3 400.4 460.8 404z" fill="#8ade90"/><path d="M521.8 406.6 529.1 408.8 533.1 405.1 525.9 403z" fill="#5cc38d"/><path d="M475.3 405.2 479.7 401.6 479.4 386.9 474.9 390.5z" fill="#e19a53"/><path d="M505.7 409.2 509.9 405.5 509.9 404.4 505.7 408z" fill="#316a4e"/><path d="M545.1 408.5 552.6 410.6 556.4 407 549 404.9z" fill="#3e8863"/><path d="M460.9 407.2 467.9 409.3 472.4 405.6 465.4 403.5z" fill="#538657"/><path d="M545.2 407.3 552.6 409.5 556.4 405.8 549 403.7z" fill="#59c38f"/><path d="M529.1 409.5 533.1 405.9 533.1 405.1 529.1 408.8z" fill="#326a4d"/><path d="M498.5 407.1 505.7 409.2 505.7 408 498.5 405.9z" fill="#67e1a5"/><path d="M484.2 407.9 491.3 410 495.7 406.3 488.5 404.2z" fill="#88572e"/><path d="M520 406.1 524.1 402.5 524.2 384.6 520.1 388.1z" fill="#6a3a1e"/><path d="M535 405.6 542.3 407.7 542.4 403.8 535 401.7z" fill="#446843"/><path d="M460.8 404 467.8 406.2 472.3 402.5 465.3 400.4z" fill="#78c07d"/><path d="M552.6 410.6 556.4 407 556.4 405.8 552.6 409.5z" fill="#316a4e"/><path d="M521.8 407.4 529.1 409.5 529.1 408.8 521.8 406.6z" fill="#6ae1a3"/><path d="M488.5 404.2 495.7 406.3 495.5 390.4 488.3 388.3z" fill="#6a4424"/><path d="M467.9 409.3 472.4 405.6 472.3 402.5 467.8 406.2z" fill="#416944"/><path d="M507.5 408 514.8 410.1 519 406.5 511.7 404.4z" fill="#5cb17b" class="t"/><path d="M482.4 407.3 486.8 403.7 486.5 389 482.1 392.5z" fill="#6a4927"/><path d="M497.5 406.8 504.7 409 504.7 408.3 497.4 406.1z" fill="#386a49"/><path d="M512.8 404 520 406.1 520.1 388.1 512.8 386.1z" fill="#e17b40"/><path d="M531 409.3 535 405.6 535 401.7 531 405.3z" fill="#90dc8d"/><path d="M545.1 408.5 552.6 410.6 552.6 409.5 545.2 407.3z" fill="#67e1a5"/><path d="M520.8 409 528.1 411.1 528.1 409.7 520.8 407.6z" fill="#306a4e"/><path d="M531 409.3 538.4 411.4 542.3 407.7 535 405.6z" fill="#578555"/><path d="M484.2 407.9 488.5 404.2 488.3 388.3 483.8 391.9z" fill="#e18f4c"/><path d="M460.9 407.2 467.9 409.3 467.8 406.2 460.8 404z" fill="#8ade90"/><path d="M475.3 405.2 482.4 407.3 482.1 392.5 474.9 390.5z" fill="#e19a53"/><path d="M493.1 410.5 497.5 406.8 497.4 406.1 493.1 409.8z" fill="#77e19c"/><path d="M469.7 409.8 476.8 411.9 481.3 408.3 474.2 406.1z" fill="#885d32"/><path d="M544.1 409.4 551.6 411.5 551.6 410.4 544.2 408.3z" fill="#316a4e"/><path d="M516.6 412.7 520.8 409 520.8 407.6 516.6 411.2z" fill="#65e1a6"/><path d="M512.8 386.1 520.1 388.1 524.2 384.6 516.9 382.6z" fill="#c46b38"/><path d="M474.9 390.5 482.1 392.5 486.5 389 479.4 386.9z" fill="#c48548"/><path d="M459.7 408.1 466.8 410.2 466.7 407.4 459.6 405.2z" fill="#406945"/><path d="M474.2 406.1 481.3 408.3 481 393.4 473.8 391.3z" fill="#6a4927"/><path d="M493.1 410.5 500.4 412.7 504.7 409 497.5 406.8z" fill="#48885e"/><path d="M531 405.3 538.4 407.4 542.4 403.8 535 401.7z" fill="#7dbf7b"/><path d="M540.2 413.1 544.1 409.4 544.2 408.3 540.2 412z" fill="#67e1a5"/><path d="M516.6 412.7 524 414.8 528.1 411.1 520.8 409z" fill="#3d8864"/><path d="M493.1 409.8 500.4 412 504.7 408.3 497.4 406.1z" fill="#67c387"/><path d="M538.4 411.4 542.3 407.7 542.4 403.8 538.4 407.4z" fill="#446843"/><path d="M455.1 411.8 459.7 408.1 459.6 405.2 455 408.9z" fill="#87df93"/><path d="M516.6 411.2 524 413.4 528.1 409.7 520.8 407.6z" fill="#58c390"/><path d="M469.7 409.8 474.2 406.1 473.8 391.3 469.2 394.9z" fill="#e19a53"/><path d="M540.2 413.1 547.7 415.3 551.6 411.5 544.1 409.4z" fill="#3e8863"/><path d="M491.3 410 495.7 406.3 495.5 390.4 491.1 393.9z" fill="#6a4424"/><path d="M500.4 412.7 504.7 409 504.7 408.3 500.4 412z" fill="#386a49"/><path d="M455.1 411.8 462.2 413.9 466.8 410.2 459.7 408.1z" fill="#518658"/><path d="M529.9 411.9 537.3 414.1 537.4 412.4 529.9 410.2z" fill="#2f6a4f"/><path d="M531 409.3 538.4 411.4 538.4 407.4 531 405.3z" fill="#90dc8d"/><path d="M540.2 412 547.7 414.1 551.6 410.4 544.2 408.3z" fill="#59c38f"/><path d="M524 414.8 528.1 411.1 528.1 409.7 524 413.4z" fill="#306a4e"/><path d="M484.2 407.9 491.3 410 491.1 393.9 483.8 391.9z" fill="#e18f4c"/><path d="M478.6 412.5 485.8 414.7 490.2 410.9 483.1 408.8z" fill="#885d32"/><path d="M493.1 410.5 500.4 412.7 500.4 412 493.1 409.8z" fill="#77e19c"/><path d="M525.8 415.6 529.9 411.9 529.9 410.2 525.9 413.9z" fill="#63e0a6"/><path d="M455 408.9 462.1 411.1 466.7 407.4 459.6 405.2z" fill="#75c17f"/><path d="M547.7 415.3 551.6 411.5 551.6 410.4 547.7 414.1z" fill="#316a4e"/><path d="M516.6 412.7 524 414.8 524 413.4 516.6 411.2z" fill="#65e1a6"/><path d="M492.1 412.6 499.3 414.7 499.3 413.6 492 411.5z" fill="#316a4e"/><path d="M468.6 410.7 475.7 412.9 475.6 409.7 468.5 407.6z" fill="#416944"/><path d="M483.1 408.8 490.2 410.9 490 396 482.8 393.9z" fill="#6a4927"/><path d="M502.2 413.2 509.5 415.4 513.8 411.6 506.5 409.5z" fill="#866336"/><path d="M483.8 391.9 491.1 393.9 495.5 390.4 488.3 388.3z" fill="#c47c42"/><path d="M462.2 413.9 466.8 410.2 466.7 407.4 462.1 411.1z" fill="#406945"/><path d="M525.8 415.6 533.3 417.8 537.3 414.1 529.9 411.9z" fill="#3c8765"/><path d="M476.8 411.9 481.3 408.3 481 393.4 476.4 397z" fill="#6a4927"/><path d="M540.2 413.1 547.7 415.3 547.7 414.1 540.2 412z" fill="#67e1a5"/><path d="M506.5 409.5 513.8 411.6 513.8 397.9 506.4 395.8z" fill="#684d2a"/><path d="M515.6 413.3 523 415.5 523 414.3 515.6 412.2z" fill="#316a4e"/><path d="M487.6 416.3 492.1 412.6 492 411.5 487.6 415.2z" fill="#67e1a5"/><path d="M464 414.5 468.6 410.7 468.5 407.6 463.8 411.3z" fill="#8ade90"/><path d="M525.9 413.9 533.3 416.1 537.4 412.4 529.9 410.2z" fill="#56c390"/><path d="M478.6 412.5 483.1 408.8 482.8 393.9 478.2 397.6z" fill="#e19a53"/><path d="M455.1 411.8 462.2 413.9 462.1 411.1 455 408.9z" fill="#87df93"/><path d="M469.7 409.8 476.8 411.9 476.4 397 469.2 394.9z" fill="#e19a53"/><path d="M464 414.5 471.1 416.7 475.7 412.9 468.6 410.7z" fill="#538657"/><path d="M502.2 413.2 506.5 409.5 506.4 395.8 502.1 399.4z" fill="#dda459"/><path d="M511.4 417.1 515.6 413.3 515.6 412.2 511.4 415.9z" fill="#67e1a5"/><path d="M533.3 417.8 537.3 414.1 537.4 412.4 533.3 416.1z" fill="#2f6a4f"/><path d="M487.6 416.3 494.9 418.5 499.3 414.7 492.1 412.6z" fill="#3e8863"/><path d="M469.2 394.9 476.4 397 481 393.4 473.8 391.3z" fill="#c48548"/><path d="M539.2 412.9 546.7 415.1 546.7 413.9 539.2 411.8z" fill="#3a6a49"/><path d="M487.6 415.2 494.9 417.4 499.3 413.6 492 411.5z" fill="#59c38f"/><path d="M525.8 415.6 533.3 417.8 533.3 416.1 525.9 413.9z" fill="#63e0a6"/><path d="M511.4 417.1 518.8 419.3 523 415.5 515.6 413.3z" fill="#3e8863"/><path d="M463.8 411.3 471 413.5 475.6 409.7 468.5 407.6z" fill="#78c07d"/><path d="M535.2 416.7 539.2 412.9 539.2 411.8 535.2 415.5z" fill="#7ae19a"/><path d="M511.4 415.9 518.8 418.1 523 414.3 515.6 412.2z" fill="#59c38f"/><path d="M477.5 413.4 484.7 415.6 484.6 411.9 477.4 409.7z" fill="#436843"/><path d="M494.9 418.5 499.3 414.7 499.3 413.6 494.9 417.4z" fill="#316a4e"/><path d="M471.1 416.7 475.7 412.9 475.6 409.7 471 413.5z" fill="#416944"/><path d="M485.8 414.7 490.2 410.9 490 396 485.5 399.7z" fill="#6a4927"/><path d="M535.2 416.7 542.7 418.9 546.7 415.1 539.2 412.9z" fill="#4a885d"/><path d="M509.5 415.4 513.8 411.6 513.8 397.9 509.5 401.6z" fill="#684d2a"/><path d="M472.9 417.2 477.5 413.4 477.4 409.7 472.8 413.5z" fill="#8edd8e"/><path d="M518.8 419.3 523 415.5 523 414.3 518.8 418.1z" fill="#316a4e"/><path d="M487.6 416.3 494.9 418.5 494.9 417.4 487.6 415.2z" fill="#67e1a5"/><path d="M464 414.5 471.1 416.7 471 413.5 463.8 411.3z" fill="#8ade90"/><path d="M478.6 412.5 485.8 414.7 485.5 399.7 478.2 397.6z" fill="#e19a53"/><path d="M535.2 415.5 542.7 417.7 546.7 413.9 539.2 411.8z" fill="#6ac385"/><path d="M472.9 417.2 480.2 419.4 484.7 415.6 477.5 413.4z" fill="#568556"/><path d="M524.8 414.9 532.3 417.1 532.3 414.2 524.8 412z" fill="#406945"/><path d="M502.2 413.2 509.5 415.4 509.5 401.6 502.1 399.4z" fill="#dda459"/><path d="M478.2 397.6 485.5 399.7 490 396 482.8 393.9z" fill="#c48548"/><path d="M511.4 417.1 518.8 419.3 518.8 418.1 511.4 415.9z" fill="#67e1a5"/><path d="M486.5 417.9 493.8 420.1 493.8 418.4 486.5 416.1z" fill="#2f6a4f"/><path d="M502.1 399.4 509.5 401.6 513.8 397.9 506.4 395.8z" fill="#c08e4d"/><path d="M496.7 417.9 504.1 420.2 508.4 416.3 501.1 414.2z" fill="#885f33"/><path d="M542.7 418.9 546.7 415.1 546.7 413.9 542.7 417.7z" fill="#3a6a49"/><path d="M520.6 418.7 524.8 414.9 524.8 412 520.7 415.8z" fill="#87df93"/><path d="M472.8 413.5 480.1 415.7 484.6 411.9 477.4 409.7z" fill="#7bbf7b"/><path d="M501.1 414.2 508.4 416.3 508.4 401.9 501 399.8z" fill="#6a4a28"/><path d="M482 421.7 486.5 417.9 486.5 416.1 482 420z" fill="#63e0a6"/><path d="M520.6 418.7 528.1 420.9 532.3 417.1 524.8 414.9z" fill="#518658"/><path d="M535.2 416.7 542.7 418.9 542.7 417.7 535.2 415.5z" fill="#7ae19a"/><path d="M480.2 419.4 484.7 415.6 484.6 411.9 480.1 415.7z" fill="#436843"/><path d="M510.3 416.9 517.7 419.1 517.7 416.5 510.3 414.3z" fill="#3f6946"/><path d="M534.1 418.8 541.7 421 541.7 419.8 534.2 417.6z" fill="#316a4e"/><path d="M496.7 417.9 501.1 414.2 501 399.8 496.6 403.5z" fill="#e19e55"/><path d="M482 421.7 489.4 423.9 493.8 420.1 486.5 417.9z" fill="#3c8765"/><path d="M520.7 415.8 528.2 418 532.3 414.2 524.8 412z" fill="#75c17f"/><path d="M472.9 417.2 480.2 419.4 480.1 415.7 472.8 413.5z" fill="#8edd8e"/><path d="M482 420 489.3 422.2 493.8 418.4 486.5 416.1z" fill="#56c390"/><path d="M506 420.7 510.3 416.9 510.3 414.3 506 418.1z" fill="#85df94"/><path d="M530 422.6 534.1 418.8 534.2 417.6 530 421.5z" fill="#67e1a5"/><path d="M528.1 420.9 532.3 417.1 532.3 414.2 528.2 418z" fill="#406945"/><path d="M506 420.7 513.4 423 517.7 419.1 510.3 416.9z" fill="#508759"/><path d="M489.4 423.9 493.8 420.1 493.8 418.4 489.3 422.2z" fill="#2f6a4f"/><path d="M530 422.6 537.6 424.9 541.7 421 534.1 418.8z" fill="#3e8863"/><path d="M520.6 418.7 528.1 420.9 528.2 418 520.7 415.8z" fill="#87df93"/><path d="M495.6 418.9 503 421.1 503 418.3 495.6 416z" fill="#406945"/><path d="M530 421.5 537.6 423.7 541.7 419.8 534.2 417.6z" fill="#59c38f"/><path d="M504.1 420.2 508.4 416.3 508.4 401.9 504 405.7z" fill="#6a4a28"/><path d="M482 421.7 489.4 423.9 489.3 422.2 482 420z" fill="#63e0a6"/><path d="M506 418.1 513.5 420.4 517.7 416.5 510.3 414.3z" fill="#73c280"/><path d="M519.6 419.6 527.1 421.9 527.1 419.3 519.6 417.1z" fill="#3f6946"/><path d="M491.2 422.8 495.6 418.9 495.6 416 491.1 419.9z" fill="#87df93"/><path d="M513.4 423 517.7 419.1 517.7 416.5 513.5 420.4z" fill="#3f6946"/><path d="M537.6 424.9 541.7 421 541.7 419.8 537.6 423.7z" fill="#316a4e"/><path d="M496.7 417.9 504.1 420.2 504 405.7 496.6 403.5z" fill="#e19e55"/><path d="M491.2 422.8 498.6 425 503 421.1 495.6 418.9z" fill="#518658"/><path d="M515.3 423.5 519.6 419.6 519.6 417.1 515.3 420.9z" fill="#85df94"/><path d="M496.6 403.5 504 405.7 508.4 401.9 501 399.8z" fill="#c4894a"/><path d="M506 420.7 513.4 423 513.5 420.4 506 418.1z" fill="#85df94"/><path d="M530 422.6 537.6 424.9 537.6 423.7 530 421.5z" fill="#67e1a5"/><path d="M515.3 423.5 522.9 425.8 527.1 421.9 519.6 419.6z" fill="#508759"/><path d="M491.1 419.9 498.6 422.1 503 418.3 495.6 416z" fill="#75c17f"/><path d="M529 423.3 536.6 425.6 536.6 424.7 529 422.4z" fill="#326a4d"/><path d="M498.6 425 503 421.1 503 418.3 498.6 422.1z" fill="#406945"/><path d="M515.3 420.9 522.9 423.2 527.1 419.3 519.6 417.1z" fill="#73c280"/><path d="M524.8 427.3 529 423.3 529 422.4 524.8 426.4z" fill="#6ae1a3"/><path d="M522.9 425.8 527.1 421.9 527.1 419.3 522.9 423.2z" fill="#3f6946"/><path d="M491.2 422.8 498.6 425 498.6 422.1 491.1 419.9z" fill="#87df93"/><path d="M500.5 425.3 508 427.6 512.4 423.6 504.9 421.4z" fill="#5bb17c" class="t"/><path d="M515.3 423.5 522.9 425.8 522.9 423.2 515.3 420.9z" fill="#85df94"/><path d="M524.8 427.3 532.4 429.6 536.6 425.6 529 423.3z" fill="#408862"/><path d="M524.8 426.4 532.4 428.7 536.6 424.7 529 422.4z" fill="#5cc38d"/><path d="M532.4 429.6 536.6 425.6 536.6 424.7 532.4 428.7z" fill="#326a4d"/><path d="M524.8 427.3 532.4 429.6 532.4 428.7 524.8 426.4z" fill="#6ae1a3"/><path d="M509.9 428.1 517.5 430.4 521.8 426.4 514.3 424.1z" fill="#5bb17c" class="t"/><path d="M519.4 431.4 527.1 433.7 531.4 429.7 523.7 427.4z" fill="#56b17e" class="t"/></g>
</g>
<g id="pane3d_34">
<g id="patch_35">
<path d="M 656.81 441.89 L 704.46 401.95 L 703.80 344.34 L 653.87 380.78 " style="fill: #f2f2f2; opacity: 0.5; stroke: #f2f2f2; stroke-linejoin: miter"/>
</g>
</g>
<g id="pane3d_35">
<g id="patch_36">
<path d="M 704.46 401.95 L 780.93 424.17 L 783.66 364.58 L 703.80 344.34 " style="fill: #e6e6e6; opacity: 0.5; stroke: #e6e6e6; stroke-linejoin: miter"/>
</g>
</g>
<g id="pane3d_36">
<g id="patch_37">
<path d="M 656.81 441.89 L 737.87 468.36 L 780.93 424.17 L 704.46 401.95 " style="fill: #ececec; opacity: 0.5; stroke: #ececec; stroke-linejoin: miter"/>
</g>
</g>
<g id="grid3d_34">
<g id="Line3DCollection_34">
<path d="M 663.86 444.19 L 711.14 403.89 L 710.76 346.11 " style="fill: none; stroke: #999999; stroke-width: 0.8"/>
<path d="M 668.16 445.60 L 715.21 405.07 L 715.00 347.18 " style="fill: none; stroke: #999999; stroke-width: 0.8"/>
<path d="M 672.49 447.01 L 719.30 406.26 L 719.27 348.27 " style="fill: none; stroke: #999999; stroke-width: 0.8"/>
<path d="M 676.84 448.43 L 723.41 407.46 L 723.56 349.35 " style="fill: none; stroke: #999999; stroke-width: 0.8"/>
<path d="M 681.21 449.86 L 727.55 408.66 L 727.88 350.45 " style="fill: none; stroke: #999999; stroke-width: 0.8"/>
<path d="M 685.61 451.29 L 731.71 409.87 L 732.21 351.55 " style="fill: none; stroke: #999999; stroke-width: 0.8"/>
<path d="M 690.03 452.74 L 735.88 411.08 L 736.57 352.65 " style="fill: none; stroke: #999999; stroke-width: 0.8"/>
<path d="M 694.48 454.19 L 740.09 412.30 L 740.96 353.76 " style="fill: none; stroke: #999999; stroke-width: 0.8"/>
<path d="M 698.96 455.66 L 744.31 413.53 L 745.37 354.88 " style="fill: none; stroke: #999999; stroke-width: 0.8"/>
<path d="M 703.46 457.13 L 748.55 414.76 L 749.81 356.00 " style="fill: none; stroke: #999999; stroke-width: 0.8"/>
<path d="M 707.99 458.60 L 752.82 416.00 L 754.27 357.14 " style="fill: none; stroke: #999999; stroke-width: 0.8"/>
<path d="M 712.55 460.09 L 757.11 417.25 L 758.75 358.27 " style="fill: none; stroke: #999999; stroke-width: 0.8"/>
<path d="M 717.13 461.59 L 761.43 418.51 L 763.26 359.42 " style="fill: none; stroke: #999999; stroke-width: 0.8"/>
<path d="M 721.74 463.10 L 765.77 419.77 L 767.80 360.57 " style="fill: none; stroke: #999999; stroke-width: 0.8"/>
<path d="M 726.38 464.61 L 770.13 421.03 L 772.36 361.72 " style="fill: none; stroke: #999999; stroke-width: 0.8"/>
<path d="M 731.04 466.13 L 774.52 422.31 L 776.95 362.88 " style="fill: none; stroke: #999999; stroke-width: 0.8"/>
</g>
</g>
<g id="grid3d_35">
<g id="Line3DCollection_35">
<path d="M 658.81 377.18 L 661.51 437.95 L 742.13 463.99 " style="fill: none; stroke: #999999; stroke-width: 0.8"/>
<path d="M 661.76 375.03 L 664.32 435.60 L 744.67 461.38 " style="fill: none; stroke: #999999; stroke-width: 0.8"/>
<path d="M 664.68 372.89 L 667.10 433.27 L 747.19 458.79 " style="fill: none; stroke: #999999; stroke-width: 0.8"/>
<path d="M 667.57 370.79 L 669.85 430.96 L 749.68 456.23 " style="fill: none; stroke: #999999; stroke-width: 0.8"/>
<path d="M 670.43 368.70 L 672.58 428.68 L 752.15 453.70 " style="fill: none; stroke: #999999; stroke-width: 0.8"/>
<path d="M 673.26 366.63 L 675.28 426.41 L 754.60 451.19 " style="fill: none; stroke: #999999; stroke-width: 0.8"/>
<path d="M 676.07 364.58 L 677.95 424.17 L 757.02 448.71 " style="fill: none; stroke: #999999; stroke-width: 0.8"/>
<path d="M 678.84 362.56 L 680.60 421.95 L 759.41 446.25 " style="fill: none; stroke: #999999; stroke-width: 0.8"/>
<path d="M 681.59 360.55 L 683.23 419.75 L 761.78 443.82 " style="fill: none; stroke: #999999; stroke-width: 0.8"/>
<path d="M 684.32 358.56 L 685.83 417.57 L 764.13 441.41 " style="fill: none; stroke: #999999; stroke-width: 0.8"/>
<path d="M 687.01 356.60 L 688.40 415.41 L 766.45 439.02 " style="fill: none; stroke: #999999; stroke-width: 0.8"/>
<path d="M 689.68 354.65 L 690.95 413.27 L 768.76 436.66 " style="fill: none; stroke: #999999; stroke-width: 0.8"/>
<path d="M 692.33 352.72 L 693.48 411.15 L 771.04 434.32 " style="fill: none; stroke: #999999; stroke-width: 0.8"/>
<path d="M 694.95 350.81 L 695.99 409.05 L 773.30 432.00 " style="fill: none; stroke: #999999; stroke-width: 0.8"/>
<path d="M 697.54 348.91 L 698.47 406.97 L 775.53 429.71 " style="fill: none; stroke: #999999; stroke-width: 0.8"/>
<path d="M 700.11 347.04 L 700.93 404.91 L 777.75 427.44 " style="fill: none; stroke: #999999; stroke-width: 0.8"/>
</g>
</g>
<g id="grid3d_36">
<g id="Line3DCollection_36">
<path d="M 780.98 423.03 L 704.45 400.84 L 656.76 440.72 " style="fill: none; stroke: #bdbdbd; stroke-width: 0.8"/>
<path d="M 782.22 395.86 L 704.15 374.55 L 655.42 412.88 " style="fill: none; stroke: #bdbdbd; stroke-width: 0.8"/>
<path d="M 783.52 367.57 L 703.83 347.22 L 654.02 383.84 " style="fill: none; stroke: #bdbdbd; stroke-width: 0.8"/>
</g>
</g>
<g id="axis3d_34">
<g id="line2d_251">
<path d="M 656.81 441.89 L 737.87 468.36 " style="fill: none; stroke: #000000; stroke-width: 0.8; stroke-linecap: square"/>
</g>
<g id="xtick_218">
<g id="line2d_252">
<path d="M 664.27 443.84 L 663.04 444.90 " style="fill: none; stroke: #000000; stroke-width: 0.8; stroke-linecap: square"/>
</g>
</g>
<g id="xtick_219">
<g id="line2d_253">
<path d="M 668.57 445.24 L 667.34 446.30 " style="fill: none; stroke: #000000; stroke-width: 0.8; stroke-linecap: square"/>
</g>
</g>
<g id="xtick_220">
<g id="line2d_254">
<path d="M 672.89 446.65 L 671.67 447.72 " style="fill: none; stroke: #000000; stroke-width: 0.8; stroke-linecap: square"/>
</g>
</g>
<g id="xtick_221">
<g id="line2d_255">
<path d="M 677.24 448.07 L 676.02 449.14 " style="fill: none; stroke: #000000; stroke-width: 0.8; stroke-linecap: square"/>
</g>
</g>
<g id="xtick_222">
<g id="line2d_256">
<path d="M 681.61 449.50 L 680.40 450.58 " style="fill: none; stroke: #000000; stroke-width: 0.8; stroke-linecap: square"/>
</g>
</g>
<g id="xtick_223">
<g id="line2d_257">
<path d="M 686.01 450.93 L 684.80 452.02 " style="fill: none; stroke: #000000; stroke-width: 0.8; stroke-linecap: square"/>
</g>
</g>
<g id="xtick_224">
<g id="line2d_258">
<path d="M 690.43 452.38 L 689.23 453.47 " style="fill: none; stroke: #000000; stroke-width: 0.8; stroke-linecap: square"/>
</g>
</g>
<g id="xtick_225">
<g id="line2d_259">
<path d="M 694.88 453.83 L 693.69 454.93 " style="fill: none; stroke: #000000; stroke-width: 0.8; stroke-linecap: square"/>
</g>
</g>
<g id="xtick_226">
<g id="line2d_260">
<path d="M 699.36 455.29 L 698.17 456.39 " style="fill: none; stroke: #000000; stroke-width: 0.8; stroke-linecap: square"/>
</g>
</g>
<g id="xtick_227">
<g id="line2d_261">
<path d="M 703.86 456.76 L 702.67 457.87 " style="fill: none; stroke: #000000; stroke-width: 0.8; stroke-linecap: square"/>
</g>
</g>
<g id="xtick_228">
<g id="line2d_262">
<path d="M 708.38 458.23 L 707.21 459.35 " style="fill: none; stroke: #000000; stroke-width: 0.8; stroke-linecap: square"/>
</g>
</g>
<g id="xtick_229">
<g id="line2d_263">
<path d="M 712.94 459.72 L 711.77 460.84 " style="fill: none; stroke: #000000; stroke-width: 0.8; stroke-linecap: square"/>
</g>
</g>
<g id="xtick_230">
<g id="line2d_264">
<path d="M 717.52 461.21 L 716.36 462.34 " style="fill: none; stroke: #000000; stroke-width: 0.8; stroke-linecap: square"/>
</g>
</g>
<g id="xtick_231">
<g id="line2d_265">
<path d="M 722.13 462.72 L 720.97 463.85 " style="fill: none; stroke: #000000; stroke-width: 0.8; stroke-linecap: square"/>
</g>
</g>
<g id="xtick_232">
<g id="line2d_266">
<path d="M 726.76 464.23 L 725.61 465.37 " style="fill: none; stroke: #000000; stroke-width: 0.8; stroke-linecap: square"/>
</g>
</g>
<g id="xtick_233">
<g id="line2d_267">
<path d="M 731.42 465.75 L 730.28 466.90 " style="fill: none; stroke: #000000; stroke-width: 0.8; stroke-linecap: square"/>
</g>
</g>
</g>
<g id="axis3d_35">
<g id="line2d_268">
<path d="M 780.93 424.17 L 737.87 468.36 " style="fill: none; stroke: #000000; stroke-width: 0.8; stroke-linecap: square"/>
</g>
<g id="xtick_234">
<g id="line2d_269">
<path d="M 741.45 463.77 L 743.49 464.43 " style="fill: none; stroke: #000000; stroke-width: 0.8; stroke-linecap: square"/>
</g>
</g>
<g id="xtick_235">
<g id="line2d_270">
<path d="M 744.00 461.16 L 746.03 461.81 " style="fill: none; stroke: #000000; stroke-width: 0.8; stroke-linecap: square"/>
</g>
</g>
<g id="xtick_236">
<g id="line2d_271">
<path d="M 746.52 458.58 L 748.54 459.22 " style="fill: none; stroke: #000000; stroke-width: 0.8; stroke-linecap: square"/>
</g>
</g>
<g id="xtick_237">
<g id="line2d_272">
<path d="M 749.01 456.02 L 751.03 456.66 " style="fill: none; stroke: #000000; stroke-width: 0.8; stroke-linecap: square"/>
</g>
</g>
<g id="xtick_238">
<g id="line2d_273">
<path d="M 751.48 453.49 L 753.49 454.12 " style="fill: none; stroke: #000000; stroke-width: 0.8; stroke-linecap: square"/>
</g>
</g>
<g id="xtick_239">
<g id="line2d_274">
<path d="M 753.93 450.99 L 755.93 451.61 " style="fill: none; stroke: #000000; stroke-width: 0.8; stroke-linecap: square"/>
</g>
</g>
<g id="xtick_240">
<g id="line2d_275">
<path d="M 756.35 448.51 L 758.35 449.12 " style="fill: none; stroke: #000000; stroke-width: 0.8; stroke-linecap: square"/>
</g>
</g>
<g id="xtick_241">
<g id="line2d_276">
<path d="M 758.75 446.05 L 760.74 446.66 " style="fill: none; stroke: #000000; stroke-width: 0.8; stroke-linecap: square"/>
</g>
</g>
<g id="xtick_242">
<g id="line2d_277">
<path d="M 761.12 443.62 L 763.10 444.23 " style="fill: none; stroke: #000000; stroke-width: 0.8; stroke-linecap: square"/>
</g>
</g>
<g id="xtick_243">
<g id="line2d_278">
<path d="M 763.47 441.21 L 765.45 441.81 " style="fill: none; stroke: #000000; stroke-width: 0.8; stroke-linecap: square"/>
</g>
</g>
<g id="xtick_244">
<g id="line2d_279">
<path d="M 765.80 438.83 L 767.77 439.42 " style="fill: none; stroke: #000000; stroke-width: 0.8; stroke-linecap: square"/>
</g>
</g>
<g id="xtick_245">
<g id="line2d_280">
<path d="M 768.10 436.46 L 770.07 437.05 " style="fill: none; stroke: #000000; stroke-width: 0.8; stroke-linecap: square"/>
</g>
</g>
<g id="xtick_246">
<g id="line2d_281">
<path d="M 770.39 434.13 L 772.34 434.71 " style="fill: none; stroke: #000000; stroke-width: 0.8; stroke-linecap: square"/>
</g>
</g>
<g id="xtick_247">
<g id="line2d_282">
<path d="M 772.65 431.81 L 774.60 432.39 " style="fill: none; stroke: #000000; stroke-width: 0.8; stroke-linecap: square"/>
</g>
</g>
<g id="xtick_248">
<g id="line2d_283">
<path d="M 774.88 429.52 L 776.83 430.09 " style="fill: none; stroke: #000000; stroke-width: 0.8; stroke-linecap: square"/>
</g>
</g>
<g id="xtick_249">
<g id="line2d_284">
<path d="M 777.10 427.25 L 779.04 427.81 " style="fill: none; stroke: #000000; stroke-width: 0.8; stroke-linecap: square"/>
</g>
</g>
</g>
<g id="axis3d_36">
<g id="line2d_285">
<path d="M 780.93 424.17 L 783.66 364.58 " style="fill: none; stroke: #000000; stroke-width: 0.8; stroke-linecap: square"/>
</g>
<g id="xtick_250">
<g id="line2d_286">
<path d="M 780.34 422.84 L 782.27 423.40 " style="fill: none; stroke: #000000; stroke-width: 0.8; stroke-linecap: square"/>
</g>
<g id="text_34">
<text style="font-size: 10px; font-family: 'DejaVu Sans'; text-anchor: middle" x="796.83" y="428.37">−0.5</text>
</g>
</g>
<g id="xtick_251">
<g id="line2d_287">
<path d="M 781.57 395.68 L 783.54 396.22 " style="fill: none; stroke: #000000; stroke-width: 0.8; stroke-linecap: square"/>
</g>
<g id="text_35">
<text style="font-size: 10px; font-family: 'DejaVu Sans'; text-anchor: middle" x="798.39" y="401.29">0.0</text>
</g>
</g>
<g id="xtick_252">
<g id="line2d_288">
<path d="M 782.85 367.40 L 784.86 367.91 " style="fill: none; stroke: #000000; stroke-width: 0.8; stroke-linecap: square"/>
</g>
<g id="text_36">
<text style="font-size: 10px; font-family: 'DejaVu Sans'; text-anchor: middle" x="800.02" y="373.09">0.5</text>
</g>
</g>
</g>
<g id="axes_12">
<g class="b" stroke-width="0.38"><path d="M704.1 379.7 707.4 380.6 709.4 379 706.1 378.1z" fill="#65c88d" class="u"/><path d="M708.2 380.8 711.6 381.8 713.6 380.2 710.2 379.3z" fill="#65c88d" class="u"/><path d="M701.6 381.7 704.9 382.6 706.9 381 703.6 380.1z" fill="#63c88e" class="u"/><path d="M712.4 382 715.8 382.9 717.7 381.3 714.4 380.4z" fill="#65c88d" class="u"/><path d="M705.7 382.9 709.1 383.8 711.1 382.2 707.7 381.2z" fill="#63c88e" class="u"/><path d="M716.6 383.2 720 384.1 722 382.5 718.6 381.6z" fill="#62c88f" class="u"/><path d="M699 383.7 702.4 384.6 704.4 383 701.1 382.1z" fill="#65c88d" class="u"/><path d="M709.9 384 713.3 385 715.3 383.3 711.9 382.4z" fill="#65c88d" class="u"/><path d="M720.9 384.3 724.3 385.3 726.2 383.7 722.8 382.7z" fill="#65c88d" class="u"/><path d="M703.2 384.9 706.6 385.8 708.6 384.2 705.2 383.3z" fill="#63c88e" class="u"/><path d="M714.2 385.2 717.6 386.1 719.5 384.5 716.1 383.6z" fill="#63c88e" class="u"/><path d="M725.1 385.5 728.5 386.5 730.5 384.8 727.1 383.9z" fill="#65c88d" class="u"/><path d="M696.5 385.7 699.8 386.7 701.9 385.1 698.5 384.1z" fill="#63c88e" class="u"/><path d="M707.4 386.1 710.8 387 712.8 385.4 709.4 384.4z" fill="#65c88d" class="u"/><path d="M718.4 386.4 721.8 387.3 723.8 385.7 720.4 384.7z" fill="#65c88d" class="u"/><path d="M729.4 386.7 732.8 387.6 734.8 386 731.3 385.1z" fill="#63c88e" class="u"/><path d="M700.7 386.9 704 387.9 706.1 386.2 702.7 385.3z" fill="#65c88d" class="u"/><path d="M711.7 387.3 715.1 388.2 717.1 386.6 713.7 385.6z" fill="#63c88e" class="u"/><path d="M722.7 387.6 726.1 388.5 728.1 386.9 724.6 385.9z" fill="#65c88d" class="u"/><path d="M693.9 387.8 697.3 388.8 699.3 387.1 696 386.2z" fill="#66c88c" class="u"/><path d="M733.7 387.9 737.2 388.8 739.1 387.2 735.6 386.2z" fill="#63c88e" class="u"/><path d="M704.9 388.1 708.3 389.1 710.3 387.4 706.9 386.5z" fill="#65c88d" class="u"/><path d="M715.9 388.4 719.4 389.4 721.3 387.7 717.9 386.8z" fill="#65c88d" class="u"/><path d="M727 388.8 730.4 389.7 732.4 388.1 728.9 387.1z" fill="#65c88d" class="u"/><path d="M698.1 389 701.5 390 703.5 388.3 700.2 387.3z" fill="#65c88d" class="u"/><path d="M738 389.1 741.5 390 743.4 388.4 739.9 387.4z" fill="#65c88d" class="u"/><path d="M709.1 389.3 712.6 390.3 714.6 388.6 711.2 387.7z" fill="#66c88c" class="u"/><path d="M720.2 389.6 723.7 390.6 725.6 388.9 722.2 388z" fill="#65c88d" class="u"/><path d="M704.4 388.5 707.8 389.5 707.8 386.7 704.4 385.8z" fill="#406945"/><path d="M691.3 389.9 694.7 390.8 696.7 389.2 693.4 388.2z" fill="#65c88d" class="u"/><path d="M731.3 390 734.8 390.9 736.7 389.3 733.2 388.3z" fill="#62c88f" class="u"/><path d="M702.3 390.2 704.4 388.5 704.4 385.8 702.3 387.4z" fill="#87df93"/><path d="M702.3 390.2 705.8 391.2 707.8 389.5 704.4 388.5z" fill="#518658"/><path d="M742.4 390.3 745.9 391.3 747.8 389.6 744.3 388.6z" fill="#66c88c" class="u"/><path d="M713.4 390.5 716.9 391.5 718.9 389.8 715.4 388.9z" fill="#60c890" class="u"/><path d="M724.5 390.8 728 391.8 729.9 390.1 726.5 389.2z" fill="#65c88d" class="u"/><path d="M702.3 387.4 705.7 388.4 707.8 386.7 704.4 385.8z" fill="#75c17f"/><path d="M695.5 391.1 698.9 392.1 701 390.4 697.6 389.4z" fill="#63c88e" class="u"/><path d="M705.8 391.2 707.8 389.5 707.8 386.7 705.7 388.4z" fill="#406945"/><path d="M735.6 391.2 739.1 392.1 741 390.5 737.6 389.5z" fill="#63c88e" class="u"/><path d="M706.6 391.4 710 392.4 712.1 390.7 708.6 389.7z" fill="#63c88e" class="u"/><path d="M702.3 390.2 705.8 391.2 705.7 388.4 702.3 387.4z" fill="#87df93"/><path d="M746.8 391.5 750.3 392.5 752.2 390.8 748.6 389.8z" fill="#65c88d" class="u"/><path d="M717.7 391.7 721.2 392.7 723.2 391 719.7 390.1z" fill="#63c88e" class="u"/><path d="M688.6 392 692 392.9 694.1 391.3 690.8 390.3z" fill="#65c88d" class="u"/><path d="M728.9 392.1 732.3 393 734.3 391.3 730.8 390.4z" fill="#62c88f" class="u"/><path d="M699.8 392.3 703.2 393.3 705.2 391.6 701.8 390.6z" fill="#65c88d" class="u"/><path d="M740 392.4 743.5 393.4 745.4 391.7 741.9 390.7z" fill="#63c88e" class="u"/><path d="M710.9 392.6 714.3 393.6 716.4 391.9 712.9 390.9z" fill="#65c88d" class="u"/><path d="M724 391.3 727.5 392.2 727.5 388.9 724 388z" fill="#426844"/><path d="M751.2 392.7 754.7 393.7 756.6 392 753 391z" fill="#62c88f" class="u"/><path d="M722 393 725.5 393.9 727.5 392.2 724 391.3z" fill="#558657"/><path d="M722 393 724 391.3 724 388 722 389.6z" fill="#8cdd8f"/><path d="M692.9 393.2 696.3 394.2 698.4 392.5 695 391.5z" fill="#65c88d" class="u"/><path d="M733.2 393.3 736.7 394.3 738.6 392.6 735.1 391.6z" fill="#63c88e" class="u"/><path d="M704 393.5 707.5 394.5 709.5 392.8 706.1 391.8z" fill="#66c88c" class="u"/><path d="M744.4 393.6 747.9 394.6 749.8 392.9 746.3 391.9z" fill="#65c88d" class="u"/><path d="M728.4 392.5 731.8 393.5 731.9 390.7 728.4 389.7z" fill="#406945"/><path d="M715.2 393.8 718.7 394.8 720.7 393.1 717.2 392.2z" fill="#62c88f" class="u"/><path d="M755.6 393.9 759.1 394.9 761 393.2 757.4 392.2z" fill="#65c88d" class="u"/><path d="M725.5 393.9 727.5 392.2 727.5 388.9 725.5 390.6z" fill="#426844"/><path d="M722 389.6 725.5 390.6 727.5 388.9 724 388z" fill="#7ac07c"/><path d="M686 394.1 689.4 395.1 691.5 393.4 688.1 392.4z" fill="#63c88e" class="u"/><path d="M739.5 392.8 743 393.8 743.1 391 739.6 390z" fill="#406945"/><path d="M726.4 394.2 728.4 392.5 728.4 389.7 726.4 391.4z" fill="#87df93"/><path d="M726.4 394.2 729.9 395.2 731.8 393.5 728.4 392.5z" fill="#518658"/><path d="M722 393 725.5 393.9 725.5 390.6 722 389.6z" fill="#8cdd8f"/><path d="M697.2 394.4 700.6 395.4 702.7 393.7 699.2 392.7z" fill="#66c88c" class="u"/><path d="M737.6 394.5 739.5 392.8 739.6 390 737.6 391.7z" fill="#87df93"/><path d="M737.6 394.5 741.1 395.5 743 393.8 739.5 392.8z" fill="#518658"/><path d="M708.3 394.7 711.8 395.7 713.8 394 710.4 393z" fill="#65c88d" class="u"/><path d="M748.8 394.8 752.4 395.8 754.2 394.1 750.7 393.1z" fill="#66c88c" class="u"/><path d="M726.4 391.4 729.9 392.4 731.9 390.7 728.4 389.7z" fill="#75c17f"/><path d="M719.5 395.1 723 396.1 725 394.4 721.5 393.4z" fill="#68c88b" class="u"/><path d="M729.9 395.2 731.8 393.5 731.9 390.7 729.9 392.4z" fill="#406945"/><path d="M760 395.2 763.6 396.2 765.5 394.4 761.9 393.5z" fill="#65c88d" class="u"/><path d="M690.2 395.3 693.7 396.3 695.8 394.6 692.4 393.6z" fill="#63c88e" class="u"/><path d="M737.6 391.7 741.2 392.7 743.1 391 739.6 390z" fill="#75c17f"/><path d="M730.8 395.4 734.3 396.4 736.2 394.7 732.7 393.7z" fill="#63c88e" class="u"/><path d="M741.1 395.5 743 393.8 743.1 391 741.2 392.7z" fill="#406945"/><path d="M726.4 394.2 729.9 395.2 729.9 392.4 726.4 391.4z" fill="#87df93"/><path d="M701.4 395.6 704.9 396.6 707 394.9 703.5 393.9z" fill="#63c88e" class="u"/><path d="M742 395.7 745.5 396.7 747.4 395 743.9 394z" fill="#66c88c" class="u"/><path d="M737.6 394.5 741.1 395.5 741.2 392.7 737.6 391.7z" fill="#87df93"/><path d="M712.7 396 716.1 397 718.2 395.3 714.7 394.3z" fill="#866336"/><path d="M753.2 396.1 756.8 397.1 758.7 395.3 755.1 394.4z" fill="#65c88d" class="u"/><path d="M683.3 396.2 686.7 397.2 688.9 395.5 685.5 394.5z" fill="#63c88e" class="u"/><path d="M723.9 396.3 727.4 397.3 729.4 395.6 725.9 394.6z" fill="#62c88f" class="u"/><path d="M764.5 396.4 768.1 397.4 769.9 395.7 766.3 394.7z" fill="#62c88f" class="u"/><path d="M694.5 396.6 698 397.5 700.1 395.8 696.6 394.8z" fill="#65c88d" class="u"/><path d="M735.2 396.6 738.7 397.6 740.6 395.9 737.1 394.9z" fill="#68c88b" class="u"/><path d="M705.8 396.9 709.2 397.9 711.3 396.2 707.8 395.2z" fill="#58c794" class="u"/><path d="M746.4 397 750 398 751.9 396.2 748.3 395.3z" fill="#65c88d" class="u"/><path d="M717 397.2 720.5 398.2 722.5 396.5 719 395.5z" fill="#63c88e" class="u"/><path d="M714.7 394.3 718.2 395.3 718.1 381.8 714.6 380.9z" fill="#684d2a"/><path d="M757.7 397.3 761.3 398.3 763.2 396.6 759.6 395.6z" fill="#62c88f" class="u"/><path d="M700.9 396.1 704.4 397.1 704.3 394.3 700.9 393.3z" fill="#406945"/><path d="M687.6 397.5 691 398.5 693.1 396.7 689.7 395.7z" fill="#62c88f" class="u"/><path d="M728.3 397.6 731.8 398.6 733.8 396.8 730.3 395.8z" fill="#63c88e" class="u"/><path d="M769 397.6 772.6 398.6 774.4 396.9 770.8 395.9z" fill="#62c88f" class="u"/><path d="M712.7 396 714.7 394.3 714.6 380.9 712.6 382.5z" fill="#dda459"/><path d="M698.8 397.8 700.9 396.1 700.9 393.3 698.8 395z" fill="#87df93"/><path d="M698.8 397.8 702.3 398.8 704.4 397.1 700.9 396.1z" fill="#518658"/><path d="M739.6 397.9 743.1 398.9 745.1 397.2 741.5 396.2z" fill="#66c88c" class="u"/><path d="M710.1 398.1 713.6 399.1 715.6 397.4 712.2 396.4z" fill="#65c88d" class="u"/><path d="M750.9 398.2 754.5 399.2 756.3 397.5 752.8 396.5z" fill="#66c88c" class="u"/><path d="M680.6 398.4 684 399.4 686.2 397.6 682.8 396.7z" fill="#66c88c" class="u"/><path d="M721.4 398.5 724.9 399.5 726.9 397.7 723.4 396.7z" fill="#62c88f" class="u"/><path d="M762.2 398.6 765.8 399.6 767.6 397.8 764 396.8z" fill="#63c88e" class="u"/><path d="M716.1 397 718.2 395.3 718.1 381.8 716.1 383.5z" fill="#684d2a"/><path d="M698.8 395 702.3 396 704.3 394.3 700.9 393.3z" fill="#75c17f"/><path d="M691.9 398.7 695.3 399.7 697.4 398 694 397z" fill="#63c88e" class="u"/><path d="M702.3 398.8 704.4 397.1 704.3 394.3 702.3 396z" fill="#406945"/><path d="M732.7 398.8 736.2 399.8 738.2 398.1 734.7 397.1z" fill="#66c88c" class="u"/><path d="M712.7 396 716.1 397 716.1 383.5 712.6 382.5z" fill="#dda459"/><path d="M703.2 399 706.6 400.1 708.7 398.3 705.2 397.3z" fill="#65c88d" class="u"/><path d="M698.8 397.8 702.3 398.8 702.3 396 698.8 395z" fill="#87df93"/><path d="M744 399.1 747.6 400.1 749.5 398.4 745.9 397.4z" fill="#63c88e" class="u"/><path d="M714.5 399.4 718 400.4 720 398.7 716.5 397.7z" fill="#65c88d" class="u"/><path d="M755.4 399.5 759 400.5 760.8 398.7 757.2 397.7z" fill="#65c88d" class="u"/><path d="M684.9 399.6 688.3 400.6 690.5 398.9 687 397.9z" fill="#63c88e" class="u"/><path d="M725.8 399.7 729.3 400.7 731.3 399 727.8 398z" fill="#65c88d" class="u"/><path d="M766.7 399.8 770.3 400.8 772.2 399.1 768.6 398.1z" fill="#62c88f" class="u"/><path d="M696.2 400 699.7 401 701.8 399.2 698.3 398.2z" fill="#65c88d" class="u"/><path d="M737.1 400.1 740.7 401.1 742.6 399.3 739.1 398.3z" fill="#63c88e" class="u"/><path d="M707.5 400.3 711 401.3 713.1 399.6 709.6 398.6z" fill="#63c88e" class="u"/><path d="M712.6 382.5 716.1 383.5 718.1 381.8 714.6 380.9z" fill="#c08e4d"/><path d="M748.5 400.4 752.1 401.4 754 399.7 750.4 398.7z" fill="#65c88d" class="u"/><path d="M677.9 400.6 681.3 401.6 683.5 399.8 680.1 398.8z" fill="#66c88c" class="u"/><path d="M718.9 400.6 722.4 401.7 724.4 399.9 720.9 398.9z" fill="#63c88e" class="u"/><path d="M759.9 400.7 763.5 401.7 765.3 400 761.7 399z" fill="#62c88f" class="u"/><path d="M689.2 400.9 692.7 401.9 694.8 400.2 691.3 399.1z" fill="#63c88e" class="u"/><path d="M730.2 401 733.8 402 735.7 400.2 732.2 399.2z" fill="#62c88f" class="u"/><path d="M700.5 401.2 704 402.2 706.1 400.5 702.6 399.5z" fill="#63c88e" class="u"/><path d="M741.6 401.3 745.2 402.3 747.1 400.6 743.5 399.6z" fill="#65c88d" class="u"/><path d="M711.9 401.6 715.4 402.6 717.5 400.8 714 399.8z" fill="#65c88d" class="u"/><path d="M753 401.7 756.6 402.7 758.5 400.9 754.9 399.9z" fill="#66c88c" class="u"/><path d="M682.2 401.8 685.6 402.8 687.8 401.1 684.3 400.1z" fill="#63c88e" class="u"/><path d="M723.3 401.9 726.8 402.9 728.8 401.2 725.3 400.2z" fill="#65c88d" class="u"/><path d="M764.4 402 768 403 769.9 401.3 766.2 400.2z" fill="#65c88d" class="u"/><path d="M693.5 402.2 697 403.2 699.1 401.4 695.7 400.4z" fill="#63c88e" class="u"/><path d="M734.7 402.3 738.2 403.3 740.2 401.5 736.6 400.5z" fill="#882613"/><path d="M704.9 402.5 708.4 403.5 710.5 401.8 707 400.7z" fill="#63c88e" class="u"/><path d="M746.1 402.6 749.7 403.6 751.6 401.8 748 400.8z" fill="#63c88e" class="u"/><path d="M675.1 402.8 678.5 403.8 680.8 402 677.3 401z" fill="#66c88c" class="u"/><path d="M716.3 402.8 719.8 403.9 721.9 402.1 718.3 401.1z" fill="#65c88d" class="u"/><path d="M757.5 402.9 761.1 404 763 402.2 759.4 401.2z" fill="#65c88d" class="u"/><path d="M686.5 403.1 690 404.1 692.1 402.3 688.7 401.3z" fill="#66c88c" class="u"/><path d="M727.7 403.2 731.3 404.2 733.3 402.4 729.7 401.4z" fill="#70c787" class="u"/><path d="M697.9 403.4 701.4 404.5 703.5 402.7 700 401.7z" fill="#66c88c" class="u"/><path d="M739.1 403.5 742.7 404.6 744.7 402.8 741.1 401.8z" fill="#63c88e" class="u"/><path d="M709.3 403.8 712.8 404.8 714.9 403 711.4 402z" fill="#63c88e" class="u"/><path d="M750.6 403.9 754.2 404.9 756.1 403.1 752.5 402.1z" fill="#65c88d" class="u"/><path d="M679.4 404 682.9 405.1 685.1 403.3 681.6 402.3z" fill="#66c88c" class="u"/><path d="M720.7 404.1 724.3 405.2 726.3 403.4 722.8 402.4z" fill="#63c88e" class="u"/><path d="M762 404.2 765.7 405.2 767.6 403.5 763.9 402.4z" fill="#65c88d" class="u"/><path d="M690.8 404.4 694.3 405.4 696.5 403.6 693 402.6z" fill="#63c88e" class="u"/><path d="M732.2 404.5 735.8 405.5 737.7 403.7 734.2 402.7z" fill="#62c88f" class="u"/><path d="M702.3 404.7 705.8 405.8 707.9 404 704.4 402.9z" fill="#63c88e" class="u"/><path d="M743.6 404.8 747.3 405.8 749.2 404.1 745.6 403z" fill="#66c88c" class="u"/><path d="M672.3 405 675.8 406 678 404.2 674.5 403.2z" fill="#63c88e" class="u"/><path d="M713.7 405.1 717.3 406.1 719.3 404.3 715.8 403.3z" fill="#60c890" class="u"/><path d="M755.1 405.2 758.8 406.2 760.7 404.4 757 403.4z" fill="#66c88c" class="u"/><path d="M736.6 400.5 740.2 401.5 740.6 378.2 736.9 377.2z" fill="#6a1e0f"/><path d="M683.7 405.3 687.2 406.4 689.4 404.6 685.9 403.5z" fill="#62c88f" class="u"/><path d="M725.2 405.4 728.8 406.4 730.8 404.7 727.2 403.6z" fill="#65c88d" class="u"/><path d="M734.7 402.3 736.6 400.5 736.9 377.2 734.9 378.9z" fill="#e13f20"/><path d="M695.2 405.7 698.7 406.7 700.8 404.9 697.3 403.9z" fill="#63c88e" class="u"/><path d="M736.7 405.8 740.3 406.8 742.2 405 738.6 404z" fill="#66c88c" class="u"/><path d="M706.7 406 710.2 407 712.3 405.3 708.8 404.2z" fill="#6ec788" class="u"/><path d="M748.2 406.1 751.8 407.1 753.7 405.3 750.1 404.3z" fill="#66c88c" class="u"/><path d="M676.6 406.3 680.1 407.3 682.3 405.5 678.9 404.5z" fill="#65c88d" class="u"/><path d="M718.1 406.4 721.7 407.4 723.8 405.6 720.2 404.6z" fill="#65c88d" class="u"/><path d="M759.7 406.5 763.3 407.5 765.2 405.7 761.6 404.7z" fill="#62c88f" class="u"/><path d="M688.1 406.6 691.6 407.7 693.8 405.9 690.3 404.8z" fill="#63c88e" class="u"/><path d="M738.2 403.3 740.2 401.5 740.6 378.2 738.6 379.9z" fill="#6a1e0f"/><path d="M729.7 406.7 733.3 407.7 735.3 405.9 731.7 404.9z" fill="#65c88d" class="u"/><path d="M699.6 407 703.1 408 705.3 406.2 701.7 405.2z" fill="#882111"/><path d="M734.7 402.3 738.2 403.3 738.6 379.9 734.9 378.9z" fill="#e13f20"/><path d="M741.2 407.1 744.8 408.1 746.8 406.3 743.1 405.3z" fill="#68c88b" class="u"/><path d="M669.5 407.2 673 408.3 675.2 406.5 671.8 405.4z" fill="#65c88d" class="u"/><path d="M711.1 407.3 714.7 408.4 716.7 406.5 713.2 405.5z" fill="#63c88e" class="u"/><path d="M752.7 407.4 756.4 408.4 758.3 406.6 754.6 405.6z" fill="#65c88d" class="u"/><path d="M681 407.6 684.5 408.6 686.7 406.8 683.2 405.8z" fill="#63c88e" class="u"/><path d="M722.6 407.7 726.2 408.7 728.2 406.9 724.7 405.9z" fill="#63c88e" class="u"/><path d="M692.5 407.9 696 409 698.2 407.2 694.7 406.1z" fill="#65c88d" class="u"/><path d="M747.7 406.6 751.3 407.6 751.4 404.8 747.7 403.7z" fill="#406945"/><path d="M734.2 408 737.8 409.1 739.8 407.2 736.2 406.2z" fill="#63c88e" class="u"/><path d="M704 408.3 707.6 409.3 709.7 407.5 706.1 406.5z" fill="#63c88e" class="u"/><path d="M745.7 408.4 747.7 406.6 747.7 403.7 745.8 405.5z" fill="#87df93"/><path d="M745.7 408.4 749.4 409.4 751.3 407.6 747.7 406.6z" fill="#518658"/><path d="M673.8 408.5 677.3 409.6 679.6 407.8 676.1 406.7z" fill="#63c88e" class="u"/><path d="M715.6 408.6 719.1 409.7 721.2 407.8 717.6 406.8z" fill="#65c88d" class="u"/><path d="M757.3 408.7 761 409.8 762.9 407.9 759.2 406.9z" fill="#65c88d" class="u"/><path d="M685.4 408.9 688.9 409.9 691.1 408.1 687.6 407.1z" fill="#65c88d" class="u"/><path d="M727.1 409 730.7 410 732.7 408.2 729.1 407.2z" fill="#62c88f" class="u"/><path d="M696.9 409.2 700.4 410.3 702.6 408.5 699.1 407.4z" fill="#63c88e" class="u"/><path d="M745.8 405.5 749.4 406.6 751.4 404.8 747.7 403.7z" fill="#75c17f"/><path d="M738.7 409.3 742.3 410.4 744.3 408.5 740.7 407.5z" fill="#63c88e" class="u"/><path d="M749.4 409.4 751.3 407.6 751.4 404.8 749.4 406.6z" fill="#406945"/><path d="M666.7 409.5 670.1 410.5 672.4 408.7 668.9 407.7z" fill="#63c88e" class="u"/><path d="M708.5 409.6 712 410.6 714.1 408.8 710.6 407.8z" fill="#63c88e" class="u"/><path d="M750.3 409.7 754 410.7 755.9 408.9 752.2 407.9z" fill="#63c88e" class="u"/><path d="M745.7 408.4 749.4 409.4 749.4 406.6 745.8 405.5z" fill="#87df93"/><path d="M678.2 409.8 681.7 410.9 683.9 409.1 680.4 408z" fill="#66c88c" class="u"/><path d="M720 409.9 723.6 411 725.7 409.2 722.1 408.1z" fill="#65c88d" class="u"/><path d="M734.9 378.9 738.6 379.9 740.6 378.2 736.9 377.2z" fill="#c4371c"/><path d="M701.7 405.2 705.3 406.2 705 382.1 701.4 381.1z" fill="#6a1a0d"/><path d="M689.8 410.2 693.3 411.2 695.5 409.4 691.9 408.4z" fill="#63c88e" class="u"/><path d="M731.6 410.3 735.3 411.3 737.3 409.5 733.7 408.5z" fill="#62c88f" class="u"/><path d="M699.6 407 701.7 405.2 701.4 381.1 699.2 382.9z" fill="#e1371c"/><path d="M701.3 410.5 704.9 411.6 707 409.8 703.5 408.7z" fill="#66c88c" class="u"/><path d="M743.2 410.6 746.9 411.7 748.9 409.9 745.2 408.8z" fill="#63c88e" class="u"/><path d="M671 410.8 674.5 411.9 676.8 410 673.3 409z" fill="#63c88e" class="u"/><path d="M712.9 410.9 716.5 412 718.6 410.1 715 409.1z" fill="#63c88e" class="u"/><path d="M754.9 411 758.6 412 760.5 410.2 756.8 409.2z" fill="#66c88c" class="u"/><path d="M682.6 411.2 686.1 412.2 688.3 410.4 684.8 409.3z" fill="#63c88e" class="u"/><path d="M738.2 409.8 741.8 410.8 741.9 408 738.2 406.9z" fill="#406945"/><path d="M724.5 411.2 728.2 412.3 730.2 410.5 726.6 409.4z" fill="#63c88e" class="u"/><path d="M694.2 411.5 697.7 412.6 699.9 410.7 696.4 409.7z" fill="#63c88e" class="u"/><path d="M703.1 408 705.3 406.2 705 382.1 702.8 383.9z" fill="#6a1a0d"/><path d="M736.2 411.6 738.2 409.8 738.2 406.9 736.2 408.8z" fill="#87df93"/><path d="M736.2 411.6 739.8 412.7 741.8 410.8 738.2 409.8z" fill="#518658"/><path d="M663.8 411.8 667.3 412.8 669.6 411 666.1 409.9z" fill="#65c88d" class="u"/><path d="M705.8 411.9 709.4 412.9 711.5 411.1 707.9 410z" fill="#63c88e" class="u"/><path d="M699.6 407 703.1 408 702.8 383.9 699.2 382.9z" fill="#e1371c"/><path d="M747.8 412 751.5 413 753.5 411.2 749.8 410.1z" fill="#63c88e" class="u"/><path d="M675.4 412.1 678.9 413.2 681.1 411.3 677.6 410.3z" fill="#63c88e" class="u"/><path d="M717.4 412.2 721 413.3 723.1 411.4 719.5 410.4z" fill="#65c88d" class="u"/><path d="M687 412.5 690.5 413.5 692.7 411.7 689.2 410.6z" fill="#62c88f" class="u"/><path d="M736.2 408.8 739.9 409.8 741.9 408 738.2 406.9z" fill="#75c17f"/><path d="M729.1 412.6 732.7 413.6 734.8 411.8 731.1 410.7z" fill="#68c88b" class="u"/><path d="M739.8 412.7 741.8 410.8 741.9 408 739.9 409.8z" fill="#406945"/><path d="M698.6 412.8 702.2 413.9 704.4 412.1 700.8 411z" fill="#63c88e" class="u"/><path d="M740.7 412.9 744.4 414 746.4 412.2 742.7 411.1z" fill="#62c88f" class="u"/><path d="M736.2 411.6 739.8 412.7 739.9 409.8 736.2 408.8z" fill="#87df93"/><path d="M668.1 413.1 671.7 414.2 673.9 412.3 670.4 411.3z" fill="#63c88e" class="u"/><path d="M710.3 413.2 713.9 414.3 716 412.4 712.4 411.4z" fill="#65c88d" class="u"/><path d="M752.4 413.3 756.1 414.4 758.1 412.5 754.4 411.4z" fill="#65c88d" class="u"/><path d="M679.8 413.5 683.3 414.5 685.6 412.7 682 411.6z" fill="#65c88d" class="u"/><path d="M721.9 413.6 725.6 414.6 727.7 412.8 724 411.7z" fill="#866336"/><path d="M735.7 412.1 739.3 413.1 739.4 409.7 735.7 408.6z" fill="#426844"/><path d="M691.4 413.8 695 414.9 697.2 413 693.6 412z" fill="#66c88c" class="u"/><path d="M733.6 413.9 737.3 415 739.3 413.1 735.7 412.1z" fill="#558657"/><path d="M733.6 413.9 735.7 412.1 735.7 408.6 733.7 410.5z" fill="#8cdd8f"/><path d="M703.1 414.2 706.7 415.2 708.8 413.4 705.3 412.3z" fill="#65c88d" class="u"/><path d="M745.3 414.3 749 415.3 751 413.5 747.3 412.4z" fill="#62c88f" class="u"/><path d="M672.5 414.4 676.1 415.5 678.3 413.7 674.8 412.6z" fill="#65c88d" class="u"/><path d="M714.8 414.5 718.4 415.6 720.5 413.7 716.9 412.7z" fill="#58c794" class="u"/><path d="M684.2 414.8 687.8 415.9 690 414 686.4 412.9z" fill="#66c88c" class="u"/><path d="M726.5 414.9 730.2 416 732.2 414.1 728.6 413z" fill="#62c88f" class="u"/><path d="M724 411.7 727.7 412.8 727.7 399 724.1 397.9z" fill="#684d2a"/><path d="M737.3 415 739.3 413.1 739.4 409.7 737.3 411.6z" fill="#426844"/><path d="M709.7 413.7 713.4 414.7 713.3 411.9 709.7 410.8z" fill="#406945"/><path d="M699.2 382.9 702.8 383.9 705 382.1 701.4 381.1z" fill="#c43018"/><path d="M733.7 410.5 737.3 411.6 739.4 409.7 735.7 408.6z" fill="#7ac07c"/><path d="M695.9 415.2 699.5 416.2 701.7 414.4 698.1 413.3z" fill="#63c88e" class="u"/><path d="M738.2 415.3 741.9 416.3 743.9 414.5 740.2 413.4z" fill="#65c88d" class="u"/><path d="M721.9 413.6 724 411.7 724.1 397.9 722 399.8z" fill="#dda459"/><path d="M733.6 413.9 737.3 415 737.3 411.6 733.7 410.5z" fill="#8cdd8f"/><path d="M707.6 415.5 709.7 413.7 709.7 410.8 707.6 412.7z" fill="#87df93"/><path d="M707.6 415.5 711.2 416.6 713.4 414.7 709.7 413.7z" fill="#518658"/><path d="M750 415.6 753.7 416.7 755.7 414.8 751.9 413.8z" fill="#63c88e" class="u"/><path d="M676.9 415.8 680.5 416.9 682.8 415 679.2 413.9z" fill="#63c88e" class="u"/><path d="M719.3 415.9 723 417 725.1 415.1 721.4 414z" fill="#65c88d" class="u"/><path d="M688.7 416.1 692.2 417.2 694.4 415.4 690.9 414.3z" fill="#63c88e" class="u"/><path d="M731.1 416.2 734.8 417.3 736.8 415.5 733.1 414.4z" fill="#63c88e" class="u"/><path d="M725.6 414.6 727.7 412.8 727.7 399 725.6 400.8z" fill="#684d2a"/><path d="M707.6 412.7 711.2 413.7 713.3 411.9 709.7 410.8z" fill="#75c17f"/><path d="M700.4 416.5 704 417.6 706.2 415.7 702.6 414.6z" fill="#63c88e" class="u"/><path d="M711.2 416.6 713.4 414.7 713.3 411.9 711.2 413.7z" fill="#406945"/><path d="M742.8 416.6 746.5 417.7 748.5 415.8 744.8 414.7z" fill="#65c88d" class="u"/><path d="M721.9 413.6 725.6 414.6 725.6 400.8 722 399.8z" fill="#dda459"/><path d="M712.1 416.9 715.8 418 717.9 416.1 714.3 415z" fill="#63c88e" class="u"/><path d="M707.6 415.5 711.2 416.6 711.2 413.7 707.6 412.7z" fill="#87df93"/><path d="M681.4 417.1 685 418.2 687.2 416.3 683.6 415.3z" fill="#66c88c" class="u"/><path d="M723.9 417.2 727.6 418.3 729.6 416.4 726 415.4z" fill="#65c88d" class="u"/><path d="M693.1 417.5 696.7 418.6 698.9 416.7 695.3 415.6z" fill="#63c88e" class="u"/><path d="M735.7 417.6 739.4 418.7 741.4 416.8 737.7 415.7z" fill="#65c88d" class="u"/><path d="M704.9 417.9 708.5 419 710.7 417.1 707.1 416z" fill="#65c88d" class="u"/><path d="M747.5 418 751.2 419.1 753.2 417.2 749.5 416.1z" fill="#63c88e" class="u"/><path d="M716.7 418.2 720.3 419.3 722.5 417.4 718.8 416.3z" fill="#66c88c" class="u"/><path d="M722 399.8 725.6 400.8 727.7 399 724.1 397.9z" fill="#c08e4d"/><path d="M685.9 418.5 689.4 419.6 691.7 417.7 688.1 416.6z" fill="#66c88c" class="u"/><path d="M728.5 418.6 732.2 419.7 734.2 417.8 730.6 416.7z" fill="#60c890" class="u"/><path d="M697.6 418.9 701.3 420 703.4 418.1 699.8 417z" fill="#62c88f" class="u"/><path d="M740.3 419 744 420.1 746 418.2 742.3 417.1z" fill="#65c88d" class="u"/><path d="M709.4 419.2 713.1 420.3 715.2 418.4 711.6 417.3z" fill="#66c88c" class="u"/><path d="M721.3 419.6 724.9 420.7 727 418.8 723.4 417.7z" fill="#63c88e" class="u"/><path d="M690.3 419.9 694 421 696.2 419.1 692.6 418z" fill="#66c88c" class="u"/><path d="M733.1 420 736.8 421.1 738.9 419.2 735.2 418.1z" fill="#65c88d" class="u"/><path d="M702.2 420.2 705.8 421.3 708 419.4 704.4 418.3z" fill="#63c88e" class="u"/><path d="M745 420.3 748.7 421.4 750.7 419.5 747 418.4z" fill="#65c88d" class="u"/><path d="M714 420.6 717.7 421.7 719.8 419.8 716.2 418.7z" fill="#65c88d" class="u"/><path d="M725.9 421 729.6 422.1 731.7 420.2 728 419.1z" fill="#66c88c" class="u"/><path d="M694.9 421.2 698.5 422.4 700.7 420.4 697.1 419.3z" fill="#63c88e" class="u"/><path d="M737.8 421.3 741.5 422.5 743.5 420.5 739.8 419.4z" fill="#65c88d" class="u"/><path d="M720.7 420.1 724.4 421.2 724.4 418.3 720.7 417.2z" fill="#406945"/><path d="M706.7 421.6 710.4 422.7 712.6 420.8 708.9 419.7z" fill="#65c88d" class="u"/><path d="M718.6 422 720.7 420.1 720.7 417.2 718.6 419.1z" fill="#87df93"/><path d="M718.6 422 722.3 423.1 724.4 421.2 720.7 420.1z" fill="#518658"/><path d="M730.5 422.4 734.2 423.5 736.3 421.6 732.6 420.4z" fill="#63c88e" class="u"/><path d="M699.4 422.6 703.1 423.8 705.3 421.8 701.6 420.7z" fill="#63c88e" class="u"/><path d="M742.4 422.7 746.2 423.9 748.2 421.9 744.5 420.8z" fill="#65c88d" class="u"/><path d="M718.6 419.1 722.3 420.2 724.4 418.3 720.7 417.2z" fill="#75c17f"/><path d="M711.3 423 715 424.1 717.1 422.2 713.5 421.1z" fill="#63c88e" class="u"/><path d="M722.3 423.1 724.4 421.2 724.4 418.3 722.3 420.2z" fill="#406945"/><path d="M723.2 423.4 726.9 424.5 729.1 422.6 725.3 421.5z" fill="#65c88d" class="u"/><path d="M718.6 422 722.3 423.1 722.3 420.2 718.6 419.1z" fill="#87df93"/><path d="M735.2 423.8 738.9 424.9 741 422.9 737.2 421.8z" fill="#63c88e" class="u"/><path d="M704 424 707.7 425.2 709.8 423.2 706.2 422.1z" fill="#65c88d" class="u"/><path d="M715.9 424.4 719.6 425.5 721.8 423.6 718.1 422.5z" fill="#65c88d" class="u"/><path d="M727.9 424.8 731.6 425.9 733.7 424 730 422.8z" fill="#65c88d" class="u"/><path d="M739.9 425.2 743.6 426.3 745.7 424.3 741.9 423.2z" fill="#62c88f" class="u"/><path d="M708.6 425.4 712.3 426.6 714.5 424.6 710.8 423.5z" fill="#65c88d" class="u"/><path d="M720.6 425.8 724.3 426.9 726.4 425 722.7 423.9z" fill="#65c88d" class="u"/><path d="M732.6 426.2 736.3 427.3 738.4 425.4 734.6 424.2z" fill="#65c88d" class="u"/><path d="M713.2 426.8 716.9 428 719.1 426 715.4 424.9z" fill="#66c88c" class="u"/><path d="M725.2 427.2 729 428.4 731.1 426.4 727.4 425.3z" fill="#63c88e" class="u"/><path d="M737.3 427.6 741.1 428.7 743.1 426.8 739.3 425.6z" fill="#65c88d" class="u"/><path d="M717.9 428.3 721.6 429.4 723.8 427.4 720 426.3z" fill="#63c88e" class="u"/><path d="M729.9 428.6 733.7 429.8 735.8 427.8 732 426.7z" fill="#63c88e" class="u"/><path d="M722.5 429.7 726.3 430.8 728.5 428.9 724.7 427.7z" fill="#65c88d" class="u"/><path d="M734.6 430.1 738.4 431.2 740.5 429.2 736.7 428.1z" fill="#65c88d" class="u"/><path d="M727.3 431.1 731 432.3 733.2 430.3 729.4 429.1z" fill="#63c88e" class="u"/><path d="M732 432.6 735.8 433.7 737.9 431.7 734.1 430.6z" fill="#65c88d" class="u"/></g>
</g>
</g>
<defs>
<clipPath id="p6982187ca2">
<rect x="19.86" y="-9.90" width="144.29" height="144.29"/>
</clipPath>
<clipPath id="p16b1e6043d">
<rect x="228.55" y="-9.90" width="144.29" height="144.29"/>
</clipPath>
<clipPath id="p068d5945bd">
<rect x="437.23" y="-9.90" width="144.29" height="144.29"/>
</clipPath>
<clipPath id="peeb5e53182">
<rect x="645.92" y="-9.90" width="144.29" height="144.29"/>
</clipPath>
<clipPath id="pfbf3230e6c">
<rect x="19.86" y="161.63" width="144.29" height="144.29"/>
</clipPath>
<clipPath id="p62ddffdbbc">
<rect x="228.55" y="161.63" width="144.29" height="144.29"/>
</clipPath>
<clipPath id="p8206651353">
<rect x="437.23" y="161.63" width="144.29" height="144.29"/>
</clipPath>
<clipPath id="pe3f21a732f">
<rect x="645.92" y="161.63" width="144.29" height="144.29"/>
</clipPath>
<clipPath id="p18d956c9d5">
<rect x="19.86" y="333.17" width="144.29" height="144.29"/>
</clipPath>
<clipPath id="pc1bb1c99d4">
<rect x="228.55" y="333.17" width="144.29" height="144.29"/>
</clipPath>
<clipPath id="pf8a1ce97ad">
<rect x="437.23" y="333.17" width="144.29" height="144.29"/>
</clipPath>
<clipPath id="p4b41aabd41">
<rect x="645.92" y="333.17" width="144.29" height="144.29"/>
</clipPath>
</defs>
<g transform="scale(1.26)" font-size="8" fill="#000">
<text x="29.0" y="92.9" text-anchor="middle">|<tspan dx="0.5">00</tspan><tspan dx="0.6">⟩</tspan></text>
<text x="74.0" y="108.1" text-anchor="middle">|<tspan dx="0.5">11</tspan><tspan dx="0.6">⟩</tspan></text>
<text x="105.9" y="98.5" text-anchor="middle">|<tspan dx="0.5">00</tspan><tspan dx="0.6">⟩</tspan></text>
<text x="127.0" y="77.3" text-anchor="middle">|<tspan dx="0.5">11</tspan><tspan dx="0.6">⟩</tspan></text>
<text transform="translate(49.0 97.0) rotate(22)" y="0.5" text-anchor="middle">...</text>
<text transform="translate(114.6 85.2) rotate(-45)" y="0.5" text-anchor="middle">...</text>
<text x="41.1" y="111.6" text-anchor="middle" font-style="oblique">i</text>
<text x="126.9" y="93.7" text-anchor="middle" font-style="oblique">j</text>
<text x="102.40" y="6.90" font-size="8.3">Re[<tspan x="116.51" font-style="oblique">ρ</tspan><tspan x="122.16" y="3.83" font-size="6.14">m</tspan><tspan x="121.78" y="9.56" font-size="6.14">Ψ</tspan><tspan x="126.72" y="7.23" font-size="4.32">+</tspan><tspan x="130.54" y="6.90">]</tspan></text>
<text x="25.4" y="13.7" font-weight="bold" font-size="8.3">a</text>
<text x="191.7" y="92.7" text-anchor="middle">|<tspan dx="0.5">000</tspan><tspan dx="0.6">⟩</tspan></text>
<text x="242.9" y="110.6" text-anchor="middle">|<tspan dx="0.5">111</tspan><tspan dx="0.6">⟩</tspan></text>
<text x="276.4" y="98.2" text-anchor="middle">|<tspan dx="0.5">000</tspan><tspan dx="0.6">⟩</tspan></text>
<text x="297.6" y="76.2" text-anchor="middle">|<tspan dx="0.5">111</tspan><tspan dx="0.6">⟩</tspan></text>
<text transform="translate(212.7 97.7) rotate(22)" y="0.5" text-anchor="middle">...</text>
<text transform="translate(282.5 84.0) rotate(-45)" y="0.5" text-anchor="middle">...</text>
<text x="205.9" y="111.2" text-anchor="middle" font-style="oblique">i</text>
<text x="295.4" y="91.4" text-anchor="middle" font-style="oblique">j</text>
<text x="265.90" y="6.90" font-size="8.3">Re[<tspan x="280.01" font-style="oblique">ρ</tspan><tspan x="285.66" y="3.83" font-size="6.14">m</tspan><tspan x="285.28" y="9.56" font-size="6.14">GHZ</tspan><tspan x="299.02" y="10.55" font-size="4.32">3</tspan><tspan x="302.09" y="6.90">]</tspan></text>
<text x="192.2" y="13.0" font-weight="bold" font-size="8.3">b</text>
<text x="356.7" y="92.7" text-anchor="middle">|<tspan dx="0.5">000</tspan><tspan dx="0.6">⟩</tspan></text>
<text x="407.9" y="110.6" text-anchor="middle">|<tspan dx="0.5">111</tspan><tspan dx="0.6">⟩</tspan></text>
<text x="441.4" y="98.2" text-anchor="middle">|<tspan dx="0.5">000</tspan><tspan dx="0.6">⟩</tspan></text>
<text x="462.6" y="76.2" text-anchor="middle">|<tspan dx="0.5">111</tspan><tspan dx="0.6">⟩</tspan></text>
<text transform="translate(377.7 97.7) rotate(22)" y="0.5" text-anchor="middle">...</text>
<text transform="translate(447.5 84.0) rotate(-45)" y="0.5" text-anchor="middle">...</text>
<text x="370.9" y="111.2" text-anchor="middle" font-style="oblique">i</text>
<text x="460.4" y="91.4" text-anchor="middle" font-style="oblique">j</text>
<text x="431.30" y="6.90" font-size="8.3">Re[<tspan x="445.41" font-style="oblique">ρ</tspan><tspan x="451.06" y="3.83" font-size="6.14">m</tspan><tspan x="450.68" y="9.56" font-size="6.14">W</tspan><tspan x="456.86" y="10.55" font-size="4.32">3</tspan><tspan x="460.02" y="6.90">]</tspan></text>
<text x="357.4" y="13.1" font-weight="bold" font-size="8.3">c</text>
<text x="520.8" y="94.6" text-anchor="middle">|<tspan dx="0.5">0000</tspan><tspan dx="0.6">⟩</tspan></text>
<text x="571.6" y="112.3" text-anchor="middle">|<tspan dx="0.5">1111</tspan><tspan dx="0.6">⟩</tspan></text>
<text x="605.1" y="100.6" text-anchor="middle">|<tspan dx="0.5">0000</tspan><tspan dx="0.6">⟩</tspan></text>
<text x="627.2" y="77.6" text-anchor="middle">|<tspan dx="0.5">1111</tspan><tspan dx="0.6">⟩</tspan></text>
<text transform="translate(544.3 100.4) rotate(22)" y="0.5" text-anchor="middle">...</text>
<text transform="translate(607.6 85.1) rotate(-45)" y="0.5" text-anchor="middle">...</text>
<text x="537.7" y="112.2" text-anchor="middle" font-style="oblique">i</text>
<text x="629.1" y="93.5" text-anchor="middle" font-style="oblique">j</text>
<text x="601.60" y="6.90" font-size="8.3">Re[<tspan x="615.71" font-style="oblique">ρ</tspan><tspan x="621.36" y="3.83" font-size="6.14">m</tspan><tspan x="620.98" y="9.56" font-size="6.14">GHZ</tspan><tspan x="634.72" y="10.55" font-size="4.32">4</tspan><tspan x="637.79" y="6.90">]</tspan></text>
<text x="522.0" y="11.7" font-weight="bold" font-size="8.3">d</text>
<text transform="translate(6.9 60.0) rotate(-90)" font-size="8.4">Model</text>
<text x="29.0" y="228.9" text-anchor="middle">|<tspan dx="0.5">00</tspan><tspan dx="0.6">⟩</tspan></text>
<text x="74.0" y="244.1" text-anchor="middle">|<tspan dx="0.5">11</tspan><tspan dx="0.6">⟩</tspan></text>
<text x="105.9" y="234.5" text-anchor="middle">|<tspan dx="0.5">00</tspan><tspan dx="0.6">⟩</tspan></text>
<text x="127.0" y="213.3" text-anchor="middle">|<tspan dx="0.5">11</tspan><tspan dx="0.6">⟩</tspan></text>
<text transform="translate(49.0 233.0) rotate(22)" y="0.5" text-anchor="middle">...</text>
<text transform="translate(114.6 221.2) rotate(-45)" y="0.5" text-anchor="middle">...</text>
<text x="41.1" y="247.6" text-anchor="middle" font-style="oblique">i</text>
<text x="126.9" y="229.7" text-anchor="middle" font-style="oblique">j</text>
<text x="102.40" y="142.90" font-size="8.3">Re[<tspan x="116.51" font-style="oblique">ρ</tspan><tspan x="122.16" y="139.83" font-size="6.14">0</tspan><tspan x="121.78" y="145.56" font-size="6.14">Ψ</tspan><tspan x="126.72" y="143.23" font-size="4.32">+</tspan><tspan x="130.54" y="142.90">]</tspan></text>
<text x="25.4" y="149.7" font-weight="bold" font-size="8.3">e</text>
<text x="191.7" y="228.7" text-anchor="middle">|<tspan dx="0.5">000</tspan><tspan dx="0.6">⟩</tspan></text>
<text x="242.9" y="246.6" text-anchor="middle">|<tspan dx="0.5">111</tspan><tspan dx="0.6">⟩</tspan></text>
<text x="276.4" y="234.2" text-anchor="middle">|<tspan dx="0.5">000</tspan><tspan dx="0.6">⟩</tspan></text>
<text x="297.6" y="212.2" text-anchor="middle">|<tspan dx="0.5">111</tspan><tspan dx="0.6">⟩</tspan></text>
<text transform="translate(212.7 233.7) rotate(22)" y="0.5" text-anchor="middle">...</text>
<text transform="translate(282.5 220.0) rotate(-45)" y="0.5" text-anchor="middle">...</text>
<text x="205.9" y="247.2" text-anchor="middle" font-style="oblique">i</text>
<text x="295.4" y="227.4" text-anchor="middle" font-style="oblique">j</text>
<text x="265.90" y="142.90" font-size="8.3">Re[<tspan x="280.01" font-style="oblique">ρ</tspan><tspan x="285.66" y="139.83" font-size="6.14">0</tspan><tspan x="285.28" y="145.56" font-size="6.14">GHZ</tspan><tspan x="299.02" y="146.55" font-size="4.32">3</tspan><tspan x="302.09" y="142.90">]</tspan></text>
<text x="192.2" y="149.0" font-weight="bold" font-size="8.3">f</text>
<text x="356.7" y="228.7" text-anchor="middle">|<tspan dx="0.5">000</tspan><tspan dx="0.6">⟩</tspan></text>
<text x="407.9" y="246.6" text-anchor="middle">|<tspan dx="0.5">111</tspan><tspan dx="0.6">⟩</tspan></text>
<text x="441.4" y="234.2" text-anchor="middle">|<tspan dx="0.5">000</tspan><tspan dx="0.6">⟩</tspan></text>
<text x="462.6" y="212.2" text-anchor="middle">|<tspan dx="0.5">111</tspan><tspan dx="0.6">⟩</tspan></text>
<text transform="translate(377.7 233.7) rotate(22)" y="0.5" text-anchor="middle">...</text>
<text transform="translate(447.5 220.0) rotate(-45)" y="0.5" text-anchor="middle">...</text>
<text x="370.9" y="247.2" text-anchor="middle" font-style="oblique">i</text>
<text x="460.4" y="227.4" text-anchor="middle" font-style="oblique">j</text>
<text x="431.30" y="142.90" font-size="8.3">Re[<tspan x="445.41" font-style="oblique">ρ</tspan><tspan x="451.06" y="139.83" font-size="6.14">0</tspan><tspan x="450.68" y="145.56" font-size="6.14">W</tspan><tspan x="456.86" y="146.55" font-size="4.32">3</tspan><tspan x="460.02" y="142.90">]</tspan></text>
<text x="357.4" y="149.1" font-weight="bold" font-size="8.3">g</text>
<text x="520.8" y="230.6" text-anchor="middle">|<tspan dx="0.5">0000</tspan><tspan dx="0.6">⟩</tspan></text>
<text x="571.6" y="248.3" text-anchor="middle">|<tspan dx="0.5">1111</tspan><tspan dx="0.6">⟩</tspan></text>
<text x="605.1" y="236.6" text-anchor="middle">|<tspan dx="0.5">0000</tspan><tspan dx="0.6">⟩</tspan></text>
<text x="627.2" y="213.6" text-anchor="middle">|<tspan dx="0.5">1111</tspan><tspan dx="0.6">⟩</tspan></text>
<text transform="translate(544.3 236.4) rotate(22)" y="0.5" text-anchor="middle">...</text>
<text transform="translate(607.6 221.1) rotate(-45)" y="0.5" text-anchor="middle">...</text>
<text x="537.7" y="248.2" text-anchor="middle" font-style="oblique">i</text>
<text x="629.1" y="229.5" text-anchor="middle" font-style="oblique">j</text>
<text x="601.60" y="142.90" font-size="8.3">Re[<tspan x="615.71" font-style="oblique">ρ</tspan><tspan x="621.36" y="139.83" font-size="6.14">0</tspan><tspan x="620.98" y="145.56" font-size="6.14">GHZ</tspan><tspan x="634.72" y="146.55" font-size="4.32">4</tspan><tspan x="637.79" y="142.90">]</tspan></text>
<text x="522.0" y="147.7" font-weight="bold" font-size="8.3">h</text>
<text transform="translate(6.9 195.2) rotate(-90)" font-size="8.4">QST</text>
<text x="29.0" y="364.9" text-anchor="middle">|<tspan dx="0.5">00</tspan><tspan dx="0.6">⟩</tspan></text>
<text x="74.0" y="380.1" text-anchor="middle">|<tspan dx="0.5">11</tspan><tspan dx="0.6">⟩</tspan></text>
<text x="105.9" y="370.5" text-anchor="middle">|<tspan dx="0.5">00</tspan><tspan dx="0.6">⟩</tspan></text>
<text x="127.0" y="349.3" text-anchor="middle">|<tspan dx="0.5">11</tspan><tspan dx="0.6">⟩</tspan></text>
<text transform="translate(49.0 369.0) rotate(22)" y="0.5" text-anchor="middle">...</text>
<text transform="translate(114.6 357.2) rotate(-45)" y="0.5" text-anchor="middle">...</text>
<text x="41.1" y="383.6" text-anchor="middle" font-style="oblique">i</text>
<text x="126.9" y="365.7" text-anchor="middle" font-style="oblique">j</text>
<text x="102.40" y="278.90" font-size="8.3">Re[<tspan x="116.51" font-style="oblique">ρ</tspan><tspan x="122.16" y="275.83" font-size="6.14">t</tspan><tspan x="121.78" y="281.56" font-size="6.14">Ψ</tspan><tspan x="126.72" y="279.23" font-size="4.32">+</tspan><tspan x="130.54" y="278.90">]</tspan></text>
<text x="25.4" y="285.7" font-weight="bold" font-size="8.3">i</text>
<text x="191.7" y="364.7" text-anchor="middle">|<tspan dx="0.5">000</tspan><tspan dx="0.6">⟩</tspan></text>
<text x="242.9" y="382.6" text-anchor="middle">|<tspan dx="0.5">111</tspan><tspan dx="0.6">⟩</tspan></text>
<text x="276.4" y="370.2" text-anchor="middle">|<tspan dx="0.5">000</tspan><tspan dx="0.6">⟩</tspan></text>
<text x="297.6" y="348.2" text-anchor="middle">|<tspan dx="0.5">111</tspan><tspan dx="0.6">⟩</tspan></text>
<text transform="translate(212.7 369.7) rotate(22)" y="0.5" text-anchor="middle">...</text>
<text transform="translate(282.5 356.0) rotate(-45)" y="0.5" text-anchor="middle">...</text>
<text x="205.9" y="383.2" text-anchor="middle" font-style="oblique">i</text>
<text x="295.4" y="363.4" text-anchor="middle" font-style="oblique">j</text>
<text x="265.90" y="278.90" font-size="8.3">Re[<tspan x="280.01" font-style="oblique">ρ</tspan><tspan x="285.66" y="275.83" font-size="6.14">t</tspan><tspan x="285.28" y="281.56" font-size="6.14">GHZ</tspan><tspan x="299.02" y="282.55" font-size="4.32">3</tspan><tspan x="302.09" y="278.90">]</tspan></text>
<text x="192.2" y="285.0" font-weight="bold" font-size="8.3">j</text>
<text x="356.7" y="364.7" text-anchor="middle">|<tspan dx="0.5">000</tspan><tspan dx="0.6">⟩</tspan></text>
<text x="407.9" y="382.6" text-anchor="middle">|<tspan dx="0.5">111</tspan><tspan dx="0.6">⟩</tspan></text>
<text x="441.4" y="370.2" text-anchor="middle">|<tspan dx="0.5">000</tspan><tspan dx="0.6">⟩</tspan></text>
<text x="462.6" y="348.2" text-anchor="middle">|<tspan dx="0.5">111</tspan><tspan dx="0.6">⟩</tspan></text>
<text transform="translate(377.7 369.7) rotate(22)" y="0.5" text-anchor="middle">...</text>
<text transform="translate(447.5 356.0) rotate(-45)" y="0.5" text-anchor="middle">...</text>
<text x="370.9" y="383.2" text-anchor="middle" font-style="oblique">i</text>
<text x="460.4" y="363.4" text-anchor="middle" font-style="oblique">j</text>
<text x="431.30" y="278.90" font-size="8.3">Re[<tspan x="445.41" font-style="oblique">ρ</tspan><tspan x="451.06" y="275.83" font-size="6.14">t</tspan><tspan x="450.68" y="281.56" font-size="6.14">W</tspan><tspan x="456.86" y="282.55" font-size="4.32">3</tspan><tspan x="460.02" y="278.90">]</tspan></text>
<text x="357.4" y="285.1" font-weight="bold" font-size="8.3">k</text>
<text x="520.8" y="366.6" text-anchor="middle">|<tspan dx="0.5">0000</tspan><tspan dx="0.6">⟩</tspan></text>
<text x="571.6" y="384.3" text-anchor="middle">|<tspan dx="0.5">1111</tspan><tspan dx="0.6">⟩</tspan></text>
<text x="605.1" y="372.6" text-anchor="middle">|<tspan dx="0.5">0000</tspan><tspan dx="0.6">⟩</tspan></text>
<text x="627.2" y="349.6" text-anchor="middle">|<tspan dx="0.5">1111</tspan><tspan dx="0.6">⟩</tspan></text>
<text transform="translate(544.3 372.4) rotate(22)" y="0.5" text-anchor="middle">...</text>
<text transform="translate(607.6 357.1) rotate(-45)" y="0.5" text-anchor="middle">...</text>
<text x="537.7" y="384.2" text-anchor="middle" font-style="oblique">i</text>
<text x="629.1" y="365.5" text-anchor="middle" font-style="oblique">j</text>
<text x="601.60" y="278.90" font-size="8.3">Re[<tspan x="615.71" font-style="oblique">ρ</tspan><tspan x="621.36" y="275.83" font-size="6.14">t</tspan><tspan x="620.98" y="281.56" font-size="6.14">GHZ</tspan><tspan x="634.72" y="282.55" font-size="4.32">4</tspan><tspan x="637.79" y="278.90">]</tspan></text>
<text x="522.0" y="283.7" font-weight="bold" font-size="8.3">l</text>
<text transform="translate(6.9 330.5) rotate(-90)" font-size="8.4">tQST</text>
<defs><linearGradient id="cbg" x1="0" y1="0" x2="0" y2="1"><stop offset="0.00" stop-color="#ff0000"/><stop offset="0.03" stop-color="#ff160b"/><stop offset="0.06" stop-color="#ff2f18"/><stop offset="0.09" stop-color="#ff4724"/><stop offset="0.12" stop-color="#ff5f30"/><stop offset="0.15" stop-color="#ff763d"/><stop offset="0.18" stop-color="#ff8c49"/><stop offset="0.21" stop-color="#ffa055"/><stop offset="0.25" stop-color="#ffb360"/><stop offset="0.28" stop-color="#f0c46c"/><stop offset="0.31" stop-color="#e0d377"/><stop offset="0.34" stop-color="#d0e082"/><stop offset="0.37" stop-color="#c0eb8d"/><stop offset="0.40" stop-color="#b0f397"/><stop offset="0.43" stop-color="#a0faa1"/><stop offset="0.46" stop-color="#90feab"/><stop offset="0.50" stop-color="#80ffb4"/><stop offset="0.53" stop-color="#70febc"/><stop offset="0.56" stop-color="#60fac5"/><stop offset="0.59" stop-color="#50f4cc"/><stop offset="0.62" stop-color="#40ecd4"/><stop offset="0.65" stop-color="#30e1da"/><stop offset="0.68" stop-color="#20d5e1"/><stop offset="0.71" stop-color="#10c6e6"/><stop offset="0.75" stop-color="#00b5eb"/><stop offset="0.78" stop-color="#10a2f0"/><stop offset="0.81" stop-color="#208ef4"/><stop offset="0.84" stop-color="#3079f7"/><stop offset="0.87" stop-color="#4062fa"/><stop offset="0.90" stop-color="#504afc"/><stop offset="0.93" stop-color="#6032fe"/><stop offset="0.96" stop-color="#7019ff"/><stop offset="1.00" stop-color="#8000ff"/></linearGradient></defs>
<rect x="675.3" y="25.4" width="20" height="324.8" fill="url(#cbg)" stroke="#000" stroke-width="0.63"/>
<path d="M673.69 25.4H675.3" stroke="#000" stroke-width="0.63"/>
<text x="672.0" y="29.0" text-anchor="end">0.50</text>
<path d="M673.69 106.6H675.3" stroke="#000" stroke-width="0.63"/>
<text x="672.0" y="110.2" text-anchor="end">0.25</text>
<path d="M673.69 187.8H675.3" stroke="#000" stroke-width="0.63"/>
<text x="672.0" y="191.4" text-anchor="end">0.00</text>
<path d="M673.69 269.0H675.3" stroke="#000" stroke-width="0.63"/>
<text x="672.0" y="272.6" text-anchor="end">−0.25</text>
<path d="M673.69 350.2H675.3" stroke="#000" stroke-width="0.63"/>
<text x="672.0" y="353.8" text-anchor="end">−0.50</text>
</g></svg>

</body></html>
